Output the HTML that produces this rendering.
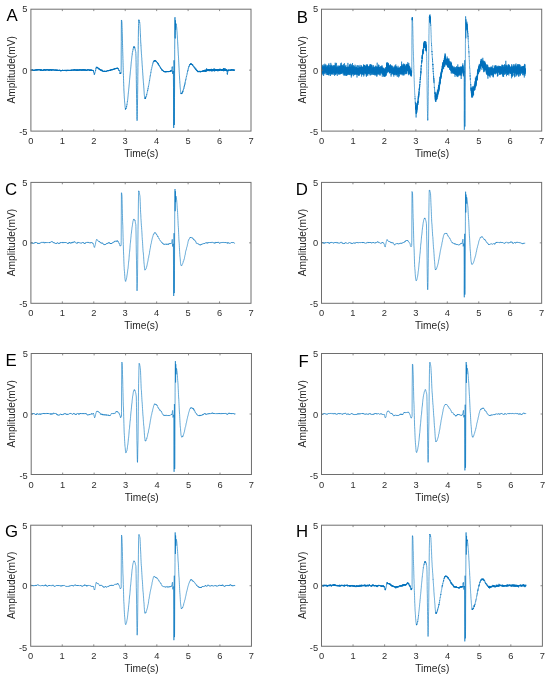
<!DOCTYPE html>
<html><head><meta charset="utf-8"><title>Figure</title>
<style>html,body{margin:0;padding:0;background:#fff}svg{display:block}text{font-family:"Liberation Sans",Arial,Helvetica,sans-serif}.tk{font-size:9.3px;fill:#2e2e2e}.lb{font-size:10.2px;fill:#262626}.pl{font-size:16.8px;fill:#000}.ax{fill:none;stroke:#6e6e6e;stroke-width:1}.tc{fill:none;stroke:#6e6e6e;stroke-width:0.8}.ln{fill:none;stroke:#0072BD;stroke-linejoin:round}</style></head><body>
<svg width="550" height="681" viewBox="0 0 550 681">
<rect width="550" height="681" fill="#fff"/>
<g id="panelA">
<polyline class="ln" stroke-width="0.7" points="30.9,70 31,69.8 31,69.9 31.1,70.4 31.1,69.8 31.2,69.9 31.2,70.2 31.3,69.9 31.3,69.9 31.4,70 31.4,70 31.5,69.9 31.5,70.2 31.6,70.1 31.6,70.1 31.7,69.9 31.7,70 31.8,70.1 31.8,70.2 31.9,70.1 31.9,70 32,70 32,69.7 32.1,69.8 32.1,70.7 32.2,70.6 32.2,70.1 32.3,70.1 32.3,69.9 32.4,69.9 32.4,69.5 32.5,70.3 32.5,70.1 32.6,69.5 32.6,69.9 32.7,69.9 32.7,70.2 32.8,70.5 32.8,70 32.9,70 32.9,70.4 33,70.2 33,70 33.1,70.3 33.1,70.1 33.2,70 33.2,70 33.3,70.2 33.3,69.9 33.4,69.9 33.4,70 33.5,70.3 33.5,69.9 33.6,70.3 33.7,69.9 33.7,70.4 33.8,69.9 33.8,70.2 33.9,70.5 33.9,70.3 34,70.2 34,70.1 34.1,70.5 34.1,70.5 34.2,70.1 34.2,70.3 34.3,70.1 34.3,70 34.4,70.6 34.4,70.1 34.5,69.8 34.5,70.2 34.6,70.3 34.6,69.9 34.7,70.1 34.7,69.9 34.8,70.2 34.8,70.5 34.9,70.1 34.9,70.2 35,69.9 35,70 35.1,70.5 35.1,70.4 35.2,69.8 35.2,69.8 35.3,70.1 35.3,70 35.4,69.9 35.4,69.8 35.5,69.7 35.5,69.9 35.6,70 35.6,70 35.7,69.7 35.7,70.5 35.8,70 35.8,69.9 35.9,70.4 35.9,69.9 36,70.2 36,69.7 36.1,70 36.1,69.7 36.2,69.6 36.2,69.8 36.3,70.1 36.4,70.3 36.4,69.5 36.5,70 36.5,70.1 36.6,69.9 36.6,70 36.7,69.7 36.7,69.9 36.8,69.9 36.8,70.1 36.9,69.8 36.9,70.2 37,69.8 37,69.5 37.1,70.3 37.1,70.6 37.2,69.7 37.2,69.2 37.3,70.1 37.3,70.2 37.4,69.7 37.4,70.1 37.5,70 37.5,69.9 37.6,69.7 37.6,69.9 37.7,69.7 37.7,69.9 37.8,70.1 37.8,70 37.9,70.2 37.9,69.9 38,70.2 38,70.2 38.1,69.5 38.1,69.9 38.2,69.9 38.2,69.7 38.3,69.9 38.3,69.9 38.4,69.7 38.4,69.7 38.5,70.1 38.5,69.6 38.6,69.9 38.6,70 38.7,70 38.7,69.9 38.8,69.3 38.8,70.1 38.9,69.8 39,70.3 39,69.8 39.1,69.6 39.1,69.9 39.2,70 39.2,69.8 39.3,69.7 39.3,69.7 39.4,69.3 39.4,69.8 39.5,70 39.5,69.9 39.6,69.9 39.6,69.8 39.7,69.9 39.7,69.8 39.8,70.3 39.8,69.7 39.9,70 39.9,70.2 40,69.7 40,69.5 40.1,69.8 40.1,69.9 40.2,70.2 40.2,69.2 40.3,69.7 40.3,70.3 40.4,70.2 40.4,70 40.5,70.4 40.5,70 40.6,70.1 40.6,69.7 40.7,69.7 40.7,70.7 40.8,70 40.8,70.4 40.9,69.6 40.9,69.9 41,69.8 41,70.2 41.1,69.5 41.1,69.4 41.2,70.2 41.2,69.9 41.3,70.1 41.3,70 41.4,70.4 41.4,69.5 41.5,70.3 41.5,70.1 41.6,69.9 41.7,70.2 41.7,70.1 41.8,70.2 41.8,70.1 41.9,70.4 41.9,70.2 42,70.1 42,70.1 42.1,70 42.1,70.1 42.2,69.8 42.2,70.1 42.3,70.1 42.3,70.3 42.4,70.2 42.4,70.5 42.5,70 42.5,70.4 42.6,70.3 42.6,70 42.7,70 42.7,70.2 42.8,70.6 42.8,70 42.9,70 42.9,70.4 43,69.9 43,70.3 43.1,70.4 43.1,70 43.2,70.1 43.2,70 43.3,70.4 43.3,69.5 43.4,70.2 43.4,70.4 43.5,69.8 43.5,70.1 43.6,69.9 43.6,70.1 43.7,70 43.7,69.9 43.8,70.1 43.8,69.7 43.9,70 43.9,70.1 44,69.8 44,69.7 44.1,69.9 44.1,70.1 44.2,69.7 44.2,70.3 44.3,70.1 44.4,69.8 44.4,70.2 44.5,69.8 44.5,69.8 44.6,69.6 44.6,70 44.7,70 44.7,69.7 44.8,70.5 44.8,69 44.9,70.1 44.9,70.1 45,69.7 45,69.9 45.1,70.4 45.1,69.8 45.2,69.7 45.2,70 45.3,70 45.3,69.8 45.4,70.2 45.4,69.9 45.5,70 45.5,70.3 45.6,70.5 45.6,70.2 45.7,70.3 45.7,69.8 45.8,70.1 45.8,69.9 45.9,70.1 45.9,70 46,70.3 46,69.9 46.1,69.6 46.1,70.2 46.2,70.2 46.2,70.1 46.3,70.2 46.3,70.2 46.4,70 46.4,70.1 46.5,69.5 46.5,69.9 46.6,69.8 46.6,69.7 46.6,70 46.7,69.5 46.7,70 46.8,70.1 46.8,70 46.9,69.9 46.9,70.2 47,69.8 47.1,70.3 47.1,69.4 47.2,69.8 47.2,69.9 47.3,70 47.3,69.9 47.4,69.9 47.4,70.1 47.5,70 47.5,69.8 47.6,69.9 47.6,69.5 47.7,69.5 47.7,69.8 47.8,69.7 47.8,70.1 47.9,69.6 47.9,69.8 48,69.7 48,69.4 48.1,70.5 48.1,69.8 48.2,70.2 48.2,69.8 48.3,70.3 48.3,70 48.4,69.9 48.4,69.8 48.5,70 48.5,70.2 48.6,70.1 48.6,69.8 48.7,70 48.7,70.5 48.8,69.8 48.8,69.9 48.9,69.8 48.9,70.1 49,69.8 49,70.3 49.1,69.8 49.1,70.1 49.2,69.8 49.2,69.8 49.3,70.2 49.3,70 49.4,70.1 49.4,69.8 49.5,69.9 49.5,70.4 49.6,69.9 49.6,69.8 49.7,69.4 49.8,70.5 49.8,70.2 49.9,69.7 49.9,70.4 50,70.3 50,69.9 50.1,69.7 50.1,70.1 50.2,69.8 50.2,70 50.3,69.6 50.3,70 50.4,69.7 50.4,70.2 50.5,70 50.5,70 50.6,69.6 50.6,69.8 50.7,70.1 50.7,69.7 50.8,69.8 50.8,70 50.9,70 50.9,70 51,70.4 51,69.9 51.1,69.9 51.1,70.2 51.2,69.7 51.2,70.3 51.3,70.2 51.3,70.1 51.4,69.5 51.4,70.5 51.5,69.9 51.5,69.8 51.6,69.9 51.6,69.7 51.7,70.3 51.7,70.6 51.8,69.8 51.8,70.3 51.9,70.1 51.9,70.3 52,69.7 52,69.7 52.1,70.1 52.1,69.7 52.2,69.9 52.2,70 52.3,69.9 52.4,70 52.4,69.8 52.5,69.9 52.5,70.1 52.6,69.7 52.6,70.2 52.7,70 52.7,69.9 52.8,69.7 52.8,70.2 52.9,69.6 52.9,70 53,70.1 53,70.2 53.1,69.8 53.1,69.9 53.2,70.2 53.2,70.3 53.3,70.1 53.3,70.2 53.4,69.7 53.4,69.7 53.5,69.8 53.5,69.9 53.6,70.1 53.6,70 53.7,69.8 53.7,69.5 53.8,69.9 53.8,70.3 53.9,70.2 53.9,70.3 54,70.4 54,70.2 54.1,70.1 54.1,69.7 54.2,70.2 54.2,69.8 54.3,69.7 54.3,70.1 54.4,69.7 54.4,69.9 54.5,70.2 54.5,70.1 54.6,70.1 54.6,70.2 54.7,70.1 54.7,70 54.8,70 54.8,70.4 54.9,70.1 54.9,70.5 55,70.1 55.1,70 55.1,70.1 55.2,70.1 55.2,70 55.3,70.4 55.3,70.3 55.4,70.1 55.4,69.9 55.5,70.1 55.5,69.5 55.6,70.2 55.6,69.9 55.7,69.8 55.7,70.1 55.8,70.3 55.8,70.4 55.9,70.1 55.9,69.8 56,70 56,70.1 56.1,70.2 56.1,70 56.2,70.8 56.2,70.1 56.3,70.2 56.3,70.6 56.4,69.6 56.4,70.6 56.5,70.5 56.5,70.6 56.6,69.9 56.6,70.4 56.7,70 56.7,70 56.8,70.1 56.8,70.5 56.9,70.3 56.9,69.7 57,70.5 57,70.4 57.1,70.3 57.1,70 57.2,70.1 57.2,70 57.3,70.5 57.3,70 57.4,70.1 57.4,70.7 57.5,69.9 57.5,69.7 57.6,70.5 57.6,70.3 57.7,69.9 57.8,70.8 57.8,70.8 57.9,70.6 57.9,70.5 58,70.5 58,70.2 58.1,70.3 58.1,70.7 58.2,70.2 58.2,69.9 58.3,70.1 58.3,70.2 58.4,70.4 58.4,70.2 58.5,70.6 58.5,70.2 58.6,70.4 58.6,70.1 58.7,70.2 58.7,70.6 58.8,70.3 58.8,70 58.9,70.6 58.9,70.4 59,70.5 59,70.7 59.1,70.1 59.1,69.9 59.2,70 59.2,70.1 59.3,70.2 59.3,70.2 59.4,70.4 59.4,69.9 59.5,70 59.5,70 59.6,70.3 59.6,70.2 59.7,70.3 59.7,69.8 59.8,70.3 59.8,70.8 59.9,70.2 59.9,69.8 60,70.1 60,70.1 60.1,70.4 60.1,70.9 60.2,70.9 60.2,70.7 60.3,70.4 60.3,70.4 60.4,70.2 60.5,70.5 60.5,70.2 60.6,70.5 60.6,70.6 60.7,70.2 60.7,70.7 60.8,71.2 60.8,70.8 60.9,70.5 60.9,71.4 61,70.7 61,70.7 61.1,71 61.1,71 61.2,70.7 61.2,70.7 61.3,70.2 61.3,70.5 61.4,71 61.4,70.8 61.5,70.4 61.5,70.1 61.6,70.5 61.6,70.5 61.7,70.1 61.7,70.6 61.8,70.7 61.8,70.9 61.9,70.7 61.9,70 62,71 62,70.5 62.1,70.9 62.1,70.5 62.2,70.3 62.2,70.6 62.3,70.4 62.3,70.3 62.3,70.3 62.4,70 62.4,70.3 62.5,70.5 62.5,70.6 62.6,70.6 62.6,70.3 62.7,70.5 62.7,69.7 62.8,70 62.8,70.5 62.9,70.5 62.9,69.9 63,70.9 63,70.5 63.1,70.2 63.2,70.6 63.2,70.5 63.3,70.5 63.3,70.2 63.4,70.3 63.4,70.3 63.5,70.2 63.5,70.4 63.6,70.1 63.6,70.5 63.7,70.8 63.7,70.8 63.8,70.8 63.8,70.5 63.9,70.1 63.9,70.3 64,70.5 64,70.7 64.1,70.6 64.1,70.5 64.2,70.6 64.2,70.8 64.3,70.6 64.3,70.1 64.4,71 64.4,70.5 64.5,70.9 64.5,70.3 64.6,70.6 64.6,70.9 64.7,70.3 64.7,69.8 64.8,70.3 64.8,70 64.9,70.4 64.9,70.9 65,70.2 65,70.4 65.1,70.7 65.1,70.1 65.2,70.2 65.2,70.5 65.3,70.1 65.3,70.6 65.4,70.2 65.4,70.6 65.5,70.2 65.5,70.6 65.6,69.9 65.6,70.2 65.7,69.9 65.7,70.5 65.8,70.4 65.9,70.1 65.9,71.1 66,70.6 66,70 66.1,70.2 66.1,70 66.2,70.4 66.2,70.2 66.3,70.5 66.3,70.7 66.4,70.8 66.4,70.5 66.5,70.5 66.5,70.5 66.6,71.2 66.6,70.8 66.7,70.5 66.7,70.3 66.8,70.5 66.8,70.6 66.9,71 66.9,69.8 67,70.6 67,69.9 67.1,69.9 67.1,70.3 67.2,70.5 67.2,70.3 67.3,70.7 67.3,70.3 67.4,70.4 67.4,70.3 67.5,70.1 67.5,69.9 67.6,70.5 67.6,70.1 67.7,70.6 67.7,70.6 67.8,70.5 67.8,70.6 67.9,70 67.9,70 68,69.9 68,70.3 68.1,70.1 68.1,70.4 68.2,70.5 68.2,70.1 68.3,70.2 68.3,70.5 68.4,70.1 68.5,70.7 68.5,70.3 68.6,70.4 68.6,70.4 68.7,70.5 68.7,70 68.8,70.1 68.8,69.9 68.9,70.2 68.9,70.6 69,70.3 69,70.5 69.1,70.1 69.1,69.9 69.2,70.2 69.2,70.4 69.3,70.3 69.3,70.2 69.4,70.6 69.4,70.2 69.5,70.2 69.5,70.4 69.6,70.4 69.6,70.3 69.7,70.5 69.7,70.5 69.8,70.1 69.8,70.3 69.9,69.9 69.9,70.6 70,70.8 70,70.1 70.1,70.1 70.1,70.5 70.2,70.7 70.2,70.4 70.3,70.8 70.3,70.4 70.4,70.9 70.4,70.4 70.5,70.9 70.5,70.4 70.6,69.9 70.6,70.4 70.7,70.1 70.7,70.5 70.8,70.6 70.8,70.7 70.9,70 70.9,70.3 71,69.8 71,70.6 71.1,70.3 71.2,70.3 71.2,69.9 71.3,69.7 71.3,70.4 71.4,70.5 71.4,70.7 71.5,69.9 71.5,70.2 71.6,70.4 71.6,70.2 71.7,70.9 71.7,70.7 71.8,70 71.8,70.1 71.9,70.1 71.9,70.4 72,70 72,69.6 72.1,70.4 72.1,70 72.2,70.2 72.2,69.9 72.3,70 72.3,70.1 72.4,70.2 72.4,70 72.5,70.1 72.5,70.1 72.6,70 72.6,69.9 72.7,70.2 72.7,70.1 72.8,69.8 72.8,70.1 72.9,70.1 72.9,69.8 73,70 73,70.1 73.1,70.1 73.1,70.4 73.2,69.9 73.2,69.7 73.3,69.9 73.3,70.4 73.4,69.9 73.4,70.2 73.5,70 73.5,69.9 73.6,70.3 73.6,69.6 73.7,70 73.7,69.8 73.8,69.9 73.9,69.8 73.9,69.8 74,70.5 74,70.1 74.1,70.7 74.1,70.2 74.2,69.9 74.2,69.8 74.3,69.8 74.3,70.2 74.4,70 74.4,70 74.5,69.7 74.5,69.6 74.6,70.2 74.6,69.1 74.7,70.1 74.7,70.1 74.8,69.9 74.8,69.9 74.9,69.9 74.9,70.2 75,69.7 75,70.1 75.1,69.7 75.1,69.8 75.2,70.5 75.2,70.4 75.3,70.4 75.3,70.1 75.4,70.1 75.4,70.1 75.5,70.3 75.5,70 75.6,69.7 75.6,70.4 75.7,70.2 75.7,70 75.8,70.2 75.8,70.2 75.9,69.7 75.9,69.8 76,69.9 76,70.4 76.1,69.6 76.1,70 76.2,70.3 76.2,70.2 76.3,70.3 76.3,69.5 76.4,70.1 76.4,70.1 76.5,70.7 76.6,69.9 76.6,70.4 76.7,70.5 76.7,70 76.8,70.4 76.8,69.9 76.9,69.8 76.9,70.6 77,70.1 77,70.5 77.1,70.1 77.1,69.8 77.2,70.5 77.2,69.6 77.3,70.2 77.3,70.5 77.4,70.2 77.4,69.9 77.5,70.5 77.5,70.1 77.6,70.5 77.6,69.8 77.7,70 77.7,70.2 77.8,69.7 77.8,70.4 77.9,70.2 77.9,69.6 78,70.1 78,69.7 78.1,70 78.1,70.2 78.1,70.1 78.2,70.1 78.2,70.2 78.3,70.2 78.3,70.2 78.4,70.4 78.4,70 78.5,69.9 78.5,69.8 78.6,70.5 78.6,69.8 78.7,70.1 78.7,70.5 78.8,70 78.8,69.8 78.9,69.9 78.9,69.8 79,69.7 79,69.7 79.1,69.9 79.1,70.5 79.2,70.1 79.3,69.8 79.3,70.1 79.4,69.7 79.4,69.7 79.5,69.9 79.5,69.4 79.6,70.2 79.6,69.7 79.7,70.1 79.7,70.2 79.8,69.8 79.8,70.2 79.9,69.8 79.9,70.3 80,70 80,70.2 80.1,70 80.1,70 80.2,70.3 80.2,69.8 80.3,70.3 80.3,70.2 80.4,69.7 80.4,69.7 80.5,69.8 80.5,69.9 80.6,69.4 80.6,70.3 80.7,70.2 80.7,70.3 80.8,69.7 80.8,69.9 80.9,69.7 80.9,69.8 81,70.1 81,70.2 81.1,70.3 81.1,69.4 81.2,69.8 81.2,69.8 81.3,70.1 81.3,70 81.4,70 81.4,70.1 81.5,70.6 81.5,69.9 81.6,70 81.6,69.9 81.7,69.9 81.7,69.7 81.8,70 81.9,69.8 81.9,70.7 82,70.3 82,69.5 82.1,70.3 82.1,70.1 82.2,69.8 82.2,70.2 82.3,69.7 82.3,70.3 82.4,70.5 82.4,70.4 82.5,70.5 82.5,70 82.6,70.1 82.6,69.9 82.7,70.3 82.7,69.3 82.8,70 82.8,70 82.9,69.9 82.9,70 83,70.1 83,69.9 83.1,69.7 83.1,69.7 83.2,69.6 83.2,70 83.3,70.1 83.3,69.3 83.4,70 83.4,69.8 83.5,69.7 83.5,69.5 83.6,70.3 83.6,70 83.7,70 83.7,70 83.8,70.5 83.8,69.9 83.9,70.7 83.9,69.9 84,69.8 84,69.7 84.1,70.2 84.1,69.5 84.2,70.1 84.2,70.1 84.3,70.1 84.3,70 84.4,69.8 84.4,69.6 84.5,70.4 84.6,70 84.6,69.7 84.7,69.9 84.7,69.8 84.8,70.3 84.8,69.7 84.9,70.4 84.9,69.9 85,69.7 85,69.5 85.1,69.9 85.1,69.8 85.2,70.2 85.2,70.1 85.3,69.7 85.3,70 85.4,70.1 85.4,70.4 85.5,70.1 85.5,69.9 85.6,70.3 85.6,70.2 85.7,69.6 85.7,70.1 85.8,70.2 85.8,70.4 85.9,70.3 85.9,70.2 86,69.8 86,70.3 86.1,69.7 86.1,70.5 86.2,70.3 86.2,70 86.3,70.3 86.3,70.4 86.4,70.2 86.4,70.1 86.5,70.7 86.5,70.3 86.6,70.2 86.6,70.3 86.7,70 86.7,70.3 86.8,70.3 86.8,70.2 86.9,70 86.9,70.3 87,69.8 87,70.4 87.1,69.8 87.1,70.3 87.2,70.1 87.3,70 87.3,69.6 87.4,69.9 87.4,70.2 87.5,69.7 87.5,70.1 87.6,70.3 87.6,69.9 87.7,69.9 87.7,69.7 87.8,70.1 87.8,69.9 87.9,69.7 87.9,69.9 88,69.9 88,70.2 88.1,69.7 88.1,69.9 88.2,69.8 88.2,70 88.3,70 88.3,70.2 88.4,69.9 88.4,69.7 88.5,69.9 88.5,69.6 88.6,69.7 88.6,69.5 88.7,70 88.7,70.3 88.8,69.8 88.8,70 88.9,70.2 88.9,69.8 89,69.9 89,69.8 89.1,70.1 89.1,70 89.2,70 89.2,69.6 89.3,70.3 89.3,70.2 89.4,70.1 89.4,70.6 89.5,70.6 89.5,69.6 89.6,70.6 89.6,70 89.7,70.4 89.7,70.4 89.8,70.7 89.8,70.5 89.9,70 90,70.6 90,70.1 90.1,70.1 90.1,69.7 90.2,70.4 90.2,70 90.3,70.1 90.3,70.4 90.4,70.7 90.4,69.8 90.5,70.6 90.5,70.3 90.6,70 90.6,69.9 90.6,70.4 90.7,70.2 90.7,70.3 90.8,69.8 90.8,69.5 90.9,70.6 90.9,69.9 91,70.9 91,70.1 91.1,70.4 91.1,69.6 91.2,70.1 91.2,70.4 91.3,70.3 91.3,70.3 91.4,70.1 91.4,70.2 91.5,69.9 91.5,69.7 91.6,69.9 91.6,70.5 91.7,70.6 91.7,70.4 91.8,69.9 91.8,70.2 91.9,70.3 91.9,70.1 92,70.6 92,70.5 92.1,70.1 92.1,70.3 92.2,70.3 92.2,70.2 92.3,70.4 92.3,70.4 92.4,70.4 92.4,70.1 92.5,70.3 92.5,70.7 92.6,70.4 92.7,70.2 92.7,69.9 92.8,70.8 92.8,70.4 92.9,70.6 92.9,70.2 93,70.4 93,70.1 93.1,70.4 93.1,70.7 93.2,70.7 93.2,70.5 93.2,70.5 93.3,70.1 93.3,70.4 93.4,71.2 93.4,70.9 93.5,71.5 93.5,71.8 93.6,71.4 93.6,71.6 93.7,72.2 93.7,71.8 93.8,72.6 93.8,72.9 93.9,72.7 93.9,72.9 94,73.2 94,73.4 94.1,73.5 94.1,73.7 94.2,73.9 94.2,74.5 94.3,74.4 94.3,74 94.4,74.3 94.4,74 94.4,73.8 94.5,74.3 94.5,74 94.6,73.5 94.6,73.8 94.7,73.3 94.7,73.3 94.8,73.4 94.8,73.4 94.9,73.4 94.9,73.3 95,72.7 95,72.6 95.1,72.5 95.1,72.1 95.2,72.1 95.3,71.5 95.3,71.5 95.4,71.2 95.4,71 95.5,70.8 95.5,70 95.6,70.6 95.6,70 95.7,69.5 95.7,69.4 95.8,69.3 95.8,68.7 95.9,69.1 95.9,68.9 96,68.3 96,68.6 96.1,68.6 96.1,67.7 96.2,67.5 96.2,67.4 96.3,67.6 96.3,67.4 96.4,67.6 96.4,66.9 96.5,67.1 96.5,67.2 96.5,67.9 96.6,67.1 96.6,66.9 96.7,67 96.7,67.1 96.8,67.3 96.8,67.4 96.9,67.2 96.9,67.3 97,67.3 97,67.5 97.1,66.9 97.1,67.7 97.2,67.4 97.2,67.5 97.3,67.1 97.3,67.1 97.4,67.1 97.4,67.3 97.5,67.9 97.5,67 97.6,67.5 97.6,67.7 97.7,67.7 97.7,67.9 97.8,67.8 97.8,67.8 97.9,68.1 98,68.7 98,68 98.1,67.9 98.1,67.9 98.2,68.1 98.2,68 98.3,67.9 98.3,68.4 98.4,67.9 98.4,68.9 98.5,68.7 98.5,68.7 98.6,69.1 98.6,68.8 98.7,68.2 98.7,68.3 98.8,68.7 98.8,68.3 98.9,68.7 98.9,69 99,68.8 99,69 99.1,68.7 99.1,69.4 99.2,68.8 99.2,69.2 99.3,68.9 99.3,69.7 99.4,69.4 99.4,69.2 99.5,69 99.5,69.6 99.6,68.9 99.6,69.3 99.7,69.6 99.7,69.2 99.8,69.5 99.8,69.3 99.9,69 99.9,69.5 100,69.8 100,69.8 100.1,69.5 100.1,69.6 100.1,69.9 100.2,69.9 100.2,69.6 100.3,69.2 100.3,70.5 100.4,69.7 100.4,69.9 100.5,69.7 100.5,69.7 100.6,69.9 100.7,70.2 100.7,70.3 100.8,70.5 100.8,69.6 100.9,70 100.9,70.1 101,70 101,70.3 101.1,69.9 101.1,69.7 101.2,69.8 101.2,70.6 101.3,69.8 101.3,70.4 101.4,70.8 101.4,70.6 101.5,70.5 101.5,70.3 101.6,70.6 101.6,70.7 101.7,70.5 101.7,69.9 101.8,70.6 101.8,70.4 101.9,70.5 101.9,69.8 102,71.1 102,70.3 102.1,71 102.1,70.8 102.2,70.7 102.2,69.9 102.3,71 102.3,71.3 102.4,70.6 102.4,71.2 102.5,71 102.5,71 102.6,71 102.6,71.1 102.7,71 102.7,71 102.8,70.8 102.8,71.2 102.9,71.3 102.9,71.4 103,71 103,71.2 103.1,71 103.1,71.1 103.2,70.8 103.2,71.2 103.3,71.1 103.4,71.6 103.4,71.6 103.5,71.4 103.5,71.7 103.6,71.1 103.6,71.7 103.7,71.4 103.7,72 103.8,71.7 103.8,71.4 103.9,71.4 103.9,71.8 104,71.3 104,71.1 104.1,71.2 104.1,71.5 104.2,71.5 104.2,71.7 104.3,71.2 104.3,70.9 104.4,71.4 104.4,71.8 104.5,71.2 104.5,71.1 104.5,72 104.6,71.2 104.6,70.7 104.7,71 104.7,71.1 104.8,71.1 104.8,71 104.9,71.5 104.9,71.4 105,71.1 105,71.4 105.1,71.1 105.1,71.8 105.2,71.1 105.2,71 105.3,71.2 105.3,71.2 105.4,70.8 105.4,71.5 105.5,71.5 105.5,71.5 105.6,71.4 105.6,71.6 105.7,71.2 105.7,71.5 105.8,71.6 105.8,71.6 105.9,71 105.9,71.3 106,71.3 106.1,71.3 106.1,71.3 106.2,71.1 106.2,71.1 106.3,71.5 106.3,71.5 106.4,71.6 106.4,71.6 106.5,70.9 106.5,71.4 106.6,71.8 106.6,71.4 106.7,71.4 106.7,71.1 106.8,71.4 106.8,71 106.9,70.9 106.9,70.7 107,70.5 107,70.3 107.1,70.8 107.1,71.4 107.2,71.1 107.2,71 107.3,70.5 107.3,70.8 107.4,70.7 107.4,71 107.5,70.9 107.5,70.8 107.6,71 107.6,70.7 107.7,70.6 107.7,70.9 107.8,70.6 107.8,70.5 107.9,70.9 107.9,70.9 108,71 108,71.1 108.1,70.9 108.1,71 108.2,71 108.2,71 108.3,71.2 108.3,71.1 108.4,70.7 108.4,71.1 108.5,71 108.5,70.3 108.6,70.4 108.6,70.8 108.7,70.5 108.8,70.8 108.8,70.2 108.9,70.8 108.9,70.6 109,70.3 109,70.9 109.1,70.3 109.1,70.9 109.2,70.6 109.2,70.7 109.3,70.7 109.3,70.6 109.4,70.6 109.4,70.8 109.5,70.3 109.5,70.3 109.6,70.2 109.6,70.1 109.7,70.8 109.7,70.1 109.8,70 109.8,70.5 109.9,70 109.9,69.9 110,70.5 110,70.7 110.1,70.4 110.1,69.6 110.2,70.2 110.2,70.6 110.3,70.3 110.3,70.5 110.4,70.3 110.4,70.2 110.5,70.8 110.5,70 110.6,69.7 110.6,70.1 110.7,70.2 110.7,69.8 110.8,70.4 110.8,70.3 110.9,70.4 110.9,70 111,69.8 111,70 111.1,69.8 111.1,69.7 111.1,69.8 111.2,70.1 111.2,70 111.3,69.6 111.4,70.1 111.4,69.9 111.5,70 111.5,69.9 111.6,70.1 111.6,70.2 111.7,69.1 111.7,69.5 111.8,69.9 111.8,69.7 111.9,69.6 111.9,69.8 112,69.6 112,70 112.1,69.9 112.1,69.7 112.2,69.8 112.2,70.3 112.3,69.7 112.3,69.6 112.4,69.5 112.4,69.9 112.5,69.5 112.5,69.5 112.6,70 112.6,70.1 112.7,69.4 112.7,69.8 112.8,69.2 112.8,68.9 112.9,69.6 112.9,69.7 113,69.5 113,69.3 113.1,69.8 113.1,69.1 113.2,69.2 113.2,69.3 113.3,69.6 113.3,69.2 113.4,69.1 113.4,69.7 113.5,68.8 113.5,69.5 113.6,69.2 113.6,69.4 113.7,69.2 113.7,68.9 113.8,69.4 113.8,69.6 113.9,69.3 113.9,69.5 114,69.4 114.1,69.1 114.1,69.1 114.2,68.7 114.2,69.3 114.3,68.9 114.3,69.2 114.4,68.7 114.4,68.4 114.5,68.9 114.5,68.5 114.6,69.1 114.6,69.3 114.7,69.2 114.7,69.3 114.8,69.1 114.8,68.9 114.9,68.5 114.9,68.6 115,68.8 115,69 115.1,69 115.1,68.8 115.2,68.8 115.2,68.7 115.3,68.7 115.3,68.8 115.4,69.2 115.4,69 115.5,68.9 115.5,68.2 115.6,68.7 115.6,68.4 115.7,68.2 115.7,68.5 115.8,68.8 115.8,68.7 115.9,68.9 115.9,68.5 116,68.3 116,68.4 116.1,68.3 116.1,68.3 116.2,67.9 116.2,68.6 116.3,68.4 116.3,68.2 116.4,68.1 116.4,69 116.5,68.5 116.5,68.4 116.6,68.6 116.6,68 116.7,68.2 116.8,68.4 116.8,68.7 116.9,68.5 116.9,68.5 117,68 117,68.5 117.1,68.7 117.1,68.5 117.2,68.3 117.2,67.7 117.2,67.5 117.3,68.3 117.3,67.9 117.4,67.8 117.4,67.8 117.5,68.2 117.5,68.5 117.6,68.3 117.6,68.8 117.7,68.3 117.7,68.2 117.8,68.9 117.8,68.5 117.9,68.5 117.9,68.2 118,68.3 118,68.5 118.1,69 118.1,69 118.2,68.6 118.2,69.2 118.3,69.1 118.3,68.7 118.4,69.1 118.4,69.6 118.5,69.4 118.5,69.3 118.6,69.5 118.6,69.3 118.7,69.4 118.7,70 118.8,70.1 118.8,70 118.9,70.4 118.9,70 119,70.3 119,70.1 119.1,70.5 119.1,70.7 119.2,70.1 119.2,70.9 119.3,70.8 119.3,70.9 119.3,70.9 119.4,71.2 119.5,71.2 119.5,71.5 119.6,71.6 119.6,71.6 119.7,71.7 119.7,72 119.8,72.5 119.8,72.4 119.9,72.7 119.9,72.9 120,73.5 120,73 120.1,73.3 120.1,72.9 120.2,73.2 120.2,73.7 120.2,73.7 120.3,73.1 120.3,73.6 120.4,73.2 120.4,73.4 120.5,72.8 120.5,73.4 120.6,72.9 120.6,73 120.7,73.5 120.7,73.4 120.8,72.9 120.8,73.2 120.9,73.4 120.9,72.7 121,72.6 121,72.8 121.1,72.6 121.1,72.6 121.1,71.8 121.2,65.1 121.2,54.1 121.3,41.5 121.3,29.9 121.4,21.9 121.4,20 121.4,20 121.5,20.1 121.5,20.2 121.6,20.3 121.6,20.3 121.7,20.4 121.7,20.7 121.8,21.1 121.8,21.2 121.8,21.4 121.9,21.9 121.9,23 122,24.2 122,25.8 122.1,27.6 122.2,29.6 122.2,31.6 122.3,33.8 122.3,36 122.4,38.1 122.4,40.1 122.5,42 122.5,42.2 122.5,43.8 122.6,45.6 122.6,47.4 122.7,49.3 122.7,51.2 122.8,53.1 122.8,55 122.9,56.9 122.9,58.7 123,60.6 123,62.4 123.1,64.1 123.1,65.8 123.2,67.6 123.2,69 123.2,69.2 123.3,70.8 123.3,72.4 123.4,73.9 123.4,75.5 123.5,77.1 123.5,78.7 123.6,80.3 123.6,81.8 123.7,83.3 123.7,84.8 123.8,86.2 123.8,87.5 123.9,88.9 123.9,90.1 124,91.2 124,92.2 124.1,93.3 124.1,94.1 124.2,94.5 124.2,95.1 124.2,95.8 124.3,96.6 124.3,97.3 124.4,98.2 124.4,99 124.5,99.7 124.5,100.5 124.6,101.1 124.6,101.9 124.7,102.6 124.8,103.4 124.8,103.9 124.9,104.3 124.9,105.1 125,105.7 125,106.2 125.1,106.8 125.1,107.1 125.2,107.7 125.2,107.9 125.3,108.3 125.3,108.7 125.4,108.6 125.4,109.3 125.5,109 125.5,109.4 125.5,108.6 125.6,108.6 125.6,108.9 125.7,108.6 125.7,108.9 125.8,108.8 125.8,109 125.9,109 125.9,108.7 126,108.7 126,108.6 126.1,108.1 126.1,108.2 126.2,108.4 126.2,108 126.3,107.9 126.3,107.6 126.4,107.6 126.4,106.9 126.5,106.5 126.5,107 126.6,106.4 126.6,106.2 126.7,106.3 126.7,105.8 126.8,105.3 126.8,105.1 126.9,104.6 126.9,104.9 127,104.5 127,104 127.1,103.6 127.1,103.4 127.2,103.2 127.2,102.8 127.3,102.4 127.3,101.9 127.4,102 127.5,100.9 127.5,100.8 127.6,100.6 127.6,99.8 127.7,99.7 127.7,99 127.8,98.7 127.8,98.1 127.9,97.6 127.9,97.1 128,96.9 128,96.3 128.1,95.8 128.1,95.6 128.2,94.8 128.2,94.4 128.3,94.1 128.3,93.2 128.4,92.7 128.4,92.6 128.5,91.9 128.5,91.3 128.6,90.9 128.6,90.6 128.7,90.1 128.7,89.4 128.8,88.9 128.8,88.3 128.9,87.8 128.9,87.2 129,86.7 129,86.2 129.1,85.3 129.1,85.1 129.2,84.5 129.2,84 129.3,83.5 129.3,83.1 129.4,82.4 129.4,81.9 129.5,81.2 129.5,80.5 129.6,80.2 129.6,79.6 129.7,79.3 129.7,78.6 129.8,77.9 129.8,77.5 129.9,77 129.9,76.3 130,75.8 130,75.3 130.1,74.7 130.2,73.9 130.2,73.7 130.3,73 130.3,72.5 130.4,71.7 130.4,71.4 130.5,70.6 130.5,70.2 130.6,69.7 130.6,69.3 130.7,68.4 130.7,68 130.8,67.4 130.8,67 130.9,66.5 130.9,66.1 131,65.3 131,64.8 131.1,64.4 131.1,63.9 131.2,63.3 131.2,62.8 131.3,62.1 131.3,61.7 131.4,61.5 131.4,61.1 131.5,60.5 131.5,60.1 131.6,59.5 131.6,59.1 131.7,58.6 131.7,58.2 131.8,57.8 131.8,57.3 131.9,57.1 131.9,56.5 132,56 132,55.7 132.1,55.5 132.1,55.1 132.2,54.8 132.2,53.9 132.3,54.1 132.3,53.6 132.4,52.9 132.4,52.7 132.5,52.3 132.5,52.3 132.6,51.7 132.6,51 132.7,51.2 132.7,50.9 132.8,50.7 132.9,50.4 132.9,50.1 133,49.6 133,49.8 133.1,49.7 133.1,49.1 133.2,48.9 133.2,48.4 133.3,48.3 133.3,48.4 133.4,47.9 133.4,47.6 133.5,47.7 133.5,47.7 133.6,47.3 133.6,47.4 133.7,47.7 133.7,46.8 133.8,47.3 133.8,47 133.9,47 133.9,46.9 134,46.9 134,47.2 134,46.6 134.1,46.7 134.1,46.8 134.2,46.5 134.2,46.6 134.3,46.6 134.3,46.5 134.4,46.9 134.4,47.5 134.5,47.1 134.5,47.2 134.6,47.3 134.6,47.5 134.7,47.8 134.7,47.4 134.8,47.6 134.8,48.2 134.9,48 134.9,48.3 135,48.5 135,48.5 135.1,48.9 135.1,49.2 135.2,49.3 135.2,49.9 135.3,49.8 135.3,50.1 135.4,50.6 135.4,50.5 135.5,50.7 135.6,51.2 135.6,51.3 135.7,51.4 135.7,51.7 135.8,52.2 135.8,52.1 135.8,52.6 135.9,53.6 135.9,55.1 136,57.1 136,59.5 136.1,62.1 136.1,65.1 136.2,68.4 136.2,71.9 136.3,75.6 136.3,79.3 136.4,83.2 136.4,87.1 136.5,91 136.5,94.8 136.6,98.6 136.6,102.1 136.7,105.5 136.7,108.6 136.8,111.5 136.8,114.1 136.9,116.3 136.9,118.1 137,119.5 137,120.4 137.1,120.6 137.1,120.7 137.1,120.2 137.2,119.6 137.2,118.2 137.3,116.5 137.3,114.3 137.4,111.7 137.4,108.8 137.5,105.6 137.5,102 137.6,98.2 137.6,94.2 137.7,90 137.7,85.6 137.8,81.1 137.8,76.6 137.9,72 137.9,67.4 138,62.8 138,58.3 138.1,53.9 138.2,49.5 138.2,45.3 138.3,41.3 138.3,37.6 138.4,34.1 138.4,31 138.5,28.1 138.5,25.6 138.6,23.5 138.6,21.8 138.7,20.7 138.7,20 138.7,19.8 138.8,19.8 138.8,19.8 138.9,20.3 138.9,20 139,19.9 139,19.9 139.1,20.1 139.1,20.4 139.2,20.8 139.2,20.9 139.3,20.7 139.3,21.2 139.4,21.1 139.4,21.3 139.5,22.1 139.5,22 139.6,22.4 139.6,22.1 139.7,22.6 139.7,23.2 139.8,23.3 139.8,23.6 139.8,23.8 139.9,24.3 139.9,24.9 140,25.5 140,26.4 140.1,27.4 140.1,28.2 140.2,29.2 140.2,30.3 140.3,31.3 140.3,32.5 140.4,33.7 140.4,34.9 140.5,36.1 140.5,37.3 140.6,38.4 140.6,39.7 140.7,40.8 140.7,41.9 140.8,43 140.9,44.2 140.9,45.1 140.9,46 141,45.9 141,46.8 141.1,47.7 141.1,48.5 141.2,49.5 141.2,50.2 141.3,51 141.3,51.8 141.4,52.7 141.4,53.5 141.5,54.1 141.5,54.9 141.6,55.5 141.6,56.4 141.7,57.3 141.7,57.8 141.8,58.5 141.8,59.4 141.9,60.2 141.9,60.7 142,61.6 142,62.3 142.1,63.3 142.1,63.8 142.1,64.3 142.2,64.6 142.2,65.2 142.3,66.2 142.3,67 142.4,67.6 142.4,68.2 142.5,68.9 142.5,69.9 142.6,70.5 142.6,71.3 142.7,72.1 142.7,72.8 142.8,73.7 142.8,74.3 142.9,75 142.9,75.6 143,76.4 143,77.4 143.1,78 143.1,78.6 143.2,79.3 143.2,80.1 143.3,80.7 143.3,81.3 143.4,81.6 143.4,82 143.4,82.6 143.5,83.2 143.6,83.9 143.6,84.9 143.7,85.6 143.7,86.2 143.8,86.9 143.8,87.7 143.9,88.4 143.9,89.2 144,89.8 144,90.5 144.1,91.3 144.1,92.1 144.2,92.7 144.2,93.5 144.3,94.2 144.3,94.7 144.4,95.2 144.4,95.8 144.5,96.4 144.5,96.7 144.6,97 144.6,97.4 144.7,97.9 144.7,98 144.8,98.3 144.8,98.4 144.9,98.4 144.9,98.1 144.9,97.9 145,98 145,98.2 145.1,98.4 145.1,98.4 145.2,98.3 145.2,97.9 145.3,98.9 145.3,98.1 145.4,98.6 145.4,98 145.5,97.6 145.5,98.2 145.6,98.4 145.6,97.3 145.7,97.2 145.7,97.3 145.8,97 145.8,97.4 145.9,96.8 145.9,96.5 146,96.7 146,96.6 146.1,96.2 146.1,96.1 146.2,96.4 146.3,95.7 146.3,95.7 146.4,95.7 146.4,95.2 146.5,95.1 146.5,95 146.6,95.1 146.6,94.6 146.7,94.9 146.7,94.5 146.8,94.7 146.8,94.5 146.9,93.8 146.9,93.7 147,93.5 147,93.1 147.1,93 147.1,93 147.2,92.6 147.2,92.3 147.3,92.2 147.3,91.9 147.4,91.8 147.4,91.6 147.5,91.3 147.5,91 147.6,90.3 147.6,90.7 147.7,90.2 147.7,90.4 147.8,89.6 147.8,89.7 147.9,89.4 147.9,88.9 148,88.7 148,89 148.1,88.3 148.1,88.2 148.2,87.7 148.2,87.6 148.3,87.2 148.3,87.1 148.4,86.8 148.4,86.3 148.5,86.6 148.5,86.1 148.6,86 148.6,85.5 148.7,85.3 148.7,85 148.8,84.8 148.8,84.5 148.9,84.4 149,83.8 149,83.5 149.1,83.3 149.1,83 149.2,82.7 149.2,82 149.3,81.9 149.3,81.6 149.4,81.5 149.4,81.2 149.5,80.9 149.5,80.2 149.6,80.5 149.6,79.8 149.7,79.5 149.7,79.3 149.8,79.3 149.8,78.9 149.9,78.2 149.9,78.2 150,77.6 150,77.4 150.1,77.1 150.1,76.7 150.2,76.8 150.2,76.3 150.3,75.8 150.3,75.9 150.4,75 150.4,75.1 150.5,74.7 150.5,74.6 150.6,74 150.6,74 150.7,73.6 150.7,73.4 150.8,72.7 150.8,73 150.9,72.3 150.9,72.1 151,71.7 151,71.7 151.1,71 151.1,70.7 151.2,70.6 151.2,70.4 151.3,70.2 151.3,69.7 151.4,69.8 151.4,69.3 151.5,69.1 151.5,69.2 151.6,69.2 151.7,68.4 151.7,68.1 151.8,67.5 151.8,67.6 151.9,67.4 151.9,67.4 152,66.9 152,66.8 152.1,66.7 152.1,66.3 152.2,65.8 152.2,65.8 152.3,65.9 152.3,65.4 152.4,65.5 152.4,65.4 152.5,64.8 152.5,64.8 152.6,64.2 152.6,64.2 152.7,64.3 152.7,63.9 152.8,63.5 152.8,63.7 152.9,63.7 152.9,63.4 153,63.4 153,63.3 153.1,63.1 153.1,62.6 153.2,62.2 153.2,62.5 153.3,62.1 153.3,61.9 153.4,61.6 153.4,61.9 153.5,61.9 153.5,61.6 153.6,61.6 153.6,61.4 153.7,61.1 153.7,61.4 153.8,61.2 153.8,61.5 153.9,61.1 153.9,61.2 154,61.2 154,61 154.1,61 154.1,60.7 154.2,60.6 154.3,61.1 154.3,60.4 154.4,61.3 154.4,60.6 154.5,60.4 154.5,60.8 154.5,60.7 154.6,60.8 154.6,60.4 154.7,61.5 154.7,60.9 154.8,61.2 154.8,60.6 154.9,60.3 154.9,60.3 155,60.5 155,60.6 155.1,60.9 155.1,60.3 155.2,60.5 155.2,60.9 155.3,61 155.3,60.9 155.4,60.4 155.4,60.4 155.5,60.3 155.5,61 155.6,60.9 155.6,60.5 155.7,60.8 155.7,60.7 155.8,61.3 155.8,61.1 155.9,61.1 155.9,61.3 156,61.4 156,61.7 156.1,60.9 156.1,61.4 156.2,61.8 156.2,61.2 156.3,61.5 156.3,61.4 156.4,61.7 156.4,61.9 156.5,61.9 156.5,61.7 156.6,61.7 156.6,61.8 156.7,61.9 156.7,61.8 156.8,62.1 156.8,62 156.9,62 157,62.3 157,62.5 157.1,62.7 157.1,63 157.2,63.1 157.2,62.4 157.3,62.8 157.3,63 157.4,62.5 157.4,62.7 157.5,63 157.5,62.9 157.6,63.2 157.6,63.1 157.7,62.8 157.7,63.1 157.8,63.5 157.8,63.3 157.9,63.2 157.9,63.6 158,63.8 158,63.2 158.1,63.9 158.1,64.3 158.2,63.9 158.2,63.4 158.3,63.9 158.3,63.9 158.4,64.8 158.4,64.4 158.5,64.1 158.5,64.6 158.6,64.2 158.6,64.5 158.7,64.6 158.7,64.3 158.8,65 158.8,65 158.9,65 158.9,65 159,65.6 159,65 159.1,65.3 159.1,65.5 159.2,65.4 159.2,65.7 159.3,65.4 159.3,65.8 159.4,65.7 159.4,66.2 159.5,66.2 159.5,66.1 159.6,66.5 159.7,66.6 159.7,66.5 159.8,66.2 159.8,66.4 159.9,66.5 159.9,66.8 160,66.7 160,66.6 160.1,67.1 160.1,67.1 160.2,67.2 160.2,67.9 160.3,67.5 160.3,67.4 160.4,67.4 160.4,67.7 160.5,67.5 160.5,68 160.6,67.9 160.6,67.5 160.7,68.4 160.7,68.1 160.8,68.1 160.8,68.2 160.9,68.4 160.9,68.2 161,68.7 161,68.9 161.1,68.5 161.1,69 161.2,68.7 161.2,68.8 161.3,69.1 161.3,69.1 161.4,69.2 161.4,69.1 161.5,69.4 161.5,69.4 161.6,69.8 161.6,69.5 161.7,70 161.7,69.5 161.8,69.7 161.8,69.1 161.9,69.4 161.9,69.8 162,69.6 162,69.8 162.1,70.2 162.1,70.7 162.2,69.8 162.2,70 162.3,70.7 162.4,70.2 162.4,70.1 162.5,70.6 162.5,70.3 162.6,71 162.6,70.7 162.7,70.6 162.7,70.5 162.8,70.6 162.8,70.7 162.9,70.7 162.9,71 163,70.5 163,71 163.1,70.7 163.1,71 163.2,71.1 163.2,70.9 163.3,71 163.3,70.8 163.4,70.9 163.4,71.3 163.5,71.1 163.5,71.3 163.6,71.5 163.6,71.6 163.7,71.3 163.7,71.5 163.8,71.8 163.8,71.5 163.9,71.4 163.9,71.5 164,71.8 164,71.7 164.1,71.2 164.1,71.8 164.2,71.7 164.2,71 164.3,71.6 164.3,71.8 164.4,72.2 164.4,71.6 164.5,72 164.5,71.7 164.5,71.9 164.6,72.1 164.6,71.2 164.7,71.7 164.7,71.4 164.8,71.4 164.8,71.8 164.9,71.6 164.9,71.7 165,71.4 165.1,71.6 165.1,71.8 165.2,71.2 165.2,71.5 165.3,71.6 165.3,71.9 165.4,71.7 165.4,72.2 165.5,71.6 165.5,72.1 165.6,71.8 165.6,71.9 165.7,71.7 165.7,71.7 165.8,71.8 165.8,71.8 165.9,72.2 165.9,72.3 166,71.4 166,71.6 166.1,72.2 166.1,71.3 166.2,72 166.2,71.7 166.3,71.7 166.3,71.7 166.4,71.6 166.4,72.1 166.5,71.7 166.5,71.8 166.6,71.7 166.6,71.8 166.7,71.9 166.7,71.9 166.8,71.5 166.8,72 166.9,71.6 166.9,71.6 167,71.7 167,71.6 167.1,71.6 167.1,71.9 167.2,71.6 167.2,71.2 167.3,72 167.3,71.8 167.4,71.9 167.4,71.2 167.5,72.1 167.5,71.7 167.6,71.5 167.7,71.9 167.7,71.7 167.8,71.9 167.8,72 167.9,71.7 167.9,71.5 168,71.8 168,71.7 168.1,71.5 168.1,71.4 168.2,72 168.2,71.5 168.3,71.8 168.3,72.2 168.4,71.9 168.4,71.5 168.5,71.6 168.5,72 168.6,71.2 168.6,71.5 168.7,71.6 168.7,71.7 168.8,71.5 168.8,71.7 168.9,71.3 168.9,71.5 169,71.4 169,71.6 169.1,71.9 169.1,71.4 169.2,71.7 169.2,71.5 169.3,71.5 169.3,71.7 169.4,71.2 169.4,71.8 169.5,71 169.5,71.5 169.6,71.1 169.6,71 169.7,71.6 169.7,71.5 169.8,71 169.8,71.2 169.9,71.2 169.9,71.7 170,71.6 170,71.1 170.1,70.8 170.1,71.4 170.2,71.4 170.2,71.1 170.3,71.1 170.4,71 170.4,71.3 170.5,71.6 170.5,70.7 170.6,71.2 170.6,70.7 170.7,71.6 170.7,70.9 170.8,71.1 170.8,71.2 170.9,70.7 170.9,70.6 171,71.1 171,70.7 171.1,71.1 171.1,71 171.2,70.9 171.2,70.9 171.3,70.6 171.3,71.1 171.4,70.5 171.4,70.5 171.4,70.8 171.5,71.1 171.5,71.3 171.6,70.6 171.6,70.5 171.7,70.1 171.7,70 171.8,69.4 171.8,69.1 171.9,68.7 171.9,68.4 172,68 172,67.5 172.1,67.6 172.1,67 172.2,66.9 172.2,66.9 172.3,66.9 172.3,66.6 172.3,67 172.4,68.2 172.4,69.7 172.5,71.5 172.5,73 172.6,73.9 172.6,73.9 172.6,73.9 172.7,73.6 172.7,73.1 172.8,73.1 172.8,72.6 172.9,72 172.9,71.5 173,71.3 173,71.2 173.1,71.9 173.1,71.2 173.2,71.2 173.2,71.2 173.3,71.3 173.3,71.3 173.3,71.3 173.4,71.9 173.4,77.5 173.5,87.6 173.5,99.8 173.6,111.9 173.6,121.9 173.7,127.5 173.7,128 173.7,126.4 173.8,118.4 173.8,105.7 173.9,90.9 173.9,76.7 174,65.7 174,60.5 174,60.3 174.1,64.2 174.1,76.7 174.2,93.5 174.2,110.1 174.3,122 174.3,125 174.3,124.9 174.4,122.1 174.4,116.2 174.5,107.8 174.5,97.5 174.6,86 174.6,73.6 174.7,61.2 174.7,49.3 174.8,38.4 174.8,29.1 174.9,22.1 174.9,18 175,17.2 175,17.5 175,21.8 175.1,28.9 175.1,35.5 175.2,38.5 175.2,38.5 175.2,36 175.3,30.4 175.3,24.3 175.4,20.5 175.4,20.2 175.4,20.7 175.5,22.8 175.5,25.7 175.6,28.4 175.6,29.9 175.7,29.9 175.7,29.6 175.8,28.2 175.8,26.6 175.9,24.8 175.9,23.8 175.9,23.7 176,23.9 176,23.8 176.1,24 176.1,23.9 176.2,24.5 176.2,24.3 176.3,24.8 176.3,25 176.4,25.2 176.4,25.6 176.5,26.1 176.5,26.4 176.6,26.9 176.6,27 176.7,27.5 176.7,28.2 176.8,28.5 176.8,29.1 176.9,29.8 176.9,30.5 177,31.1 177,31.8 177.1,32.4 177.1,33.2 177.2,34 177.2,34.5 177.3,35.4 177.3,36.2 177.4,37.1 177.4,37.9 177.5,38.6 177.5,39.5 177.6,40.4 177.6,41.3 177.7,42.1 177.7,43.1 177.8,44 177.8,44.9 177.9,45.9 177.9,46.7 178,47.9 178,48.8 178.1,49.8 178.1,50.8 178.2,51.7 178.2,52.8 178.3,53.7 178.3,54.6 178.4,55.8 178.5,56.7 178.5,57.8 178.6,58.7 178.6,59.8 178.7,60.7 178.7,61.8 178.8,62.7 178.8,63.8 178.9,64.8 178.9,65.8 179,66.8 179,67.7 179.1,68.6 179.1,69.7 179.2,70.5 179.2,71.6 179.3,72.5 179.3,73.4 179.4,74.4 179.4,75.4 179.5,76.2 179.5,77.2 179.6,78 179.6,78.9 179.7,79.8 179.7,80.5 179.8,81.3 179.8,82 179.9,83.1 179.9,83.5 180,84.4 180,85 180.1,85.7 180.1,86.4 180.2,87 180.2,87.3 180.3,88 180.3,88.8 180.4,89.2 180.4,89.6 180.5,90.2 180.5,90.7 180.6,91.2 180.6,91.7 180.7,91.8 180.7,92.1 180.8,92.2 180.8,93 180.9,93 180.9,93.3 181,93.1 181.1,93.6 181.1,93.8 181.2,94.1 181.2,93.5 181.2,93.6 181.3,93.4 181.3,93.8 181.4,92.9 181.4,93.8 181.5,93.5 181.5,93.5 181.6,93.3 181.6,93.6 181.7,93.7 181.7,93.8 181.8,93.3 181.8,93.4 181.9,93.3 181.9,93.5 182,93.2 182,93.1 182.1,93 182.1,93.4 182.2,93.1 182.2,92.4 182.3,92.8 182.3,92.6 182.4,92.6 182.4,92.8 182.5,92.6 182.5,92.1 182.6,92.2 182.6,91.4 182.7,92.1 182.7,92.1 182.8,91.6 182.8,91.7 182.9,90.9 182.9,91.3 183,90.9 183,91.2 183.1,90.6 183.1,90.4 183.2,90.1 183.2,90.2 183.3,89.9 183.3,89.9 183.4,89.4 183.4,89.6 183.5,89.2 183.5,89.3 183.6,88.8 183.6,88.8 183.7,88.7 183.8,88.5 183.8,87.9 183.9,88.4 183.9,88.2 184,87.5 184,87.7 184.1,87.3 184.1,87.2 184.2,86.3 184.2,86.8 184.3,86.6 184.3,86.4 184.4,86 184.4,85.7 184.5,86 184.5,85.3 184.6,84.8 184.6,85.4 184.7,84.7 184.7,84.4 184.8,84.3 184.8,84.1 184.9,84.4 184.9,83.4 185,83.5 185,83.2 185.1,82.7 185.1,83.3 185.2,82.5 185.2,82.1 185.3,81.9 185.3,81.7 185.4,81.2 185.4,81.3 185.5,80.9 185.5,80.7 185.6,81 185.6,80.6 185.7,79.7 185.7,80 185.8,79.7 185.8,79.8 185.9,79.3 185.9,79.3 186,78.9 186,78.4 186.1,78.5 186.1,78.2 186.2,77.5 186.2,77.4 186.3,77.1 186.3,76.8 186.4,76.9 186.5,76.6 186.5,76.8 186.6,76 186.6,75.9 186.7,75.6 186.7,75.6 186.8,75 186.8,74.9 186.9,74.8 186.9,74.9 187,74.6 187,74.2 187.1,74.1 187.1,73.6 187.2,73.2 187.2,73.4 187.3,73.1 187.3,73 187.4,72.4 187.4,72.2 187.5,71.5 187.5,71.9 187.6,71.9 187.6,71.4 187.7,71.3 187.7,71 187.8,70.6 187.8,70.7 187.9,70.3 187.9,70.8 188,69.8 188,69.8 188.1,69.7 188.1,69.6 188.2,68.9 188.2,69.2 188.3,68.6 188.3,68.8 188.4,68.5 188.4,68.2 188.5,67.6 188.5,67.9 188.6,67.7 188.6,67.6 188.7,67.5 188.7,67.5 188.8,66.7 188.8,66.6 188.9,67 188.9,66.6 189,66.8 189,66.1 189.1,66.1 189.2,66.1 189.2,66.2 189.3,65.6 189.3,65.6 189.4,65.7 189.4,65.3 189.5,65.7 189.5,65.4 189.6,65.4 189.6,65.1 189.7,64.5 189.7,64.8 189.8,64.5 189.8,64.7 189.9,64.7 189.9,64.3 190,64.3 190,64 190.1,64 190.1,64.5 190.2,64.9 190.2,64.1 190.3,64.4 190.3,64.4 190.4,64.4 190.4,64.1 190.5,64 190.5,63.9 190.6,63.4 190.6,64.3 190.7,63.9 190.7,64.3 190.7,64.2 190.8,63.9 190.8,63.8 190.9,64.3 190.9,63.7 191,64.2 191,63.7 191.1,64.1 191.1,63.8 191.2,63.9 191.2,64.1 191.3,64 191.3,64.6 191.4,64.5 191.4,64.3 191.5,63.8 191.5,64.4 191.6,64.4 191.6,63.8 191.7,64.3 191.7,64.3 191.8,64.6 191.9,64.4 191.9,64.3 192,64.5 192,64.4 192.1,64.6 192.1,64.4 192.2,64.5 192.2,64.8 192.3,64.6 192.3,64.4 192.4,64.8 192.4,65.2 192.5,64.9 192.5,65.1 192.6,64.4 192.6,64.9 192.7,65.5 192.7,65.3 192.8,64.9 192.8,65.7 192.9,65.6 192.9,65.5 193,65.6 193,65.8 193.1,65.6 193.1,66.1 193.2,66 193.2,66.1 193.3,66 193.3,66.1 193.4,66.1 193.4,66.2 193.5,66.3 193.5,66.2 193.6,66.1 193.6,66.1 193.7,66.7 193.7,66.4 193.8,66.4 193.8,66.7 193.9,66.5 193.9,66.8 194,66.7 194,67.3 194.1,66.9 194.1,67.1 194.2,67.3 194.2,67.2 194.3,67 194.3,67 194.4,67.3 194.5,67.2 194.5,67.7 194.6,67.9 194.6,68.2 194.7,67.8 194.7,67.8 194.8,67.8 194.8,67.9 194.9,67.7 194.9,68.3 195,68.4 195,67.7 195.1,68.1 195.1,68.5 195.2,69.1 195.2,68.8 195.3,68.8 195.3,68.8 195.4,68.8 195.4,68.9 195.5,68.7 195.5,69.4 195.6,69.2 195.6,69.4 195.7,69.1 195.7,69.3 195.8,69.2 195.8,69.5 195.9,68.5 195.9,69.4 196,69.8 196,69.7 196.1,69.8 196.1,69.6 196.2,69.6 196.2,69.8 196.3,70 196.3,70.2 196.4,69.6 196.4,69.9 196.5,71 196.5,70.2 196.6,70.5 196.6,70.5 196.7,70 196.7,70.8 196.8,70.8 196.8,69.9 196.9,70.8 196.9,70.8 197,70.5 197,71 197.1,70.9 197.2,70.8 197.2,70.6 197.3,71.4 197.3,71.3 197.4,71.2 197.4,71 197.5,71.5 197.5,71.2 197.6,71.5 197.6,71.5 197.7,71.1 197.7,71.5 197.8,70.7 197.8,71.5 197.9,71.3 197.9,71.5 198,72.1 198,72.1 198.1,71.6 198.1,72.1 198.2,71.9 198.2,71.9 198.3,72.1 198.3,71.5 198.4,71.6 198.4,71.8 198.5,71.6 198.5,72 198.6,71.6 198.6,72 198.7,71.3 198.7,71.9 198.8,71.9 198.8,71.4 198.8,71.5 198.9,72 198.9,71.5 199,71.7 199,71.7 199.1,71.5 199.1,71.4 199.2,71.4 199.2,71.5 199.3,71.5 199.3,71.6 199.4,71.2 199.4,71.8 199.5,71.1 199.5,71 199.6,71 199.6,71.7 199.7,71.1 199.7,71.3 199.8,71.4 199.9,70.8 199.9,71.6 200,71.5 200,72 200.1,72.3 200.1,71.7 200.2,71.6 200.2,71.5 200.3,71.6 200.3,72.2 200.4,71.6 200.4,71.4 200.5,71.3 200.5,71.9 200.6,71.9 200.6,71.9 200.7,71.8 200.7,72 200.8,71.8 200.8,71.2 200.9,71.9 200.9,72.1 201,71.6 201,71.7 201.1,71.4 201.1,71.7 201.2,71.5 201.2,71.7 201.3,71.7 201.3,71.3 201.4,71.4 201.4,71.4 201.5,71.2 201.5,71.5 201.6,71.3 201.6,71.2 201.7,70.9 201.7,71.7 201.8,71.3 201.8,71 201.9,71.3 201.9,71.1 202,71 202,71 202.1,71.6 202.1,71.5 202.2,71.9 202.2,71 202.3,71.1 202.3,70.8 202.4,71.2 202.4,71.5 202.5,70.9 202.6,71.6 202.6,71.2 202.7,71.2 202.7,70.9 202.8,70.8 202.8,71.2 202.9,71.2 202.9,71 203,71.1 203,70.7 203.1,70.9 203.1,70.6 203.2,70.3 203.2,71.2 203.3,71.1 203.3,70.8 203.4,70.8 203.4,71 203.5,71.4 203.5,70.3 203.6,70.9 203.6,71.2 203.7,71.6 203.7,70.5 203.8,70.8 203.8,70.8 203.9,71.2 203.9,70.9 204,70.9 204,71.5 204.1,70.1 204.1,70.7 204.2,70.8 204.2,71 204.3,70.9 204.3,70 204.4,70.6 204.4,71.1 204.5,69.8 204.5,71 204.6,71 204.6,71.7 204.7,70.3 204.7,70.8 204.8,70.9 204.8,70.2 204.9,70.4 204.9,70.8 205,71.1 205,70.4 205.1,70 205.1,70.4 205.2,70.4 205.3,71.5 205.3,70.3 205.4,70.4 205.4,70.8 205.5,71.6 205.5,70.5 205.6,71.5 205.6,69.8 205.7,71.8 205.7,70.5 205.8,71 205.8,70.2 205.9,69.6 205.9,70.8 206,71.5 206,70.3 206.1,69.9 206.1,70 206.2,71.2 206.2,70.6 206.3,70.7 206.3,70.4 206.4,69.5 206.4,70.8 206.5,69.4 206.5,69.9 206.6,71.3 206.6,68.3 206.7,71 206.7,70.2 206.8,70.1 206.8,70 206.9,70.4 206.9,71.1 207,69.6 207,70.6 207,69.5 207.1,70.3 207.1,69.4 207.2,70.2 207.2,70.9 207.3,69.7 207.3,70.4 207.4,69.8 207.4,70.1 207.5,70.9 207.5,70.7 207.6,70.1 207.6,70.3 207.7,70.4 207.7,70 207.8,70.3 207.8,70.4 207.9,70.5 208,70.4 208,69.4 208.1,71.1 208.1,70.9 208.2,69.8 208.2,70.4 208.3,69.4 208.3,71 208.4,69.4 208.4,69.5 208.5,70.7 208.5,69.6 208.6,70 208.6,69.6 208.7,69.5 208.7,70.4 208.8,70.1 208.8,70.7 208.9,69.8 208.9,70.6 209,69.9 209,69.8 209.1,70.2 209.1,70.5 209.2,70.2 209.2,69.3 209.3,70.7 209.3,69.2 209.4,69.5 209.4,71.2 209.5,69.6 209.5,70.2 209.6,70 209.6,70.6 209.7,70.6 209.7,69.8 209.8,69.8 209.8,70.7 209.9,70.1 209.9,70.6 210,69.5 210,70.3 210.1,71.1 210.1,70.6 210.2,70.4 210.2,69.3 210.3,70.2 210.3,70.5 210.4,70.4 210.4,69.1 210.5,70.3 210.6,70.4 210.6,70.7 210.7,69.5 210.7,70.5 210.8,70.5 210.8,70.5 210.9,70 210.9,69.6 211,71.1 211,70.6 211.1,70.2 211.1,70.2 211.2,70 211.2,69.4 211.3,68.8 211.3,70.3 211.4,70.6 211.4,70.2 211.5,70.3 211.5,69.7 211.6,70.9 211.6,70 211.7,70 211.7,69.8 211.8,69.5 211.8,69.2 211.9,71.6 211.9,70.5 212,69.2 212,69.7 212.1,70.2 212.1,70 212.2,69.4 212.2,70.4 212.3,69.8 212.3,70.6 212.4,71 212.4,69.3 212.5,70.5 212.5,70.1 212.6,71.1 212.6,69.2 212.7,70.1 212.7,70.7 212.8,70.5 212.8,70.4 212.9,69.3 212.9,69.9 213,71 213,69.2 213.1,69.3 213.1,70.4 213.2,70.9 213.3,70.1 213.3,69.5 213.4,71.1 213.4,69.3 213.5,69.8 213.5,70.5 213.6,69.8 213.6,69.9 213.7,70.1 213.7,70.5 213.8,69.8 213.8,70.4 213.9,70 213.9,69.3 214,70.2 214,68.8 214.1,70.5 214.1,68.4 214.2,69.5 214.2,70.3 214.3,70.6 214.3,69.5 214.4,70.4 214.4,70.7 214.5,69.2 214.5,70 214.6,69.8 214.6,71.5 214.7,69.8 214.7,70.7 214.8,70.2 214.8,70.5 214.9,70.5 214.9,68.9 215,70.9 215,70.1 215.1,69.5 215.1,69.7 215.2,69.3 215.2,71 215.3,69.5 215.3,69.9 215.4,69 215.4,69.7 215.5,69.9 215.5,70.2 215.6,70 215.6,71 215.7,70.1 215.7,69.5 215.8,70.8 215.8,70.1 215.9,69.7 216,69.5 216,71 216.1,70.8 216.1,69.7 216.2,70.6 216.2,70.5 216.3,70.4 216.3,69.8 216.4,70.9 216.4,69.7 216.5,69.4 216.5,69.9 216.6,69.3 216.6,69.8 216.7,70.5 216.7,69 216.8,70.2 216.8,70 216.9,70 216.9,70 217,70 217,70 217.1,70.2 217.1,70.2 217.2,69.3 217.2,69.6 217.3,70.8 217.3,70.2 217.4,70.1 217.4,69.9 217.5,70.5 217.5,70.4 217.6,70.7 217.6,69.5 217.7,70 217.7,69.2 217.8,70.5 217.8,69.9 217.9,69.7 217.9,71.4 218,69.4 218,69.7 218.1,70.1 218.1,70 218.2,70.4 218.2,69.7 218.3,69.6 218.3,70 218.4,70.7 218.4,70.7 218.5,71 218.5,69.1 218.6,69.7 218.7,69.4 218.7,70.2 218.8,70.8 218.8,69.7 218.9,70.1 218.9,69.9 219,69.7 219,71 219.1,69.5 219.1,69.7 219.2,70 219.2,69.7 219.3,70.4 219.3,69.2 219.4,70.1 219.4,69.5 219.5,69.8 219.5,70.5 219.6,70.3 219.6,70.5 219.6,70.4 219.7,70.3 219.7,70.2 219.8,68.7 219.8,70.5 219.9,69.9 219.9,69.3 220,69 220,69.9 220.1,69.8 220.1,70.4 220.2,70.1 220.2,70.4 220.3,69.3 220.3,70.3 220.4,70.1 220.4,69.8 220.5,69.1 220.5,68.9 220.6,69.7 220.6,70 220.7,69.7 220.7,70.1 220.8,69.8 220.8,69.5 220.9,69.7 220.9,70.2 221,69.9 221,69.6 221.1,70.2 221.1,69.5 221.2,69.9 221.2,69.9 221.3,70.2 221.4,70.7 221.4,70.3 221.5,69.9 221.5,71 221.6,69.8 221.6,69.1 221.7,70.7 221.7,70.4 221.8,69.6 221.8,69.1 221.9,70 221.9,70.5 222,70 222,69.5 222.1,69.6 222.1,69 222.2,70.5 222.2,70.3 222.3,70.2 222.3,69.7 222.4,69.2 222.4,69.9 222.5,70.1 222.5,69.6 222.6,70 222.6,70.6 222.7,70 222.7,70.2 222.8,70.1 222.8,68.9 222.9,69.6 222.9,70.5 223,70.5 223,69.8 223.1,71 223.1,69.5 223.2,70.3 223.2,69.7 223.3,69.9 223.3,70.3 223.4,69.2 223.4,70.7 223.5,68.4 223.5,70.1 223.6,71.1 223.6,70.7 223.7,69.8 223.7,71.2 223.8,69.1 223.8,68.1 223.9,70 224,69.8 224,68.3 224.1,70 224.1,69.1 224.2,69.2 224.2,70.6 224.3,69.9 224.3,68.9 224.4,70 224.4,69.7 224.5,68.9 224.5,69.2 224.6,69.9 224.6,71 224.7,70 224.7,69.8 224.8,70.3 224.8,70 224.9,69.8 224.9,70.4 225,70.9 225,68.5 225.1,70.6 225.1,70.4 225.2,69.5 225.2,69.7 225.3,70.1 225.3,68.6 225.4,70.7 225.4,70 225.5,70.1 225.5,69.9 225.6,70.5 225.6,70.6 225.7,71 225.7,69.5 225.8,70.1 225.8,69.9 225.9,69.5 225.9,69.7 226,70.7 226,70.6 226.1,70.6 226.1,69.9 226.2,69.6 226.2,70.6 226.3,69.6 226.3,70.3 226.4,69.6 226.4,70.5 226.5,70.5 226.5,69.6 226.6,69.3 226.7,70.3 226.7,71.1 226.8,70.2 226.8,70.1 226.9,70.8 226.9,70.6 227,70.5 227,71.4 227.1,70.9 227.1,71.3 227.2,71.7 227.2,73.8 227.3,73.6 227.3,73.1 227.4,74.3 227.4,74.7 227.5,73.2 227.5,73 227.6,72.9 227.6,73 227.7,71.6 227.7,70.8 227.8,71.2 227.8,71 227.9,69.7 227.9,70.7 228,70 228,71.3 228.1,70.2 228.1,69.8 228.2,70 228.2,70 228.3,70.2 228.3,70.1 228.4,70.6 228.4,70.5 228.5,70 228.5,70.6 228.6,69.7 228.6,69.9 228.7,70.4 228.7,70.7 228.8,70.7 228.8,70 228.9,70.1 228.9,69.7 229,69.9 229,69.6 229.1,69.9 229.1,70.3 229.2,70.1 229.2,70.3 229.3,70.2 229.4,70.3 229.4,70.2 229.5,69.8 229.5,70.3 229.6,70.5 229.6,70.3 229.7,70.3 229.7,70.3 229.8,70.2 229.8,70.2 229.9,69.9 229.9,69.9 230,70.3 230,69.8 230.1,69.7 230.1,70.1 230.2,70.4 230.2,70 230.3,70.2 230.3,70.1 230.4,70.4 230.4,69.6 230.5,70.2 230.5,70 230.6,70.3 230.6,70.1 230.7,70.7 230.7,70.4 230.8,70.7 230.8,69.8 230.9,70.4 230.9,70.5 231,69.7 231,70.1 231.1,70 231.1,69.7 231.2,69.8 231.2,69.8 231.3,69.7 231.3,70.4 231.4,69.6 231.4,69.6 231.5,69.5 231.5,70.5 231.6,70.1 231.6,70.1 231.7,69.5 231.7,69.7 231.8,69.4 231.8,69.7 231.9,70 231.9,70.1 232,70 232.1,69.4 232.1,70.1 232.2,70.3 232.2,69.8 232.3,69.5 232.3,69.2 232.4,69.6 232.4,69.7 232.5,70.5 232.5,70.1 232.6,70.1 232.6,70 232.7,70.3 232.7,69.8 232.8,69.7 232.8,70 232.9,70.1 232.9,70 233,70 233,69.9 233.1,70.3 233.1,69.7 233.2,70.1 233.2,70.1 233.3,69.9 233.3,70.3 233.4,69.9 233.4,69.5 233.5,70 233.5,70.1 233.6,70.3 233.6,69.8 233.7,69.8 233.7,70.5 233.8,69.9 233.8,70.3 233.9,70.5 233.9,70.1 234,70.2 234,69.7 234.1,70.4 234.1,70.4 234.2,70.3 234.2,70.1 234.3,69.9 234.3,70.3 234.4,70.2 234.4,70.5 234.5,70.1 234.5,70.3 234.6,69.4 234.6,69.5"/>
<rect class="ax" x="30.9" y="9.2" width="220.10" height="121.90"/>
<path class="tc" d="M62.34,131.1v-1.9M62.34,9.2v1.9M93.79,131.1v-1.9M93.79,9.2v1.9M125.23,131.1v-1.9M125.23,9.2v1.9M156.67,131.1v-1.9M156.67,9.2v1.9M188.11,131.1v-1.9M188.11,9.2v1.9M219.56,131.1v-1.9M219.56,9.2v1.9M30.9,70.15h1.9M251.0,70.15h-1.9"/>
<text class="tk" x="30.9" y="144" text-anchor="middle">0</text>
<text class="tk" x="62.3" y="144" text-anchor="middle">1</text>
<text class="tk" x="93.8" y="144" text-anchor="middle">2</text>
<text class="tk" x="125.2" y="144" text-anchor="middle">3</text>
<text class="tk" x="156.7" y="144" text-anchor="middle">4</text>
<text class="tk" x="188.1" y="144" text-anchor="middle">5</text>
<text class="tk" x="219.6" y="144" text-anchor="middle">6</text>
<text class="tk" x="251.0" y="144" text-anchor="middle">7</text>
<text class="tk" x="27.5" y="12" text-anchor="end">5</text>
<text class="tk" x="27.5" y="74" text-anchor="end">0</text>
<text class="tk" x="27.5" y="135" text-anchor="end">-5</text>
<text class="lb" x="141.3" y="157" text-anchor="middle">Time(s)</text>
<text class="lb" transform="translate(15.0,69.8) rotate(-90)" text-anchor="middle">Amplitude(mV)</text>
<text class="pl" x="6.5" y="21">A</text>
</g>
<g id="panelB">
<polyline class="ln" stroke-width="0.6" points="321.5,69.6 321.5,71.3 321.6,71 321.6,76 321.6,65.7 321.7,67.3 321.7,71 321.7,68.4 321.8,69.5 321.8,71.6 321.8,67.8 321.9,71 321.9,71 321.9,72.1 321.9,69.1 322,70.4 322,68.9 322,71.7 322.1,69.9 322.1,72.3 322.1,68.1 322.2,69.7 322.2,69.3 322.2,69.1 322.3,72.5 322.3,68.2 322.3,65.1 322.4,74.1 322.4,74.3 322.4,73.8 322.5,68.2 322.5,69.9 322.5,67.7 322.6,68.5 322.6,69.8 322.6,69.6 322.6,70.7 322.7,68.1 322.7,73 322.7,71.2 322.8,69.6 322.8,65.9 322.8,72 322.9,72.8 322.9,71.6 322.9,67.8 323,70.8 323,67 323,74.7 323.1,67.4 323.1,67.6 323.1,73.6 323.2,69.8 323.2,67.2 323.2,70 323.3,67.8 323.3,64.4 323.3,69.4 323.3,70.8 323.4,71.9 323.4,68.5 323.4,70.5 323.5,70.5 323.5,70.3 323.5,68.4 323.6,72.6 323.6,73.8 323.6,76 323.7,67.1 323.7,69.8 323.7,66.4 323.8,70 323.8,71.9 323.8,68.9 323.9,70.3 323.9,73.2 323.9,72.3 324,65.9 324,69.3 324,69.1 324,70.8 324.1,71.9 324.1,68 324.1,70.4 324.2,71.9 324.2,70.4 324.2,72.3 324.3,69.6 324.3,67.4 324.3,72.2 324.4,66.7 324.4,71.8 324.4,69.7 324.5,72.1 324.5,70.6 324.5,69.9 324.6,71.1 324.6,71.7 324.6,71.6 324.7,71.9 324.7,73.8 324.7,70.5 324.7,68.9 324.8,67.7 324.8,68.3 324.8,63.7 324.9,68.9 324.9,70.8 324.9,65.1 325,72.3 325,67.4 325,72 325.1,68.8 325.1,74.4 325.1,67.4 325.2,70 325.2,71.9 325.2,65.5 325.3,67.6 325.3,69.4 325.3,71.4 325.4,69.7 325.4,69.9 325.4,67.7 325.5,67.5 325.5,71.1 325.5,70.7 325.5,70.6 325.6,72.5 325.6,70.7 325.6,69.5 325.7,67.6 325.7,66.1 325.7,71.3 325.8,67.9 325.8,70.4 325.8,64.3 325.9,69.4 325.9,68.1 325.9,71.6 326,71.3 326,68.7 326,70.1 326.1,68.4 326.1,73.1 326.1,67.6 326.2,71.5 326.2,65.2 326.2,70.1 326.2,66.7 326.3,72.7 326.3,68.3 326.3,71.5 326.4,70.6 326.4,69.5 326.4,70.2 326.5,68.8 326.5,67.7 326.5,68 326.6,69.8 326.6,73 326.6,71.7 326.7,70.1 326.7,74.8 326.7,67.8 326.8,70.2 326.8,70.3 326.8,67.3 326.9,67.9 326.9,69 326.9,72 326.9,68.9 327,68.8 327,71.8 327,67 327.1,68.5 327.1,74.5 327.1,69.4 327.2,72.8 327.2,67 327.2,67.9 327.3,72.5 327.3,71.9 327.3,69.6 327.4,70.4 327.4,66.1 327.4,68 327.5,70.5 327.5,68.3 327.5,74.7 327.6,69.1 327.6,67.8 327.6,70.3 327.6,71.7 327.7,68.5 327.7,65.1 327.7,69.5 327.8,72.7 327.8,66.5 327.8,74.5 327.9,68.6 327.9,71.3 327.9,67.7 328,72 328,66.7 328,69.2 328.1,74.1 328.1,74.7 328.1,70.6 328.2,66.7 328.2,69.6 328.2,69.8 328.3,70.5 328.3,68 328.3,68.9 328.3,69.2 328.4,72.4 328.4,67.1 328.4,66.7 328.5,73.2 328.5,64.5 328.5,68.4 328.6,71.4 328.6,74.8 328.6,68.5 328.7,68.8 328.7,71.6 328.7,74.6 328.8,67.4 328.8,71.6 328.8,71.3 328.9,63.3 328.9,65 328.9,67.8 329,71.3 329,68.6 329,75.7 329,69.8 329.1,71.8 329.1,73.1 329.1,73.8 329.2,68.7 329.2,69.7 329.2,69.4 329.3,67.7 329.3,71.8 329.3,72.7 329.4,74.1 329.4,70.6 329.4,67.8 329.5,70 329.5,68.1 329.5,72.6 329.6,70.8 329.6,71.5 329.6,72.6 329.7,65.1 329.7,67.6 329.7,71.4 329.8,71.5 329.8,69.7 329.8,73.1 329.8,68.5 329.9,72.7 329.9,70.4 329.9,72 330,70.7 330,72.8 330,73.4 330.1,71.8 330.1,71 330.1,70 330.2,69.1 330.2,65.5 330.2,67.3 330.3,69.9 330.3,67.5 330.3,71 330.4,65.9 330.4,68.1 330.4,72.7 330.5,67.5 330.5,67.4 330.5,76 330.5,71.2 330.6,70.4 330.6,74 330.6,71.9 330.7,71.6 330.7,68 330.7,68.5 330.8,62.9 330.8,70.3 330.8,66.6 330.9,69.2 330.9,68.7 330.9,72.2 331,74.1 331,71.3 331,67.5 331.1,65.5 331.1,67.9 331.1,68.3 331.2,71.6 331.2,65.8 331.2,66.3 331.2,71 331.3,69.8 331.3,72.1 331.3,66.2 331.4,68.7 331.4,70.1 331.4,68.8 331.5,68.8 331.5,70.9 331.5,72.9 331.6,73.1 331.6,74.2 331.6,69 331.7,64.7 331.7,74.2 331.7,69.8 331.8,69.1 331.8,72.6 331.8,69.7 331.9,72.9 331.9,67.3 331.9,71.7 331.9,70 332,68.6 332,71.3 332,74.6 332.1,71.5 332.1,68.4 332.1,70.4 332.2,69.6 332.2,72.7 332.2,69.7 332.3,68.4 332.3,70 332.3,65.5 332.4,70.6 332.4,72.7 332.4,74.1 332.5,67.4 332.5,70.3 332.5,67.6 332.6,69 332.6,66.3 332.6,67.2 332.6,71.2 332.7,69.5 332.7,67.6 332.7,73.2 332.8,66.6 332.8,67.2 332.8,67.8 332.9,70.6 332.9,69.3 332.9,72.7 333,69.8 333,71.3 333,69.7 333.1,71.1 333.1,69.1 333.1,66.9 333.2,73 333.2,67.5 333.2,74.6 333.3,74.9 333.3,70 333.3,69.6 333.4,68.4 333.4,73.5 333.4,69.6 333.4,69.2 333.5,66.5 333.5,69.8 333.5,68.3 333.6,72 333.6,70 333.6,70.6 333.7,67.8 333.7,72 333.7,71.5 333.8,68.1 333.8,65.1 333.8,68.5 333.9,68.7 333.9,70.3 333.9,66.9 334,68.2 334,65.4 334,68.8 334.1,71.9 334.1,71.1 334.1,72.1 334.1,72.8 334.2,66.7 334.2,67.8 334.2,72.7 334.3,65.3 334.3,69.1 334.3,72 334.4,68.8 334.4,69.9 334.4,71.6 334.5,74.4 334.5,69.6 334.5,68.9 334.6,75.9 334.6,68.3 334.6,68.3 334.7,71 334.7,69.6 334.7,70.5 334.8,71.9 334.8,70.7 334.8,66.5 334.8,73.4 334.9,69.3 334.9,69.5 334.9,71.8 335,71.1 335,73.5 335,72.2 335.1,70.1 335.1,69.3 335.1,72.4 335.2,62.7 335.2,71.6 335.2,69.8 335.3,70.7 335.3,71.1 335.3,67 335.4,71.3 335.4,66.9 335.4,67.4 335.5,72.8 335.5,67.8 335.5,71.8 335.5,63.6 335.6,71.2 335.6,72.6 335.6,74.9 335.7,73.4 335.7,71.6 335.7,72.7 335.8,73.3 335.8,72 335.8,70.8 335.9,66.8 335.9,74.6 335.9,71.7 336,72.7 336,74.1 336,73.5 336.1,72.6 336.1,68.7 336.1,70.9 336.2,71.7 336.2,68.9 336.2,69.8 336.2,70.9 336.3,69.4 336.3,72.3 336.3,68.7 336.4,69.2 336.4,71.4 336.4,73.4 336.5,66.7 336.5,70.2 336.5,62.9 336.6,71.9 336.6,68.2 336.6,71.2 336.7,69.6 336.7,68.1 336.7,72.1 336.8,70.4 336.8,69.7 336.8,69.8 336.9,68.7 336.9,67.6 336.9,68.1 336.9,69.4 337,70.8 337,72.8 337,71.8 337.1,71.3 337.1,68.4 337.1,71 337.2,73.1 337.2,68.5 337.2,72 337.2,71.9 337.3,70.6 337.3,68.9 337.3,75.9 337.4,72.7 337.4,69.5 337.4,70.8 337.5,72 337.5,71.2 337.5,66.5 337.6,71 337.6,68.2 337.6,67.9 337.7,70.9 337.7,68.7 337.7,70.9 337.7,71.2 337.8,72.5 337.8,67.7 337.8,70.8 337.9,71.2 337.9,72.7 337.9,65.5 338,68.1 338,70.2 338,71.6 338.1,73.6 338.1,69.2 338.1,69.3 338.2,73.3 338.2,67 338.2,68 338.3,72.2 338.3,71.3 338.3,71 338.4,69.6 338.4,70.3 338.4,74 338.4,66.4 338.5,69.2 338.5,66.9 338.5,67 338.6,70.5 338.6,69.2 338.6,68.3 338.7,68.2 338.7,70.4 338.7,71.5 338.8,69.8 338.8,71.9 338.8,71.3 338.9,74.9 338.9,69.8 338.9,72.5 339,71.4 339,70.1 339,69.2 339.1,65.4 339.1,69.6 339.1,73.5 339.1,69.7 339.2,71.5 339.2,69 339.2,71.6 339.3,71.6 339.3,71.2 339.3,71.4 339.4,74.4 339.4,71.5 339.4,70 339.5,67 339.5,70.6 339.5,70.9 339.6,68.5 339.6,68.6 339.6,66.1 339.7,68.5 339.7,70 339.7,66.6 339.8,66.1 339.8,71 339.8,69.4 339.8,74 339.9,70.8 339.9,72 339.9,70.4 340,71 340,70.1 340,70 340.1,68.5 340.1,69.2 340.1,71.1 340.2,72.9 340.2,66.7 340.2,66.2 340.3,70.8 340.3,68.4 340.3,73.4 340.4,73.5 340.4,70.4 340.4,66.1 340.5,72.2 340.5,71.8 340.5,65.8 340.5,74.3 340.6,68.1 340.6,68.5 340.6,70.2 340.7,69.3 340.7,63.3 340.7,72.4 340.8,70.4 340.8,70.2 340.8,71.3 340.9,73 340.9,65.8 340.9,69.2 341,74 341,71.4 341,68.7 341.1,68.7 341.1,73.3 341.1,69.9 341.2,69.1 341.2,68.7 341.2,68.6 341.3,74 341.3,65.1 341.3,69.1 341.3,65.3 341.4,62.7 341.4,70.1 341.4,72.7 341.5,67.6 341.5,70.2 341.5,70.8 341.6,72.2 341.6,65.6 341.6,70.8 341.7,73.1 341.7,70.8 341.7,72.4 341.8,69.3 341.8,70.7 341.8,72.3 341.9,68.1 341.9,71.3 341.9,68 342,66.8 342,70.7 342,71.4 342,69.5 342.1,67.7 342.1,69.9 342.1,69.6 342.2,70 342.2,69.1 342.2,68.3 342.3,71.6 342.3,71 342.3,69.7 342.4,71.5 342.4,69.6 342.4,68.6 342.5,69.9 342.5,71.3 342.5,71.8 342.6,65.5 342.6,67.6 342.6,72.5 342.7,71.8 342.7,65.2 342.7,66 342.7,69.4 342.8,66.9 342.8,73.3 342.8,69.7 342.9,68 342.9,74.3 342.9,71.7 343,67.9 343,67 343,71.2 343.1,69 343.1,65.8 343.1,70.6 343.2,73 343.2,69.9 343.2,70.7 343.3,66.6 343.3,69.3 343.3,71.7 343.4,63.9 343.4,71 343.4,68.6 343.4,68.1 343.5,67.9 343.5,69.3 343.5,68.4 343.6,69.9 343.6,73.2 343.6,70.2 343.7,70.1 343.7,70 343.7,69.2 343.8,71 343.8,66.3 343.8,65.6 343.9,74.8 343.9,69.4 343.9,71.2 344,75.8 344,68.5 344,71 344.1,70.4 344.1,71.1 344.1,66.9 344.1,66.5 344.2,68.9 344.2,68 344.2,70 344.3,69.4 344.3,71.6 344.3,69.7 344.4,71.5 344.4,69 344.4,67.8 344.5,69 344.5,66.9 344.5,63.2 344.6,74.9 344.6,69.7 344.6,71.1 344.7,70.8 344.7,73 344.7,69.6 344.8,70.4 344.8,71.3 344.8,70.5 344.8,71.3 344.9,75.5 344.9,67.2 344.9,70.5 345,72.1 345,69.1 345,71.3 345.1,75 345.1,67.6 345.1,73.9 345.2,70.4 345.2,69.6 345.2,66.6 345.3,67 345.3,69.6 345.3,71.9 345.4,71.1 345.4,67.5 345.4,65.9 345.5,68.9 345.5,71.8 345.5,67.8 345.6,71.2 345.6,71.2 345.6,71 345.6,68.9 345.7,69.6 345.7,67.9 345.7,67 345.8,68.9 345.8,75.8 345.8,74.3 345.9,69.7 345.9,70.3 345.9,64.9 346,70.2 346,70.6 346,68 346.1,67.7 346.1,70.8 346.1,69.2 346.2,73.3 346.2,72.7 346.2,67.5 346.3,73.9 346.3,68.3 346.3,68.8 346.3,68.7 346.4,68.3 346.4,69.2 346.4,75.8 346.5,73 346.5,71.9 346.5,68.2 346.6,73.2 346.6,72.3 346.6,71.4 346.7,67.2 346.7,73.9 346.7,73.8 346.8,69 346.8,75.7 346.8,69.8 346.9,71.7 346.9,74.4 346.9,71.6 347,73 347,70.1 347,69.5 347,66.8 347.1,70.4 347.1,70.1 347.1,71.8 347.2,70.4 347.2,67.8 347.2,75.1 347.3,68.8 347.3,71.8 347.3,70.3 347.4,69.6 347.4,68.4 347.4,70 347.5,71.5 347.5,69.8 347.5,70.5 347.6,71.1 347.6,70 347.6,68.3 347.7,70 347.7,69.9 347.7,73.4 347.7,70.6 347.8,74.9 347.8,68.5 347.8,72.4 347.9,67 347.9,62.9 347.9,71.2 348,66.9 348,69.2 348,71.5 348.1,72.2 348.1,68.8 348.1,66.7 348.2,69.3 348.2,73.9 348.2,72.8 348.3,70.8 348.3,66.8 348.3,69.5 348.4,69.5 348.4,67.4 348.4,70.9 348.4,70.5 348.5,70.7 348.5,74.6 348.5,69.1 348.6,69.2 348.6,67.8 348.6,73.2 348.7,72.3 348.7,68.1 348.7,69.5 348.8,66.9 348.8,72.4 348.8,69.8 348.9,72 348.9,69.6 348.9,71.6 349,69.1 349,67.8 349,68.7 349.1,74.9 349.1,68.1 349.1,69.3 349.2,72.9 349.2,72.6 349.2,70.4 349.2,69.1 349.3,71.6 349.3,74.4 349.3,69.9 349.4,70.2 349.4,64.7 349.4,73.7 349.5,64.5 349.5,66.4 349.5,70 349.6,66.7 349.6,70.4 349.6,68.2 349.7,72.4 349.7,70.4 349.7,73.2 349.8,74.5 349.8,71.2 349.8,72.3 349.9,69.3 349.9,67.6 349.9,71 349.9,70.4 350,70.1 350,74.6 350,69.9 350.1,70.4 350.1,70.6 350.1,73.1 350.2,75.2 350.2,70.9 350.2,69.6 350.3,67.1 350.3,67.6 350.3,66.7 350.4,69.4 350.4,67.4 350.4,70.8 350.5,68.7 350.5,68.1 350.5,63.7 350.6,69.7 350.6,73.4 350.6,67 350.6,72.2 350.7,70.4 350.7,71 350.7,72.5 350.8,67 350.8,68.9 350.8,71.8 350.9,70.1 350.9,71.2 350.9,68.7 351,71.1 351,72.1 351,71.7 351.1,71.3 351.1,69.5 351.1,72.4 351.2,70.4 351.2,69.1 351.2,64.4 351.3,68.1 351.3,77.5 351.3,71.6 351.3,71.3 351.4,69.6 351.4,66.5 351.4,68.5 351.5,76 351.5,69.6 351.5,70.1 351.6,69.3 351.6,67 351.6,73 351.7,67.7 351.7,74.4 351.7,70.3 351.8,69.5 351.8,64.8 351.8,72.2 351.9,74.7 351.9,68.9 351.9,72.2 352,66.9 352,72.4 352,72.8 352,67.6 352.1,70.5 352.1,68.2 352.1,74.2 352.2,66.6 352.2,72.1 352.2,68.6 352.3,73 352.3,74.3 352.3,71.2 352.4,70.1 352.4,66.7 352.4,69.8 352.5,68.9 352.5,69 352.5,63 352.6,72.6 352.6,67.6 352.6,71 352.7,70 352.7,71.9 352.7,67.7 352.8,73.6 352.8,73.8 352.8,71 352.8,73.3 352.9,68.7 352.9,68.3 352.9,72.3 353,68.5 353,71.9 353,70.4 353,70.3 353.1,65.7 353.1,70.2 353.1,72.4 353.2,72.5 353.2,67.4 353.2,74.3 353.3,71.4 353.3,71.2 353.3,76.2 353.4,71.4 353.4,67.7 353.4,69.6 353.5,72.3 353.5,68.5 353.5,69 353.5,65.2 353.6,72 353.6,71.1 353.6,70 353.7,70.5 353.7,69.9 353.7,70.3 353.8,71.7 353.8,73.9 353.8,71.4 353.9,73.3 353.9,72.5 353.9,71.2 354,68.7 354,67.8 354,72.4 354.1,69.1 354.1,67.9 354.1,70 354.2,73.9 354.2,75.2 354.2,68 354.2,67.7 354.3,69.3 354.3,72.5 354.3,66.4 354.4,67 354.4,70.1 354.4,70.5 354.5,74.7 354.5,68.2 354.5,74 354.6,68.4 354.6,68.3 354.6,69.9 354.7,66.4 354.7,71 354.7,68.8 354.8,68.3 354.8,69.6 354.8,71.3 354.9,67.2 354.9,69.1 354.9,70.7 354.9,70.6 355,69.9 355,64.7 355,69.9 355.1,70.8 355.1,72.8 355.1,73.2 355.2,74.8 355.2,69.6 355.2,70.1 355.3,72.7 355.3,73.8 355.3,71 355.4,71.5 355.4,73.5 355.4,69.5 355.5,69.9 355.5,70.4 355.5,68.4 355.6,71.9 355.6,67.1 355.6,72.9 355.6,69.3 355.7,69 355.7,71.2 355.7,69.7 355.8,73.6 355.8,74.2 355.8,70.9 355.9,72.2 355.9,69 355.9,70.3 356,68.9 356,69.6 356,70 356.1,70.3 356.1,71.4 356.1,71.6 356.2,65.5 356.2,74.8 356.2,71 356.3,68 356.3,69.5 356.3,67 356.3,69.1 356.4,73.5 356.4,71.3 356.4,73.9 356.5,68.1 356.5,67 356.5,71.6 356.6,69.2 356.6,71.4 356.6,74 356.7,71.6 356.7,74.3 356.7,71.9 356.8,69.9 356.8,68.8 356.8,67.4 356.9,71.4 356.9,70 356.9,69.6 357,69.2 357,77.5 357,72.4 357.1,68.6 357.1,73.3 357.1,69.9 357.1,68.5 357.2,75.1 357.2,70.9 357.2,69.9 357.3,70.4 357.3,74.1 357.3,69.4 357.4,71.7 357.4,68.4 357.4,69.4 357.5,71.8 357.5,70 357.5,72.2 357.6,72.3 357.6,74.4 357.6,71.1 357.7,68.5 357.7,70.2 357.7,70.6 357.8,72 357.8,71.7 357.8,68.7 357.8,74.2 357.9,65.4 357.9,70.6 357.9,65.1 358,67.6 358,71.5 358,68.6 358.1,69.8 358.1,69.3 358.1,68.4 358.2,71.7 358.2,71.8 358.2,71.3 358.3,73.6 358.3,71 358.3,69.8 358.4,69.7 358.4,69.9 358.4,71.3 358.5,68.5 358.5,75.4 358.5,71.3 358.5,71.1 358.6,68.2 358.6,68.7 358.6,68.5 358.7,70.4 358.7,68.1 358.7,72.8 358.8,70.3 358.8,75.6 358.8,66.3 358.9,66.7 358.9,72.1 358.9,72.6 359,75.6 359,74.2 359,70.2 359.1,70.8 359.1,74 359.1,71.6 359.2,72 359.2,69.3 359.2,68.6 359.2,70.8 359.3,69.9 359.3,70.3 359.3,75.4 359.4,69.8 359.4,70.4 359.4,68.4 359.5,74.7 359.5,68.3 359.5,71.7 359.6,69.5 359.6,67.2 359.6,73.7 359.7,73.3 359.7,67.6 359.7,72.9 359.8,72.4 359.8,68.5 359.8,70.6 359.9,68.2 359.9,69.4 359.9,70.3 359.9,67.8 360,64.9 360,70.4 360,66.5 360.1,67.4 360.1,69.9 360.1,68.9 360.2,72.4 360.2,71.6 360.2,69.4 360.3,70.2 360.3,66.9 360.3,73.1 360.4,70.7 360.4,71.6 360.4,70.5 360.5,67.3 360.5,73.1 360.5,68 360.6,71.5 360.6,70.8 360.6,67.6 360.7,70.7 360.7,68.4 360.7,69.7 360.7,70.4 360.8,70.8 360.8,74.2 360.8,71.7 360.9,69.5 360.9,69.4 360.9,73.7 361,67.6 361,68.7 361,73.2 361.1,72.6 361.1,68.8 361.1,74.4 361.2,71.9 361.2,70.3 361.2,70.5 361.3,70.3 361.3,69.2 361.3,72.2 361.4,71.4 361.4,65.2 361.4,73.7 361.4,71.4 361.5,70.1 361.5,71.9 361.5,67.4 361.6,70.1 361.6,68.4 361.6,76.6 361.7,67.4 361.7,67.5 361.7,72.2 361.8,67.2 361.8,69.8 361.8,68.2 361.9,66 361.9,70.1 361.9,72.8 362,70.4 362,73.5 362,72.3 362.1,72.2 362.1,72.1 362.1,67.5 362.1,68.3 362.2,72.5 362.2,67.6 362.2,74.4 362.3,71.9 362.3,70.6 362.3,67.4 362.4,68.6 362.4,69.3 362.4,67.3 362.5,68.7 362.5,67.2 362.5,72.4 362.6,74.6 362.6,71.5 362.6,68.4 362.7,69.8 362.7,68.3 362.7,68.7 362.8,69.2 362.8,68.5 362.8,72.3 362.8,67.9 362.9,72.9 362.9,70.7 362.9,73.9 363,69.3 363,74.2 363,67 363.1,73.6 363.1,69.6 363.1,70.5 363.2,72.3 363.2,67.1 363.2,71.2 363.3,66.6 363.3,72.6 363.3,72.2 363.4,75 363.4,68.7 363.4,67.8 363.5,69.6 363.5,70.4 363.5,72.3 363.5,64.4 363.6,68.3 363.6,74.6 363.6,70.8 363.7,76.5 363.7,66.3 363.7,65.3 363.8,66.5 363.8,70.1 363.8,71.4 363.9,73.4 363.9,68.6 363.9,71.8 364,70.9 364,71.6 364,70.8 364.1,67.8 364.1,65.9 364.1,69.6 364.2,69.9 364.2,72.6 364.2,72.9 364.2,72.5 364.3,67.8 364.3,69.3 364.3,67.6 364.4,68.9 364.4,70.9 364.4,73 364.5,70.8 364.5,73.3 364.5,65 364.6,69.1 364.6,70.7 364.6,64.9 364.7,70.8 364.7,68.4 364.7,70.2 364.8,69 364.8,70.8 364.8,68.7 364.9,66.4 364.9,73.1 364.9,75.4 365,66.6 365,69.6 365,67.8 365,70.6 365.1,66.2 365.1,65.5 365.1,72.8 365.2,68.3 365.2,71.4 365.2,73.8 365.3,70.6 365.3,68.5 365.3,73.3 365.4,73 365.4,66.8 365.4,69.8 365.5,68.9 365.5,72.8 365.5,71.5 365.6,69.6 365.6,69.4 365.6,69.5 365.7,66 365.7,69.5 365.7,73.6 365.7,72.1 365.8,70 365.8,66.8 365.8,71.7 365.9,70.9 365.9,70.1 365.9,71.7 366,72 366,70.5 366,67.4 366.1,68.6 366.1,70.5 366.1,68.7 366.2,72.9 366.2,67.3 366.2,67.9 366.3,69 366.3,73.8 366.3,64.7 366.4,76.9 366.4,72.2 366.4,72.1 366.4,68.1 366.5,73.6 366.5,69.3 366.5,70.3 366.6,70.6 366.6,67.8 366.6,66.4 366.7,68.9 366.7,70.7 366.7,75.7 366.8,66.3 366.8,70.7 366.8,74.5 366.9,69.6 366.9,66.4 366.9,70.4 367,72.9 367,64.5 367,68.5 367.1,69.2 367.1,67.6 367.1,75.4 367.1,70.2 367.2,70.4 367.2,64.4 367.2,71.4 367.3,71.2 367.3,73.3 367.3,71.9 367.4,70.4 367.4,69.3 367.4,70.4 367.5,65.1 367.5,68.8 367.5,68.4 367.6,66.6 367.6,68.4 367.6,71.2 367.7,73.8 367.7,69 367.7,72 367.8,66.8 367.8,72 367.8,75.6 367.8,69.9 367.9,67.4 367.9,70.6 367.9,69.7 368,69.9 368,65.9 368,69.4 368.1,70.3 368.1,71.7 368.1,74.2 368.2,66.6 368.2,67.3 368.2,72.5 368.3,68.6 368.3,69.3 368.3,71 368.4,70.9 368.4,68.2 368.4,73 368.5,71.4 368.5,70.4 368.5,70.2 368.6,70.6 368.6,69.7 368.6,68.9 368.6,72.3 368.7,70 368.7,71.5 368.7,66.5 368.7,73.7 368.8,70.7 368.8,68.4 368.8,70.9 368.9,71 368.9,71.6 368.9,69.6 369,73.2 369,70.5 369,70.5 369.1,73.9 369.1,69.4 369.1,71.2 369.2,69.3 369.2,67.9 369.2,69.2 369.3,72.9 369.3,69.3 369.3,74 369.3,72 369.4,66 369.4,70 369.4,66.1 369.5,70.5 369.5,70.1 369.5,72.9 369.6,67.7 369.6,70.5 369.6,68.5 369.7,69.1 369.7,68.8 369.7,69.3 369.8,70.2 369.8,70.1 369.8,71.8 369.9,75.3 369.9,68.8 369.9,64.9 370,67.3 370,64.2 370,68.8 370,72.3 370.1,72.4 370.1,68.2 370.1,69.2 370.2,70.5 370.2,68.2 370.2,72.1 370.3,68.6 370.3,70.7 370.3,69.5 370.4,67 370.4,70.3 370.4,66.5 370.5,66.6 370.5,71.7 370.5,64.1 370.6,72.9 370.6,70.1 370.6,68 370.7,75.4 370.7,67.3 370.7,67 370.7,70.1 370.8,69.3 370.8,69.4 370.8,70.4 370.9,67.3 370.9,70.9 370.9,70 371,69 371,67.9 371,67.2 371.1,73.5 371.1,74.9 371.1,70.3 371.2,70.1 371.2,72.5 371.2,69.1 371.3,68.3 371.3,68.8 371.3,65.6 371.4,72.2 371.4,69.7 371.4,65 371.4,68.1 371.5,72.5 371.5,69.3 371.5,66.8 371.6,64.5 371.6,68.1 371.6,66.8 371.7,72.5 371.7,70.3 371.7,66.8 371.8,72.1 371.8,69.8 371.8,74.2 371.9,65.9 371.9,69.9 371.9,68.3 372,73.4 372,72.9 372,65.2 372.1,70.6 372.1,71.2 372.1,68.6 372.1,68.5 372.2,74.8 372.2,72.4 372.2,69.9 372.3,70 372.3,69 372.3,70.9 372.4,70.6 372.4,69.3 372.4,71.6 372.5,72 372.5,71.3 372.5,70 372.6,70.4 372.6,71.2 372.6,70.5 372.7,70 372.7,69.1 372.7,68.9 372.8,73.1 372.8,67.5 372.8,73.8 372.9,68.6 372.9,71.7 372.9,68.6 372.9,67.4 373,74.7 373,68.6 373,69.4 373.1,71.2 373.1,69.1 373.1,71.2 373.2,69.6 373.2,72.6 373.2,68.2 373.3,68.6 373.3,68.2 373.3,71.7 373.4,65.5 373.4,65.1 373.4,70.1 373.5,70.9 373.5,70.9 373.5,68.2 373.6,67.4 373.6,71.8 373.6,74.9 373.6,68.8 373.7,70 373.7,69.5 373.7,68.5 373.8,72.5 373.8,69.6 373.8,70.5 373.9,68.9 373.9,66.7 373.9,69.7 374,71.9 374,66.8 374,68.2 374.1,70.4 374.1,74.4 374.1,72 374.2,69.5 374.2,68.6 374.2,71.2 374.3,68.9 374.3,71.5 374.3,71.1 374.3,68.8 374.4,70.7 374.4,69.8 374.4,68 374.5,67.3 374.5,71.6 374.5,70.8 374.6,73.3 374.6,73.2 374.6,69.3 374.7,71.4 374.7,74.6 374.7,68.8 374.8,72.1 374.8,70.9 374.8,69.1 374.9,69.2 374.9,70.2 374.9,74.9 375,68.7 375,71.6 375,73.6 375,75.6 375.1,67 375.1,70 375.1,70.1 375.2,69 375.2,70.6 375.2,74 375.3,68.7 375.3,67.9 375.3,69.1 375.4,66.6 375.4,65.7 375.4,72.4 375.5,71.5 375.5,68.3 375.5,70 375.6,69.8 375.6,68.1 375.6,68.6 375.7,71.4 375.7,70.1 375.7,72.1 375.7,70.8 375.8,73.1 375.8,75.2 375.8,71.6 375.9,71.8 375.9,68.2 375.9,66.6 376,70.4 376,69.3 376,71.9 376.1,72.7 376.1,71 376.1,71.1 376.2,69.7 376.2,70.1 376.2,66.4 376.3,71 376.3,74.5 376.3,70.1 376.4,72 376.4,69.9 376.4,67.7 376.5,72 376.5,70.6 376.5,69.2 376.5,72.7 376.6,69.8 376.6,69 376.6,68.4 376.7,67.7 376.7,69 376.7,69.4 376.8,73.7 376.8,76.8 376.8,72.6 376.9,66.7 376.9,70 376.9,75.8 377,71.4 377,69.5 377,74.9 377.1,69 377.1,73.1 377.1,67.8 377.2,70.2 377.2,62.7 377.2,73.4 377.2,69.5 377.3,73.7 377.3,67.4 377.3,69.9 377.4,67.9 377.4,69.9 377.4,73 377.5,71.7 377.5,73.1 377.5,72.6 377.6,69.7 377.6,67.4 377.6,68 377.7,68.8 377.7,71.4 377.7,68.7 377.8,72 377.8,69.5 377.8,67.9 377.9,70.4 377.9,71 377.9,70.9 377.9,68.4 378,70.7 378,73.5 378,71 378.1,72.6 378.1,66.3 378.1,69.9 378.2,73.4 378.2,69.3 378.2,68.3 378.3,69.1 378.3,70.9 378.3,69.7 378.4,69.4 378.4,67.6 378.4,69.1 378.5,64.6 378.5,70.5 378.5,66.4 378.6,70 378.6,74.2 378.6,72.9 378.6,74.4 378.7,74.1 378.7,67 378.7,71.6 378.8,68.5 378.8,72.2 378.8,70.1 378.9,72.6 378.9,68.1 378.9,70.7 379,71.3 379,70.5 379,64.9 379.1,69.1 379.1,68.2 379.1,73.2 379.2,71.7 379.2,69.5 379.2,74.7 379.3,67 379.3,69.6 379.3,70.3 379.3,70.8 379.4,70.9 379.4,71.7 379.4,67.1 379.5,68.8 379.5,67.4 379.5,71.1 379.6,72.6 379.6,67.1 379.6,73.3 379.7,71.8 379.7,68.7 379.7,67.8 379.8,73.6 379.8,71.1 379.8,70.4 379.9,70.8 379.9,72.5 379.9,68.7 380,71.6 380,70.9 380,75.8 380.1,70.5 380.1,75 380.1,68.6 380.1,69.1 380.2,71.5 380.2,69.8 380.2,69.9 380.3,70.5 380.3,69.3 380.3,70.5 380.4,71.4 380.4,72.1 380.4,66 380.5,69.6 380.5,70 380.5,68.3 380.6,70.9 380.6,70.9 380.6,68.3 380.7,67.5 380.7,68.4 380.7,73.6 380.8,69.8 380.8,70 380.8,68.9 380.8,72.2 380.9,72.5 380.9,70.2 380.9,72 381,72.5 381,70 381,67.5 381.1,69.4 381.1,67 381.1,72.1 381.2,68 381.2,69.7 381.2,71.8 381.3,70.6 381.3,71.7 381.3,70.2 381.3,71.5 381.4,66.6 381.4,70.4 381.4,73 381.5,69.9 381.5,68.6 381.5,70.3 381.5,67.5 381.6,71.8 381.6,71.7 381.6,65.7 381.7,69.7 381.7,68.4 381.7,68.5 381.8,68.4 381.8,69.7 381.8,70.2 381.9,67.3 381.9,71.1 381.9,69.8 382,68.4 382,71 382,73.7 382.1,69 382.1,67.5 382.1,69.5 382.2,74.2 382.2,68.6 382.2,65.5 382.2,74 382.3,76.8 382.3,70.9 382.3,70 382.4,68.4 382.4,68.3 382.4,70 382.5,68.9 382.5,69.4 382.5,69.9 382.6,70.4 382.6,70.7 382.6,68.6 382.7,69.3 382.7,71.3 382.7,67.8 382.8,72.1 382.8,71 382.8,70.1 382.9,75 382.9,71.4 382.9,68.5 382.9,68.6 383,73.4 383,72.5 383,73.1 383.1,71.2 383.1,70.9 383.1,74.6 383.2,70.1 383.2,70.6 383.2,71 383.3,72.4 383.3,71.2 383.3,75.1 383.4,70.2 383.4,70.3 383.4,71.1 383.5,73.6 383.5,67.8 383.5,68.1 383.6,75.2 383.6,69.7 383.6,70.2 383.6,76.7 383.7,69.5 383.7,69.2 383.7,69 383.8,70.4 383.8,72.3 383.8,71.9 383.8,69.5 383.9,67.9 383.9,71.8 383.9,71.3 384,69.2 384,75.7 384,69.9 384.1,71.5 384.1,75.9 384.1,69.5 384.2,73.3 384.2,69.8 384.2,68.7 384.3,74.4 384.3,74.3 384.3,71.9 384.4,75.7 384.4,70.7 384.4,71.9 384.4,70.3 384.5,76.3 384.5,72.3 384.5,71.9 384.6,76.8 384.6,71.3 384.6,76.1 384.7,72.9 384.7,76.2 384.7,71.7 384.8,69.7 384.8,73.4 384.8,73.5 384.9,70.7 384.9,74.8 384.9,73.6 385,71.9 385,72.9 385,70.3 385,71.1 385.1,69.4 385.1,74 385.1,71.3 385.1,75.8 385.2,71.7 385.2,69.7 385.2,68.3 385.3,76.6 385.3,74 385.3,71.9 385.4,75.4 385.4,72.2 385.4,72.1 385.5,74.4 385.5,74.4 385.5,75.2 385.6,72.4 385.6,70.3 385.6,72.3 385.7,67.1 385.7,75.6 385.7,73.5 385.8,70.9 385.8,74.3 385.8,71.2 385.8,70.1 385.9,71.1 385.9,71.8 385.9,69.4 386,70.3 386,69.5 386,69.6 386.1,71.8 386.1,72.6 386.1,71 386.2,69.8 386.2,70.3 386.2,67.9 386.3,69.1 386.3,67.6 386.3,69.1 386.4,70.6 386.4,67.5 386.4,68 386.5,70.5 386.5,69.5 386.5,62.9 386.5,75.5 386.6,66 386.6,68.1 386.6,68.3 386.7,68.6 386.7,69 386.7,62.6 386.8,68.7 386.8,68.4 386.8,65.8 386.9,66.8 386.9,68.1 386.9,68.2 387,70.6 387,64.9 387,70 387.1,73.2 387.1,64.9 387.1,65.5 387.1,66.4 387.2,68.4 387.2,64.4 387.2,69.8 387.2,72.5 387.3,66.9 387.3,65.3 387.3,65.8 387.4,62.3 387.4,65.3 387.4,68 387.5,67.9 387.5,65.4 387.5,67.7 387.6,67.9 387.6,71.8 387.6,68.3 387.7,70.7 387.7,67.1 387.7,67.3 387.8,65.9 387.8,63.3 387.8,68 387.9,64 387.9,70.3 387.9,67.1 388,65.3 388,62.8 388,70.2 388,68.2 388.1,67.2 388.1,67.8 388.1,69.9 388.2,71.6 388.2,70.6 388.2,67.8 388.3,70.8 388.3,63.2 388.3,64.6 388.4,72.2 388.4,68.8 388.4,64.4 388.5,64.2 388.5,64.9 388.5,71.1 388.6,68.6 388.6,64.6 388.6,67.5 388.7,68.9 388.7,66.5 388.7,65.4 388.7,67.5 388.8,67.3 388.8,65.4 388.8,69.4 388.9,70.2 388.9,66.2 388.9,71 389,66.9 389,69.9 389,66.2 389.1,71.2 389.1,65.7 389.1,67.7 389.2,69.1 389.2,70.4 389.2,68.7 389.3,70.6 389.3,71.4 389.3,65.9 389.4,67.1 389.4,65.6 389.4,71.8 389.4,73.3 389.5,72.4 389.5,67 389.5,66.7 389.6,73.2 389.6,66.3 389.6,69.8 389.7,71.6 389.7,68.9 389.7,67.4 389.8,69.3 389.8,69.3 389.8,71 389.9,72.4 389.9,69.9 389.9,73 390,67.7 390,71.2 390,65.9 390.1,73 390.1,65.8 390.1,71.4 390.1,71.3 390.2,68.5 390.2,67.1 390.2,69.3 390.3,70.1 390.3,64.5 390.3,68 390.4,72.2 390.4,70 390.4,65.3 390.5,68.6 390.5,67.4 390.5,64.5 390.6,70.9 390.6,68.5 390.6,71.1 390.7,69.5 390.7,68.1 390.7,72.6 390.7,69 390.8,68.9 390.8,66.8 390.8,70.9 390.8,72.5 390.9,68.5 390.9,72.2 390.9,69 391,68.1 391,71.7 391,69.9 391.1,72.2 391.1,76.6 391.1,73.3 391.2,74.9 391.2,69.8 391.2,72.5 391.3,70.3 391.3,70 391.3,67.3 391.4,70.8 391.4,70.9 391.4,68.9 391.5,66.1 391.5,70.2 391.5,69.1 391.5,70.5 391.6,71.6 391.6,73.8 391.6,70.2 391.7,70.7 391.7,70.7 391.7,65.3 391.8,70.9 391.8,69.3 391.8,70.9 391.9,67.3 391.9,70.9 391.9,65.7 392,70.9 392,68.4 392,67.8 392.1,70.9 392.1,68.2 392.1,70.1 392.2,72.2 392.2,72 392.2,69.6 392.3,66.1 392.3,71.6 392.3,69 392.3,72.3 392.4,69.8 392.4,73.6 392.4,72.3 392.5,70.4 392.5,72.3 392.5,71.2 392.6,68.1 392.6,71 392.6,72.5 392.7,73.7 392.7,72 392.7,67.8 392.8,70.8 392.8,71.1 392.8,68.9 392.9,68.6 392.9,68.2 392.9,71.5 393,72.9 393,74.7 393,72.4 393,71.6 393.1,68.9 393.1,69.9 393.1,72.1 393.2,68.6 393.2,73.8 393.2,73.3 393.3,73.6 393.3,73.4 393.3,71.4 393.4,72.8 393.4,72.7 393.4,67.6 393.5,74.4 393.5,73.4 393.5,71.5 393.6,69.8 393.6,69.7 393.6,71.5 393.7,71.8 393.7,71.5 393.7,69 393.7,73.1 393.8,76.6 393.8,70.4 393.8,73.7 393.9,71 393.9,67.4 393.9,70.5 394,66.4 394,74.9 394,70.4 394.1,70 394.1,69 394.1,72.8 394.2,70.6 394.2,70.8 394.2,70.8 394.3,74.3 394.3,75.1 394.3,69.6 394.4,70.2 394.4,71 394.4,69.5 394.4,68.5 394.5,74 394.5,69.3 394.5,67.5 394.6,68.7 394.6,69.7 394.6,69.4 394.7,74.7 394.7,72.3 394.7,68.7 394.8,67.6 394.8,70.1 394.8,72.3 394.9,71.6 394.9,69.1 394.9,66.3 395,69.2 395,72.4 395,69.6 395.1,70 395.1,65.1 395.1,69.4 395.1,70.8 395.1,71.1 395.2,73.9 395.2,73.5 395.2,72 395.3,72.9 395.3,70.3 395.3,70.6 395.4,68.6 395.4,67.1 395.4,70.4 395.5,71.3 395.5,75.3 395.5,69.8 395.6,69.2 395.6,72.7 395.6,71.8 395.7,72.4 395.7,68.2 395.7,69.3 395.8,67.9 395.8,73.9 395.8,64.4 395.9,73 395.9,73.3 395.9,70.4 395.9,72.2 396,66.4 396,71.8 396,72.4 396.1,68.4 396.1,67.7 396.1,72.8 396.2,71.8 396.2,71.5 396.2,71.1 396.3,66.6 396.3,67.7 396.3,68.3 396.4,67.7 396.4,70.8 396.4,68.7 396.5,71 396.5,72.5 396.5,66.7 396.6,75 396.6,70.8 396.6,72.3 396.6,74.9 396.7,71.8 396.7,70.8 396.7,69.8 396.8,72.9 396.8,69 396.8,70.1 396.9,68.9 396.9,75.5 396.9,72 397,72.4 397,69.5 397,72.7 397.1,72.2 397.1,73.7 397.1,73.9 397.2,73.3 397.2,68.6 397.2,73.6 397.3,76.9 397.3,70.2 397.3,72.1 397.3,69.7 397.4,69.8 397.4,71.8 397.4,72.1 397.5,72.4 397.5,71.1 397.5,72.9 397.6,70.5 397.6,67.7 397.6,72.6 397.7,72.5 397.7,72.4 397.7,69.4 397.8,69.4 397.8,67.4 397.8,69.1 397.9,70.7 397.9,69.9 397.9,74.2 398,69.6 398,70.5 398,65.8 398,67.4 398.1,72.8 398.1,72.2 398.1,68.7 398.2,75.9 398.2,73.1 398.2,70 398.3,69.3 398.3,70.4 398.3,68.1 398.4,71.6 398.4,70.7 398.4,71.4 398.5,73.7 398.5,71 398.5,72.4 398.6,70.9 398.6,77.4 398.6,70.8 398.7,72.4 398.7,72.7 398.7,71 398.7,72.2 398.8,68.8 398.8,68.1 398.8,69 398.9,68.8 398.9,70.1 398.9,70.9 399,74.2 399,71.9 399,68 399.1,69.1 399.1,72.1 399.1,70.6 399.2,68.3 399.2,71.2 399.2,66.9 399.3,72.7 399.3,68.9 399.3,69.1 399.4,70.4 399.4,70.1 399.4,69.5 399.5,76.3 399.5,69.7 399.5,68 399.5,69.8 399.6,68 399.6,73.7 399.6,70.9 399.7,69.9 399.7,71.5 399.7,68 399.8,69.6 399.8,72 399.8,68.7 399.9,68.8 399.9,71.8 399.9,69.3 400,69.8 400,69.8 400,73.7 400.1,67.6 400.1,69.1 400.1,70.8 400.2,69.9 400.2,69.9 400.2,71.4 400.2,72.1 400.3,70.4 400.3,72.1 400.3,71.8 400.4,73.6 400.4,71.4 400.4,68.3 400.5,70.1 400.5,70.5 400.5,71.3 400.6,71.6 400.6,74.3 400.6,66.6 400.7,72.3 400.7,74.2 400.7,69.6 400.8,69.9 400.8,71.8 400.8,74 400.9,73.8 400.9,66.6 400.9,70.8 400.9,72.1 401,66 401,71.9 401,72.8 401.1,69.1 401.1,69.6 401.1,66.5 401.2,74.1 401.2,69.7 401.2,74.5 401.3,69.2 401.3,71.8 401.3,71.3 401.4,72 401.4,68.1 401.4,66.2 401.5,70.4 401.5,70.8 401.5,71.4 401.6,68.9 401.6,72.7 401.6,61.6 401.6,70.8 401.7,66.1 401.7,69.9 401.7,73.6 401.7,74 401.8,71.2 401.8,71.9 401.8,70.7 401.9,72.8 401.9,64.3 401.9,64.9 402,74.4 402,68.8 402,66.9 402.1,70.7 402.1,70.4 402.1,67.2 402.2,68.5 402.2,72.8 402.2,66.8 402.3,71 402.3,65.3 402.3,72.2 402.3,75.4 402.4,69.5 402.4,66.8 402.4,68.5 402.5,69.4 402.5,72.1 402.5,67.6 402.6,74.2 402.6,67.8 402.6,72.5 402.7,71.1 402.7,72.8 402.7,71.9 402.8,66 402.8,72.7 402.8,69.4 402.9,71.7 402.9,67.3 402.9,73.1 403,69.8 403,67.6 403,64.3 403,72.6 403.1,71.8 403.1,69.8 403.1,66.1 403.2,72.2 403.2,67.6 403.2,71.1 403.3,72 403.3,73.3 403.3,69.1 403.4,66.9 403.4,69.6 403.4,74.6 403.5,70.8 403.5,66.9 403.5,67.1 403.6,68.6 403.6,65.6 403.6,72.4 403.7,72.4 403.7,63.5 403.7,67.7 403.8,69.9 403.8,70.6 403.8,75.7 403.8,67.3 403.9,74.5 403.9,74.3 403.9,69.6 404,65.7 404,70.4 404,68.5 404.1,70.6 404.1,68.5 404.1,73.6 404.2,64.3 404.2,71.8 404.2,68 404.3,74.5 404.3,65 404.3,68.4 404.4,64.5 404.4,71.1 404.4,66.9 404.5,69.9 404.5,69.4 404.5,66.1 404.5,71.5 404.6,67.4 404.6,64.5 404.6,65 404.7,66.6 404.7,68.4 404.7,71.6 404.8,65.7 404.8,70.9 404.8,66.3 404.9,70 404.9,69.2 404.9,69.3 405,67.8 405,70.3 405,68.8 405.1,70.5 405.1,67.8 405.1,68.4 405.2,68.1 405.2,71.3 405.2,68.5 405.2,69.1 405.3,67.8 405.3,69 405.3,71.5 405.4,67.3 405.4,70.8 405.4,68.4 405.5,74.2 405.5,67.9 405.5,67.5 405.6,71.5 405.6,67.6 405.6,70 405.7,65.6 405.7,67.4 405.7,72.1 405.8,69.5 405.8,73.5 405.8,69.9 405.9,67.8 405.9,67.1 405.9,69.5 405.9,69.8 406,68.7 406,70.6 406,68.3 406.1,66.3 406.1,68.6 406.1,66.8 406.2,70.9 406.2,70.1 406.2,68.1 406.3,63.9 406.3,66.4 406.3,64.7 406.4,68.8 406.4,65.9 406.4,73.2 406.5,67.7 406.5,74.1 406.5,65.8 406.6,67.7 406.6,65.9 406.6,67.7 406.6,69.9 406.7,70.5 406.7,68.1 406.7,64.9 406.8,67.1 406.8,70 406.8,70 406.9,70.3 406.9,69 406.9,68.8 407,69.7 407,68.5 407,72.5 407.1,64.7 407.1,68 407.1,64.9 407.2,67.9 407.2,69.1 407.2,68.4 407.3,68 407.3,70.2 407.3,69.5 407.4,63.9 407.4,66.3 407.4,69.8 407.4,67.3 407.5,70.5 407.5,65 407.5,70.8 407.6,66.1 407.6,68.3 407.6,68.3 407.7,70.3 407.7,69 407.7,70.2 407.8,70.5 407.8,67.3 407.8,62.2 407.8,69.2 407.9,65.9 407.9,68.4 407.9,70.1 408,65 408,66.7 408,65.6 408.1,68.1 408.1,68 408.1,70.5 408.1,69.1 408.2,64.4 408.2,74.2 408.2,67.8 408.3,65.2 408.3,66.8 408.3,66.7 408.4,69.6 408.4,66.2 408.4,66.2 408.5,69.2 408.5,65 408.5,70.3 408.6,75.2 408.6,69.3 408.6,69.5 408.7,71.3 408.7,70.4 408.7,70.7 408.8,73.9 408.8,66.5 408.8,69.5 408.8,63 408.9,69.6 408.9,68.6 408.9,73.2 409,67.2 409,72.3 409,68.4 409.1,67.6 409.1,67.9 409.1,71.8 409.2,71.8 409.2,68.1 409.2,67.2 409.3,66.6 409.3,70.1 409.3,70.3 409.4,65.8 409.4,71.5 409.4,68.3 409.5,70.8 409.5,73.5 409.5,72.9 409.5,69.1 409.6,69.7 409.6,69.1 409.6,71.2 409.7,71.6 409.7,69.8 409.7,70.9 409.8,74.3 409.8,71.6 409.8,66.6 409.9,72.4 409.9,69.3 409.9,70.8 409.9,69 410,72.7 410,73.7 410,69.9 410.1,72.6 410.1,71.2 410.1,71.8 410.2,69.2 410.2,70.8 410.2,71.2 410.2,73.7 410.3,75.1 410.3,73.7 410.3,70.2 410.4,70.6 410.4,70.8 410.4,73.1 410.5,74.6 410.5,70 410.5,72.2 410.6,71.4 410.6,74.9 410.6,74.4 410.7,71.3 410.7,71.2 410.7,75.4 410.8,72.5 410.8,75.9 410.8,70.1 410.8,71.5 410.9,67.7 410.9,69.5 410.9,74.8 410.9,72.8 411,74.4 411,72.9 411,71.3 411.1,73.3 411.1,73.1 411.1,76.4 411.2,71.9 411.2,73.3 411.2,71.7 411.3,70.6 411.3,73.1 411.3,71.4 411.4,74.6 411.4,70.8 411.4,73.1 411.5,74.4 411.5,73.5 411.5,76.3 411.6,74.4 411.6,73.5 411.6,72.8 411.7,72.7 411.7,72.7 411.7,72.5 411.7,72.5 411.8,72.5 411.8,71.3 411.8,67.3 411.8,61.3 411.9,53.9 411.9,45.7 411.9,37.4 412,29.8 412,23.5 412,19.3 412.1,17.7 412.1,17.6 412.1,17.6 412.1,17.7 412.2,17.7 412.2,18.1 412.2,18.1 412.3,20.3 412.3,17.5 412.3,20 412.4,17.1 412.4,19.1 412.4,20.2 412.4,19.3 412.5,18.8 412.5,19 412.5,19.3 412.5,19.8 412.6,20.4 412.6,21 412.6,22.4 412.7,23.2 412.7,24.8 412.7,25.7 412.8,27 412.8,28.6 412.8,30 412.9,31.7 412.9,32.9 412.9,34.5 413,36 413,37.4 413,38.7 413.1,40.1 413.1,41.4 413.1,42.2 413.1,42.5 413.1,43.8 413.2,44.9 413.2,45.8 413.2,47.7 413.3,48.5 413.3,49.6 413.3,50.9 413.4,51.8 413.4,53.2 413.4,54 413.5,55.3 413.5,56.7 413.5,57.9 413.6,59 413.6,60.1 413.6,61 413.7,62.3 413.7,63.3 413.7,64.6 413.8,65.6 413.8,67.1 413.8,67.7 413.8,68.7 413.9,69.3 413.9,70.1 413.9,70.8 413.9,71.7 414,73 414,73.5 414,74.5 414.1,75.9 414.1,76.7 414.1,77.7 414.2,79 414.2,79.6 414.2,80.6 414.3,81.9 414.3,82.5 414.3,83.3 414.4,84.8 414.4,85.2 414.4,86.3 414.5,87.6 414.5,88.4 414.5,89.2 414.5,89.6 414.6,90.6 414.6,91.3 414.6,92.4 414.7,92.5 414.7,93.7 414.7,94.1 414.8,94 414.8,94.3 414.8,95 414.8,95.3 414.9,95.5 414.9,96.4 414.9,96.1 415,96.5 415,97.9 415,99.2 415.1,99 415.1,98.3 415.1,98.8 415.2,99.2 415.2,99.7 415.2,101.5 415.3,101.4 415.3,101.3 415.3,102.3 415.3,102.1 415.4,104.2 415.4,104.8 415.4,102.3 415.5,103.7 415.5,104.2 415.5,103.7 415.6,103.2 415.6,102.8 415.6,109.1 415.7,106.3 415.7,105.7 415.7,109.7 415.8,110 415.8,108 415.8,105 415.9,106.6 415.9,104.8 415.9,108.1 416,106.8 416,105.8 416,107.9 416,109 416.1,108.7 416.1,117.5 416.1,108.3 416.2,113.5 416.2,111 416.2,107.4 416.2,108.2 416.3,114 416.3,107.8 416.3,107.3 416.4,108.6 416.4,107.4 416.4,107.7 416.5,113.1 416.5,109.4 416.5,109.5 416.6,111.6 416.6,108.7 416.6,110.5 416.7,108.7 416.7,110.5 416.7,106 416.7,103.3 416.8,109.6 416.8,108.2 416.8,108.1 416.9,107.1 416.9,108.3 416.9,112.6 417,106.9 417,107.9 417,109.6 417.1,107.7 417.1,108.2 417.1,106.5 417.2,107.5 417.2,107.2 417.2,106.3 417.3,105.8 417.3,106 417.3,103.6 417.4,105.2 417.4,106.8 417.4,102.1 417.4,104.8 417.5,102.1 417.5,106.6 417.5,103.4 417.6,101.2 417.6,101.9 417.6,103.8 417.7,104.7 417.7,104.6 417.7,103.6 417.8,104.7 417.8,104.1 417.8,104.2 417.9,104 417.9,101.9 417.9,104.7 418,101.5 418,100.5 418,102.7 418.1,102.4 418.1,100.7 418.1,100.6 418.1,98.9 418.2,102.9 418.2,99.8 418.2,97.6 418.3,99.2 418.3,96.6 418.3,95.7 418.4,99.1 418.4,96.1 418.4,97.2 418.5,97.6 418.5,97.6 418.5,97.2 418.6,97.7 418.6,96.5 418.6,94.7 418.7,94 418.7,95.6 418.7,94.2 418.8,94.1 418.8,97.3 418.8,93.2 418.8,95.3 418.9,95 418.9,92.4 418.9,91.1 419,94 419,93.5 419,93.3 419.1,92.5 419.1,91.9 419.1,92.2 419.2,92.8 419.2,88.6 419.2,90.9 419.3,90.9 419.3,88.7 419.3,89.8 419.4,88 419.4,87.9 419.4,87.4 419.5,88.6 419.5,87.1 419.5,89.2 419.6,88.6 419.6,86.7 419.6,86.8 419.6,84.6 419.7,86 419.7,87.2 419.7,84.9 419.8,84.9 419.8,84 419.8,85.1 419.9,84.3 419.9,83.1 419.9,82 420,81.9 420,81.2 420,83.1 420.1,81.5 420.1,80.6 420.1,79.5 420.2,79.8 420.2,80 420.2,79.5 420.3,79.2 420.3,80.2 420.3,78.4 420.3,77.2 420.4,77 420.4,79.3 420.4,76.9 420.5,78 420.5,75.1 420.5,75.3 420.6,74.7 420.6,75.6 420.6,76.6 420.7,75.4 420.7,74.2 420.7,74.9 420.8,74 420.8,70.8 420.8,73.6 420.9,71.2 420.9,73.4 420.9,70.9 421,69.9 421,69.9 421,68.7 421,67.6 421.1,70.5 421.1,68.4 421.1,67.8 421.2,67.5 421.2,65.9 421.2,67 421.3,65.6 421.3,65.2 421.3,65.9 421.4,65.1 421.4,66.2 421.4,64.8 421.5,64.6 421.5,64.6 421.5,64.6 421.6,62.7 421.6,63.6 421.6,60.7 421.7,61.5 421.7,61.7 421.7,62.9 421.7,60.9 421.8,61.5 421.8,61.2 421.8,62.2 421.9,60 421.9,60.1 421.9,60.6 422,60.5 422,59.7 422,60.8 422.1,59.6 422.1,56.9 422.1,59.1 422.2,55.1 422.2,59.3 422.2,56 422.3,55.7 422.3,55.3 422.3,55.8 422.4,58.5 422.4,54.7 422.4,54.5 422.4,55.7 422.5,58.6 422.5,53.7 422.5,56.2 422.6,55 422.6,52.7 422.6,52.2 422.7,53.2 422.7,54.3 422.7,50.9 422.8,51.5 422.8,53.1 422.8,54.1 422.9,52 422.9,54.3 422.9,49.3 423,51 423,52.1 423,50.7 423.1,53.8 423.1,51 423.1,51.6 423.2,52.9 423.2,51.2 423.2,49.4 423.2,52.1 423.3,49.9 423.3,51.7 423.3,48.7 423.4,52 423.4,47.4 423.4,47.3 423.5,46.8 423.5,44.8 423.5,47.6 423.6,47.6 423.6,46.4 423.6,48.4 423.7,51 423.7,49.6 423.7,49.4 423.8,46.4 423.8,47.9 423.8,47.3 423.9,45.2 423.9,45.9 423.9,41.9 423.9,46.1 424,48 424,43.1 424,46.6 424.1,45.7 424.1,43.2 424.1,45 424.2,43.8 424.2,46.6 424.2,45.9 424.3,43.6 424.3,46.3 424.3,45.9 424.4,45.1 424.4,41.1 424.4,41.4 424.5,44.3 424.5,44.6 424.5,46.5 424.6,41.5 424.6,43.7 424.6,42.4 424.6,48 424.7,42.6 424.7,44.1 424.7,42.6 424.7,41.9 424.8,44.5 424.8,45.4 424.8,42.9 424.9,47.5 424.9,41.2 424.9,43.8 425,47.4 425,41.6 425,42.4 425.1,41.2 425.1,42.5 425.1,43.8 425.2,45 425.2,47.5 425.2,43.3 425.3,43.7 425.3,46.2 425.3,43.9 425.3,47.4 425.4,42.9 425.4,45.1 425.4,44.9 425.5,47.2 425.5,43.6 425.5,45.4 425.6,47.1 425.6,45.1 425.6,46.5 425.7,43.8 425.7,49.5 425.7,48.8 425.8,42.1 425.8,47.6 425.8,45.6 425.9,47.7 425.9,46.5 425.9,41.7 426,51.2 426,46.2 426,47.3 426,47.5 426.1,49.2 426.1,49.6 426.1,45.3 426.2,47.1 426.2,50.7 426.2,48.5 426.3,50.9 426.3,44.6 426.3,48.6 426.4,51.3 426.4,48.7 426.4,49.2 426.4,49.7 426.5,50.1 426.5,51 426.5,51.7 426.6,53 426.6,53.6 426.6,55 426.7,56.6 426.7,58.4 426.7,60.3 426.8,62.2 426.8,64.3 426.8,66.4 426.8,68.5 426.9,70.7 426.9,73 426.9,75.4 427,77.9 427,80.5 427,82.9 427.1,85.4 427.1,88 427.1,90.4 427.2,92.9 427.2,95.2 427.2,97.8 427.3,100.1 427.3,102.2 427.3,104.5 427.4,106.6 427.4,108.4 427.4,110.4 427.5,112.1 427.5,113.4 427.5,115.1 427.5,116.4 427.6,117 427.6,118.6 427.6,118.9 427.7,119.2 427.7,119.9 427.7,120.4 427.7,119.6 427.8,120.1 427.8,118.7 427.8,118.2 427.9,118.4 427.9,117 427.9,116.1 428,114.7 428,113.3 428,111.7 428.1,109.8 428.1,108 428.1,105.9 428.2,103.8 428.2,101.5 428.2,99.1 428.2,96.6 428.3,94.1 428.3,91.6 428.3,88.8 428.4,86 428.4,83.2 428.4,80.4 428.5,77.5 428.5,74.6 428.5,71.7 428.6,68.7 428.6,65.8 428.6,62.8 428.7,59.8 428.7,57 428.7,54 428.8,51.3 428.8,48.5 428.8,45.7 428.9,43.2 428.9,40.6 428.9,38.1 428.9,35.8 429,33.4 429,31.2 429,29.2 429.1,27.2 429.1,25.6 429.1,23.9 429.2,22.5 429.2,21.3 429.2,20 429.3,18.6 429.3,17.9 429.3,16.9 429.4,17.1 429.4,17.3 429.4,18 429.4,16.8 429.5,15.5 429.5,15.5 429.5,15.5 429.6,18.3 429.6,16.9 429.6,19 429.6,15.4 429.7,16 429.7,18.9 429.7,17.3 429.8,22.8 429.8,16.2 429.8,19.7 429.9,18.8 429.9,16.9 429.9,16.8 430,19.7 430,15.1 430,14.4 430.1,15.8 430.1,16.3 430.1,18.9 430.2,16.5 430.2,21.1 430.2,21.7 430.3,19.4 430.3,19.4 430.3,21.6 430.3,17.2 430.4,22.8 430.4,23.8 430.4,21.4 430.4,18.8 430.5,20.3 430.5,21.1 430.5,21.7 430.6,21.8 430.6,22.6 430.6,23.3 430.7,24 430.7,25.5 430.7,24.7 430.8,26 430.8,26.3 430.8,27.1 430.9,27.6 430.9,29 430.9,29.2 431,30 431,31.2 431,32.1 431.1,32.9 431.1,34.1 431.1,34.6 431.1,35.8 431.2,35.8 431.2,37.3 431.2,38.2 431.3,38.7 431.3,39.4 431.3,40.5 431.4,41.5 431.4,41.7 431.4,42.2 431.5,43.9 431.5,43.6 431.5,45.5 431.6,45 431.6,46.1 431.6,46.2 431.6,46.2 431.7,46.4 431.7,46.5 431.7,47.4 431.8,48.3 431.8,50.1 431.8,50.1 431.8,50.2 431.9,51.3 431.9,51 431.9,52.1 432,51.2 432,53 432,54.2 432.1,54.2 432.1,54.8 432.1,54.2 432.2,54.2 432.2,54.9 432.2,55.4 432.3,57.1 432.3,57.9 432.3,58.1 432.4,57.8 432.4,58.6 432.4,58.6 432.5,58.4 432.5,59.7 432.5,58.9 432.5,61.3 432.6,60.8 432.6,61.8 432.6,61.5 432.7,62.7 432.7,63.4 432.7,63.6 432.8,64.6 432.8,65.1 432.8,63.8 432.8,65.3 432.9,64.5 432.9,64 432.9,66.7 433,66.3 433,67.4 433,69.3 433.1,68.4 433.1,67.9 433.1,70.3 433.2,70.1 433.2,70.5 433.2,71.9 433.2,71 433.3,71.8 433.3,71.7 433.3,72.6 433.4,74.2 433.4,73.4 433.4,73.5 433.5,74.6 433.5,74.5 433.5,74.9 433.6,77.5 433.6,75.8 433.6,78.3 433.7,78.2 433.7,77.8 433.7,78.9 433.8,79.1 433.8,78.1 433.8,80.3 433.9,78.8 433.9,78.7 433.9,79.4 433.9,81.9 434,82.7 434,81.8 434,80.1 434,82.4 434.1,83.1 434.1,83.1 434.1,82.8 434.2,82.8 434.2,84.2 434.2,84.7 434.3,84.7 434.3,85.5 434.3,86.4 434.4,87.9 434.4,86.9 434.4,87.9 434.5,88 434.5,88.5 434.5,89.3 434.6,88.7 434.6,88.7 434.6,89.6 434.7,91 434.7,90.8 434.7,90.9 434.7,91.9 434.8,91.5 434.8,93.7 434.8,93.2 434.9,92 434.9,92.7 434.9,94.3 435,94.4 435,92.5 435,94 435.1,96.5 435.1,95.5 435.1,96.9 435.2,97.4 435.2,98.7 435.2,96 435.3,93.6 435.3,96 435.3,100.1 435.4,96.7 435.4,100.9 435.4,97.5 435.4,95.7 435.5,94.8 435.5,97.9 435.5,97.5 435.5,98.1 435.6,98.6 435.6,94.4 435.6,100.4 435.7,101.9 435.7,93.8 435.7,92.5 435.8,101.9 435.8,95.6 435.8,95.9 435.9,98.9 435.9,100.2 435.9,97.5 436,98.6 436,95.8 436,99.3 436.1,94.9 436.1,99.3 436.1,93.9 436.1,95.6 436.2,95 436.2,98.7 436.2,98.3 436.3,97.9 436.3,94.8 436.3,99.1 436.4,99.2 436.4,97.8 436.4,96.5 436.5,97.4 436.5,97.3 436.5,100.1 436.6,98.5 436.6,99.4 436.6,94.3 436.7,96.7 436.7,95 436.7,99.5 436.8,96.5 436.8,95.5 436.8,98.7 436.8,97.6 436.9,97.3 436.9,95.7 436.9,95.3 437,99.1 437,95.2 437,95.3 437.1,95.1 437.1,97.5 437.1,95.6 437.2,92.6 437.2,92.7 437.2,96.4 437.3,91.6 437.3,95.8 437.3,96.8 437.4,92.4 437.4,93.9 437.4,89.6 437.5,95 437.5,94.1 437.5,92.7 437.5,93.5 437.6,94.8 437.6,93.8 437.6,93.8 437.7,93.7 437.7,93.5 437.7,96.6 437.8,91.4 437.8,94.4 437.8,93.5 437.9,94.5 437.9,93.1 437.9,90.6 438,89.8 438,91.7 438,91.9 438.1,93.1 438.1,92.6 438.1,91.4 438.2,92.1 438.2,93.5 438.2,91.3 438.2,93.4 438.3,87.2 438.3,90.5 438.3,92 438.4,89.8 438.4,92 438.4,90.8 438.5,87.1 438.5,87.4 438.5,92.1 438.6,91.7 438.6,90.4 438.6,85 438.7,88.9 438.7,88.3 438.7,89.7 438.8,86 438.8,86.5 438.8,91.4 438.9,89.6 438.9,91.3 438.9,89.9 439,89 439,89.9 439,88.4 439,85.7 439.1,84.8 439.1,86.4 439.1,85.1 439.2,88.7 439.2,83.4 439.2,81.7 439.3,86 439.3,84.6 439.3,84.7 439.4,89.1 439.4,83.1 439.4,84 439.5,87.6 439.5,85.1 439.5,82.1 439.6,82.9 439.6,86.3 439.6,84.6 439.7,84.5 439.7,82.7 439.7,84.1 439.7,82.6 439.8,82.7 439.8,84.9 439.8,81.3 439.9,81.3 439.9,82.8 439.9,80 440,77 440,83.9 440,80.5 440.1,79.2 440.1,80.5 440.1,81.4 440.2,76.3 440.2,80.9 440.2,80 440.3,80.8 440.3,77.2 440.3,83.1 440.4,80.7 440.4,79.7 440.4,78.2 440.4,77.9 440.5,76.5 440.5,78.3 440.5,79.3 440.6,77.9 440.6,79.1 440.6,78.4 440.7,78.1 440.7,76.5 440.7,75.4 440.8,78.6 440.8,77.6 440.8,76.3 440.9,76.1 440.9,76.4 440.9,74.7 441,76 441,78.5 441,72.9 441.1,77.3 441.1,71.9 441.1,74.2 441.1,73.9 441.2,77 441.2,73.7 441.2,74.3 441.3,75.2 441.3,72.6 441.3,72 441.4,71.1 441.4,75.3 441.4,74.4 441.5,70.2 441.5,71.6 441.5,70.9 441.6,73.2 441.6,71.4 441.6,70.5 441.7,74 441.7,72.8 441.7,70.9 441.8,68.7 441.8,71.8 441.8,69.6 441.8,72.2 441.9,72.7 441.9,69.1 441.9,72 442,69.9 442,70.8 442,68.6 442.1,71.9 442.1,72 442.1,71.9 442.2,69.5 442.2,66.4 442.2,67.1 442.3,68.1 442.3,68.7 442.3,65.9 442.4,68.3 442.4,66 442.4,65.3 442.5,66.5 442.5,66.9 442.5,66.9 442.6,67.7 442.6,66.9 442.6,69 442.6,68.8 442.7,63.8 442.7,67 442.7,69.9 442.8,63.7 442.8,63.5 442.8,65.2 442.9,68.6 442.9,62 442.9,63.7 443,63.3 443,66.1 443,64.6 443.1,65.9 443.1,65.7 443.1,67.5 443.2,66.6 443.2,65.9 443.2,64.7 443.3,62.6 443.3,63.3 443.3,68.2 443.3,62.2 443.4,67.6 443.4,63.3 443.4,64.5 443.5,63.9 443.5,64.9 443.5,66.1 443.6,60.2 443.6,69 443.6,65.5 443.7,60.4 443.7,63.3 443.7,63.2 443.8,65 443.8,65.4 443.8,61.5 443.9,63.1 443.9,61.9 443.9,60.9 444,66.5 444,64.8 444,63.9 444,61.8 444.1,60.7 444.1,64.6 444.1,62.6 444.2,62.4 444.2,62.3 444.2,58.3 444.3,63.5 444.3,61.4 444.3,67.1 444.4,61.9 444.4,61.3 444.4,60 444.5,62.9 444.5,63 444.5,64.5 444.6,62.7 444.6,55.8 444.6,65.5 444.7,65.4 444.7,61.1 444.7,63.5 444.7,58.3 444.8,64.9 444.8,57.2 444.8,62.2 444.9,65.1 444.9,66.4 444.9,63.2 445,62.6 445,60.1 445,63.9 445.1,53.3 445.1,58.7 445.1,61.2 445.1,62.1 445.2,54.2 445.2,62.5 445.2,58.8 445.3,57.1 445.3,63.1 445.3,59.5 445.4,62.1 445.4,57.5 445.4,57.4 445.4,59.7 445.5,60.5 445.5,63.9 445.5,54.9 445.6,57.2 445.6,59.2 445.6,57.3 445.7,60.9 445.7,63.7 445.7,58.6 445.8,63.3 445.8,62.1 445.8,59 445.9,64.6 445.9,60.8 445.9,61.6 446,63.7 446,63.8 446,61.4 446.1,61.7 446.1,60.5 446.1,64.5 446.1,60.6 446.2,64 446.2,62.9 446.2,58.6 446.3,62.6 446.3,62.2 446.3,63 446.4,61 446.4,59 446.4,62 446.5,59.6 446.5,64.4 446.5,60.2 446.6,61.7 446.6,61.3 446.6,63.8 446.7,63 446.7,60.9 446.7,64.4 446.8,59.7 446.8,62.6 446.8,60.5 446.9,64.3 446.9,65.6 446.9,60.1 446.9,60 447,61.7 447,60.1 447,61.7 447.1,60.1 447.1,61.4 447.1,64.1 447.2,59.1 447.2,64.2 447.2,56.5 447.3,62.4 447.3,64.3 447.3,62.6 447.4,61.9 447.4,61.8 447.4,60.8 447.5,63.6 447.5,67.1 447.5,64.2 447.6,61.1 447.6,59.5 447.6,67.1 447.6,62.1 447.7,59.7 447.7,65.8 447.7,58.3 447.8,64.2 447.8,62.7 447.8,63.7 447.9,58.3 447.9,60.5 447.9,62.3 448,63.5 448,66.7 448,63.5 448.1,64.4 448.1,63.2 448.1,67.4 448.2,59.8 448.2,60.8 448.2,59.1 448.3,64.5 448.3,63.3 448.3,66.1 448.3,61.1 448.4,63.9 448.4,59.4 448.4,61.8 448.5,61.8 448.5,62.4 448.5,67.3 448.6,62.1 448.6,67.8 448.6,63.2 448.7,62.5 448.7,66.8 448.7,65.6 448.8,64.5 448.8,63.4 448.8,63.4 448.9,64.1 448.9,66.4 448.9,63.7 449,58.5 449,65.8 449,60.7 449,67.4 449.1,66.1 449.1,61.4 449.1,62.6 449.2,60.9 449.2,63.4 449.2,66.4 449.3,64.9 449.3,66.2 449.3,62.7 449.4,63.6 449.4,62.2 449.4,66.8 449.5,65.8 449.5,66.3 449.5,66.1 449.6,65.6 449.6,62.3 449.6,65 449.7,62.6 449.7,65 449.7,69.8 449.7,68.8 449.8,66.1 449.8,63 449.8,65.8 449.9,69.5 449.9,65.7 449.9,66.5 450,64.5 450,64.1 450,65.5 450.1,67.6 450.1,68.6 450.1,67 450.2,66.4 450.2,65.4 450.2,67.3 450.3,67.7 450.3,65.1 450.3,64.4 450.4,65.7 450.4,68.9 450.4,67.3 450.5,61.5 450.5,69.3 450.5,67.7 450.5,64.6 450.6,69.1 450.6,67.6 450.6,63.8 450.7,64.5 450.7,71.1 450.7,65.5 450.8,67.8 450.8,70.4 450.8,64.6 450.9,68.4 450.9,67.2 450.9,69.2 451,65.3 451,65 451,65.5 451.1,61.8 451.1,66 451.1,68.3 451.2,66.4 451.2,66.9 451.2,66 451.2,73.4 451.3,65.7 451.3,63 451.3,65.8 451.4,69.4 451.4,62.8 451.4,66.2 451.5,63.1 451.5,65.5 451.5,68.6 451.6,71.7 451.6,67.6 451.6,66.7 451.7,68.9 451.7,71.1 451.7,66.1 451.8,69.9 451.8,64.9 451.8,69.6 451.9,67.4 451.9,69.2 451.9,67.5 451.9,67.2 452,73.6 452,70.3 452,70.1 452.1,70.2 452.1,69 452.1,66.2 452.2,71.3 452.2,67.6 452.2,70 452.3,70.8 452.3,72.7 452.3,71.1 452.4,72 452.4,68.3 452.4,65.8 452.5,68.2 452.5,67.8 452.5,71.6 452.6,68 452.6,71.8 452.6,72 452.6,69.3 452.7,71.4 452.7,68.3 452.7,69.4 452.8,70.4 452.8,71.3 452.8,69.5 452.9,69.4 452.9,69.9 452.9,67.4 453,71.5 453,73.5 453,73.3 453.1,72.6 453.1,72.5 453.1,70.5 453.2,66.3 453.2,72.7 453.2,72.4 453.3,71.8 453.3,72.9 453.3,72.4 453.3,68.8 453.4,67.4 453.4,72.2 453.4,70.7 453.5,68.3 453.5,69.8 453.5,71 453.6,69.7 453.6,70.9 453.6,72.3 453.7,69.5 453.7,72.2 453.7,72 453.8,70.1 453.8,73.6 453.8,69.1 453.9,72.5 453.9,73.1 453.9,69.5 454,69.3 454,68.7 454,67.9 454.1,73.5 454.1,71.8 454.1,73.8 454.1,73 454.2,69.2 454.2,70.5 454.2,70.6 454.3,70.3 454.3,72.3 454.3,68.3 454.4,73.8 454.4,69.8 454.4,72.9 454.5,73.7 454.5,66.7 454.5,72.4 454.6,69.8 454.6,73.4 454.6,73.2 454.7,68.7 454.7,70.5 454.7,71.3 454.8,70.3 454.8,70 454.8,69.5 454.8,70.4 454.9,69.9 454.9,70.9 454.9,71.2 455,68.9 455,76.8 455,69.7 455.1,71.6 455.1,71.2 455.1,72.3 455.2,73.4 455.2,70.3 455.2,74.6 455.2,74.1 455.3,74.1 455.3,67.8 455.3,71.7 455.4,71.7 455.4,75 455.4,71.5 455.5,69.7 455.5,74.4 455.5,71.7 455.5,71.3 455.6,70.3 455.6,69.4 455.6,67 455.7,71.6 455.7,71.4 455.7,73 455.8,69.2 455.8,71.5 455.8,70.3 455.9,69.9 455.9,71.9 455.9,72 456,71.2 456,71.3 456,71.4 456.1,71.9 456.1,71.7 456.1,68.7 456.2,72.9 456.2,71.3 456.2,71.5 456.2,69 456.3,72.8 456.3,72 456.3,72.7 456.4,69.6 456.4,70.1 456.4,70.6 456.5,71.2 456.5,66.2 456.5,70.8 456.6,76 456.6,74.9 456.6,74.8 456.7,72.5 456.7,74.9 456.7,71.4 456.8,74.8 456.8,71.4 456.8,72.8 456.9,70.1 456.9,71 456.9,73.6 456.9,67.1 457,74 457,72.6 457,74.7 457.1,69 457.1,69.1 457.1,71.5 457.2,77 457.2,69.4 457.2,67 457.3,73.3 457.3,70.1 457.3,69.1 457.4,71.2 457.4,74.2 457.4,71.9 457.5,73 457.5,70.1 457.5,75.6 457.6,70.1 457.6,71.3 457.6,75.1 457.6,73.8 457.7,70.1 457.7,68.3 457.7,69.2 457.8,64.4 457.8,70.9 457.8,74.2 457.9,71.4 457.9,73.1 457.9,77.1 458,68.8 458,73.8 458,73.5 458.1,67 458.1,72.8 458.1,73.2 458.2,69.3 458.2,66.8 458.2,75.7 458.3,73.8 458.3,72.6 458.3,69.2 458.4,70.5 458.4,68.4 458.4,74.6 458.4,71.5 458.5,67.7 458.5,75.6 458.5,68.6 458.6,73.2 458.6,70.5 458.6,73.7 458.7,69.6 458.7,69.3 458.7,71.6 458.8,67.2 458.8,73.5 458.8,68.9 458.9,73.9 458.9,68.9 458.9,69.3 459,72.9 459,67.4 459,71.4 459.1,74.6 459.1,71.9 459.1,68.9 459.1,71 459.2,68.9 459.2,67.6 459.2,69 459.3,69.6 459.3,70.4 459.3,69.8 459.4,67.5 459.4,72.4 459.4,71.5 459.5,69.1 459.5,73.4 459.5,68.6 459.6,70.9 459.6,69.8 459.6,72.5 459.7,71.5 459.7,68 459.7,73.6 459.8,68.6 459.8,68.4 459.8,70.9 459.8,75.8 459.9,73.8 459.9,70.2 459.9,68.6 460,74.5 460,70.3 460,70.6 460.1,74.8 460.1,70.8 460.1,72.9 460.2,74.7 460.2,66.8 460.2,73 460.3,74.6 460.3,74.5 460.3,66.5 460.4,68.7 460.4,69.8 460.4,73.1 460.5,70.2 460.5,71 460.5,69.4 460.5,74.6 460.6,69.3 460.6,68.6 460.6,73.2 460.7,73.3 460.7,71.3 460.7,74.3 460.8,71.7 460.8,71.7 460.8,67.7 460.9,73.4 460.9,71.8 460.9,67.8 461,75.2 461,68.6 461,72.1 461.1,69.6 461.1,71 461.1,69.4 461.2,79 461.2,72.6 461.2,76.1 461.2,71.6 461.3,72.4 461.3,70.6 461.3,66.7 461.4,69.4 461.4,69.7 461.4,69.1 461.5,71.1 461.5,66.9 461.5,68.9 461.6,70.4 461.6,67.5 461.6,71.4 461.7,71.8 461.7,72.7 461.7,74 461.8,73.5 461.8,67.7 461.8,71.6 461.9,70.7 461.9,68.8 461.9,71 462,73 462,72.7 462,71.7 462,68.1 462.1,71.8 462.1,71.8 462.1,69.2 462.1,70.4 462.2,70.3 462.2,69.8 462.2,66.5 462.3,70.8 462.3,71 462.3,66.3 462.4,71.4 462.4,72.7 462.4,67.7 462.5,70 462.5,69 462.5,68.6 462.6,70.5 462.6,67.5 462.6,70.2 462.7,66.3 462.7,65.4 462.7,68.7 462.7,65.1 462.8,66.7 462.8,63.4 462.8,66.9 462.9,69.6 462.9,69.2 462.9,65.7 463,67.2 463,66.5 463,68 463,68.2 463.1,70.3 463.1,69.4 463.1,70.1 463.2,72.3 463.2,72.3 463.2,73.9 463.3,73.6 463.3,74.2 463.3,74.5 463.3,73.4 463.4,75.6 463.4,71.3 463.4,75.6 463.4,76.4 463.5,72.3 463.5,74.5 463.5,71 463.6,74.7 463.6,68.8 463.6,69 463.7,73.7 463.7,67.1 463.7,72.5 463.7,71.4 463.8,72.9 463.8,70.8 463.8,70.7 463.9,71.5 463.9,71.2 463.9,71.2 464,71.2 464,71.3 464,71.3 464,71.9 464.1,74.8 464.1,79.8 464.1,86.5 464.1,94.1 464.2,102.1 464.2,110.1 464.2,117.4 464.3,123.4 464.3,127.6 464.3,129.7 464.3,129.8 464.4,128.7 464.4,124.8 464.4,118.4 464.5,110.4 464.5,101.3 464.5,91.9 464.6,82.5 464.6,73.9 464.6,67 464.7,62.1 464.7,60.2 464.7,60.2 464.7,62.1 464.8,67.9 464.8,76.7 464.8,87.2 464.8,98.3 464.9,109 464.9,118.1 464.9,124.3 465,126.5 465,126.5 465,125.8 465,123.7 465.1,120.3 465.1,115.8 465.1,110.4 465.2,104.2 465.2,97.4 465.2,90.1 465.3,82.3 465.3,74.4 465.3,66.5 465.4,58.6 465.4,50.9 465.4,43.7 465.5,37 465.5,31 465.5,25.8 465.5,21.6 465.6,18.5 465.6,16.8 465.6,16.3 465.6,16.4 465.7,18.3 465.7,21.9 465.7,26.4 465.8,31.1 465.8,35.2 465.8,37.7 465.9,38.3 465.9,38.2 465.9,36.4 465.9,33.3 466,29.3 466,25.3 466,22.1 466.1,20 466.1,19.4 466.1,19.5 466.1,20.4 466.2,21.9 466.2,23.8 466.2,25.7 466.3,27.3 466.3,29.2 466.3,30.3 466.3,29.9 466.3,30.1 466.4,29.6 466.4,28 466.4,28 466.5,26.4 466.5,24.6 466.5,24.6 466.6,24.3 466.6,23.6 466.6,24.3 466.6,25.8 466.7,25.7 466.7,23 466.7,22.9 466.8,26.6 466.8,23.7 466.8,23 466.9,23.1 466.9,21.7 466.9,22.9 467,25.2 467,25.6 467,24 467,27.5 467.1,28.4 467.1,24.7 467.1,24.4 467.2,25.5 467.2,26.3 467.2,29.2 467.3,29.2 467.3,28.5 467.3,25.9 467.4,28.7 467.4,28.5 467.4,29.8 467.5,27.8 467.5,31.5 467.5,28.3 467.6,30.3 467.6,33.3 467.6,31.1 467.7,31 467.7,31.4 467.7,31.9 467.7,32.9 467.8,33.3 467.8,33.5 467.8,34.6 467.9,33.3 467.9,35.9 467.9,35.3 468,36.1 468,37.4 468,35.9 468.1,37.2 468.1,38.3 468.1,39 468.2,39.2 468.2,38.5 468.2,39.9 468.3,41.1 468.3,41 468.3,42 468.4,41.9 468.4,42.6 468.4,42.9 468.4,43.8 468.5,44.4 468.5,45.8 468.5,45.5 468.6,45.6 468.6,47.5 468.6,46.8 468.7,48.2 468.7,49 468.7,49.5 468.8,49.4 468.8,50.4 468.8,50.9 468.9,52.1 468.9,51.4 468.9,53.2 469,52.7 469,53.4 469,54.2 469.1,55.6 469.1,55.6 469.1,56.7 469.1,56.2 469.2,57.4 469.2,58 469.2,58.7 469.3,59.4 469.3,59.6 469.3,59.8 469.4,61 469.4,61.5 469.4,62.4 469.5,63.2 469.5,64.5 469.5,64.7 469.6,65.4 469.6,65.5 469.6,67.8 469.7,68.1 469.7,67.9 469.7,68 469.8,68.9 469.8,69.3 469.8,69.4 469.9,69.6 469.9,70.1 469.9,71.2 469.9,71.5 470,72.9 470,73.7 470,73.4 470.1,73.4 470.1,74.5 470.1,76.5 470.2,75.4 470.2,75.5 470.2,76.7 470.3,77.8 470.3,78.8 470.3,79.5 470.4,78.4 470.4,80 470.4,80.5 470.5,81 470.5,81.5 470.5,81.7 470.6,82.8 470.6,82.7 470.6,83.8 470.6,84.4 470.7,85.5 470.7,84.5 470.7,84 470.8,84.9 470.8,84.8 470.8,86.6 470.9,87.3 470.9,87.7 470.9,88.3 471,86.7 471,86.5 471,88.9 471.1,87.9 471.1,90.4 471.1,88.6 471.2,88.3 471.2,90.7 471.2,88.2 471.3,90.8 471.3,90.1 471.3,88.3 471.3,93.3 471.4,90.4 471.4,91.8 471.4,89 471.5,91.9 471.5,92.3 471.5,91.1 471.6,88.6 471.6,93.5 471.6,94.4 471.7,94.2 471.7,90.5 471.7,96.7 471.8,95.5 471.8,94.4 471.8,95.1 471.9,93.4 471.9,94.6 471.9,97.8 471.9,87.6 472,90.4 472,93.3 472,94.2 472,94.5 472.1,97.2 472.1,95.5 472.1,92.2 472.2,92 472.2,89.1 472.2,92.5 472.3,94 472.3,90.3 472.3,91.1 472.4,95.6 472.4,94.2 472.4,90.4 472.5,94.4 472.5,92.4 472.5,94.9 472.6,90 472.6,87.6 472.6,97.3 472.7,94.9 472.7,90.6 472.7,91.6 472.7,92.3 472.8,95.3 472.8,96.2 472.8,92.9 472.9,89.6 472.9,89.4 472.9,86.1 473,95.6 473,91 473,90.8 473.1,86.9 473.1,93 473.1,88.1 473.2,94.9 473.2,88.8 473.2,93.4 473.3,93.6 473.3,90.3 473.3,92.1 473.4,90.4 473.4,91.4 473.4,92.8 473.4,89 473.5,91.4 473.5,92.4 473.5,92.4 473.6,95.1 473.6,93.6 473.6,89.9 473.7,90 473.7,90.7 473.7,87.4 473.8,90.2 473.8,90.1 473.8,88.9 473.9,89.3 473.9,87.4 473.9,91 474,89.5 474,89.6 474,90.3 474.1,89.6 474.1,87.3 474.1,86 474.2,89.1 474.2,89 474.2,88.4 474.2,86.4 474.3,87.5 474.3,85.1 474.3,84.6 474.4,86.1 474.4,89.7 474.4,89.2 474.5,89.2 474.5,89.2 474.5,86 474.6,89.3 474.6,86.8 474.6,88.6 474.7,89.4 474.7,84.9 474.7,90.2 474.8,84.3 474.8,89.9 474.8,85.8 474.9,86.2 474.9,86.1 474.9,86.7 474.9,87.8 475,86.8 475,83.3 475,83.9 475.1,81.1 475.1,83.2 475.1,84.1 475.2,84.7 475.2,85.2 475.2,81.9 475.3,85.2 475.3,85 475.3,85.6 475.4,83.1 475.4,77.5 475.4,84.6 475.5,87.4 475.5,85.2 475.5,81.9 475.6,84.3 475.6,84.4 475.6,82 475.6,83.4 475.7,84.8 475.7,82 475.7,84.8 475.8,82.9 475.8,78.7 475.8,86.7 475.9,78.9 475.9,85.6 475.9,81.2 476,85.8 476,81.9 476,82.7 476.1,82.3 476.1,82.7 476.1,77.8 476.2,78.6 476.2,83.5 476.2,83.8 476.3,80.5 476.3,82.8 476.3,76 476.3,77 476.4,78.5 476.4,83.1 476.4,80.8 476.5,77.3 476.5,81 476.5,77.5 476.6,78.7 476.6,76.9 476.6,78.7 476.7,78.6 476.7,80.9 476.7,78.5 476.8,79.8 476.8,76.5 476.8,80.6 476.9,76 476.9,75.5 476.9,76.2 477,80.3 477,79.6 477,76.6 477,76.6 477.1,77.4 477.1,76.9 477.1,78.4 477.2,78.2 477.2,78.1 477.2,77 477.3,75.9 477.3,76.2 477.3,77.2 477.4,73.1 477.4,74.8 477.4,77 477.5,69.5 477.5,79.9 477.5,73.3 477.6,73.8 477.6,75.5 477.6,76.4 477.7,74.4 477.7,72 477.7,72.1 477.8,72.8 477.8,73.3 477.8,73.5 477.8,71.5 477.9,73 477.9,72.7 477.9,70.3 478,73.9 478,72.1 478,72.8 478.1,74.2 478.1,69.3 478.1,74.2 478.2,72.9 478.2,73.7 478.2,71 478.3,70.5 478.3,68.2 478.3,67.9 478.4,67.9 478.4,70 478.4,68.8 478.5,71.3 478.5,72.6 478.5,68 478.5,72.1 478.6,68.9 478.6,67.1 478.6,70.1 478.7,66.9 478.7,69.6 478.7,69.7 478.8,68.1 478.8,65.5 478.8,71.9 478.9,68.7 478.9,70.7 478.9,68.5 479,67.8 479,71.9 479,71 479.1,66.6 479.1,67.4 479.1,69.6 479.2,68 479.2,66 479.2,66 479.2,72.4 479.3,68.9 479.3,63.9 479.3,68.3 479.4,68.3 479.4,67 479.4,66.4 479.5,66.5 479.5,66.2 479.5,68.6 479.6,65.9 479.6,65 479.6,66.4 479.7,66.9 479.7,68.1 479.7,66 479.8,69.1 479.8,67.3 479.8,66.6 479.9,71.3 479.9,65.5 479.9,69.5 479.9,68 480,67.9 480,66.8 480,66.4 480.1,64.5 480.1,68.3 480.1,66.8 480.2,64.9 480.2,67 480.2,67.3 480.3,65 480.3,63.9 480.3,64.2 480.4,68.4 480.4,65 480.4,65.4 480.5,61.2 480.5,65.2 480.5,65.7 480.6,61.6 480.6,66.6 480.6,61.8 480.6,61.9 480.7,65 480.7,64 480.7,63 480.8,59.3 480.8,63.9 480.8,65.3 480.9,62.7 480.9,64.1 480.9,66.1 481,64.2 481,63.3 481,61.4 481.1,62.9 481.1,62.9 481.1,65.5 481.2,61.8 481.2,65.8 481.2,65.9 481.3,65.3 481.3,66.1 481.3,63.9 481.4,62.6 481.4,64 481.4,65.1 481.4,63.6 481.4,65.4 481.5,61.9 481.5,60.7 481.5,64.8 481.6,64.9 481.6,61.8 481.6,58.8 481.7,64.7 481.7,61 481.7,62.9 481.8,66.2 481.8,64.1 481.8,63.2 481.9,65.1 481.9,59.5 481.9,69.8 482,65.5 482,65.6 482,66.2 482.1,66 482.1,64.2 482.1,63.2 482.1,64.2 482.2,62.8 482.2,64.8 482.2,66.9 482.3,66.2 482.3,61.5 482.3,66 482.4,65.7 482.4,63.9 482.4,63.5 482.5,65 482.5,63 482.5,61.5 482.6,61 482.6,64.5 482.6,68.1 482.7,67.4 482.7,67.4 482.7,64.2 482.8,62 482.8,63.9 482.8,62.8 482.8,57.8 482.9,67.8 482.9,61.9 482.9,64.9 483,66.3 483,65.8 483,65.6 483.1,60.3 483.1,64 483.1,61.6 483.2,68.1 483.2,61.4 483.2,64 483.3,62.8 483.3,67.2 483.3,63.6 483.4,64.7 483.4,65.5 483.4,65 483.5,64.8 483.5,64.5 483.5,67.3 483.5,63.6 483.6,68.5 483.6,67.8 483.6,69.6 483.7,72.2 483.7,61.6 483.7,61.7 483.8,67.1 483.8,67 483.8,68.2 483.9,65.9 483.9,66.1 483.9,68.7 484,66.2 484,69.4 484,66.7 484.1,63.4 484.1,64.4 484.1,65.5 484.2,66.7 484.2,61.5 484.2,66.6 484.2,71.2 484.3,66.9 484.3,71.6 484.3,66.3 484.4,66.7 484.4,62.8 484.4,62.9 484.5,66.9 484.5,66.7 484.5,64.6 484.6,69 484.6,68.3 484.6,63.1 484.7,69.1 484.7,66.2 484.7,60.9 484.8,67.6 484.8,62.1 484.8,69.9 484.9,68.9 484.9,63.5 484.9,65 484.9,66.7 485,67 485,64.3 485,62.5 485.1,69.7 485.1,67.9 485.1,64.7 485.2,67.7 485.2,64.8 485.2,69.3 485.3,63.8 485.3,65.4 485.3,66.5 485.4,66.3 485.4,63.4 485.4,70 485.5,66.4 485.5,69.2 485.5,69.3 485.6,64 485.6,66.3 485.6,66.9 485.7,65.8 485.7,68.8 485.7,64.7 485.7,68.7 485.8,66.3 485.8,67.7 485.8,65.7 485.9,70.1 485.9,66.2 485.9,66.2 486,67.9 486,69.4 486,70.8 486.1,69.4 486.1,67.6 486.1,69.7 486.2,72.5 486.2,67.1 486.2,67.5 486.3,69.7 486.3,71.9 486.3,70.3 486.4,70.1 486.4,70.4 486.4,68.7 486.4,73.8 486.5,69.1 486.5,70 486.5,67.3 486.6,71.6 486.6,69.9 486.6,70.5 486.7,74.5 486.7,64.4 486.7,70.5 486.8,68.7 486.8,69.7 486.8,70.3 486.9,70.1 486.9,74.5 486.9,69 487,71.2 487,70.5 487,67.2 487.1,69.8 487.1,65.2 487.1,67 487.1,68.6 487.2,69.1 487.2,72.4 487.2,64.7 487.3,66 487.3,70.4 487.3,69.9 487.4,73.7 487.4,67.3 487.4,69.4 487.5,69.4 487.5,70.8 487.5,70.5 487.6,71 487.6,71.4 487.6,71.4 487.7,71.7 487.7,66.1 487.7,64.9 487.8,75.4 487.8,70.8 487.8,72.2 487.8,72.3 487.9,69 487.9,78.7 487.9,68.8 488,75.4 488,70.4 488,72.1 488.1,72.7 488.1,71.1 488.1,73.7 488.2,66.7 488.2,75.2 488.2,75.1 488.3,71.5 488.3,71.1 488.3,67.8 488.4,71.4 488.4,73.9 488.4,72.5 488.5,73 488.5,72 488.5,69.8 488.5,71.9 488.6,72.8 488.6,69.7 488.6,73.6 488.7,71.5 488.7,70.6 488.7,73.1 488.8,68.9 488.8,72.1 488.8,67.2 488.9,72.1 488.9,72.7 488.9,74.4 489,71.2 489,69.9 489,75.3 489.1,76.1 489.1,74.7 489.1,71.7 489.2,71.7 489.2,74 489.2,72.8 489.3,71.8 489.3,70.6 489.3,74.6 489.3,76.1 489.4,72.9 489.4,67.5 489.4,73 489.5,72.7 489.5,71.3 489.5,75.9 489.5,70.1 489.6,73.9 489.6,76.3 489.6,72.4 489.7,72.4 489.7,69.4 489.7,70.6 489.8,73 489.8,69.6 489.8,69.8 489.9,67.4 489.9,73.5 489.9,71.4 490,73.5 490,71.2 490,68.5 490,69.4 490.1,72.4 490.1,77.5 490.1,73.5 490.2,72.6 490.2,70.8 490.2,68.9 490.3,69.1 490.3,70.9 490.3,69.3 490.4,73.8 490.4,73.5 490.4,68.4 490.5,70.9 490.5,69.5 490.5,69.7 490.6,70.2 490.6,72.3 490.6,69.9 490.7,71.8 490.7,69.7 490.7,69.4 490.7,72.1 490.8,67.2 490.8,71.6 490.8,68.3 490.9,74.5 490.9,69.7 490.9,74.7 491,74.1 491,75.4 491,72.5 491.1,71.6 491.1,73 491.1,66.4 491.2,69.6 491.2,74.3 491.2,71.7 491.3,72.3 491.3,71.1 491.3,71.9 491.4,75.3 491.4,67.2 491.4,68.7 491.4,70.1 491.5,68.7 491.5,70.7 491.5,73.3 491.6,74.3 491.6,70 491.6,73.7 491.7,72.4 491.7,74.3 491.7,69.9 491.8,72.5 491.8,71 491.8,72.4 491.9,74.2 491.9,70.1 491.9,71.5 492,73.3 492,69.4 492,68.3 492.1,66.9 492.1,69.3 492.1,70.5 492.1,68.8 492.2,73 492.2,71.2 492.2,71 492.3,75.2 492.3,69.8 492.3,68.9 492.4,71.7 492.4,68.3 492.4,73.5 492.5,68.8 492.5,68.7 492.5,72.5 492.6,71.2 492.6,72.5 492.6,74.1 492.7,74.7 492.7,74.1 492.7,70.5 492.8,75.2 492.8,71.7 492.8,65.3 492.8,69.6 492.9,70.7 492.9,72.4 492.9,76.8 493,69.2 493,68.8 493,71.6 493.1,73.3 493.1,71.4 493.1,73.3 493.2,69.1 493.2,71.7 493.2,69.6 493.3,73.7 493.3,75.1 493.3,77.4 493.4,70.9 493.4,75 493.4,68.7 493.5,71.6 493.5,71.7 493.5,76.2 493.6,69.9 493.6,70.3 493.6,68.3 493.6,72.6 493.7,71 493.7,70.7 493.7,70 493.8,69.6 493.8,71.1 493.8,70.6 493.9,70 493.9,68.3 493.9,69.3 494,70.8 494,72 494,72.6 494.1,69.6 494.1,73.6 494.1,73.9 494.2,71.4 494.2,72.4 494.2,71.8 494.3,70.3 494.3,71.4 494.3,70.4 494.3,70.3 494.4,71.2 494.4,72.9 494.4,69.5 494.5,70.9 494.5,72.2 494.5,73.1 494.6,70.8 494.6,66.3 494.6,70.7 494.7,68.9 494.7,71.8 494.7,72.6 494.8,68 494.8,69.9 494.8,73.3 494.9,67.8 494.9,70.8 494.9,68 495,67.6 495,70.6 495,72.3 495,67.1 495.1,65.2 495.1,69.7 495.1,73.9 495.2,71.1 495.2,68.8 495.2,74.5 495.3,71.8 495.3,72.2 495.3,71.3 495.4,65.3 495.4,69.8 495.4,66.2 495.5,69.5 495.5,69.9 495.5,70.3 495.6,69.8 495.6,66.5 495.6,67.4 495.7,68.1 495.7,67.5 495.7,72.6 495.7,71.5 495.8,73.4 495.8,71.5 495.8,67.4 495.9,72.3 495.9,72.3 495.9,71.5 496,73.3 496,70 496,68.6 496.1,67 496.1,69.7 496.1,68.8 496.2,67.5 496.2,71.4 496.2,71.4 496.3,69.2 496.3,69.8 496.3,70.6 496.4,70.1 496.4,71.4 496.4,72.5 496.4,69.5 496.5,71.1 496.5,71.9 496.5,68.2 496.6,69.6 496.6,67.3 496.6,71.5 496.7,67.5 496.7,65.5 496.7,71.3 496.8,71.5 496.8,72.1 496.8,72 496.9,70.7 496.9,69.5 496.9,71.4 497,69.1 497,72.7 497,71 497.1,68 497.1,67.3 497.1,66.1 497.2,66.5 497.2,67.5 497.2,74 497.2,71.9 497.3,71.5 497.3,70.3 497.3,69.3 497.4,66.8 497.4,71.3 497.4,76.5 497.5,73.4 497.5,69.4 497.5,68.8 497.6,72.8 497.6,68.1 497.6,69.6 497.7,66.8 497.7,76.2 497.7,69.8 497.7,70.5 497.8,69.9 497.8,70.9 497.8,71.8 497.9,70.8 497.9,73.2 497.9,75.6 497.9,68.6 498,71.3 498,72.4 498,67.1 498.1,70.7 498.1,70.4 498.1,68.6 498.2,70.9 498.2,69.6 498.2,72 498.3,67.4 498.3,69.7 498.3,65.8 498.4,68.3 498.4,66.9 498.4,70.8 498.5,71.2 498.5,67.8 498.5,67.9 498.6,70.5 498.6,68.4 498.6,70.4 498.6,68.7 498.7,71.6 498.7,68 498.7,70.8 498.8,68.7 498.8,70.6 498.8,69.7 498.9,69.7 498.9,69.4 498.9,66.9 499,65.8 499,68.7 499,72.7 499.1,70 499.1,72.5 499.1,66.8 499.2,69.9 499.2,70.5 499.2,69.1 499.3,71 499.3,68.5 499.3,69.3 499.3,73 499.4,68.4 499.4,71.3 499.4,68.1 499.5,74.9 499.5,66 499.5,71 499.6,70.7 499.6,67.3 499.6,71.7 499.7,67.8 499.7,74 499.7,66.8 499.8,66.5 499.8,68.5 499.8,73.6 499.9,69.1 499.9,69.5 499.9,71.2 500,72.2 500,71.2 500,71.8 500,70.3 500.1,68 500.1,70.6 500.1,68.9 500.2,70.1 500.2,71.4 500.2,69.6 500.3,70.5 500.3,68.9 500.3,66 500.4,74.3 500.4,69.5 500.4,74.6 500.5,70.6 500.5,73.6 500.5,69.1 500.6,66.3 500.6,71.8 500.6,69.6 500.7,72.5 500.7,69.9 500.7,67.1 500.7,72.6 500.8,71.6 500.8,73.8 500.8,69.6 500.9,69.2 500.9,71.4 500.9,68.7 501,74.1 501,69.4 501,70.7 501.1,73.9 501.1,74.1 501.1,72.7 501.2,69 501.2,68 501.2,69.7 501.3,67.7 501.3,70.5 501.3,72.4 501.4,67.6 501.4,69.5 501.4,73.3 501.5,71.5 501.5,68.6 501.5,68.2 501.5,69.7 501.6,72.7 501.6,70.1 501.6,66.5 501.7,68.7 501.7,67.4 501.7,72.7 501.8,71.3 501.8,69.4 501.8,69.5 501.9,70.6 501.9,74.3 501.9,69.6 502,69.9 502,71.8 502,68.1 502.1,64.5 502.1,69.9 502.1,70.3 502.2,67.8 502.2,65.1 502.2,69.7 502.2,70.3 502.3,70.8 502.3,65.1 502.3,67.9 502.4,67.8 502.4,69.8 502.4,71 502.5,71.2 502.5,67.3 502.5,65.8 502.6,71.7 502.6,67.1 502.6,74 502.7,75.2 502.7,70.5 502.7,68.9 502.8,67.8 502.8,70.9 502.8,71.7 502.9,67 502.9,76.4 502.9,68.5 502.9,69.5 503,72.8 503,71.4 503,66.2 503.1,76.8 503.1,71.3 503.1,73.6 503.2,70.3 503.2,69.8 503.2,69.8 503.3,68.9 503.3,68.4 503.3,69.1 503.4,73.2 503.4,72 503.4,67.7 503.5,71 503.5,68.2 503.5,67.5 503.6,76.9 503.6,65.1 503.6,68.1 503.6,68.3 503.7,67.5 503.7,67.9 503.7,67.4 503.8,71.4 503.8,69.9 503.8,70.8 503.9,70.2 503.9,69.1 503.9,69.4 504,70.3 504,71.1 504,71.7 504.1,70.3 504.1,71.8 504.1,71.4 504.2,67.9 504.2,67.5 504.2,70.8 504.3,71.5 504.3,74.7 504.3,70.5 504.3,69.4 504.4,70.7 504.4,70.7 504.4,67.5 504.5,68.1 504.5,70.9 504.5,65.4 504.6,66.4 504.6,64.1 504.6,69.1 504.7,70.6 504.7,69.6 504.7,69.4 504.8,71.4 504.8,67.1 504.8,70.9 504.9,74.5 504.9,67.8 504.9,69.6 505,68.2 505,70.6 505,74.3 505.1,65 505.1,67.7 505.1,69.4 505.1,68.5 505.2,65.8 505.2,68.2 505.2,69.6 505.3,69.3 505.3,72.5 505.3,68.6 505.4,69.6 505.4,68 505.4,70.9 505.5,70.8 505.5,73.8 505.5,70.4 505.6,70.2 505.6,70.8 505.6,66.8 505.7,67.6 505.7,69.3 505.7,71.9 505.8,69.2 505.8,60.8 505.8,70.5 505.8,70.2 505.9,67.9 505.9,71.9 505.9,68.5 506,73 506,69.7 506,69.2 506.1,69.2 506.1,67.3 506.1,69.7 506.2,70.1 506.2,67.8 506.2,70.2 506.3,68.1 506.3,71.1 506.3,69.5 506.4,70.8 506.4,69.8 506.4,71 506.5,70.1 506.5,76.2 506.5,67.1 506.5,72.6 506.6,69.6 506.6,72.4 506.6,65.2 506.7,67.6 506.7,65.8 506.7,71.4 506.8,69.8 506.8,67.7 506.8,71 506.9,64.7 506.9,68 506.9,68.4 507,70.2 507,66.8 507,70 507.1,73.3 507.1,70 507.1,72.5 507.2,70 507.2,68.9 507.2,70.6 507.2,70.7 507.3,74.2 507.3,71.8 507.3,66.4 507.4,72.9 507.4,75 507.4,70.7 507.5,66.9 507.5,68.1 507.5,70.1 507.6,69.9 507.6,71 507.6,69.2 507.7,69.7 507.7,70.5 507.7,74.5 507.8,71.4 507.8,71.8 507.8,72.7 507.9,69.8 507.9,69.8 507.9,71.9 507.9,68.6 508,70.7 508,71.7 508,68.5 508.1,68.9 508.1,64.9 508.1,68.1 508.2,69.3 508.2,69.9 508.2,71.8 508.3,74.2 508.3,70.7 508.3,71.6 508.4,69.8 508.4,68.1 508.4,70.3 508.5,68.4 508.5,64.2 508.5,70.3 508.6,70.8 508.6,66.7 508.6,67.1 508.7,65.8 508.7,71.8 508.7,73.5 508.7,66.1 508.8,66.5 508.8,69.5 508.8,75.5 508.9,64.9 508.9,65.8 508.9,66.7 509,73.9 509,69.2 509,71.5 509.1,69.2 509.1,66.1 509.1,70 509.2,72 509.2,72.5 509.2,68.6 509.3,71.8 509.3,70.5 509.3,71.1 509.4,71.7 509.4,71.6 509.4,73.1 509.4,66.4 509.5,68.8 509.5,70.7 509.5,64.8 509.6,69.6 509.6,67.6 509.6,69.3 509.7,71 509.7,71.8 509.7,70.9 509.8,66.6 509.8,71.8 509.8,69.9 509.9,71.3 509.9,69.3 509.9,69.7 510,72 510,69.2 510,71.5 510.1,68.2 510.1,69.1 510.1,69.9 510.1,69.3 510.2,68.6 510.2,67.2 510.2,67.1 510.3,67.2 510.3,68.4 510.3,69.9 510.4,68.6 510.4,70.6 510.4,70.9 510.5,69.3 510.5,68.5 510.5,72.1 510.6,68.3 510.6,69.6 510.6,70.2 510.7,70.1 510.7,69.7 510.7,66.6 510.8,73.4 510.8,68.3 510.8,73.4 510.8,68.6 510.9,71.1 510.9,73.6 510.9,67.3 511,74 511,72 511,72.8 511.1,70.7 511.1,73.4 511.1,69.1 511.2,67.3 511.2,66.7 511.2,67.1 511.3,71.6 511.3,70.8 511.3,69.3 511.4,70.1 511.4,71.2 511.4,75.8 511.5,71.4 511.5,68.9 511.5,70.2 511.5,64.3 511.6,78.3 511.6,74.2 511.6,73.5 511.7,68 511.7,66.6 511.7,72.7 511.8,70 511.8,68.6 511.8,69.3 511.9,69.6 511.9,71.9 511.9,72.5 512,73.7 512,73.3 512,68.5 512.1,70.8 512.1,71.2 512.1,72.9 512.2,70.1 512.2,67.8 512.2,73.1 512.2,66.7 512.3,68.9 512.3,76.8 512.3,69.8 512.4,69.5 512.4,66.7 512.4,70.6 512.5,76.2 512.5,74.5 512.5,74 512.6,69 512.6,72.9 512.6,73.5 512.7,69.4 512.7,68.2 512.7,74.1 512.8,70.2 512.8,67.5 512.8,68.5 512.9,66.6 512.9,66.7 512.9,68 513,71.4 513,64.6 513,68 513,69.8 513.1,70.8 513.1,68.4 513.1,71.2 513.2,70.1 513.2,67.1 513.2,68.7 513.3,72.9 513.3,69.3 513.3,70.9 513.4,72 513.4,72.5 513.4,72.3 513.5,69.6 513.5,67 513.5,70.6 513.6,66.6 513.6,72.2 513.6,70.7 513.7,66.2 513.7,69.7 513.7,69.3 513.7,69.2 513.8,71.3 513.8,64.2 513.8,69.8 513.9,67.7 513.9,68.6 513.9,67.4 514,66.2 514,75.8 514,73.6 514.1,75.3 514.1,72.1 514.1,70.4 514.2,69.3 514.2,71.4 514.2,68.6 514.3,68.2 514.3,69.7 514.3,72.9 514.4,71.5 514.4,70.6 514.4,68.2 514.4,70.5 514.5,69.3 514.5,74.3 514.5,77.3 514.6,69.9 514.6,69.9 514.6,72.6 514.7,71.2 514.7,68.8 514.7,68.6 514.8,66.9 514.8,68.3 514.8,70.7 514.9,68.7 514.9,64.7 514.9,65.7 515,72 515,69 515,66.2 515.1,69.6 515.1,68.4 515.1,66.7 515.1,69.2 515.2,68.7 515.2,70.8 515.2,72.2 515.3,71 515.3,68.1 515.3,70.4 515.4,69.5 515.4,64.6 515.4,71.7 515.5,67.4 515.5,71.1 515.5,68.3 515.6,67.6 515.6,66.5 515.6,71.7 515.7,70.7 515.7,69.4 515.7,70 515.8,76.7 515.8,68.8 515.8,72.9 515.8,69.9 515.9,73.2 515.9,69.4 515.9,70.2 516,63.5 516,68.3 516,70.9 516.1,68 516.1,74 516.1,67.6 516.2,67.1 516.2,71.1 516.2,70.5 516.3,74.4 516.3,69.1 516.3,67.9 516.4,73.2 516.4,68.3 516.4,72.7 516.5,66.3 516.5,75.5 516.5,70.7 516.6,67.6 516.6,73.1 516.6,72 516.6,70 516.7,70.5 516.7,72 516.7,72 516.8,71.2 516.8,70.9 516.8,71.3 516.9,67.9 516.9,69.7 516.9,68.9 517,68.7 517,73.3 517,72.9 517.1,65.2 517.1,75.4 517.1,71.8 517.2,68.6 517.2,70.7 517.2,71 517.3,66 517.3,72.8 517.3,67.3 517.3,73.8 517.4,74.1 517.4,71 517.4,69.5 517.5,64.2 517.5,69.1 517.5,69.5 517.6,68.2 517.6,69.9 517.6,71.5 517.7,71.1 517.7,68.4 517.7,70.9 517.8,73.7 517.8,71.5 517.8,74.2 517.9,66.4 517.9,74.2 517.9,68.3 518,70.6 518,66.6 518,65.4 518,70.8 518.1,68.2 518.1,69.3 518.1,73.7 518.2,65.9 518.2,67.7 518.2,68.2 518.3,67.6 518.3,68.7 518.3,71.4 518.4,68.8 518.4,72.5 518.4,64 518.5,72.6 518.5,67 518.5,71.3 518.6,69.4 518.6,68.3 518.6,72.2 518.7,69.4 518.7,76.7 518.7,69.4 518.7,66.5 518.8,70.4 518.8,71.9 518.8,71.8 518.9,76.2 518.9,73.3 518.9,68.9 519,65.4 519,68 519,69.9 519.1,69.9 519.1,68.6 519.1,65.4 519.2,70.2 519.2,69.6 519.2,68.7 519.3,68.3 519.3,69.1 519.3,73.2 519.4,74.1 519.4,69.9 519.4,67.6 519.4,64.7 519.5,68.6 519.5,72.5 519.5,70.6 519.6,73.6 519.6,70.1 519.6,66.8 519.7,69.2 519.7,64.2 519.7,70.2 519.8,69.3 519.8,68.7 519.8,68.4 519.9,69.2 519.9,68.9 519.9,67.4 520,71 520,69.7 520,68.7 520.1,70.6 520.1,72.3 520.1,68.8 520.1,68.8 520.2,71.6 520.2,72.1 520.2,75.2 520.3,73 520.3,69.2 520.3,75.6 520.4,70.6 520.4,69.6 520.4,71.1 520.5,71.6 520.5,67.3 520.5,68.6 520.6,72.4 520.6,67.2 520.6,65.4 520.7,71.9 520.7,72.3 520.7,71.2 520.8,68.9 520.8,69.8 520.8,70.5 520.9,72.6 520.9,67.9 520.9,69.9 520.9,69.5 521,69.8 521,69 521,73.6 521.1,71 521.1,69.6 521.1,69 521.2,68.7 521.2,67.5 521.2,70 521.3,67.9 521.3,68.3 521.3,69.1 521.4,70.4 521.4,70.8 521.4,69.9 521.5,68 521.5,71.9 521.5,72 521.6,68.9 521.6,69.4 521.6,67.5 521.6,66.9 521.7,68.8 521.7,73.7 521.7,67.3 521.8,68.7 521.8,67.8 521.8,68.4 521.9,69.8 521.9,68.6 521.9,72.8 522,72.5 522,69.7 522,66 522.1,69 522.1,66.5 522.1,69.7 522.2,69.3 522.2,67.5 522.2,67.6 522.3,69.6 522.3,70.5 522.3,67.6 522.3,69 522.4,70.7 522.4,70.2 522.4,71.9 522.5,69.3 522.5,67.7 522.5,75.2 522.6,70.6 522.6,72.8 522.6,70.8 522.7,70.9 522.7,72.6 522.7,69.5 522.8,72.9 522.8,72 522.8,73.2 522.9,71.6 522.9,68.5 522.9,70.6 523,66.5 523,70.2 523,71.2 523,66.8 523.1,68.7 523.1,67.6 523.1,68.5 523.2,66.1 523.2,67.3 523.2,66.4 523.3,71.6 523.3,68 523.3,67.4 523.4,69.4 523.4,66.6 523.4,69.4 523.5,70.3 523.5,68.5 523.5,72.8 523.6,73.5 523.6,70.3 523.6,75.3 523.7,67.3 523.7,71.3 523.7,66.1 523.7,69.5 523.8,71.6 523.8,71.3 523.8,68.4 523.9,67.4 523.9,70.2 523.9,72.9 524,69.3 524,68.4 524,68 524.1,72.8 524.1,71.1 524.1,68.2 524.2,65.4 524.2,69.9 524.2,72.7 524.3,68.5 524.3,77.5 524.3,69.6 524.4,71.2 524.4,65.9 524.4,71.1 524.5,73 524.5,63.9 524.5,69.2 524.5,70 524.6,71.6 524.6,72.4 524.6,74.4 524.7,68.7 524.7,72.2 524.7,68.1 524.8,69 524.8,67.8 524.8,70.8 524.9,69.8 524.9,71.5 524.9,70.8 525,72.3 525,75.7 525,69.6 525.1,73.1 525.1,64.4 525.1,70 525.2,74 525.2,70.6 525.2,68.5 525.2,68.9 525.3,71.8 525.3,69.3 525.3,69.5"/>
<rect class="ax" x="321.5" y="9.2" width="220.20" height="121.90"/>
<path class="tc" d="M352.96,131.1v-1.9M352.96,9.2v1.9M384.41,131.1v-1.9M384.41,9.2v1.9M415.87,131.1v-1.9M415.87,9.2v1.9M447.33,131.1v-1.9M447.33,9.2v1.9M478.79,131.1v-1.9M478.79,9.2v1.9M510.24,131.1v-1.9M510.24,9.2v1.9M321.5,70.15h1.9M541.7,70.15h-1.9"/>
<text class="tk" x="321.5" y="144" text-anchor="middle">0</text>
<text class="tk" x="353.0" y="144" text-anchor="middle">1</text>
<text class="tk" x="384.4" y="144" text-anchor="middle">2</text>
<text class="tk" x="415.9" y="144" text-anchor="middle">3</text>
<text class="tk" x="447.3" y="144" text-anchor="middle">4</text>
<text class="tk" x="478.8" y="144" text-anchor="middle">5</text>
<text class="tk" x="510.2" y="144" text-anchor="middle">6</text>
<text class="tk" x="541.7" y="144" text-anchor="middle">7</text>
<text class="tk" x="318.1" y="12" text-anchor="end">5</text>
<text class="tk" x="318.1" y="74" text-anchor="end">0</text>
<text class="tk" x="318.1" y="135" text-anchor="end">-5</text>
<text class="lb" x="432.0" y="157" text-anchor="middle">Time(s)</text>
<text class="lb" transform="translate(305.6,69.8) rotate(-90)" text-anchor="middle">Amplitude(mV)</text>
<text class="pl" x="296.7" y="23">B</text>
</g>
<g id="panelC">
<polyline class="ln" stroke-width="0.6" points="30.9,242.7 31,243.4 31.1,243 31.2,242.8 31.4,242.6 31.5,242.7 31.6,243.1 31.7,243.1 31.8,243.2 31.9,242.5 32,242.8 32.1,242.9 32.3,242.9 32.4,243 32.5,243.3 32.6,242.9 32.7,242.9 32.8,243.2 32.9,243.3 33.1,243.6 33.2,243.7 33.3,243.3 33.4,243.3 33.5,243.1 33.6,243.1 33.7,243.2 33.8,243 34,243.2 34.1,243.1 34.2,243 34.3,243.3 34.4,242.9 34.5,242.8 34.6,242.7 34.8,242.6 34.9,242.5 35,243.1 35.1,242.5 35.2,242.9 35.3,243 35.4,242.6 35.5,242.5 35.7,242.7 35.8,242.8 35.9,242.4 36,242.5 36.1,242.4 36.2,242.5 36.3,242.3 36.4,242.2 36.6,242.4 36.7,242.6 36.8,242.4 36.9,242.6 37,242.9 37.1,243 37.2,243 37.4,243.4 37.5,243 37.6,242.9 37.7,243.4 37.8,243 37.9,243.2 38,243.1 38.1,243.5 38.3,243.3 38.4,243.2 38.5,243.2 38.6,243.7 38.7,243.3 38.8,243.1 38.9,243.1 39.1,242.9 39.2,243.3 39.3,243.3 39.4,243.4 39.5,243.2 39.6,243.5 39.7,243.6 39.8,243.9 40,243.3 40.1,243.2 40.2,243.1 40.3,242.8 40.4,242.9 40.5,243.1 40.6,243 40.8,242.8 40.9,242.4 41,242.7 41.1,242.4 41.2,242.4 41.3,242.3 41.4,242.2 41.5,242.4 41.7,242.4 41.8,242.3 41.9,242.3 42,242.4 42.1,242.3 42.2,242.3 42.3,242.5 42.5,242.7 42.6,242.2 42.7,242.3 42.8,242.3 42.9,242.2 43,242.4 43.1,242.2 43.2,241.9 43.4,242.2 43.5,242.1 43.6,242.5 43.7,242.4 43.8,242.4 43.9,242.4 44,242.7 44.2,242.2 44.3,242.7 44.4,243.3 44.5,243.1 44.6,243 44.7,242.6 44.8,242.6 44.9,242.5 45.1,242.7 45.2,242.7 45.3,242.6 45.4,242.3 45.5,242.5 45.6,242.4 45.7,242.9 45.8,242.6 46,242.5 46.1,242.1 46.2,242.3 46.3,242.7 46.4,242.8 46.5,242.7 46.6,242.8 46.6,242.8 46.8,242.7 46.9,242.5 47,242.8 47.1,243 47.2,243 47.3,242.9 47.4,242.6 47.5,242.6 47.7,242.6 47.8,242.6 47.9,242.4 48,242.5 48.1,242.6 48.2,242.5 48.3,242.5 48.5,242.7 48.6,242.8 48.7,242.9 48.8,242.7 48.9,242.5 49,242.8 49.1,242.8 49.2,242.6 49.4,242.7 49.5,242.4 49.6,243 49.7,242.5 49.8,242.7 49.9,242.7 50,242.6 50.2,242.3 50.3,242.3 50.4,242.4 50.5,242.1 50.6,242.3 50.7,242 50.8,242 50.9,242.1 51.1,241.7 51.2,241.8 51.3,241.6 51.4,241.9 51.5,241.9 51.6,241.7 51.7,241.6 51.9,241.8 52,241.7 52.1,241.6 52.2,241.4 52.3,241.8 52.4,241.7 52.5,242 52.6,242.2 52.8,242.2 52.9,242.3 53,242.3 53.1,242.1 53.2,242.3 53.3,242.4 53.4,242 53.6,242.4 53.7,242.5 53.8,242.7 53.9,242.9 54,242.6 54.1,243.2 54.2,242.8 54.3,242.9 54.5,242.9 54.6,242.9 54.7,242.9 54.8,242.9 54.9,243.1 55,243 55.1,243.1 55.3,243.1 55.4,243 55.5,243.2 55.6,243.4 55.7,243.7 55.8,243.5 55.9,243.7 56,243.4 56.2,243.2 56.3,243.8 56.4,243.4 56.5,243.3 56.6,243.3 56.7,243 56.8,243 56.9,243.1 57.1,243.1 57.2,243 57.3,242.8 57.4,243 57.5,242.7 57.6,242.7 57.7,243 57.9,242.9 58,242.9 58.1,243.1 58.2,242.9 58.3,243.4 58.4,243.6 58.5,243.7 58.6,243.8 58.8,243.3 58.9,243.6 59,243.4 59.1,243.5 59.2,243.3 59.3,243 59.4,243.3 59.6,243.3 59.7,243.3 59.8,243.1 59.9,243.3 60,242.5 60.1,242.9 60.2,242.9 60.3,242.8 60.5,242.9 60.6,242.4 60.7,242.3 60.8,242.3 60.9,242.2 61,242.4 61.1,242.5 61.3,242.2 61.4,242.4 61.5,242.6 61.6,242.6 61.7,242.6 61.8,242.8 61.9,242.7 62,242.5 62.2,242.4 62.3,243.1 62.3,242.9 62.4,242.7 62.5,242.6 62.6,242.9 62.7,242.6 62.8,242.6 63,242.6 63.1,242.3 63.2,242.4 63.3,242.7 63.4,242.7 63.5,243.1 63.6,242.9 63.7,242.4 63.9,242.5 64,242.3 64.1,242.7 64.2,242.5 64.3,242.6 64.4,242.9 64.5,242.6 64.7,242.6 64.8,242.7 64.9,242.6 65,242.3 65.1,242.2 65.2,242.5 65.3,242.5 65.4,242.4 65.6,242.8 65.7,242.5 65.8,242.3 65.9,242.5 66,242.7 66.1,242.8 66.2,242.6 66.3,242.4 66.5,242.7 66.6,242.8 66.7,243 66.8,243 66.9,243.1 67,243.1 67.1,243.1 67.3,243.3 67.4,243.2 67.5,243.5 67.6,243.7 67.7,243.4 67.8,243.4 67.9,242.9 68,243.4 68.2,243.4 68.3,243 68.4,243 68.5,243.2 68.6,242.9 68.7,243 68.8,243.3 69,242.6 69.1,242.8 69.2,242.4 69.3,242.7 69.4,242.9 69.5,242.5 69.6,243 69.7,242.8 69.9,242.5 70,242.7 70.1,242.8 70.2,242.6 70.3,242.8 70.4,243.3 70.5,243.1 70.7,243 70.8,242.9 70.9,243.4 71,243.2 71.1,242.9 71.2,243 71.3,242.8 71.4,242.7 71.6,242.7 71.7,243 71.8,242.8 71.9,243.2 72,242.5 72.1,242.2 72.2,242.6 72.4,242.4 72.5,242.3 72.6,241.9 72.7,242.3 72.8,242.6 72.9,242.4 73,242.6 73.1,242.4 73.3,242.5 73.4,242.1 73.5,242.2 73.6,242.2 73.7,242.3 73.8,242 73.9,241.7 74.1,242.2 74.2,241.9 74.3,241.9 74.4,241.7 74.5,241.7 74.6,241.8 74.7,242.1 74.8,241.8 75,241.8 75.1,242 75.2,242.1 75.3,242.2 75.4,242.4 75.5,242.5 75.6,242.3 75.7,242.4 75.9,242.7 76,243.1 76.1,243.1 76.2,242.9 76.3,243.1 76.4,243.2 76.5,243 76.7,243.1 76.8,243.3 76.9,243.1 77,243.2 77.1,243.1 77.2,243.2 77.3,243.4 77.4,243 77.6,243 77.7,242.5 77.8,243 77.9,242.3 78,242.4 78.1,242.6 78.1,242.5 78.2,242.4 78.4,242.3 78.5,242.7 78.6,242.6 78.7,242.6 78.8,242.5 78.9,242.6 79,242.6 79.1,242.5 79.3,242.5 79.4,242.9 79.5,243.1 79.6,242.9 79.7,243 79.8,243 79.9,242.9 80.1,242.9 80.2,243 80.3,242.9 80.4,243.1 80.5,242.9 80.6,243.1 80.7,243.2 80.8,243.3 81,243.3 81.1,243.4 81.2,243.4 81.3,242.8 81.4,243 81.5,243.1 81.6,243 81.8,243.1 81.9,243.1 82,242.9 82.1,242.6 82.2,242.6 82.3,242.6 82.4,242.7 82.5,242.5 82.7,242.5 82.8,242.6 82.9,242.3 83,242.7 83.1,242.9 83.2,242.7 83.3,242.7 83.5,242.5 83.6,242.3 83.7,242.9 83.8,243 83.9,243.3 84,243.1 84.1,243.3 84.2,243.4 84.4,243.2 84.5,243.7 84.6,243.5 84.7,243.2 84.8,243.4 84.9,243 85,243 85.2,243.3 85.3,243.5 85.4,242.8 85.5,242.8 85.6,243 85.7,242.7 85.8,242.5 85.9,242.7 86.1,242.5 86.2,242.4 86.3,242.4 86.4,242.6 86.5,242.6 86.6,242.4 86.7,242.4 86.8,242.4 87,242.7 87.1,242.5 87.2,242.6 87.3,242.4 87.4,242.5 87.5,242.4 87.6,242.4 87.8,241.9 87.9,242.3 88,242.1 88.1,242 88.2,242.4 88.3,242.6 88.4,242.5 88.5,242.5 88.7,242.1 88.8,242.6 88.9,242.6 89,242.7 89.1,242.7 89.2,243 89.3,243.1 89.5,243.1 89.6,242.8 89.7,242.8 89.8,242.9 89.9,242.8 90,242.5 90.1,242.5 90.2,242.8 90.4,243.1 90.5,243 90.6,243.2 90.6,242.8 90.7,242.8 90.8,242.9 90.9,242.7 91,243 91.2,242.7 91.3,242.8 91.4,243 91.5,242.9 91.6,243 91.7,242.8 91.8,243 91.9,242.5 92.1,242.9 92.2,242.8 92.3,243.2 92.4,243.3 92.5,243.3 92.6,243.3 92.7,243.4 92.9,243.4 93,243.6 93.1,243.9 93.2,243.5 93.2,243.8 93.3,244.1 93.4,244.2 93.5,244.9 93.6,245.2 93.8,245.3 93.9,245.8 94,246.7 94.1,247.1 94.2,247 94.3,247.1 94.4,247.3 94.4,247.2 94.6,247 94.7,247.2 94.8,246.5 94.9,246.2 95,246 95.1,245.6 95.2,245.2 95.3,244.5 95.5,244.1 95.6,243.1 95.7,242.3 95.8,242.2 95.9,242 96,241.3 96.1,240.9 96.2,240.4 96.4,240.2 96.5,240.2 96.5,240.2 96.6,239.6 96.7,240 96.8,239.8 96.9,239.8 97,239.6 97.2,240.1 97.3,240.2 97.4,240.2 97.5,240.4 97.6,240.5 97.7,240.6 97.8,240.8 97.9,240.7 98.1,241.1 98.2,241.1 98.3,241.2 98.4,241.2 98.5,241.1 98.6,241.3 98.7,241.3 98.9,241.3 99,241.6 99.1,242 99.2,241.8 99.3,241.7 99.4,242 99.5,241.6 99.6,241.6 99.8,242 99.9,242.1 100,241.9 100.1,242 100.1,242.4 100.2,242.6 100.3,242.4 100.4,242.6 100.6,243 100.7,242.6 100.8,242.9 100.9,243 101,243 101.1,243 101.2,243.3 101.3,243 101.5,243.1 101.6,243.1 101.7,243.2 101.8,242.9 101.9,242.8 102,243.2 102.1,242.8 102.3,243.1 102.4,242.9 102.5,243.2 102.6,243.2 102.7,243.6 102.8,243.6 102.9,243.4 103,243.7 103.2,243.7 103.3,244 103.4,244.2 103.5,244.6 103.6,244.7 103.7,244.6 103.8,244.8 104,244.9 104.1,244.7 104.2,244.7 104.3,244.5 104.4,244.3 104.5,244.6 104.5,244.6 104.6,244.8 104.7,245 104.9,245 105,244.5 105.1,244.9 105.2,244.7 105.3,244.5 105.4,244.3 105.5,244.3 105.6,244.6 105.8,244.3 105.9,244.4 106,244.1 106.1,244 106.2,243.8 106.3,243.5 106.4,243.7 106.6,243.5 106.7,243.8 106.8,243.7 106.9,243.4 107,243.3 107.1,243.7 107.2,243.4 107.3,243.6 107.5,243.5 107.6,243.3 107.7,243.5 107.8,243.5 107.9,243.4 108,243 108.1,242.7 108.3,242.9 108.4,242.9 108.5,243.2 108.6,242.7 108.7,242.9 108.8,242.7 108.9,242.6 109,243 109.2,242.7 109.3,243 109.4,242.8 109.5,242.7 109.6,242.9 109.7,243.5 109.8,243.4 110,243.1 110.1,243.2 110.2,243.4 110.3,243.6 110.4,243.1 110.5,243.3 110.6,243.6 110.7,243.8 110.9,243.2 111,243.7 111.1,243.5 111.1,243.3 111.2,243.6 111.3,243.3 111.4,243.6 111.5,243 111.7,243.2 111.8,243.1 111.9,243 112,243.3 112.1,242.8 112.2,242.8 112.3,242.8 112.4,242.7 112.6,242.8 112.7,242.5 112.8,242.4 112.9,242.5 113,242.5 113.1,242.2 113.2,242.5 113.4,242.4 113.5,242.3 113.6,242.2 113.7,242.2 113.8,242.4 113.9,242.1 114,242.2 114.1,241.8 114.3,241.3 114.4,241.7 114.5,241.4 114.6,241.6 114.7,241.5 114.8,241.6 114.9,241.2 115.1,241.3 115.2,241.2 115.3,240.8 115.4,241.1 115.5,241 115.6,241.1 115.7,241.1 115.8,241.3 116,241.5 116.1,241 116.2,241 116.3,241.2 116.4,241.2 116.5,241 116.6,241.2 116.7,241.1 116.9,241.2 117,241.2 117.1,241 117.2,240.4 117.2,241.1 117.3,240.9 117.4,241 117.5,241 117.7,241.5 117.8,241.2 117.9,241.3 118,241.3 118.1,241.3 118.2,241.8 118.3,242.1 118.4,241.8 118.6,242.1 118.7,242.8 118.8,242.9 118.9,242.9 119,243.2 119.1,243.5 119.2,243.9 119.3,243.6 119.4,243.6 119.5,244 119.6,244.7 119.7,245.2 119.8,245.4 119.9,245.9 120,245.9 120.1,246 120.2,246 120.3,246.1 120.4,246.1 120.5,245.8 120.6,246 120.7,245.7 120.8,245.7 120.9,245.7 121.1,245.4 121.1,245.3 121.2,240.7 121.3,215.7 121.4,194 121.4,192.8 121.5,192.7 121.6,193 121.7,193.4 121.8,194 121.8,194.1 122,196.1 122.1,199.5 122.2,203.8 122.3,208.8 122.4,213.3 122.5,215.3 122.5,217.8 122.6,221.7 122.8,225.8 122.9,229.7 123,233.9 123.1,237.7 123.2,241.3 123.2,241.5 123.3,244.5 123.4,248 123.5,251.8 123.7,255.6 123.8,258.7 123.9,261.8 124,264.5 124.1,266.6 124.2,267.3 124.2,268.5 124.3,270.2 124.5,271.7 124.6,273.4 124.7,275 124.8,276.4 124.9,278 125,278.8 125.1,279.7 125.2,280.1 125.4,280.9 125.5,281.2 125.5,281.1 125.6,281 125.7,281.3 125.8,280.9 125.9,280.5 126,280.2 126.1,280.1 126.3,279.4 126.4,278.9 126.5,278.1 126.6,277.9 126.7,277.5 126.8,276.9 126.9,275.9 127.1,275 127.2,274.2 127.3,273.5 127.4,272.8 127.5,272 127.6,271.3 127.7,270.3 127.8,269.4 128,268.7 128.1,267.7 128.2,266.7 128.3,265.6 128.4,264.6 128.5,263.4 128.6,262.2 128.8,260.9 128.9,259.9 129,258.7 129.1,257.4 129.2,256.1 129.3,254.5 129.4,253.7 129.5,252.6 129.7,251.1 129.8,250 129.9,248.8 130,247.2 130.1,245.7 130.2,244.5 130.3,243.5 130.5,242.2 130.6,241 130.7,239.6 130.8,238.6 130.9,237.6 131,236.8 131.1,235.5 131.2,234.2 131.4,233.2 131.5,232 131.6,231.1 131.7,230.1 131.8,229.6 131.9,228.7 132,227.6 132.2,226.7 132.3,226 132.4,225.3 132.5,224.5 132.6,223.9 132.7,222.9 132.8,222.4 132.9,221.5 133.1,221.3 133.2,220.9 133.3,220.2 133.4,220 133.5,219.2 133.6,219.2 133.7,219.3 133.9,219 134,219 134,219 134.1,219.1 134.2,219.1 134.3,219.4 134.4,219.4 134.5,219.8 134.6,220 134.8,220.3 134.9,220.9 135,220.5 135.1,221.2 135.2,221.3 135.3,221.9 135.4,222.7 135.5,223.1 135.7,223.9 135.8,224 135.8,224.2 135.9,226.4 136,231 136.1,237 136.2,244.2 136.3,252.2 136.5,260.8 136.6,269.1 136.7,276.7 136.8,283.4 136.9,288.2 137,290.6 137.1,290.9 137.1,290.5 137.2,288.2 137.4,283.2 137.5,276.8 137.6,268.9 137.7,259.7 137.8,250 137.9,239.9 138,229.7 138.2,219.9 138.3,211 138.4,203.1 138.5,196.9 138.6,192.7 138.7,190.9 138.7,190.8 138.8,191 138.9,191.6 139.1,191.4 139.2,191.9 139.3,192.4 139.4,192.9 139.5,193.3 139.6,194.1 139.7,194.9 139.8,195.2 139.9,195.9 140,197.2 140.1,199 140.2,201.3 140.3,204.1 140.4,206.8 140.5,209.4 140.6,212.2 140.8,214.8 140.9,217.2 140.9,218.4 141,218.9 141.1,220.7 141.2,222.3 141.3,223.9 141.4,225.7 141.6,227.5 141.7,229.4 141.8,230.7 141.9,232.2 142,234.1 142.1,235.9 142.1,236.5 142.2,237.7 142.3,239.5 142.5,241.5 142.6,243.3 142.7,245.2 142.8,246.9 142.9,248.7 143,250.2 143.1,251.6 143.3,252.8 143.4,254.1 143.4,254.1 143.5,255.3 143.6,256.7 143.7,258 143.8,259.8 143.9,261.3 144,263 144.2,264.5 144.3,265.7 144.4,267 144.5,267.8 144.6,268.7 144.7,269.3 144.8,269.9 144.9,270.2 145,270 145.1,269.7 145.2,269.6 145.3,269.8 145.4,269.7 145.5,269.6 145.6,269.2 145.7,269 145.9,268.8 146,268.5 146.1,268.5 146.2,268.3 146.3,268 146.4,267.4 146.5,266.9 146.6,266.6 146.8,266.6 146.9,266.1 147,265.2 147.1,264.7 147.2,264.6 147.3,263.7 147.4,263 147.6,262.5 147.7,262.1 147.8,261.5 147.9,261 148,260.6 148.1,260 148.2,259.2 148.3,258.4 148.5,258.1 148.6,257.8 148.7,257 148.8,256.2 148.9,255.7 149,255.1 149.1,254.9 149.3,254.1 149.4,253.5 149.5,252.7 149.6,252 149.7,251 149.8,250.5 149.9,250.2 150,249.4 150.2,248.6 150.3,248.1 150.4,247.7 150.5,247 150.6,246 150.7,245.4 150.8,244.8 151,244.1 151.1,244 151.2,243.6 151.3,242.9 151.4,242.5 151.5,241.9 151.6,241.1 151.7,240.7 151.9,240.1 152,239.4 152.1,238.7 152.2,238.7 152.3,238.4 152.4,237.6 152.5,237.4 152.7,237.3 152.8,236.6 152.9,235.9 153,235.7 153.1,235.5 153.2,234.9 153.3,234.6 153.4,234.7 153.6,234.3 153.7,233.9 153.8,234.2 153.9,233.7 154,233.5 154.1,233.5 154.2,233.3 154.4,233.3 154.5,233.1 154.5,232.9 154.6,232.9 154.7,232.5 154.8,232.4 154.9,232.5 155,232.8 155.1,233 155.3,232.8 155.4,232.7 155.5,233 155.6,233.4 155.7,233.3 155.8,233.7 155.9,233.7 156,233.8 156.2,233.7 156.3,234 156.4,234.4 156.5,234.4 156.6,234.9 156.7,235.1 156.8,234.7 157,234.8 157.1,235 157.2,235.2 157.3,235.3 157.4,235.8 157.5,236.3 157.6,236.2 157.7,236.5 157.9,237 158,236.5 158.1,237 158.2,237.1 158.3,237.2 158.4,237.6 158.5,237.9 158.7,238.1 158.8,238.3 158.9,238 159,238.4 159.1,238.5 159.2,238.9 159.3,239 159.4,239.3 159.6,239.8 159.7,239.9 159.8,240.1 159.9,240.2 160,240.5 160.1,240.6 160.2,240.4 160.4,241 160.5,241.1 160.6,241.1 160.7,241.3 160.8,241.5 160.9,241.6 161,241.9 161.1,241.8 161.3,241.8 161.4,242 161.5,242.4 161.6,242.4 161.7,242.2 161.8,242.6 161.9,242.5 162.1,242.7 162.2,243 162.3,242.8 162.4,243.3 162.5,243.5 162.6,243.2 162.7,243.4 162.8,243.5 163,243.6 163.1,243.3 163.2,243.7 163.3,243.6 163.4,244 163.5,244.3 163.6,244.1 163.8,244.2 163.9,244.5 164,244.5 164.1,244.2 164.2,244.2 164.3,244.4 164.4,244.4 164.5,244.3 164.5,244.6 164.7,244.5 164.8,244.4 164.9,244.1 165,244.1 165.1,243.8 165.2,243.8 165.3,244 165.4,244.1 165.6,244.3 165.7,244.6 165.8,244.5 165.9,244.3 166,244.1 166.1,243.9 166.2,244 166.4,243.9 166.5,244.4 166.6,244.4 166.7,244.4 166.8,244.1 166.9,244.5 167,244.6 167.1,244 167.3,243.8 167.4,243.9 167.5,244 167.6,244 167.7,244.1 167.8,244.2 167.9,244.6 168.1,244 168.2,244.3 168.3,244.4 168.4,244 168.5,244.1 168.6,243.6 168.7,243.8 168.8,244.3 169,244.2 169.1,244 169.2,244 169.3,243.8 169.4,243.7 169.5,243.4 169.6,243.8 169.8,243.6 169.9,243.4 170,243.8 170.1,244 170.2,243.7 170.3,243.7 170.4,243.7 170.5,243.4 170.7,243.6 170.8,243.8 170.9,243.9 171,244 171.1,243.7 171.2,243.8 171.3,243.6 171.4,243.4 171.5,243.3 171.6,243.3 171.7,242.6 171.8,241.9 171.9,241.3 172,240.3 172.1,239.9 172.2,239.5 172.3,239.3 172.4,239.9 172.5,243.1 172.6,246 172.6,246.5 172.7,246 172.8,245.3 172.9,244.5 173,243.9 173,244.3 173.2,244.2 173.3,244.1 173.3,244.1 173.4,245.9 173.5,265.8 173.6,289.3 173.7,296 173.7,294.2 173.8,271 173.9,242.4 174,233.2 174.1,235 174.2,263.6 174.3,291.6 174.3,293.1 174.4,288.2 174.5,270.4 174.6,245.2 174.7,219.2 174.8,198.3 175,189 175,189 175.1,199.4 175.2,211.2 175.2,211 175.3,201 175.4,191.4 175.4,191.2 175.5,196.2 175.6,201.9 175.7,202.2 175.8,200.4 175.9,196.8 175.9,196.1 176,196.3 176.1,196.4 176.2,197 176.3,197.8 176.4,198.1 176.5,199.3 176.7,200.3 176.8,201.5 176.9,202.8 177,204.2 177.1,205.8 177.2,207.2 177.3,208.9 177.5,210.6 177.6,212.6 177.7,214.5 177.8,216.6 177.9,218.6 178,220.6 178.1,223.2 178.2,225.4 178.4,227.7 178.5,229.9 178.6,232.2 178.7,234.3 178.8,236.6 178.9,238.9 179,241 179.2,243.2 179.3,245.3 179.4,247.4 179.5,249.2 179.6,251.3 179.7,252.9 179.8,254.5 179.9,256.1 180.1,257.7 180.2,258.9 180.3,260 180.4,261.4 180.5,262.6 180.6,263.4 180.7,264.3 180.9,265 181,265.2 181.1,265.6 181.2,265.8 181.2,265.8 181.3,265.8 181.4,265.7 181.5,265.8 181.6,265.6 181.8,265.4 181.9,265.4 182,264.9 182.1,264.9 182.2,264.4 182.3,264.3 182.4,264.2 182.6,263.7 182.7,263.6 182.8,263.1 182.9,262.8 183,262.6 183.1,262.5 183.2,261.4 183.3,261.5 183.5,261.3 183.6,260.8 183.7,260.6 183.8,260.4 183.9,260 184,260 184.1,259 184.3,258.8 184.4,258.3 184.5,257.6 184.6,257 184.7,256.7 184.8,255.8 184.9,255.6 185,255.2 185.2,254.7 185.3,254 185.4,253.2 185.5,252.4 185.6,251.8 185.7,251.2 185.8,251.1 185.9,250.6 186.1,250.2 186.2,249.6 186.3,249.6 186.4,248.9 186.5,248.5 186.6,248 186.7,247.5 186.9,247.1 187,246.6 187.1,246.5 187.2,246.2 187.3,245.5 187.4,244.9 187.5,244.3 187.6,243.9 187.8,243.5 187.9,242.7 188,242 188.1,241.8 188.2,241.1 188.3,240.8 188.4,240.2 188.6,240.3 188.7,240.2 188.8,239.5 188.9,239.6 189,239.3 189.1,239.1 189.2,238.9 189.3,238.9 189.5,238.4 189.6,238 189.7,237.9 189.8,237.9 189.9,238 190,237.6 190.1,237.7 190.3,237.6 190.4,238 190.5,237.8 190.6,237.8 190.7,237.4 190.7,237.2 190.8,237.5 190.9,237.4 191,237.4 191.2,237.9 191.3,238 191.4,238.1 191.5,238.1 191.6,238 191.7,237.9 191.8,237.5 192,237.6 192.1,237.5 192.2,237.7 192.3,237.7 192.4,238 192.5,238.4 192.6,238.5 192.7,238.3 192.9,238.4 193,238.2 193.1,238.6 193.2,239 193.3,239.1 193.4,238.9 193.5,239.6 193.7,239.3 193.8,239.5 193.9,239.4 194,239.7 194.1,240.1 194.2,239.8 194.3,240 194.4,240 194.6,240.2 194.7,240 194.8,240.4 194.9,240.4 195,240.8 195.1,240.8 195.2,240.8 195.3,241.1 195.5,241.1 195.6,241.5 195.7,241.8 195.8,241.6 195.9,242.2 196,242.5 196.1,242.4 196.3,242.6 196.4,243.3 196.5,243 196.6,242.9 196.7,243 196.8,243.3 196.9,243.2 197,243.4 197.2,243.6 197.3,243.7 197.4,243.9 197.5,243.8 197.6,243.7 197.7,243.8 197.8,243.7 198,243.9 198.1,243.7 198.2,243.6 198.3,243.9 198.4,243.9 198.5,244.2 198.6,244 198.7,244.3 198.8,244.3 198.9,244.3 199,244.4 199.1,244.2 199.2,244.4 199.3,244.6 199.4,244.5 199.5,244.5 199.7,244.8 199.8,245.1 199.9,244.7 200,244.6 200.1,245 200.2,245.1 200.3,245.3 200.4,245.1 200.6,244.7 200.7,245 200.8,244.7 200.9,244.7 201,244.6 201.1,244.4 201.2,244.6 201.4,245 201.5,244.5 201.6,244.5 201.7,244.3 201.8,244 201.9,243.9 202,243.9 202.1,244.1 202.3,244.4 202.4,244.2 202.5,243.9 202.6,243.8 202.7,243.9 202.8,243.8 202.9,243.6 203.1,243.8 203.2,243.6 203.3,243.6 203.4,243.7 203.5,243.7 203.6,243.8 203.7,244 203.8,243.7 204,243.5 204.1,243.6 204.2,243.4 204.3,243.2 204.4,243.5 204.5,243.1 204.6,243.5 204.7,243.4 204.9,243.3 205,243.3 205.1,243 205.2,243.1 205.3,243.1 205.4,242.9 205.5,242.9 205.7,242.9 205.8,242.8 205.9,242.8 206,243 206.1,242.6 206.2,242.6 206.3,242.6 206.4,242.6 206.6,242.9 206.7,243 206.8,243.2 206.9,242.9 207,242.6 207,242.7 207.1,243.4 207.2,243.1 207.4,243 207.5,243.1 207.6,242.8 207.7,242.9 207.8,243.1 207.9,242.8 208,243.1 208.1,242.9 208.3,242.8 208.4,242.4 208.5,242.8 208.6,242.7 208.7,242.6 208.8,242.5 208.9,242.4 209.1,242.6 209.2,242.4 209.3,242.5 209.4,242.4 209.5,242.2 209.6,242.3 209.7,242.5 209.8,242.4 210,242.3 210.1,242.7 210.2,242.5 210.3,242.7 210.4,242.4 210.5,242.6 210.6,242.8 210.8,242.4 210.9,242.7 211,242.6 211.1,242.6 211.2,242.6 211.3,242.7 211.4,242.5 211.5,242.5 211.7,242.5 211.8,242.2 211.9,242.1 212,242.1 212.1,242.3 212.2,242.2 212.3,241.9 212.5,242.2 212.6,242.1 212.7,242.1 212.8,242.4 212.9,242.5 213,242.8 213.1,242.5 213.2,242.7 213.4,242.7 213.5,242.8 213.6,243.1 213.7,243 213.8,242.8 213.9,243.1 214,243.3 214.2,243.2 214.3,243.2 214.4,243.2 214.5,242.8 214.6,243.1 214.7,242.9 214.8,243 214.9,242.9 215.1,243.4 215.2,243.1 215.3,242.4 215.4,242.3 215.5,242.5 215.6,242.3 215.7,242.1 215.8,242.2 216,242 216.1,242.5 216.2,242.5 216.3,242.8 216.4,242.1 216.5,242.3 216.6,242.2 216.8,242.7 216.9,242.5 217,242.5 217.1,242.5 217.2,242.3 217.3,242.4 217.4,242.4 217.5,242.7 217.7,242.1 217.8,242.1 217.9,242.3 218,242.3 218.1,242.3 218.2,242.5 218.3,242.3 218.5,241.9 218.6,242.5 218.7,242.5 218.8,242.6 218.9,242.9 219,242.7 219.1,242.9 219.2,242.9 219.4,243.3 219.5,243.3 219.6,243.3 219.6,243.2 219.7,243.1 219.8,243.4 219.9,242.9 220,243 220.2,243.1 220.3,242.9 220.4,242.6 220.5,242.8 220.6,242.7 220.7,242.8 220.8,242.7 220.9,242.8 221.1,242.4 221.2,242.4 221.3,242.6 221.4,242.6 221.5,242.8 221.6,242.9 221.7,242.7 221.9,242.6 222,242.6 222.1,242.7 222.2,242.3 222.3,242.6 222.4,242.4 222.5,242.4 222.6,242.1 222.8,242.3 222.9,242.5 223,242.6 223.1,242.4 223.2,242.3 223.3,242.7 223.4,242.7 223.6,242.4 223.7,242.3 223.8,242.4 223.9,242.2 224,242.2 224.1,242.6 224.2,242.6 224.3,242.6 224.5,242.6 224.6,242.4 224.7,242.3 224.8,242.6 224.9,242.4 225,242.3 225.1,242.5 225.2,242.3 225.4,242.6 225.5,242.6 225.6,243 225.7,242.5 225.8,242.8 225.9,242.8 226,242.9 226.2,243 226.3,243 226.4,243 226.5,242.7 226.6,242.8 226.7,242.7 226.8,243 226.9,242.9 227.1,243.2 227.2,243.2 227.3,243.1 227.4,242.7 227.5,243.2 227.6,243.4 227.7,242.9 227.9,242.7 228,242.7 228.1,243.1 228.2,242.9 228.3,242.7 228.4,242.9 228.5,243 228.6,242.8 228.8,243.1 228.9,243.3 229,242.8 229.1,243 229.2,243.3 229.3,243.1 229.4,243.2 229.6,243.3 229.7,243.3 229.8,243.3 229.9,243.4 230,243.5 230.1,243.6 230.2,243.7 230.3,243.5 230.5,243.3 230.6,243 230.7,242.9 230.8,243 230.9,242.9 231,243 231.1,242.6 231.3,242.6 231.4,242.5 231.5,242.8 231.6,242.5 231.7,242.5 231.8,242.3 231.9,242.5 232,242.5 232.2,242.6 232.3,242.4 232.4,242.4 232.5,242.6 232.6,242.3 232.7,242.5 232.8,242.5 233,242.4 233.1,242.4 233.2,242.7 233.3,242.4 233.4,242.3 233.5,242.2 233.6,242.4 233.7,242.7 233.9,242.8 234,242.6 234.1,242.8 234.2,243 234.3,243.2 234.4,243.5 234.5,243.2 234.6,243.3"/>
<rect class="ax" x="30.9" y="182.4" width="220.10" height="120.90"/>
<path class="tc" d="M62.34,303.3v-1.9M62.34,182.4v1.9M93.79,303.3v-1.9M93.79,182.4v1.9M125.23,303.3v-1.9M125.23,182.4v1.9M156.67,303.3v-1.9M156.67,182.4v1.9M188.11,303.3v-1.9M188.11,182.4v1.9M219.56,303.3v-1.9M219.56,182.4v1.9M30.9,242.85h1.9M251.0,242.85h-1.9"/>
<text class="tk" x="30.9" y="316" text-anchor="middle">0</text>
<text class="tk" x="62.3" y="316" text-anchor="middle">1</text>
<text class="tk" x="93.8" y="316" text-anchor="middle">2</text>
<text class="tk" x="125.2" y="316" text-anchor="middle">3</text>
<text class="tk" x="156.7" y="316" text-anchor="middle">4</text>
<text class="tk" x="188.1" y="316" text-anchor="middle">5</text>
<text class="tk" x="219.6" y="316" text-anchor="middle">6</text>
<text class="tk" x="251.0" y="316" text-anchor="middle">7</text>
<text class="tk" x="27.5" y="186" text-anchor="end">5</text>
<text class="tk" x="27.5" y="246" text-anchor="end">0</text>
<text class="tk" x="27.5" y="307" text-anchor="end">-5</text>
<text class="lb" x="141.3" y="329" text-anchor="middle">Time(s)</text>
<text class="lb" transform="translate(15.0,242.6) rotate(-90)" text-anchor="middle">Amplitude(mV)</text>
<text class="pl" x="5.0" y="195">C</text>
</g>
<g id="panelD">
<polyline class="ln" stroke-width="0.6" points="321.5,242.8 321.6,242.6 321.7,242.3 321.8,242.5 322,242.8 322.1,242.7 322.2,242.9 322.3,242.6 322.4,242.9 322.5,242.8 322.6,242.9 322.7,242.6 322.9,242.7 323,242.7 323.1,243 323.2,242.6 323.3,243.3 323.4,242.9 323.5,243.2 323.7,243.2 323.8,243.1 323.9,242.9 324,243 324.1,242.9 324.2,242.6 324.3,243.3 324.4,243.2 324.6,243.3 324.7,243.1 324.8,243.4 324.9,243.2 325,242.8 325.1,243.1 325.2,242.5 325.4,242.7 325.5,242.7 325.6,242.6 325.7,242.9 325.8,243 325.9,242.8 326,242.6 326.1,242.5 326.3,242.8 326.4,242.7 326.5,242.8 326.6,242.9 326.7,243.1 326.8,243 326.9,242.8 327.1,242.9 327.2,242.7 327.3,242.5 327.4,242.6 327.5,242.4 327.6,242.7 327.7,242.6 327.8,242.9 328,242.4 328.1,242.9 328.2,242.7 328.3,242.6 328.4,242.5 328.5,242.4 328.6,242.6 328.8,242.9 328.9,243.1 329,243.5 329.1,243.3 329.2,243.6 329.3,243.4 329.4,242.9 329.5,243.2 329.7,243.4 329.8,242.8 329.9,243 330,242.7 330.1,243 330.2,242.9 330.3,242.9 330.4,242.7 330.6,242.5 330.7,242.3 330.8,242.1 330.9,242 331,242.5 331.1,242.2 331.2,242.3 331.4,242.2 331.5,242.5 331.6,242.6 331.7,242.6 331.8,242.4 331.9,242.4 332,242.6 332.1,242.4 332.3,242.6 332.4,242.8 332.5,242.6 332.6,242.8 332.7,242.9 332.8,243 332.9,243.1 333.1,242.7 333.2,242.9 333.3,242.8 333.4,242.9 333.5,243.2 333.6,243 333.7,243.3 333.8,242.9 334,243 334.1,242.8 334.2,242.7 334.3,242.6 334.4,242.6 334.5,242.6 334.6,242.8 334.8,243 334.9,242.8 335,243 335.1,242.5 335.2,242.7 335.3,242.4 335.4,242.2 335.5,242.3 335.7,242.7 335.8,242.8 335.9,242.7 336,242.7 336.1,242.9 336.2,242.6 336.3,242.3 336.5,242.4 336.6,242.4 336.7,242.5 336.8,242.6 336.9,242.7 337,243.2 337.1,243 337.2,242.6 337.2,242.9 337.4,242.5 337.5,242.7 337.6,242.9 337.7,242.8 337.8,242.9 337.9,243.2 338,243.1 338.2,243.1 338.3,242.9 338.4,242.9 338.5,243.1 338.6,242.8 338.7,242.9 338.8,243.1 338.9,243 339.1,243.3 339.2,243.2 339.3,243.3 339.4,243.2 339.5,243.2 339.6,243 339.7,243 339.9,243 340,242.7 340.1,242.9 340.2,243.1 340.3,243 340.4,242.7 340.5,242.6 340.6,242.6 340.8,242.6 340.9,242.3 341,241.9 341.1,241.9 341.2,242.2 341.3,242.3 341.4,242.3 341.6,242.5 341.7,242.5 341.8,242.7 341.9,243 342,242.8 342.1,242.8 342.2,243.3 342.3,242.9 342.5,242.9 342.6,243.1 342.7,243.5 342.8,243.5 342.9,243.7 343,243.5 343.1,243.6 343.3,243.8 343.4,243.8 343.5,243.8 343.6,243.4 343.7,243.4 343.8,243.8 343.9,243.9 344,243.7 344.2,243.6 344.3,243.3 344.4,243.6 344.5,243.3 344.6,243.5 344.7,243.2 344.8,242.9 344.9,243.2 345.1,243.2 345.2,243.1 345.3,242.9 345.4,243 345.5,242.6 345.6,242.9 345.7,242.8 345.9,242.9 346,242.9 346.1,242.8 346.2,242.9 346.3,242.7 346.4,242.7 346.5,243.2 346.6,243.2 346.8,243.4 346.9,243.2 347,243.3 347.1,243.4 347.2,243.3 347.3,243.2 347.4,243.2 347.6,243.4 347.7,243.4 347.8,243.4 347.9,243.4 348,243.6 348.1,243.5 348.2,243.5 348.3,243.3 348.5,243.3 348.6,242.8 348.7,242.8 348.8,242.5 348.9,242.7 349,242.8 349.1,242.7 349.3,242.7 349.4,242.7 349.5,242.5 349.6,242.4 349.7,242.5 349.8,242.5 349.9,242.4 350,242.6 350.2,242.6 350.3,243 350.4,243.1 350.5,243.1 350.6,242.9 350.7,242.9 350.8,243.2 351,243 351.1,243.2 351.2,243.5 351.3,243.5 351.4,243.5 351.5,242.9 351.6,243.4 351.7,243.5 351.9,243.7 352,243.8 352.1,243.7 352.2,243.7 352.3,243.6 352.4,243.9 352.5,243.6 352.7,243.6 352.8,243.7 352.9,243.4 352.9,243.5 353,243.3 353.1,243.2 353.2,242.9 353.3,243.1 353.4,243 353.6,242.7 353.7,242.9 353.8,242.8 353.9,243 354,243 354.1,243 354.2,242.9 354.4,242.8 354.5,242.9 354.6,243.1 354.7,243.3 354.8,243.3 354.9,243.2 355,243.6 355.1,242.9 355.3,243.1 355.4,243.1 355.5,242.9 355.6,242.7 355.7,242.4 355.8,242.5 355.9,242.3 356.1,242.5 356.2,242.6 356.3,242.4 356.4,242.4 356.5,242.5 356.6,242.3 356.7,242.5 356.8,242.4 357,242.8 357.1,242.8 357.2,242.9 357.3,242.6 357.4,243 357.5,242.9 357.6,242.6 357.8,242.9 357.9,242.9 358,243 358.1,243.1 358.2,243 358.3,243 358.4,242.7 358.5,242.8 358.7,242.9 358.8,242.6 358.9,242.9 359,242.8 359.1,242.9 359.2,242.9 359.3,243 359.4,242.7 359.6,242.4 359.7,242.5 359.8,242.7 359.9,242.5 360,242.7 360.1,242.8 360.2,242.7 360.4,242.7 360.5,242.7 360.6,242.9 360.7,242.6 360.8,242.5 360.9,242.6 361,242.5 361.1,242.7 361.3,242.4 361.4,242.6 361.5,242.4 361.6,242.4 361.7,242.5 361.8,242.4 361.9,242.6 362.1,242.7 362.2,242.4 362.3,242.4 362.4,242.4 362.5,242.7 362.6,242.8 362.7,242.2 362.8,242.7 363,242.7 363.1,242.3 363.2,242.9 363.3,242.5 363.4,242.6 363.5,242.6 363.6,242.4 363.8,242.7 363.9,242.8 364,242.6 364.1,243 364.2,243 364.3,242.7 364.4,242.8 364.5,242.9 364.7,242.9 364.8,243.1 364.9,243.3 365,243.2 365.1,243.2 365.2,243.3 365.3,243.2 365.5,243.1 365.6,243 365.7,242.9 365.8,243.2 365.9,243 366,242.9 366.1,242.9 366.2,242.8 366.4,242.8 366.5,242.9 366.6,243.2 366.7,242.9 366.8,242.6 366.9,242.6 367,242.5 367.2,242.4 367.3,242.4 367.4,242.4 367.5,242.3 367.6,242.3 367.7,242.4 367.8,242.3 367.9,242.7 368.1,242.5 368.2,243 368.3,242.4 368.4,242.7 368.5,242.7 368.6,242.6 368.7,242.5 368.7,242.8 368.9,242.8 369,243 369.1,242.8 369.2,243 369.3,242.9 369.4,242.8 369.5,242.6 369.6,242.8 369.8,242.3 369.9,242.3 370,242.6 370.1,242.4 370.2,242.3 370.3,242.9 370.4,242.5 370.6,242.8 370.7,242.6 370.8,242.7 370.9,242.6 371,242.8 371.1,242.7 371.2,242.8 371.3,242.9 371.5,242.9 371.6,243 371.7,243.3 371.8,243 371.9,242.7 372,242.9 372.1,242.6 372.3,242.8 372.4,242.7 372.5,242.8 372.6,242.6 372.7,242.6 372.8,242.5 372.9,242.6 373,242.3 373.2,242.7 373.3,242.4 373.4,242.5 373.5,243 373.6,242.9 373.7,242.6 373.8,243 373.9,242.8 374.1,243.1 374.2,243.1 374.3,243.2 374.4,243.2 374.5,243.1 374.6,243 374.7,243.1 374.9,242.8 375,242.7 375.1,242.6 375.2,242.6 375.3,242.4 375.4,242.6 375.5,243.2 375.6,243.1 375.8,243.1 375.9,242.9 376,242.6 376.1,242.6 376.2,242.4 376.3,242.4 376.4,242.6 376.6,242.4 376.7,242.5 376.8,242.5 376.9,242.5 377,242.5 377.1,242.4 377.2,241.8 377.3,241.8 377.5,241.7 377.6,241.4 377.7,241.8 377.8,242.1 377.9,242.2 378,242 378.1,242.2 378.3,242 378.4,242.2 378.5,241.9 378.6,242.1 378.7,242.3 378.8,242.2 378.9,242.7 379,242.6 379.2,242.8 379.3,242.9 379.4,242.8 379.5,242.8 379.6,242.6 379.7,242.6 379.8,242.7 380,243 380.1,243 380.2,243.3 380.3,243.3 380.4,243.2 380.5,243.2 380.6,243.2 380.7,243 380.9,243.4 381,243.3 381.1,243.3 381.2,243.3 381.3,243.4 381.3,243.1 381.4,242.8 381.5,242.7 381.7,242.5 381.8,242.4 381.9,242.5 382,242.4 382.1,242.8 382.2,242.6 382.3,242.7 382.4,242.5 382.6,242.5 382.7,242.4 382.8,242.9 382.9,242.3 383,242.8 383.1,243 383.2,243 383.4,243.3 383.5,243.3 383.6,243.2 383.7,243.2 383.8,243.3 383.8,243.3 383.9,243.5 384,244 384.1,244 384.3,244.4 384.4,245.2 384.5,245.7 384.6,246.1 384.7,246.2 384.8,246.5 384.9,246.9 385,247 385.1,247 385.2,246.9 385.3,246.9 385.4,246.4 385.5,245.6 385.6,245.2 385.7,244.7 385.8,244.1 386,243.4 386.1,242.8 386.2,242.1 386.3,241.8 386.4,241.2 386.5,240.7 386.6,240.4 386.8,240.2 386.9,239.8 387,239.5 387.1,239.5 387.1,239.9 387.2,240.1 387.3,240 387.4,240.2 387.5,240.5 387.7,240.5 387.8,240.6 387.9,240.6 388,240.7 388.1,240.7 388.2,240.8 388.3,241 388.5,241.2 388.6,241.2 388.7,241.4 388.8,241.2 388.9,241.3 389,241.7 389.1,241.3 389.2,241.6 389.4,241.8 389.5,241.7 389.6,241.8 389.7,241.7 389.8,241.9 389.9,241.9 390,241.8 390.1,241.8 390.3,241.8 390.4,241.9 390.5,242 390.6,242 390.7,242.5 390.7,242.1 390.8,242.2 390.9,242.4 391.1,242.3 391.2,242.7 391.3,242.4 391.4,242.8 391.5,242.8 391.6,242.7 391.7,242.7 391.8,242.9 392,243.1 392.1,242.8 392.2,243.1 392.3,242.8 392.4,242.9 392.5,242.7 392.6,242.9 392.8,243 392.9,242.9 393,242.8 393.1,243 393.2,242.8 393.3,243.3 393.4,243.3 393.5,243.6 393.7,243.7 393.8,243.7 393.9,244 394,244 394.1,244.3 394.2,244.2 394.3,244.5 394.5,244.8 394.6,244.8 394.7,245.2 394.8,244.7 394.9,244.6 395,244.5 395.1,244.4 395.1,244.6 395.2,244.4 395.4,244.1 395.5,244.2 395.6,244.1 395.7,243.8 395.8,243.9 395.9,243.6 396,243.8 396.2,243.8 396.3,243.8 396.4,243.8 396.5,243.7 396.6,243.6 396.7,243.6 396.8,243.5 396.9,243.7 397.1,243.8 397.2,243.6 397.3,243.5 397.4,243.8 397.5,243.9 397.6,243.5 397.7,243.5 397.9,243.5 398,243.7 398.1,243.8 398.2,244 398.3,244 398.4,244.2 398.5,244 398.6,243.8 398.8,244 398.9,244.1 399,244.1 399.1,243.5 399.2,243.8 399.3,243.6 399.4,243.6 399.6,243.8 399.7,243.7 399.8,243.5 399.9,243.8 400,243.5 400.1,243.5 400.2,243.4 400.3,243.2 400.5,243.2 400.6,242.9 400.7,243 400.8,243.1 400.9,243.3 401,243.1 401.1,243.4 401.3,243.4 401.4,243.1 401.5,243 401.6,243.3 401.7,243.1 401.7,242.9 401.8,243 401.9,243 402,243.3 402.2,243.2 402.3,243 402.4,243 402.5,242.7 402.6,242.8 402.7,242.7 402.8,242.7 403,242.5 403.1,242.6 403.2,242.6 403.3,242.6 403.4,242.2 403.5,242.3 403.6,242.1 403.7,242.3 403.9,242.3 404,242.1 404.1,242.3 404.2,242.4 404.3,242.2 404.4,242.3 404.5,242 404.6,241.8 404.8,241.3 404.9,241.6 405,241.4 405.1,241 405.2,241.2 405.3,241.5 405.4,241 405.6,241 405.7,240.7 405.8,240.8 405.9,240.8 406,240.6 406.1,240.3 406.2,240.5 406.3,240.5 406.5,240.6 406.6,240.8 406.7,240.7 406.8,240.5 406.9,240.6 407,241 407.1,240.7 407.3,240.7 407.4,240.7 407.5,240.5 407.6,240.7 407.7,240.3 407.8,240.7 407.8,240.8 407.9,240.8 408,241.1 408.2,241.2 408.3,241.5 408.4,241.5 408.5,241.5 408.6,241.6 408.7,241.9 408.8,241.8 409,242.1 409.1,242.3 409.2,242.5 409.3,242.7 409.4,242.9 409.5,242.9 409.6,242.9 409.7,242.9 409.9,243.3 409.9,243.5 410,243.7 410.1,244.2 410.2,244.4 410.3,245.4 410.4,245.6 410.5,245.9 410.7,246.3 410.8,246.3 410.8,246.4 410.9,246.5 411,246.7 411.1,246.4 411.2,246.4 411.3,246.5 411.4,246.1 411.6,245.8 411.7,245.3 411.7,245.1 411.8,240.2 411.9,214.8 412,193.2 412,191.5 412.1,191.7 412.2,191.8 412.4,192.4 412.5,193.1 412.5,193.2 412.6,195.1 412.7,198.8 412.8,203.4 412.9,208.4 413,213.3 413.1,215.1 413.1,217.4 413.3,221.8 413.4,225.9 413.5,230.2 413.6,234.1 413.7,238.2 413.8,242 413.8,242.2 413.9,245.2 414.1,248.8 414.2,252.1 414.3,255.5 414.4,258.9 414.5,261.9 414.6,264.6 414.7,267.1 414.8,267.5 414.8,268.4 415,270.1 415.1,271.7 415.2,273.4 415.3,274.7 415.4,276.1 415.5,277.2 415.6,278.5 415.8,279.5 415.9,280.1 416,280.7 416.1,280.7 416.2,280.6 416.2,280.5 416.3,280.6 416.4,280.5 416.5,280.5 416.7,280.2 416.8,279.9 416.9,279.4 417,278.9 417.1,278.5 417.2,277.9 417.3,277.5 417.5,277 417.6,276.4 417.7,275.8 417.8,275 417.9,274.2 418,273.6 418.1,272.6 418.2,271.7 418.4,270.6 418.5,269.5 418.6,268.8 418.7,267.5 418.8,266.6 418.9,265.5 419,264.2 419.1,263.1 419.3,261.9 419.4,260.6 419.5,259.4 419.6,258.2 419.7,256.7 419.8,255.7 419.9,254.5 420.1,253.2 420.2,251.9 420.3,250.5 420.4,249.2 420.5,247.9 420.6,246.5 420.7,245.2 420.8,244 421,242.9 421.1,241.8 421.2,240.7 421.3,239.4 421.4,238.2 421.5,236.8 421.6,235.8 421.8,234.9 421.9,233.9 422,233 422.1,231.8 422.2,230.7 422.3,229.9 422.4,229 422.5,227.7 422.7,226.9 422.8,226 422.9,225 423,224.2 423.1,223.5 423.2,223 423.3,222.2 423.5,221.4 423.6,220.7 423.7,220.1 423.8,219.8 423.9,219.6 424,218.9 424.1,218.7 424.2,218.7 424.4,218.6 424.5,218.3 424.6,218.1 424.7,218.1 424.7,218.4 424.8,217.9 424.9,218.5 425,218.5 425.2,218.5 425.3,218.9 425.4,219.3 425.5,219.4 425.6,219.7 425.7,220.1 425.8,220.6 425.9,220.7 426.1,221.7 426.2,222.2 426.3,223 426.4,223.6 426.4,223.8 426.5,226 426.6,230.5 426.7,236.8 426.9,244 427,252.1 427.1,260.4 427.2,268.7 427.3,276.2 427.4,282.5 427.5,287.2 427.6,289.7 427.7,289.8 427.8,289.6 427.9,287.2 428,282.6 428.1,276.1 428.2,267.7 428.3,258.6 428.4,248.9 428.6,238.9 428.7,228.9 428.8,219.1 428.9,210.3 429,202.6 429.1,196.3 429.2,192.1 429.3,190.2 429.4,190.1 429.5,190 429.6,190 429.7,190.1 429.8,190.6 429.9,191 430,191.4 430.1,191.9 430.3,192.4 430.4,192.8 430.4,193 430.5,193.4 430.6,195.1 430.7,197.1 430.8,199.7 430.9,202.4 431,205.2 431.2,208.5 431.3,211.4 431.4,214.3 431.5,216.6 431.6,218.2 431.6,218.8 431.7,221.1 431.8,222.8 432,224.8 432.1,226.8 432.2,228.4 432.3,230.1 432.4,231.6 432.5,233.2 432.6,234.9 432.7,236.3 432.8,236.6 432.9,237.7 433,239.6 433.1,241.3 433.2,243.1 433.3,244.6 433.4,246.3 433.5,247.8 433.7,249.3 433.8,250.7 433.9,252.3 434,253.6 434,253.6 434.1,255 434.2,256.6 434.3,258.2 434.4,259.8 434.6,261.3 434.7,262.8 434.8,264.4 434.9,265.8 435,266.9 435.1,268.1 435.2,269 435.3,269.6 435.5,269.7 435.5,270 435.6,269.8 435.7,270 435.8,269.5 435.9,269.5 436,269.3 436.1,269.3 436.3,268.9 436.4,268.9 436.5,268.5 436.6,268.6 436.7,268.4 436.8,268 436.9,267.5 437,267.3 437.2,267 437.3,266.3 437.4,266.2 437.5,265.9 437.6,265.4 437.7,265.1 437.8,264.6 438,264.1 438.1,263.5 438.2,263.3 438.3,262.6 438.4,261.9 438.5,261.3 438.6,261.1 438.7,260.1 438.9,259.4 439,258.9 439.1,258.4 439.2,257.5 439.3,257.2 439.4,256.5 439.5,255.8 439.7,255.1 439.8,254.4 439.9,253.8 440,252.8 440.1,252.6 440.2,251.8 440.3,251.4 440.4,250.6 440.6,250.1 440.7,249.5 440.8,248.9 440.9,248.4 441,247.8 441.1,247.3 441.2,246.8 441.4,246 441.5,245.8 441.6,245.4 441.7,244.9 441.8,244.1 441.9,243.5 442,242.9 442.1,242.3 442.3,242.1 442.4,241.1 442.5,240.4 442.6,240.2 442.7,239.6 442.8,238.7 442.9,238.2 443.1,238.2 443.2,237.4 443.3,236.9 443.4,236.3 443.5,235.7 443.6,235.5 443.7,235.4 443.8,235.3 444,234.7 444.1,234.8 444.2,234.3 444.3,234.1 444.4,233.9 444.5,233.9 444.6,234 444.8,233.6 444.9,233.6 445,233.3 445.1,233.5 445.1,233.5 445.2,233.6 445.3,233.2 445.4,233.3 445.5,233.3 445.7,233.1 445.8,233.2 445.9,233.3 446,233.2 446.1,233.2 446.2,233.2 446.3,233.4 446.5,233.7 446.6,233.4 446.7,233.9 446.8,233.7 446.9,234 447,233.9 447.1,234.1 447.2,234.5 447.4,234.6 447.5,235.1 447.6,235 447.7,235.4 447.8,235.6 447.9,236 448,236.1 448.2,235.9 448.3,236.3 448.4,236.6 448.5,236.5 448.6,236.6 448.7,236.8 448.8,237 448.9,237.1 449.1,237.1 449.2,237.4 449.3,237.8 449.4,237.8 449.5,238 449.6,238.3 449.7,238.2 449.8,238.5 450,238.4 450.1,238.6 450.2,238.8 450.3,239.4 450.4,239.5 450.5,239.6 450.6,240.1 450.8,240.5 450.9,241 451,240.9 451.1,241 451.2,241 451.3,241.4 451.4,241.5 451.5,241.8 451.7,242.1 451.8,242.3 451.9,242.3 452,242.1 452.1,242.4 452.2,242.7 452.3,242.6 452.5,242.6 452.6,242.8 452.7,242.6 452.8,242.6 452.9,243.1 453,243.1 453.1,243 453.2,243.4 453.4,243.2 453.5,243.3 453.6,243.3 453.7,243.5 453.8,243.5 453.9,243.5 454,243.6 454.2,243.3 454.3,243.4 454.4,243.6 454.5,243.7 454.6,244.2 454.7,243.9 454.8,244.1 454.9,243.6 455.1,243.4 455.2,243.7 455.2,243.7 455.3,243.9 455.4,244.3 455.5,244.3 455.6,244.4 455.7,244.2 455.9,244.1 456,244.2 456.1,244.1 456.2,244.1 456.3,244.1 456.4,244.2 456.5,244.3 456.6,244.8 456.8,244.5 456.9,244.8 457,244.8 457.1,244.4 457.2,244.7 457.3,244.4 457.4,244.6 457.6,244.7 457.7,244.7 457.8,244.8 457.9,244.9 458,245 458.1,244.9 458.2,244.9 458.3,244.8 458.5,244.8 458.6,244.8 458.7,245.1 458.8,245.1 458.9,245 459,245.2 459.1,245 459.3,244.7 459.4,244.8 459.5,244.6 459.6,244.8 459.7,244.5 459.8,244.2 459.9,244.2 460,244.4 460.2,244.3 460.3,244.2 460.4,243.9 460.5,243.9 460.6,243.6 460.7,243.2 460.8,243.3 461,243.7 461.1,243.6 461.2,243.5 461.3,243.4 461.4,243.1 461.5,243.1 461.6,243.4 461.7,243.2 461.9,243.2 462,243 462.1,243.2 462.1,243.4 462.2,243.4 462.3,242.5 462.4,241.9 462.5,240.9 462.7,240.5 462.8,239.9 462.9,239.2 462.9,239.2 463,240.1 463.1,243.4 463.2,246.1 463.2,246.4 463.3,246 463.4,244.8 463.6,243.9 463.7,243.6 463.7,243.8 463.8,244.2 463.9,243.9 464,244 464,246.1 464.1,266.5 464.2,290.5 464.3,297.3 464.3,295.4 464.5,272.1 464.6,243 464.7,233.8 464.7,235.6 464.8,264.5 464.9,293.1 464.9,294.6 465,289.6 465.1,272.1 465.3,247 465.4,221.2 465.5,200.6 465.6,191.7 465.6,191.8 465.7,201.7 465.8,212.5 465.8,212.3 465.9,203.2 466,194.5 466,194.6 466.2,198.8 466.3,203.6 466.3,203.7 466.4,201.7 466.5,197.8 466.5,197.1 466.6,197.2 466.7,197.4 466.8,197.4 467,198.1 467.1,198.8 467.2,199.6 467.3,200.6 467.4,201.9 467.5,203 467.6,204.2 467.7,205.5 467.9,207 468,208.7 468.1,210.8 468.2,212.8 468.3,214.5 468.4,216.3 468.5,218.5 468.7,220.2 468.8,222.4 468.9,224.7 469,226.9 469.1,228.9 469.2,231.3 469.3,233.7 469.4,235.9 469.6,238.1 469.7,240.2 469.8,242.2 469.9,244.1 470,246.3 470.1,248.4 470.2,250 470.4,251.8 470.5,253.4 470.6,255.1 470.7,256.5 470.8,258.2 470.9,259.2 471,260.3 471.1,261.4 471.3,262 471.4,263 471.5,263.8 471.6,263.9 471.7,264.1 471.8,264 471.8,264.1 471.9,264.3 472.1,264.4 472.2,264.1 472.3,264.1 472.4,264 472.5,263.8 472.6,263.9 472.7,263.9 472.8,263.8 473,263.7 473.1,263.4 473.2,263 473.3,262.9 473.4,262.7 473.5,262.6 473.6,262.2 473.8,261.7 473.9,261.2 474,261.1 474.1,260.8 474.2,260.3 474.3,259.6 474.4,259.5 474.5,259 474.7,258.4 474.8,258.2 474.9,258 475,257.5 475.1,257 475.2,256.9 475.3,256.1 475.5,255.9 475.6,255.3 475.7,254.8 475.8,254.5 475.9,253.8 476,253.5 476.1,252.7 476.2,252.4 476.4,251.9 476.5,251.1 476.6,250.6 476.7,250.2 476.8,249.8 476.9,248.8 477,248.5 477.2,248.1 477.3,247.8 477.4,247 477.5,246.6 477.6,246.3 477.7,245.9 477.8,245.5 477.9,244.9 478.1,244.5 478.2,244.3 478.3,243.9 478.4,243.5 478.5,243.1 478.6,242.5 478.7,242 478.8,241.4 479,240.9 479.1,240.6 479.2,240.3 479.3,240.1 479.4,239.8 479.5,239.4 479.6,239.3 479.8,238.9 479.9,238.5 480,238.4 480.1,238 480.2,237.7 480.3,237.9 480.4,237.6 480.5,237.7 480.7,237.3 480.8,237.4 480.9,237.2 481,237.3 481.1,237 481.2,237 481.3,236.8 481.4,236.8 481.5,237.1 481.6,236.9 481.7,236.8 481.8,236.8 481.9,236.9 482,236.8 482.1,236.9 482.2,237 482.4,236.7 482.5,237.2 482.6,237 482.7,237.1 482.8,237.7 482.9,237.9 483,238 483.2,238.2 483.3,238.3 483.4,238.5 483.5,238.5 483.6,238.7 483.7,238.9 483.8,238.9 483.9,239.2 484.1,239.1 484.2,239.1 484.3,239.5 484.4,239.5 484.5,239.2 484.6,239.6 484.7,239.4 484.9,239.4 485,240 485.1,239.9 485.2,240.2 485.3,240.5 485.4,240.3 485.5,240.6 485.6,240.4 485.8,240.8 485.9,241.2 486,241.2 486.1,241.5 486.2,241.7 486.3,241.7 486.4,242.1 486.6,242.1 486.7,242 486.8,242 486.9,242.4 487,242.4 487.1,242.7 487.2,243 487.3,242.9 487.5,243.4 487.6,243.3 487.7,243.6 487.8,243.8 487.9,243.7 488,244 488.1,244 488.3,243.9 488.4,244.2 488.5,244.4 488.6,244.3 488.7,244.6 488.8,244 488.9,244.4 489,244.4 489.2,244.7 489.3,244.5 489.4,244.7 489.4,244.6 489.5,244.5 489.6,244.6 489.7,244.5 489.8,244.5 490,244.3 490.1,244.3 490.2,244.2 490.3,244.2 490.4,244.2 490.5,243.9 490.6,243.8 490.7,243.7 490.9,243.6 491,243.5 491.1,243.5 491.2,243.6 491.3,243.6 491.4,243.6 491.5,244.1 491.7,243.9 491.8,244.1 491.9,244.2 492,244.3 492.1,244.3 492.2,244.3 492.3,244.2 492.4,244.2 492.6,244.2 492.7,244 492.8,244 492.9,243.9 493,243.9 493.1,243.9 493.2,243.9 493.4,243.8 493.5,243.6 493.6,243.7 493.7,243.6 493.8,243.5 493.9,243.7 494,243.9 494.1,243.8 494.3,243.8 494.4,243.9 494.5,244.3 494.6,244.1 494.7,244.2 494.8,243.7 494.9,244.1 495,243.6 495.2,243.3 495.3,243.2 495.4,243.4 495.5,242.9 495.6,242.9 495.7,242.9 495.8,242.7 496,242.7 496.1,242.6 496.2,242.9 496.3,242.3 496.4,242.7 496.5,242.4 496.6,242.1 496.7,242.4 496.9,242.5 497,242.6 497.1,242.4 497.2,242.3 497.3,242.7 497.4,242.5 497.5,242.4 497.6,242.5 497.7,242.4 497.8,242.1 497.9,242.1 498,242.2 498.1,242.2 498.2,242.4 498.3,242.2 498.4,242.3 498.6,242.4 498.7,242.6 498.8,242.8 498.9,242.7 499,242.9 499.1,242.9 499.2,242.9 499.4,242.8 499.5,242.8 499.6,242.6 499.7,242.6 499.8,242.6 499.9,242.4 500,242.1 500.1,242.5 500.3,242.5 500.4,242.1 500.5,241.9 500.6,242.1 500.7,242.1 500.8,242.3 500.9,242.3 501.1,242.4 501.2,242.2 501.3,242.4 501.4,242.3 501.5,242.5 501.6,242.7 501.7,242.7 501.8,242.7 502,242.3 502.1,242.8 502.2,242.4 502.3,242.6 502.4,242.5 502.5,242.4 502.6,242.5 502.8,242.8 502.9,242.7 503,242.7 503.1,242.9 503.2,242.8 503.3,243.1 503.4,243.1 503.5,243 503.7,243.1 503.8,243.2 503.9,243.3 504,243.5 504.1,243.3 504.2,243.4 504.3,243.4 504.5,243.4 504.6,243.5 504.7,243.1 504.8,243.2 504.9,243.3 505,242.9 505.1,242.6 505.2,242.8 505.4,242.7 505.5,242.6 505.6,242.4 505.7,242.3 505.8,242.6 505.9,242.4 506,242.3 506.2,242.4 506.3,242.1 506.4,242 506.5,241.9 506.6,242 506.7,242.1 506.8,242.2 506.9,242.3 507.1,242.3 507.2,242.5 507.3,242.6 507.4,242.6 507.5,242.5 507.6,242.7 507.7,242.7 507.9,242.7 508,242.9 508.1,242.9 508.2,243.3 508.3,243 508.4,243 508.5,242.8 508.6,242.6 508.8,242.9 508.9,242.9 509,243.1 509.1,242.9 509.2,242.9 509.3,242.7 509.4,242.7 509.5,242.8 509.7,242.6 509.8,242.6 509.9,242.1 510,242.5 510.1,242.5 510.2,242.3 510.2,242.2 510.3,242.2 510.5,242.2 510.6,242.2 510.7,241.9 510.8,241.7 510.9,242 511,242.2 511.1,241.9 511.2,242 511.4,242.1 511.5,241.9 511.6,242 511.7,242 511.8,241.9 511.9,242.6 512,242.7 512.2,242.6 512.3,242.8 512.4,242.5 512.5,243.2 512.6,242.8 512.7,243 512.8,243.2 512.9,243.2 513.1,243.2 513.2,243.3 513.3,243 513.4,243.3 513.5,243.4 513.6,243.1 513.7,243 513.9,242.8 514,242.7 514.1,242.8 514.2,242.7 514.3,242.8 514.4,242.6 514.5,242.5 514.6,242.6 514.8,242.6 514.9,243 515,242.6 515.1,242.8 515.2,242.7 515.3,243.1 515.4,243.3 515.6,243.2 515.7,243.1 515.8,243.1 515.9,242.9 516,242.9 516.1,242.6 516.2,242.8 516.3,242.4 516.5,242.4 516.6,242.6 516.7,242.4 516.8,242.2 516.9,242.4 517,241.9 517.1,242 517.3,242 517.4,242.2 517.5,242.2 517.6,242 517.7,242.1 517.8,242 517.9,242.3 518,242.6 518.2,242.3 518.3,242.4 518.4,242.5 518.5,242.4 518.6,242.4 518.7,242.5 518.8,242.4 519,242.4 519.1,242.4 519.2,242.8 519.3,242.7 519.4,242.7 519.5,243 519.6,242.9 519.7,243 519.9,242.9 520,242.9 520.1,242.7 520.2,242.9 520.3,242.8 520.4,242.9 520.5,243 520.7,242.9 520.8,243.1 520.9,242.8 521,242.8 521.1,243.2 521.2,243.4 521.3,243.5 521.4,243.4 521.6,243.4 521.7,243.2 521.8,243.4 521.9,243.5 522,243.6 522.1,243.7 522.2,243.8 522.4,243.8 522.5,243.6 522.6,243.8 522.7,244.1 522.8,243.7 522.9,243.1 523,243.3 523.1,243.1 523.3,243.5 523.4,243.5 523.5,243.5 523.6,243.2 523.7,243.2 523.8,242.9 523.9,243.1 524,243 524.2,243.1 524.3,243.3 524.4,243.3 524.5,243.3 524.6,243.3 524.7,243.2 524.8,243 525,243.2 525.1,243.1 525.2,243.1 525.3,243.1"/>
<rect class="ax" x="321.5" y="182.4" width="220.15" height="120.90"/>
<path class="tc" d="M352.95,303.3v-1.9M352.95,182.4v1.9M384.40,303.3v-1.9M384.40,182.4v1.9M415.85,303.3v-1.9M415.85,182.4v1.9M447.30,303.3v-1.9M447.30,182.4v1.9M478.75,303.3v-1.9M478.75,182.4v1.9M510.20,303.3v-1.9M510.20,182.4v1.9M321.5,242.85h1.9M541.65,242.85h-1.9"/>
<text class="tk" x="321.5" y="316" text-anchor="middle">0</text>
<text class="tk" x="352.9" y="316" text-anchor="middle">1</text>
<text class="tk" x="384.4" y="316" text-anchor="middle">2</text>
<text class="tk" x="415.9" y="316" text-anchor="middle">3</text>
<text class="tk" x="447.3" y="316" text-anchor="middle">4</text>
<text class="tk" x="478.8" y="316" text-anchor="middle">5</text>
<text class="tk" x="510.2" y="316" text-anchor="middle">6</text>
<text class="tk" x="541.6" y="316" text-anchor="middle">7</text>
<text class="tk" x="318.1" y="186" text-anchor="end">5</text>
<text class="tk" x="318.1" y="246" text-anchor="end">0</text>
<text class="tk" x="318.1" y="307" text-anchor="end">-5</text>
<text class="lb" x="432.0" y="329" text-anchor="middle">Time(s)</text>
<text class="lb" transform="translate(305.6,242.6) rotate(-90)" text-anchor="middle">Amplitude(mV)</text>
<text class="pl" x="295.7" y="195">D</text>
</g>
<g id="panelE">
<polyline class="ln" stroke-width="0.6" points="31.2,414.2 31.3,414.2 31.4,414.2 31.5,414 31.7,413.9 31.8,414.1 31.9,414.2 32,414.2 32.1,413.8 32.2,413.6 32.3,413.9 32.4,414.1 32.6,414.2 32.7,413.5 32.8,413.5 32.9,414 33,413.7 33.1,413.6 33.2,413.6 33.4,413.6 33.5,413.6 33.6,413.5 33.7,413.5 33.8,413.5 33.9,413.3 34,413.2 34.1,413.8 34.3,413.7 34.4,414 34.5,413.9 34.6,414.1 34.7,413.9 34.8,413.9 34.9,414.2 35.1,414.4 35.2,414.3 35.3,414.4 35.4,414.6 35.5,414.5 35.6,414.7 35.7,414.3 35.8,414.2 36,414.6 36.1,414.2 36.2,414.4 36.3,414.1 36.4,414.1 36.5,414.6 36.6,414 36.8,414 36.9,413.7 37,414.1 37.1,413.6 37.2,414.1 37.3,414.1 37.4,414 37.5,413.9 37.7,414 37.8,413.7 37.9,414.1 38,414.1 38.1,414.2 38.2,414.3 38.3,414.2 38.5,414 38.6,414.4 38.7,414.2 38.8,414.3 38.9,414 39,413.9 39.1,414.2 39.2,414 39.4,414 39.5,414.2 39.6,413.7 39.7,414.2 39.8,414.1 39.9,414.2 40,413.8 40.2,413.8 40.3,413.9 40.4,414.2 40.5,413.9 40.6,414.2 40.7,414.4 40.8,413.9 40.9,414.3 41.1,414 41.2,413.9 41.3,414.1 41.4,413.9 41.5,413.7 41.6,413.9 41.7,414.1 41.9,414.1 42,413.7 42.1,413.6 42.2,413.5 42.3,413.6 42.4,413.5 42.5,413.7 42.6,413.6 42.8,413.8 42.9,413.9 43,413.8 43.1,413.3 43.2,413.3 43.3,413.9 43.4,413.3 43.6,413.5 43.7,413.9 43.8,413.7 43.9,413.8 44,413.9 44.1,414 44.2,413.9 44.3,413.7 44.5,413.2 44.6,413.4 44.7,413.3 44.8,413.1 44.9,414.1 45,413.7 45.1,413.7 45.3,414 45.4,413.9 45.5,413.7 45.6,413.6 45.7,413.9 45.8,413.5 45.9,413.5 46,413.7 46.2,413.6 46.3,413.7 46.4,413.7 46.5,413.3 46.6,413.3 46.7,413.3 46.8,413.4 46.9,413.8 47,413.7 47.1,413.4 47.2,413.4 47.3,413.1 47.4,413.5 47.5,413.7 47.6,413 47.7,413.3 47.9,413.6 48,413.2 48.1,413.5 48.2,413.7 48.3,413.5 48.4,413.5 48.5,413.2 48.7,413.6 48.8,413.6 48.9,413.7 49,413.6 49.1,413.7 49.2,413.6 49.3,413.5 49.4,413.6 49.6,413.9 49.7,414 49.8,414 49.9,414.1 50,414.1 50.1,414.3 50.2,413.5 50.4,413.8 50.5,414.1 50.6,413.6 50.7,413.7 50.8,414.5 50.9,414.1 51,414 51.1,413.8 51.3,413.9 51.4,413.9 51.5,413.9 51.6,413.6 51.7,413.7 51.8,414.4 51.9,414.4 52.1,413.6 52.2,414.2 52.3,414 52.4,413.8 52.5,413.7 52.6,413.7 52.7,413.9 52.8,414.2 53,413.8 53.1,413.8 53.2,413.3 53.3,413.4 53.4,413.4 53.5,413.3 53.6,412.8 53.8,413.3 53.9,413.6 54,413.5 54.1,413.6 54.2,413.5 54.3,413.7 54.4,413.5 54.5,413.3 54.7,413.6 54.8,413.5 54.9,413.2 55,413.2 55.1,413.5 55.2,413.5 55.3,413.4 55.5,413.5 55.6,413.7 55.7,413.6 55.8,413.4 55.9,413.4 56,413.2 56.1,413.6 56.2,413.5 56.4,413.6 56.5,413.8 56.6,413.9 56.7,414.7 56.8,414.3 56.9,414.3 57,415 57.2,414.9 57.3,414.5 57.4,414.8 57.5,415.2 57.6,414.9 57.7,414.9 57.8,414.8 57.9,414.9 58.1,415.2 58.2,415.2 58.3,415 58.4,414.8 58.5,415 58.6,415 58.7,415 58.9,415.5 59,415.2 59.1,415 59.2,414.9 59.3,415.1 59.4,415.1 59.5,414.8 59.6,414.6 59.8,414.5 59.9,414.6 60,414.5 60.1,414.3 60.2,414.2 60.3,413.9 60.4,413.8 60.6,413.9 60.7,414.2 60.8,414 60.9,414 61,414.3 61.1,414.4 61.2,414 61.3,414.5 61.5,414.7 61.6,414.2 61.7,414.4 61.8,414.2 61.9,414.7 62,414.3 62.1,414.7 62.3,414.8 62.4,414.9 62.5,414.9 62.6,414.8 62.7,414.5 62.7,414.5 62.8,414.4 62.9,414.5 63,414.5 63.2,414.4 63.3,414.9 63.4,414.6 63.5,414.4 63.6,414.3 63.7,414 63.8,414 64,413.6 64.1,413.9 64.2,414 64.3,414.1 64.4,413.9 64.5,413.8 64.6,414 64.7,414.1 64.9,413.6 65,413.9 65.1,413.4 65.2,413.8 65.3,413.9 65.4,414 65.5,413.9 65.7,413.9 65.8,414.1 65.9,413.8 66,413.7 66.1,414.2 66.2,414 66.3,414.2 66.4,414.3 66.6,414.3 66.7,414.4 66.8,414.6 66.9,414.2 67,414.8 67.1,414.6 67.2,414.1 67.4,414.1 67.5,414.1 67.6,414.3 67.7,413.9 67.8,414 67.9,414.3 68,414.3 68.1,414.1 68.3,414.3 68.4,414.3 68.5,414.2 68.6,414.2 68.7,414.3 68.8,414 68.9,414 69.1,413.9 69.2,413.6 69.3,413.9 69.4,413.9 69.5,413.9 69.6,413.7 69.7,413.8 69.8,413.9 70,413.6 70.1,413.3 70.2,413.5 70.3,413.2 70.4,413.5 70.5,413.5 70.6,413.3 70.8,413.2 70.9,413.3 71,413.4 71.1,413.2 71.2,413.1 71.3,413.5 71.4,413.5 71.5,413.8 71.7,413.9 71.8,413.9 71.9,414 72,414.2 72.1,414.1 72.2,414.2 72.3,414.3 72.5,414.3 72.6,414.7 72.7,414.6 72.8,414.1 72.9,413.9 73,413.6 73.1,413.5 73.2,413.5 73.4,413.4 73.5,413.8 73.6,413.4 73.7,413.7 73.8,413.6 73.9,413.4 74,413.5 74.2,413.6 74.3,413.9 74.4,414.1 74.5,414 74.6,414 74.7,413.6 74.8,414.2 74.9,414.3 75.1,414.4 75.2,414.2 75.3,414.1 75.4,414.5 75.5,414.4 75.6,414.2 75.7,414.5 75.9,414.2 76,414.2 76.1,414 76.2,414.4 76.3,414 76.4,414.3 76.5,414.4 76.6,413.7 76.8,413.7 76.9,413.7 77,413.7 77.1,413.7 77.2,413.6 77.3,413.4 77.4,413.4 77.6,413.4 77.7,413.5 77.8,413.6 77.9,413.7 78,413.4 78.1,413.6 78.2,414 78.3,413.8 78.4,413.7 78.5,413.9 78.6,413.9 78.7,414.4 78.8,414.1 78.9,414.1 79,413.9 79.1,414.4 79.3,413.9 79.4,414 79.5,413.8 79.6,414.2 79.7,414.1 79.8,413.6 79.9,413.9 80,413.6 80.2,413.4 80.3,413.7 80.4,413.2 80.5,413.6 80.6,413.5 80.7,413.6 80.8,413.6 81,413.2 81.1,413.6 81.2,413.6 81.3,413.9 81.4,413.7 81.5,413.6 81.6,413.7 81.7,413.7 81.9,413.9 82,414.1 82.1,413.9 82.2,414 82.3,413.6 82.4,413.7 82.5,413.7 82.7,413.8 82.8,413.3 82.9,413.8 83,413.7 83.1,413.4 83.2,413.8 83.3,413.5 83.4,413.9 83.6,413.8 83.7,413.7 83.8,413.4 83.9,413.7 84,413.6 84.1,413.7 84.2,414.1 84.4,414 84.5,413.7 84.6,413.6 84.7,413.5 84.8,413.6 84.9,413.6 85,413.3 85.1,413.4 85.3,413.1 85.4,413.6 85.5,413.6 85.6,413.5 85.7,413.9 85.8,413.7 85.9,413.7 86.1,413.6 86.2,413.3 86.3,413.9 86.4,414.3 86.5,414 86.6,414 86.7,414 86.8,414.3 87,414.5 87.1,414.7 87.2,414.6 87.3,414.6 87.4,414.8 87.5,414.9 87.6,414.8 87.8,414.7 87.9,415.4 88,415.2 88.1,415.1 88.2,414.9 88.3,414.8 88.4,414.9 88.5,415.1 88.7,414.7 88.8,414.8 88.9,414.7 89,414.5 89.1,414.2 89.2,414.7 89.3,414.8 89.5,414.9 89.6,414.4 89.7,414.5 89.8,414.4 89.9,414.6 90,414.6 90.1,414.7 90.2,414.3 90.4,414.1 90.5,414.4 90.6,414.3 90.7,414.2 90.8,414 90.9,413.9 91,413.8 91,413.6 91.2,413.6 91.3,413.7 91.4,414.2 91.5,414.2 91.6,413.7 91.7,413.9 91.8,413.8 91.9,414.2 92.1,414.1 92.2,413.7 92.3,414 92.4,414.1 92.5,414.2 92.6,414.3 92.7,414 92.9,413.8 93,413.5 93.1,413.5 93.2,413.5 93.3,413.9 93.4,413.5 93.5,413.4 93.5,413.9 93.6,414 93.8,414.5 93.9,414.9 94,415.7 94.1,415.6 94.2,415.9 94.3,416.6 94.4,417.1 94.6,417.7 94.7,417.1 94.8,417.3 94.8,417.2 94.9,417.1 95,417 95.1,416.8 95.2,416.5 95.3,416 95.5,415.3 95.6,414.7 95.7,414.1 95.8,414 95.9,413.2 96,412.8 96.1,412.6 96.3,412.3 96.4,411.6 96.5,411.6 96.6,411.4 96.7,411.2 96.8,411.3 96.8,411 96.9,411 97,410.9 97.2,411 97.3,411.3 97.4,411.1 97.5,411.3 97.6,411.3 97.7,411.4 97.8,411.4 98,411.9 98.1,411.6 98.2,411.7 98.3,411.9 98.4,411.6 98.5,412 98.6,412 98.7,412.2 98.9,412.5 99,412.5 99.1,412.4 99.2,412.4 99.3,412.5 99.4,412.3 99.5,412.3 99.7,413 99.8,412.9 99.9,413 100,413.2 100.1,413.2 100.2,413.6 100.3,413.9 100.4,413.9 100.4,414.2 100.6,413.7 100.7,414.2 100.8,414.2 100.9,414.5 101,414.4 101.1,414 101.2,414.1 101.4,414 101.5,414.2 101.6,414.1 101.7,413.9 101.8,414.3 101.9,413.8 102,414.5 102.1,414.6 102.3,414.2 102.4,414 102.5,414.5 102.6,414.5 102.7,414 102.8,414.7 102.9,415.2 103.1,414.9 103.2,414.5 103.3,414.8 103.4,414.8 103.5,414.8 103.6,414.9 103.7,414.8 103.8,415.1 104,414.7 104.1,415.2 104.2,414.9 104.3,414.5 104.4,414.7 104.5,414.8 104.6,415.1 104.8,415.1 104.8,415 104.9,415.1 105,415.1 105.1,414.5 105.2,414.5 105.3,414.9 105.4,415 105.5,415.3 105.7,414.9 105.8,414.7 105.9,414.9 106,415.1 106.1,415.1 106.2,414.7 106.3,414.7 106.5,414.9 106.6,415.2 106.7,414.9 106.8,414.8 106.9,415.3 107,415.3 107.1,414.8 107.2,415.3 107.4,415.1 107.5,414.9 107.6,415 107.7,415.1 107.8,415.1 107.9,415 108,415.3 108.2,415.2 108.3,415.3 108.4,414.8 108.5,415.5 108.6,415.1 108.7,415.2 108.8,415.3 108.9,415.3 109.1,415.4 109.2,415.5 109.3,415.6 109.4,415.5 109.5,415.2 109.6,415.5 109.7,415 109.9,415.4 110,415.6 110.1,415.4 110.2,415.1 110.3,415.4 110.4,415.2 110.5,414.8 110.6,414.8 110.8,414.5 110.9,414.3 111,414.2 111.1,414.2 111.2,413.9 111.3,414 111.4,413.9 111.4,414 111.6,413.7 111.7,413.7 111.8,413.7 111.9,413.4 112,413.5 112.1,414 112.2,414 112.3,413.8 112.5,414 112.6,413.9 112.7,414 112.8,413.9 112.9,413.6 113,413.4 113.1,413.6 113.3,413.7 113.4,413.5 113.5,413.5 113.6,413.5 113.7,413.1 113.8,413.1 113.9,413.4 114,413.3 114.2,413.1 114.3,413.3 114.4,413.4 114.5,413.3 114.6,413.2 114.7,413.5 114.8,413.2 115,413.3 115.1,413.3 115.2,413 115.3,413.1 115.4,412.5 115.5,412.4 115.6,412.3 115.7,412.4 115.9,412.2 116,411.8 116.1,412 116.2,411.7 116.3,412.1 116.4,411.6 116.5,411.4 116.7,411.2 116.8,411.3 116.9,411.1 117,411.5 117.1,411.8 117.2,411.6 117.3,411.4 117.4,411.5 117.6,411.7 117.6,411.7 117.7,411.5 117.8,412 117.9,412.4 118,412.2 118.1,412.5 118.2,412.6 118.4,412.8 118.5,412.8 118.6,412.7 118.7,412.8 118.8,413 118.9,412.9 119,413.4 119.1,413.9 119.3,413.6 119.4,414.4 119.5,414.5 119.6,414.2 119.6,414.3 119.7,414.5 119.8,414.8 119.9,415.2 120.1,416 120.2,416.3 120.3,417.1 120.4,417.3 120.5,417.5 120.6,417.5 120.6,417 120.7,416.8 120.8,417.4 121,416.8 121.1,416.7 121.2,416.4 121.3,416.4 121.4,415.9 121.5,416.1 121.5,411.3 121.6,385.8 121.8,363.6 121.8,362.1 121.9,362.2 122,362.3 122.1,363.1 122.2,363.4 122.2,363.5 122.3,365.8 122.4,369.5 122.5,374.5 122.7,379.8 122.8,384.8 122.8,386.3 122.9,388.6 123,392.7 123.1,396.9 123.2,401.1 123.3,405.1 123.5,409 123.6,412.6 123.6,413.1 123.7,416.3 123.8,419.9 123.9,423.4 124,426.8 124.1,429.9 124.2,432.8 124.4,435.5 124.5,437.9 124.5,438.8 124.6,439.9 124.7,441.5 124.8,443.3 124.9,445 125,446.4 125.2,447.7 125.3,449 125.4,450.1 125.5,451.1 125.6,451.7 125.7,452.4 125.8,452.9 125.9,452.9 125.9,452.8 126.1,452.7 126.2,452.4 126.3,452.3 126.4,451.9 126.5,451.2 126.6,451 126.7,451 126.9,450.6 127,450 127.1,449.5 127.2,449 127.3,448 127.4,447.4 127.5,446.5 127.6,445.6 127.8,444.9 127.9,443.9 128,443.1 128.1,442.3 128.2,441.2 128.3,440.1 128.4,438.7 128.6,437.9 128.7,436.7 128.8,435.4 128.9,434.3 129,433.1 129.1,431.9 129.2,430.6 129.3,429.4 129.5,428.4 129.6,427.2 129.7,426 129.8,424.6 129.9,423.6 130,422.2 130.1,421.2 130.3,420 130.4,418.7 130.5,417.8 130.6,416.4 130.7,415.1 130.8,413.9 130.9,412.9 131,411.7 131.2,410.5 131.3,409.2 131.4,408 131.5,407.1 131.6,406.1 131.7,404.9 131.8,403.9 132,402.8 132.1,401.4 132.2,400.4 132.3,399.5 132.4,398.6 132.5,397.8 132.6,396.5 132.7,396 132.9,395.3 133,394.5 133.1,393.8 133.2,392.9 133.3,392.4 133.4,392.2 133.5,391.4 133.7,391 133.8,391 133.9,390.8 134,389.9 134.1,390.1 134.2,390 134.3,390.1 134.4,389.6 134.4,389.7 134.6,389.8 134.7,390.3 134.8,390.3 134.9,390.4 135,391 135.1,390.8 135.2,391.3 135.4,391.7 135.5,392.2 135.6,392.5 135.7,392.9 135.8,393.2 135.9,394.1 136,394.6 136.1,394.9 136.1,395.1 136.3,397 136.4,401.3 136.5,407.5 136.6,415 136.7,423.5 136.8,432.1 136.9,440.4 137.1,447.9 137.2,454.4 137.3,459.3 137.4,462 137.5,462.4 137.5,462.2 137.6,459.8 137.7,455 137.8,448.7 138,440.8 138.1,431.9 138.2,422 138.3,411.7 138.4,401.7 138.5,392.2 138.6,383.5 138.8,375.9 138.9,369.9 139,365.6 139.1,363.4 139.1,363.4 139.2,363.3 139.3,363.7 139.4,363.6 139.5,364 139.7,364.6 139.8,365.5 139.9,365.6 140,366.2 140.1,366.7 140.2,367.3 140.2,367.8 140.3,368.9 140.5,370.6 140.6,372.9 140.7,375.4 140.8,377.9 140.9,380.6 141,383.6 141.1,386.1 141.2,388.6 141.3,389.7 141.4,390.3 141.5,392.2 141.6,394.1 141.7,395.8 141.8,397.5 141.9,399.3 142,401.2 142.2,403.1 142.3,404.7 142.4,406.6 142.5,408.2 142.5,408.5 142.6,409.8 142.7,411.2 142.8,413.1 142.9,414.9 143.1,416.7 143.2,418.2 143.3,419.6 143.4,421.3 143.5,422.4 143.6,423.8 143.7,425.1 143.7,425.2 143.9,426.4 144,428 144.1,429.4 144.2,430.9 144.3,432.5 144.4,434 144.5,435.3 144.6,436.8 144.8,438.2 144.9,439.1 145,439.9 145.1,440.7 145.2,440.9 145.3,441 145.3,441 145.4,441.2 145.6,441 145.7,440.5 145.8,440.7 145.9,440.7 146,440.6 146.1,440 146.2,440.1 146.3,439.6 146.5,439.1 146.6,438.7 146.7,438.8 146.8,438.1 146.9,438.2 147,437.3 147.1,436.9 147.3,436.7 147.4,436.4 147.5,435.8 147.6,435.1 147.7,434.4 147.8,434.1 147.9,433.4 148,433 148.2,432.9 148.3,432.3 148.4,431.8 148.5,430.9 148.6,430.4 148.7,430 148.8,429.4 149,428.7 149.1,428.4 149.2,427.8 149.3,427.3 149.4,426.7 149.5,425.8 149.6,425.4 149.7,424.8 149.9,423.8 150,423.1 150.1,422.5 150.2,421.9 150.3,421.2 150.4,420.5 150.5,419.9 150.7,419.2 150.8,418.5 150.9,418 151,417.2 151.1,416.7 151.2,416.2 151.3,415.7 151.4,415.3 151.6,414.8 151.7,414.1 151.8,413.7 151.9,413.1 152,412.5 152.1,412.2 152.2,411.8 152.4,411.1 152.5,411.2 152.6,410.5 152.7,409.8 152.8,409.2 152.9,408.9 153,408.6 153.1,408.1 153.3,407.5 153.4,407.1 153.5,406.5 153.6,406.1 153.7,406.1 153.8,405.7 153.9,405.3 154.1,404.7 154.2,404.7 154.3,404.2 154.4,404.2 154.5,404.1 154.6,404.3 154.7,403.8 154.8,403.8 154.9,403.7 155,403.9 155.1,404.1 155.2,404.3 155.3,404.2 155.4,404.5 155.5,404.3 155.6,404.2 155.8,404 155.9,404.4 156,404.5 156.1,404.2 156.2,404.7 156.3,404.6 156.4,405 156.5,404.9 156.7,405 156.8,405 156.9,405.3 157,405.6 157.1,405.2 157.2,405.7 157.3,406 157.5,406.1 157.6,406.4 157.7,406.7 157.8,407.1 157.9,407.4 158,407.2 158.1,407.7 158.2,407.9 158.4,407.8 158.5,408.3 158.6,408.7 158.7,409 158.8,408.9 158.9,408.7 159,409.2 159.2,409.3 159.3,409.5 159.4,409.7 159.5,409.6 159.6,410.1 159.7,410 159.8,410.4 159.9,409.9 160.1,409.9 160.2,410.1 160.3,410.1 160.4,410.5 160.5,410.5 160.6,410.7 160.7,410.9 160.9,411 161,411.4 161.1,411.4 161.2,411.6 161.3,411.5 161.4,411.8 161.5,411.5 161.6,412.2 161.8,412.7 161.9,412.9 162,413 162.1,412.9 162.2,413.3 162.3,413.9 162.4,414 162.6,413.9 162.7,414.2 162.8,414.2 162.9,414.4 163,414.3 163.1,414.5 163.2,414.6 163.3,414.8 163.5,415.2 163.6,415.2 163.7,414.9 163.8,415 163.9,415.5 164,415.3 164.1,414.9 164.3,415.1 164.4,415.5 164.5,415.4 164.6,415.6 164.7,415.7 164.8,415.4 164.9,415.5 164.9,415.8 165,415.6 165.2,415.6 165.3,415.6 165.4,415.2 165.5,415 165.6,415.2 165.7,415 165.8,415.2 166,415.1 166.1,414.9 166.2,414.9 166.3,415 166.4,415.4 166.5,415.5 166.6,415.4 166.7,415.7 166.9,415.6 167,415.7 167.1,415.5 167.2,415.5 167.3,415.3 167.4,415.5 167.5,415.7 167.7,415.7 167.8,415.5 167.9,415.8 168,415.9 168.1,415.9 168.2,415.5 168.3,415.4 168.4,415.1 168.6,415.4 168.7,415.1 168.8,415.4 168.9,415.5 169,415.7 169.1,415.5 169.2,415.4 169.4,415.8 169.5,415.8 169.6,415.9 169.7,415.6 169.8,415.6 169.9,415.5 170,415.2 170.1,415.3 170.3,415.1 170.4,415 170.5,415 170.6,415 170.7,414.9 170.8,415 170.9,414.9 171.1,414.8 171.2,414.6 171.3,414.5 171.4,414.3 171.5,414.6 171.6,414.5 171.7,415 171.8,414.6 171.8,414.8 172,414.4 172.1,414.1 172.2,413.1 172.3,412.5 172.4,411.5 172.5,410.9 172.6,410.7 172.7,410.4 172.8,411.3 172.9,414.6 173,417.5 173,417.5 173.1,417.2 173.2,416.5 173.3,415.4 173.4,415.1 173.4,414.9 173.5,414.9 173.7,414.9 173.7,415 173.8,417.3 173.9,439 174,464.6 174.1,471.8 174.1,470 174.2,445.3 174.3,414.3 174.4,404.1 174.5,406.1 174.6,437 174.7,467.2 174.7,469 174.8,464.1 174.9,445.4 175,419.4 175.1,392.3 175.2,370.7 175.4,361.1 175.4,361.2 175.5,371.2 175.6,382.4 175.6,382.5 175.7,373.3 175.8,364.3 175.8,364.2 175.9,368.8 176,374 176.1,374.3 176.2,372.5 176.3,369 176.3,368.4 176.4,368.3 176.5,368.3 176.6,368.8 176.7,368.9 176.8,370.1 176.9,370.7 177.1,371.6 177.2,372.7 177.3,374.1 177.4,375.7 177.5,377.2 177.6,378.7 177.7,380.4 177.9,382.2 178,384 178.1,385.9 178.2,388.2 178.3,390.1 178.4,392.3 178.5,394.7 178.6,396.9 178.8,399.3 178.9,401.6 179,403.7 179.1,405.7 179.2,407.8 179.3,409.9 179.4,412 179.6,414.3 179.7,416.3 179.8,418.6 179.9,420.5 180,422.3 180.1,424.1 180.2,425.6 180.3,427.1 180.5,428.5 180.6,430.1 180.7,431.3 180.8,432.5 180.9,433.7 181,434.8 181.1,435.5 181.3,435.8 181.4,436.4 181.5,436.6 181.6,436.8 181.6,436.8 181.7,437.2 181.8,437.3 181.9,437 182,436.9 182.2,436.4 182.3,436.7 182.4,436.6 182.5,436.1 182.6,436.3 182.7,435.8 182.8,436.1 183,436.3 183.1,435.8 183.2,435.7 183.3,435.6 183.4,435.2 183.5,434.6 183.6,434.4 183.7,433.9 183.9,433.4 184,433 184.1,432.6 184.2,432.3 184.3,432.2 184.4,431.7 184.5,430.9 184.7,430.2 184.8,429.8 184.9,428.9 185,428.5 185.1,427.7 185.2,427.6 185.3,427.2 185.4,426.8 185.6,426.6 185.7,426.2 185.8,425.4 185.9,425.1 186,424.3 186.1,423.9 186.2,423.2 186.4,422.9 186.5,422.4 186.6,421.9 186.7,421.2 186.8,420.8 186.9,420.2 187,419.6 187.1,418.9 187.3,418.5 187.4,418.1 187.5,417.5 187.6,417.4 187.7,416.7 187.8,416 187.9,415.9 188.1,415.3 188.2,414.8 188.3,414.4 188.4,414.1 188.5,413.5 188.6,413.3 188.7,412.7 188.8,412.3 189,411.8 189.1,411.4 189.2,411 189.3,410.9 189.4,410.2 189.5,410.1 189.6,409.5 189.8,409.2 189.9,409 190,408.7 190.1,408.5 190.2,408.4 190.3,408.4 190.4,408.6 190.5,408.2 190.7,407.7 190.8,408.3 190.9,408.1 191,407.8 191.1,407.9 191.1,407.8 191.2,408.2 191.3,407.9 191.5,407.7 191.6,407.7 191.7,407.8 191.8,407.9 191.9,407.7 192,407.8 192.1,407.9 192.2,408.2 192.4,407.9 192.5,408.3 192.6,408.4 192.7,408.9 192.8,408.3 192.9,408.4 193,409 193.2,409.1 193.3,408.5 193.4,409.1 193.5,408.8 193.6,409.4 193.7,410.2 193.8,409.6 193.9,409.7 194.1,409.5 194.2,409.8 194.3,409.9 194.4,409.9 194.5,410.5 194.6,411 194.7,410.8 194.9,411.5 195,411.4 195.1,412 195.2,412.4 195.3,412.5 195.4,412.8 195.5,412.5 195.6,412.9 195.8,413.1 195.9,413 196,413.4 196.1,413.4 196.2,413.6 196.3,413.7 196.4,413.7 196.6,413.6 196.7,414.2 196.8,414.2 196.9,414.2 197,414.1 197.1,414.8 197.2,414.6 197.3,414.8 197.5,415 197.6,415.2 197.7,415.1 197.8,415 197.9,415.3 198,415.8 198.1,415.8 198.3,416 198.4,415.8 198.5,415.6 198.6,415.6 198.7,415.6 198.8,415.5 198.9,415.5 199,415.5 199.2,415.4 199.2,415 199.3,415.4 199.4,415.7 199.5,416.1 199.6,415.5 199.7,415.6 199.8,415.4 200,414.9 200.1,415.2 200.2,415.7 200.3,415.7 200.4,415.5 200.5,415.5 200.6,415.7 200.7,415.2 200.9,415.1 201,415.7 201.1,415.8 201.2,415.6 201.3,415.2 201.4,415 201.5,415.2 201.7,415.1 201.8,415 201.9,414.9 202,415.1 202.1,415.2 202.2,415 202.3,414.7 202.4,415 202.6,415 202.7,415 202.8,414.5 202.9,415.1 203,414.6 203.1,414.6 203.2,414.4 203.4,414.7 203.5,414.3 203.6,414.4 203.7,414.3 203.8,413.9 203.9,413.9 204,414.1 204.1,413.9 204.3,413.5 204.4,413.8 204.5,413.7 204.6,413.7 204.7,413.7 204.8,413.8 204.9,413.5 205.1,414 205.2,413.7 205.3,413.9 205.4,413.7 205.5,414.2 205.6,414 205.7,414.4 205.8,414 206,414.2 206.1,414.2 206.2,414.4 206.3,414.3 206.4,414.3 206.5,414.5 206.6,414.5 206.8,414.6 206.9,414.1 207,413.9 207.1,414 207.2,414.1 207.3,413.7 207.4,413.8 207.4,413.8 207.5,414 207.7,414.1 207.8,414.2 207.9,414 208,414.1 208.1,413.8 208.2,413.6 208.3,413.8 208.5,413.5 208.6,413.5 208.7,414.2 208.8,414.2 208.9,413.7 209,413.8 209.1,413.8 209.2,413.7 209.4,413.8 209.5,413.5 209.6,413.2 209.7,413.4 209.8,413.8 209.9,413.7 210,413.9 210.2,413.6 210.3,413.9 210.4,413.9 210.5,413.8 210.6,413.9 210.7,414 210.8,413.7 210.9,413.7 211.1,413.5 211.2,413.4 211.3,413.4 211.4,413.2 211.5,413.3 211.6,413.5 211.7,413.1 211.9,413 212,413.3 212.1,413.6 212.2,412.6 212.3,412.7 212.4,412.7 212.5,413 212.6,413.1 212.8,412.9 212.9,413.4 213,413.4 213.1,413.5 213.2,413.5 213.3,413.4 213.4,413.6 213.6,413.5 213.7,413.8 213.8,413.2 213.9,413.5 214,413.8 214.1,414 214.2,413.5 214.3,413.2 214.5,413.4 214.6,413.2 214.7,413.3 214.8,413.7 214.9,413.8 215,413.8 215.1,413.8 215.3,413.7 215.4,413.6 215.5,413.7 215.6,413.8 215.7,413.7 215.8,413.8 215.9,413.9 216,413.8 216.2,413.9 216.3,413.7 216.4,413.8 216.5,414 216.6,413.7 216.7,413.8 216.8,413.8 217,414 217.1,413.5 217.2,413.6 217.3,413.8 217.4,413.6 217.5,413.7 217.6,413.9 217.7,413.8 217.9,414.1 218,414 218.1,413.7 218.2,413.2 218.3,413.7 218.4,413.7 218.5,413.5 218.7,413.2 218.8,413.1 218.9,413.5 219,413.4 219.1,413.4 219.2,413.4 219.3,413.4 219.4,413.1 219.6,413.3 219.7,413.6 219.8,413.2 219.9,413.9 220,413.8 220,413.5 220.1,413.8 220.2,413.9 220.4,413.9 220.5,413.7 220.6,413.9 220.7,413.9 220.8,414 220.9,413.9 221,414.1 221.1,413.7 221.3,413.7 221.4,413.6 221.5,413.7 221.6,413.5 221.7,413.9 221.8,413.5 221.9,413.5 222.1,413.7 222.2,413.9 222.3,413.5 222.4,413.9 222.5,413.7 222.6,413.6 222.7,413.7 222.8,413.4 223,413.2 223.1,413.6 223.2,413.5 223.3,413.8 223.4,413.4 223.5,413.4 223.6,413.5 223.8,413.4 223.9,413.1 224,413.5 224.1,413.2 224.2,413.5 224.3,413.5 224.4,413.5 224.5,413.8 224.7,413.4 224.8,413.5 224.9,413.3 225,413.5 225.1,413.5 225.2,413.5 225.3,413.2 225.5,413.1 225.6,413.4 225.7,413.5 225.8,413.4 225.9,413.3 226,413.5 226.1,413.9 226.2,414 226.4,413.9 226.5,413.7 226.6,414.1 226.7,414.1 226.8,414.1 226.9,414.1 227,414.1 227.2,414.7 227.3,414.2 227.4,414.2 227.5,414.4 227.6,414 227.7,414.1 227.8,413.7 227.9,413.5 228.1,413.6 228.2,413.5 228.3,413.5 228.4,413.2 228.5,413.7 228.6,413.7 228.7,413.5 228.9,413.1 229,413.2 229.1,413.2 229.2,412.8 229.3,413.2 229.4,413.6 229.5,413.3 229.6,413.2 229.8,413.7 229.9,414 230,413.9 230.1,413.8 230.2,413.6 230.3,413.8 230.4,413.5 230.6,413.7 230.7,413.5 230.8,413.9 230.9,413.6 231,413.9 231.1,413.7 231.2,414 231.3,414.1 231.5,413.4 231.6,413.3 231.7,413.5 231.8,413.7 231.9,413.3 232,413.7 232.1,413.7 232.3,413.6 232.4,413.7 232.5,413.4 232.6,413.6 232.7,413.6 232.8,413.5 232.9,413.7 233,413.7 233.2,413.4 233.3,413.8 233.4,413.4 233.5,413.5 233.6,413.6 233.7,413.8 233.8,413.6 234,413.5 234.1,413.8 234.2,414 234.3,414 234.4,414.2 234.5,413.9 234.6,413.8 234.7,414.2 234.9,414.3 235,414.4 235.1,413.5"/>
<rect class="ax" x="31.2" y="353.5" width="220.25" height="121.00"/>
<path class="tc" d="M62.66,474.5v-1.9M62.66,353.5v1.9M94.13,474.5v-1.9M94.13,353.5v1.9M125.59,474.5v-1.9M125.59,353.5v1.9M157.06,474.5v-1.9M157.06,353.5v1.9M188.52,474.5v-1.9M188.52,353.5v1.9M219.99,474.5v-1.9M219.99,353.5v1.9M31.2,414.00h1.9M251.45,414.00h-1.9"/>
<text class="tk" x="31.2" y="488" text-anchor="middle">0</text>
<text class="tk" x="62.7" y="488" text-anchor="middle">1</text>
<text class="tk" x="94.1" y="488" text-anchor="middle">2</text>
<text class="tk" x="125.6" y="488" text-anchor="middle">3</text>
<text class="tk" x="157.1" y="488" text-anchor="middle">4</text>
<text class="tk" x="188.5" y="488" text-anchor="middle">5</text>
<text class="tk" x="220.0" y="488" text-anchor="middle">6</text>
<text class="tk" x="251.4" y="488" text-anchor="middle">7</text>
<text class="tk" x="27.8" y="357" text-anchor="end">5</text>
<text class="tk" x="27.8" y="418" text-anchor="end">0</text>
<text class="tk" x="27.8" y="479" text-anchor="end">-5</text>
<text class="lb" x="141.7" y="501" text-anchor="middle">Time(s)</text>
<text class="lb" transform="translate(15.3,413.7) rotate(-90)" text-anchor="middle">Amplitude(mV)</text>
<text class="pl" x="5.6" y="366">E</text>
</g>
<g id="panelF">
<polyline class="ln" stroke-width="0.6" points="321.5,414.2 321.6,414.2 321.7,414.6 321.8,414.4 322,414.3 322.1,414.2 322.2,414.4 322.3,414.5 322.4,414.7 322.5,414.4 322.6,414.7 322.8,414.8 322.9,414.5 323,414.4 323.1,414.3 323.2,413.9 323.3,413.7 323.4,413.8 323.5,414.1 323.7,413.8 323.8,414 323.9,413.7 324,413.7 324.1,413.5 324.2,413.9 324.3,413.7 324.5,413.5 324.6,413.7 324.7,413.5 324.8,413.8 324.9,413.8 325,413.8 325.1,413.8 325.3,413.6 325.4,413.5 325.5,413.9 325.6,414.1 325.7,414.2 325.8,414.2 325.9,414.1 326,414.1 326.2,413.8 326.3,414.2 326.4,414.1 326.5,414 326.6,414 326.7,414.2 326.8,414.2 327,414.5 327.1,414.7 327.2,414.3 327.3,414.1 327.4,413.9 327.5,413.8 327.6,414 327.8,414.1 327.9,414 328,413.7 328.1,413.8 328.2,413.8 328.3,413.5 328.4,413.6 328.6,413.7 328.7,413.4 328.8,413.7 328.9,413.5 329,413.8 329.1,413.6 329.2,413.6 329.3,413.6 329.5,413.6 329.6,413.5 329.7,413.6 329.8,413.7 329.9,413.7 330,413.6 330.1,413.6 330.3,413.2 330.4,413.3 330.5,413 330.6,413.3 330.7,413.3 330.8,413.1 330.9,413.5 331.1,413.7 331.2,413.7 331.3,413.6 331.4,413.4 331.5,413.4 331.6,413.3 331.7,413.3 331.8,413.4 332,413.6 332.1,413.5 332.2,414 332.3,414.1 332.4,413.9 332.5,413.7 332.6,413.5 332.8,413.3 332.9,413.3 333,413.3 333.1,413.4 333.2,413.4 333.3,414 333.4,413.9 333.6,414 333.7,414 333.8,414.2 333.9,413.8 334,413.6 334.1,413.9 334.2,413.5 334.4,413.5 334.5,413.8 334.6,413.8 334.7,413.9 334.8,414 334.9,413.6 335,413.7 335.1,413.6 335.3,413.6 335.4,413.4 335.5,413.4 335.6,413.4 335.7,413.9 335.8,414.2 335.9,413.9 336.1,414.2 336.2,414 336.3,414.2 336.4,414.2 336.5,414.1 336.6,414.2 336.7,414.1 336.9,414.3 337,413.9 337.1,414.1 337.2,414.2 337.3,414.2 337.3,414 337.4,413.8 337.5,413.8 337.6,413.7 337.8,413.9 337.9,413.8 338,413.6 338.1,413.7 338.2,413.8 338.3,413.5 338.4,413.8 338.6,413.7 338.7,413.4 338.8,413.7 338.9,413.5 339,413.6 339.1,413.7 339.2,414 339.4,414 339.5,413.6 339.6,413.6 339.7,414.1 339.8,413.8 339.9,413.9 340,413.7 340.2,413.8 340.3,414 340.4,413.8 340.5,413.7 340.6,413.6 340.7,413.4 340.8,413.8 340.9,413.9 341.1,413.9 341.2,414 341.3,414 341.4,414 341.5,414 341.6,414.1 341.7,413.9 341.9,413.8 342,413.9 342.1,413.8 342.2,414.1 342.3,414.3 342.4,414.1 342.5,414.5 342.7,414 342.8,413.9 342.9,414 343,413.9 343.1,413.6 343.2,413.7 343.3,413.8 343.4,413.8 343.6,413.7 343.7,413.8 343.8,414.1 343.9,413.7 344,413.6 344.1,413.7 344.2,413.4 344.4,413.6 344.5,413.5 344.6,413.8 344.7,413.7 344.8,413.8 344.9,413.3 345,413.1 345.2,412.9 345.3,413.1 345.4,413.1 345.5,413.1 345.6,413.6 345.7,413.5 345.8,413.7 345.9,413.6 346.1,413.7 346.2,413.7 346.3,413.8 346.4,414.2 346.5,414.1 346.6,414.3 346.7,414.5 346.9,414.5 347,414.3 347.1,414.5 347.2,414.3 347.3,414 347.4,413.9 347.5,413.8 347.7,414.1 347.8,414.2 347.9,413.9 348,413.8 348.1,414 348.2,414 348.3,413.7 348.5,414 348.6,414.3 348.7,414.5 348.8,414.4 348.9,414.2 349,414.1 349.1,414.3 349.2,414.7 349.4,414.2 349.5,414.2 349.6,414.4 349.7,414.4 349.8,414.5 349.9,414.4 350,414.3 350.2,414.3 350.3,414.1 350.4,414.1 350.5,414.2 350.6,414 350.7,414.1 350.8,414 351,413.9 351.1,413.8 351.2,413.6 351.3,413.3 351.4,413.7 351.5,413.7 351.6,413.9 351.7,413.6 351.9,413.7 352,413.7 352.1,413.6 352.2,413.7 352.3,413.8 352.4,413.8 352.5,414 352.7,413.7 352.8,414 352.9,414.3 353,414.3 353.1,414.1 353.1,414.2 353.2,414 353.3,414.4 353.5,414.5 353.6,414.6 353.7,414.4 353.8,414.4 353.9,414.5 354,414.7 354.1,415 354.3,414.9 354.4,414.7 354.5,414.5 354.6,414.6 354.7,414.4 354.8,414.5 354.9,414.5 355,414.1 355.2,414.3 355.3,414.4 355.4,414.3 355.5,414.1 355.6,414.4 355.7,414.1 355.8,414 356,414.4 356.1,414.4 356.2,414.6 356.3,414.3 356.4,414.5 356.5,414.5 356.6,414.4 356.8,414.3 356.9,414.3 357,414.3 357.1,414.3 357.2,414.5 357.3,414.2 357.4,413.8 357.5,414.2 357.7,413.9 357.8,414 357.9,413.6 358,413.9 358.1,413.8 358.2,414.1 358.3,413.8 358.5,414.2 358.6,414 358.7,414 358.8,414.2 358.9,413.7 359,413.8 359.1,413.6 359.3,414.1 359.4,414 359.5,413.7 359.6,414 359.7,414 359.8,414.2 359.9,414.1 360.1,414.1 360.2,413.9 360.3,413.7 360.4,413.9 360.5,413.8 360.6,414.1 360.7,413.9 360.8,413.7 361,413.7 361.1,413.8 361.2,413.7 361.3,413.8 361.4,413.9 361.5,413.7 361.6,413.6 361.8,413.6 361.9,413.7 362,413.3 362.1,413.4 362.2,413.8 362.3,413.4 362.4,413.4 362.6,413.8 362.7,413.6 362.8,413.3 362.9,413.6 363,413.5 363.1,413.3 363.2,413.7 363.3,413.8 363.5,413.9 363.6,413.5 363.7,413.4 363.8,413.6 363.9,413.9 364,413.8 364.1,414.1 364.3,413.9 364.4,414 364.5,414.1 364.6,414.3 364.7,414.3 364.8,414.4 364.9,414.5 365.1,413.9 365.2,413.8 365.3,414.1 365.4,414.3 365.5,414.1 365.6,414 365.7,414.2 365.9,414 366,414.1 366.1,414.2 366.2,414 366.3,413.7 366.4,413.8 366.5,413.9 366.6,413.7 366.8,414.3 366.9,414.4 367,414.2 367.1,414.2 367.2,414.2 367.3,414.2 367.4,414.3 367.6,414.1 367.7,413.9 367.8,413.9 367.9,414.1 368,414.3 368.1,414.5 368.2,414.5 368.4,414.6 368.5,414.2 368.6,414.2 368.7,414.1 368.8,413.7 368.9,413.7 368.9,413.8 369,413.9 369.1,414 369.3,414.1 369.4,413.9 369.5,414 369.6,413.9 369.7,413.6 369.8,413.8 369.9,413.3 370.1,413.6 370.2,413.6 370.3,413.9 370.4,414.2 370.5,414.1 370.6,414.1 370.7,413.8 370.9,414.2 371,414.4 371.1,414.5 371.2,414.4 371.3,414.5 371.4,414.4 371.5,414.3 371.7,414.3 371.8,414.4 371.9,414.4 372,414.4 372.1,414.2 372.2,414.6 372.3,414.3 372.4,414.5 372.6,414.1 372.7,414.1 372.8,414.1 372.9,414 373,413.9 373.1,414.4 373.2,414.3 373.4,414.3 373.5,414.2 373.6,414.4 373.7,413.9 373.8,414.1 373.9,413.9 374,414.4 374.2,414.1 374.3,414 374.4,413.9 374.5,413.9 374.6,414 374.7,413.7 374.8,414 374.9,413.6 375.1,413.4 375.2,413.6 375.3,413.3 375.4,413.6 375.5,413.5 375.6,413.6 375.7,413.7 375.9,413.8 376,413.6 376.1,413.8 376.2,413.9 376.3,414 376.4,413.5 376.5,413.8 376.7,413.6 376.8,414.2 376.9,414.2 377,414.4 377.1,414.3 377.2,414 377.3,413.8 377.5,413.9 377.6,413.8 377.7,413.7 377.8,413.9 377.9,413.8 378,413.5 378.1,413.6 378.2,413.5 378.4,413.6 378.5,413.7 378.6,413.6 378.7,413.8 378.8,413.8 378.9,413.7 379,413.9 379.2,414.1 379.3,414.1 379.4,414.1 379.5,414.1 379.6,414.3 379.7,414.4 379.8,414.3 380,414.5 380.1,414.4 380.2,414.2 380.3,413.8 380.4,413.8 380.5,413.7 380.6,413.9 380.7,413.9 380.9,413.6 381,413.8 381.1,414 381.2,414 381.3,413.9 381.4,414 381.5,413.9 381.5,413.8 381.7,413.8 381.8,413.8 381.9,414.2 382,414 382.1,414.7 382.2,414.6 382.3,414.5 382.5,414.5 382.6,414.6 382.7,414.5 382.8,414.5 382.9,414.4 383,414.4 383.1,414.6 383.3,414.7 383.4,414.6 383.5,414.6 383.6,414.6 383.7,414.5 383.8,414.3 383.9,414.4 384,414.1 384,414.2 384.2,414.3 384.3,414.5 384.4,414.9 384.5,415.4 384.6,415.7 384.7,416.4 384.8,417 385,417.3 385.1,417.6 385.2,417.7 385.3,417.5 385.3,417.7 385.4,417.7 385.5,417.7 385.6,417.5 385.8,417.3 385.9,416.8 386,416.8 386.1,415.9 386.2,415.3 386.3,415 386.4,414.5 386.5,413.8 386.7,413.3 386.8,412.8 386.9,412.3 387,412.2 387.1,411.8 387.2,411.6 387.3,411.5 387.3,411.4 387.5,411.4 387.6,411.6 387.7,411.2 387.8,411.3 387.9,411 388,410.9 388.1,411 388.3,410.9 388.4,411.1 388.5,411.1 388.6,411 388.7,411 388.8,411.1 388.9,411.4 389,411.8 389.2,411.6 389.3,411.7 389.4,411.8 389.5,411.9 389.6,412.3 389.7,412.2 389.8,412.6 390,412.8 390.1,413.1 390.2,413 390.3,413 390.4,413.2 390.5,413.3 390.6,413.2 390.8,413.1 390.9,413.2 391,413 391,413 391.1,413.3 391.2,413.2 391.3,413.2 391.4,413.4 391.6,413.1 391.7,413.7 391.8,413.4 391.9,413.4 392,413.7 392.1,413.6 392.2,413.8 392.3,414.1 392.5,414.2 392.6,414.8 392.7,415 392.8,414.7 392.9,414.9 393,415.1 393.1,415 393.3,415.1 393.4,415.3 393.5,415.4 393.6,415.7 393.7,416 393.8,416.1 393.9,416 394.1,416 394.2,415.7 394.3,415.9 394.4,415.6 394.5,415.7 394.6,415.9 394.7,415.6 394.8,415.3 395,415.3 395.1,415.2 395.2,415.1 395.3,415.2 395.4,415.1 395.4,414.9 395.5,415.1 395.6,415 395.8,415.1 395.9,415 396,415 396.1,415.1 396.2,415.1 396.3,415.6 396.4,415.6 396.6,415.4 396.7,415.3 396.8,415.3 396.9,415.1 397,415.1 397.1,415.7 397.2,415.5 397.4,415.4 397.5,415.4 397.6,415.3 397.7,415.6 397.8,415.4 397.9,415.6 398,415.3 398.1,415.2 398.3,415.5 398.4,415.6 398.5,415.4 398.6,415.4 398.7,415.3 398.8,415.1 398.9,415.1 399.1,415 399.2,415.3 399.3,415 399.4,414.7 399.5,414.5 399.6,414.5 399.7,414.5 399.9,414.6 400,414.3 400.1,414.4 400.2,414.3 400.3,414.2 400.4,414.4 400.5,414 400.6,414.4 400.8,413.8 400.9,414.1 401,413.9 401.1,414.2 401.2,414.1 401.3,414 401.4,414.6 401.6,414.2 401.7,414.4 401.8,414.2 401.9,414.5 402,414.3 402,414.5 402.1,414.6 402.2,414.5 402.4,414.8 402.5,414.5 402.6,414.7 402.7,414.2 402.8,414.5 402.9,414 403,414.1 403.2,413.6 403.3,413.5 403.4,413.6 403.5,413.4 403.6,413.2 403.7,412.8 403.8,413.1 403.9,412.8 404.1,412.6 404.2,412.9 404.3,412.8 404.4,412.9 404.5,412.5 404.6,412.7 404.7,412.4 404.9,412.8 405,412.5 405.1,413 405.2,412.8 405.3,412.8 405.4,412.9 405.5,412.8 405.7,412.7 405.8,412.8 405.9,412.8 406,412.7 406.1,412.5 406.2,412.7 406.3,412.5 406.4,412.5 406.6,412.6 406.7,412.3 406.8,412.2 406.9,412.3 407,412.2 407.1,412.1 407.2,412.2 407.4,412.1 407.5,412.3 407.6,412.1 407.7,412.3 407.8,412.1 407.9,412.1 408,412 408.2,412.2 408.2,411.9 408.3,411.9 408.4,412.3 408.5,412.3 408.6,412.2 408.7,412.6 408.8,412.5 409,412.8 409.1,412.8 409.2,413.2 409.3,413.4 409.4,413.5 409.5,413.5 409.6,414.1 409.7,414.3 409.9,414.4 410,414.8 410.1,414.8 410.2,415.4 410.2,415.4 410.3,415.5 410.4,416.1 410.5,416.6 410.7,416.7 410.8,417.5 410.9,417.7 411,417.7 411.1,417.9 411.2,417.9 411.2,417.8 411.3,418.2 411.5,418 411.6,417.6 411.7,417.2 411.8,417.1 411.9,416.8 412,416.4 412.1,416.1 412.1,411.5 412.2,386.9 412.4,365.6 412.4,364.1 412.5,364.2 412.6,364.3 412.7,364.6 412.8,364.8 412.8,365 412.9,366.7 413,370 413.2,374.3 413.3,379 413.4,383.7 413.4,385.5 413.5,387.8 413.6,391.8 413.7,395.9 413.8,400.2 414,404.3 414.1,408.3 414.2,411.9 414.2,412.4 414.3,415.6 414.4,419.4 414.5,422.9 414.6,426.4 414.8,429.7 414.9,432.6 415,435.2 415.1,437.4 415.1,438.1 415.2,439.2 415.3,440.9 415.4,442.5 415.5,444.2 415.7,445.8 415.8,447.4 415.9,448.9 416,449.7 416.1,450.9 416.2,451.7 416.3,452 416.5,452.1 416.5,452.4 416.6,452.2 416.7,452.4 416.8,452.2 416.9,451.7 417,451.5 417.1,451.4 417.3,451.1 417.4,450.6 417.5,450.2 417.6,449.6 417.7,449.2 417.8,448.5 417.9,447.8 418,447.2 418.2,446.5 418.3,445.7 418.4,445.1 418.5,444.4 418.6,443.8 418.7,442.5 418.8,441.5 419,440.5 419.1,439.5 419.2,438.2 419.3,437.1 419.4,436 419.5,435 419.6,433.8 419.8,432.5 419.9,431.2 420,429.9 420.1,428.8 420.2,427.3 420.3,426.1 420.4,424.9 420.6,423.5 420.7,422.3 420.8,421 420.9,419.7 421,418.6 421.1,417.4 421.2,416.4 421.3,415.3 421.5,414.5 421.6,413.1 421.7,412 421.8,410.6 421.9,409.5 422,408.3 422.1,407.1 422.3,406.1 422.4,405 422.5,404 422.6,402.7 422.7,401.7 422.8,400.7 422.9,399.6 423.1,398.6 423.2,397.6 423.3,397.1 423.4,396.2 423.5,395.7 423.6,395.1 423.7,394.5 423.8,394 424,393.5 424.1,392.9 424.2,392.3 424.3,392.1 424.4,391.6 424.5,391.1 424.6,390.9 424.8,390.7 424.9,390.5 425,390.2 425.1,390.1 425.1,389.8 425.2,389.7 425.3,389.8 425.4,389.5 425.6,389.8 425.7,390.2 425.8,390.4 425.9,390.7 426,391.4 426.1,391.7 426.2,392.1 426.4,392.5 426.5,392.9 426.6,393.4 426.7,394 426.8,394.7 426.8,394.8 426.9,396.9 427,401.7 427.1,408 427.3,415.4 427.4,423.7 427.5,432.1 427.6,440.3 427.7,447.8 427.8,454.4 427.9,459.2 428.1,462.1 428.1,462.4 428.2,462.1 428.3,459.5 428.4,454.9 428.5,448.4 428.6,440.2 428.7,431.1 428.9,421.3 429,411.2 429.1,401.2 429.2,391.5 429.3,382.6 429.4,374.8 429.5,368.5 429.6,364.4 429.8,362.4 429.8,362.2 429.9,362.5 430,362.7 430.1,362.6 430.2,363.2 430.3,363.6 430.4,364.3 430.6,364.9 430.7,365.7 430.8,366.4 430.8,366.6 430.9,367.2 431,368.7 431.1,370.5 431.2,372.8 431.4,375.3 431.5,378.1 431.6,380.9 431.7,383.5 431.8,386.1 431.9,388.4 432,389.6 432,390.6 432.1,392.2 432.3,394.1 432.4,395.9 432.5,397.5 432.6,399 432.7,400.8 432.8,402.4 432.9,404.1 433.1,405.5 433.2,407.3 433.2,407.7 433.3,408.9 433.4,410.4 433.5,412.3 433.6,413.7 433.7,415.6 433.9,417.1 434,418.9 434.1,420.9 434.2,422.7 434.3,424.1 434.4,425.6 434.4,425.6 434.5,427.2 434.7,428.6 434.8,430.2 434.9,431.8 435,433.7 435.1,435.1 435.2,436.6 435.3,437.9 435.4,439.2 435.6,440.5 435.7,441.2 435.8,441.6 435.9,441.8 435.9,441.4 436,441.6 436.1,441.4 436.2,441.4 436.4,441.4 436.5,441.2 436.6,441.1 436.7,441.1 436.8,440.8 436.9,440.9 437,440.7 437.2,440.1 437.3,439.7 437.4,439.4 437.5,439.2 437.6,438.9 437.7,438.7 437.8,438.1 437.9,438 438.1,437.3 438.2,437 438.3,436.7 438.4,436.2 438.5,435.5 438.6,434.6 438.7,434 438.9,433.7 439,433.4 439.1,432.7 439.2,431.9 439.3,431.5 439.4,431 439.5,430.3 439.7,429.7 439.8,429.1 439.9,428.5 440,427.7 440.1,426.7 440.2,426 440.3,425.5 440.5,424.9 440.6,424.1 440.7,423.4 440.8,422.6 440.9,422.1 441,421.5 441.1,420.5 441.2,420 441.4,419.4 441.5,418.9 441.6,418.2 441.7,417.8 441.8,417 441.9,416.5 442,415.7 442.2,415.2 442.3,414.7 442.4,414 442.5,413.6 442.6,413 442.7,412.3 442.8,411.8 443,411.2 443.1,410.3 443.2,409.3 443.3,409.2 443.4,408.7 443.5,408.6 443.6,407.8 443.7,407.7 443.9,407.2 444,407 444.1,406.4 444.2,406.1 444.3,405.8 444.4,405.6 444.5,405.3 444.7,405.4 444.8,405.3 444.9,405.2 445,405 445.1,404.7 445.2,404.6 445.3,404.8 445.5,404.3 445.6,404.6 445.6,404.6 445.7,404.9 445.8,404.7 445.9,404.6 446,404.6 446.1,404.5 446.3,404.6 446.4,404.5 446.5,404.5 446.6,404.7 446.7,404.7 446.8,404.5 446.9,404.6 447,404.9 447.2,405.1 447.3,405.2 447.4,405.3 447.5,405.7 447.6,405.6 447.7,405.9 447.8,406.1 448,406 448.1,406.1 448.2,406.3 448.3,406.9 448.4,406.9 448.5,407.1 448.6,406.9 448.8,407.3 448.9,407.6 449,407.6 449.1,407.8 449.2,408.2 449.3,408.3 449.4,408.2 449.5,408 449.7,408.4 449.8,408.6 449.9,408.7 450,409 450.1,409.1 450.2,409.3 450.3,409.7 450.5,409.7 450.6,409.8 450.7,410.1 450.8,410.3 450.9,410.2 451,410.8 451.1,411.3 451.3,411.3 451.4,411.4 451.5,411.8 451.6,412.2 451.7,412 451.8,412.4 451.9,412.3 452.1,412.4 452.2,412.5 452.3,412.4 452.4,412.7 452.5,412.8 452.6,412.7 452.7,412.8 452.8,413.1 453,412.9 453.1,413.2 453.2,413.3 453.3,413.3 453.4,413.3 453.5,413.4 453.6,413.6 453.8,413.9 453.9,414.3 454,414.1 454.1,414.7 454.2,414.3 454.3,414.7 454.4,414.5 454.6,415 454.7,415.1 454.8,415.1 454.9,415.2 455,415.5 455.1,415.5 455.2,415.5 455.3,415.8 455.5,415.8 455.6,415.7 455.7,416.3 455.7,416.1 455.8,415.7 455.9,415.9 456,416 456.1,415.7 456.3,415.6 456.4,416.1 456.5,415.8 456.6,415.6 456.7,415.9 456.8,415.6 456.9,415.3 457.1,415.2 457.2,414.7 457.3,414.3 457.4,414.6 457.5,415 457.6,414.6 457.7,414.8 457.9,414.9 458,414.9 458.1,414.8 458.2,414.4 458.3,414.7 458.4,414.7 458.5,414.9 458.6,414.5 458.8,414.6 458.9,414.8 459,414.9 459.1,414.8 459.2,414.6 459.3,414.8 459.4,414.7 459.6,414.9 459.7,414.6 459.8,414.7 459.9,415.2 460,414.9 460.1,415 460.2,415.1 460.4,414.9 460.5,415 460.6,415.3 460.7,415.4 460.8,415.3 460.9,415.1 461,415.4 461.1,415.4 461.3,415.4 461.4,415.2 461.5,415.4 461.6,415 461.7,415.2 461.8,414.9 461.9,414.8 462.1,414.8 462.2,415.1 462.3,414.8 462.4,414.6 462.5,414.4 462.6,414.6 462.6,414.2 462.7,414.2 462.9,413.1 463,412.7 463.1,412 463.2,411.1 463.3,410.6 463.4,410.4 463.5,410.3 463.5,410.9 463.7,414.3 463.8,417.2 463.8,417.3 463.9,417.3 464,416.4 464.1,415.2 464.2,415 464.2,415.1 464.3,415.4 464.4,415.2 464.5,415.3 464.6,417.3 464.7,438.3 464.8,463.1 464.9,470.4 464.9,468.3 465,444.5 465.1,414.3 465.2,404.7 465.2,406.5 465.4,436.5 465.5,466.1 465.5,467.8 465.6,462.8 465.7,444.6 465.8,419.1 465.9,392.5 466,371.4 466.2,362 466.2,362 466.3,371.9 466.4,382.8 466.4,382.9 466.5,373.6 466.6,364.8 466.6,364.8 466.7,369 466.8,374 466.9,374.1 466.9,372.1 467.1,368.7 467.1,368.2 467.2,368.3 467.3,368.2 467.4,368.7 467.5,369.2 467.6,370.1 467.7,370.6 467.9,371.8 468,372.7 468.1,374 468.2,375.4 468.3,376.8 468.4,378.5 468.5,380.3 468.7,382 468.8,383.8 468.9,385.9 469,387.9 469.1,389.9 469.2,391.9 469.3,394.1 469.5,396.4 469.6,398.6 469.7,401 469.8,403.1 469.9,405.2 470,407.5 470.1,409.6 470.2,411.7 470.4,413.7 470.5,415.8 470.6,417.7 470.7,419.6 470.8,421.3 470.9,423.2 471,424.6 471.2,426.5 471.3,427.9 471.4,429.3 471.5,430.8 471.6,432.2 471.7,433.3 471.8,434.2 472,435.1 472.1,435.9 472.2,436.1 472.3,436.7 472.4,436.7 472.4,436.9 472.5,437.1 472.6,437.2 472.7,436.8 472.9,436.9 473,437.2 473.1,436.8 473.2,436.8 473.3,436.5 473.4,436 473.5,436 473.7,435.6 473.8,435.6 473.9,435.3 474,434.6 474.1,434.5 474.2,434.1 474.3,433.7 474.5,433.4 474.6,433.3 474.7,432.9 474.8,432.2 474.9,431.6 475,431.5 475.1,431.4 475.2,430.8 475.4,430.4 475.5,429.6 475.6,429.5 475.7,428.9 475.8,428.3 475.9,428.4 476,427.7 476.2,427.1 476.3,426.6 476.4,426.1 476.5,425.4 476.6,424.9 476.7,424.4 476.8,423.5 477,423.1 477.1,422.8 477.2,422.1 477.3,421.9 477.4,421.4 477.5,420.8 477.6,420.3 477.8,419.9 477.9,419.4 478,418.8 478.1,418.2 478.2,417.8 478.3,417.3 478.4,416.9 478.5,416.6 478.7,415.7 478.8,415.4 478.9,414.7 479,414.1 479.1,413.5 479.2,413.4 479.3,413 479.5,412.3 479.6,412 479.7,411.5 479.8,411.2 479.9,410.7 480,410.4 480.1,410.1 480.3,410 480.4,409.9 480.5,409.6 480.6,409.8 480.7,409.2 480.8,409.4 480.9,409.3 481,408.9 481.2,409.3 481.3,408.8 481.4,408.7 481.5,408.9 481.6,408.7 481.7,408.6 481.8,408.7 482,408.5 482,408.6 482.1,408.6 482.2,408.2 482.3,408.3 482.4,408.4 482.5,408.3 482.6,408.6 482.8,408.2 482.9,408.3 483,408.3 483.1,407.7 483.2,408.2 483.3,408.5 483.4,408.3 483.6,408.5 483.7,408.8 483.8,408.5 483.9,408.8 484,409 484.1,409.1 484.2,409.2 484.3,409.1 484.5,409.3 484.6,409.9 484.7,409.9 484.8,410.5 484.9,410.5 485,411 485.1,410.6 485.3,410.7 485.4,410.9 485.5,411.1 485.6,411.2 485.7,411.3 485.8,411.5 485.9,411.3 486.1,411.7 486.2,411.8 486.3,411.7 486.4,411.7 486.5,412.1 486.6,412 486.7,412.4 486.8,412.9 487,413 487.1,413.5 487.2,413.4 487.3,413.6 487.4,414 487.5,414.1 487.6,414.1 487.8,414.2 487.9,414.4 488,414.5 488.1,414.3 488.2,414.6 488.3,414.6 488.4,414.7 488.6,414.9 488.7,415.2 488.8,415.1 488.9,415.4 489,415.6 489.1,415.5 489.2,415.5 489.4,415.4 489.5,415.4 489.6,415.7 489.7,415.9 489.8,416 489.9,415.9 490,415.4 490.1,415.8 490.1,415.5 490.3,415.6 490.4,415.4 490.5,415.3 490.6,415.1 490.7,415.2 490.8,415.1 490.9,415.3 491.1,415.1 491.2,414.6 491.3,414.9 491.4,414.9 491.5,415.1 491.6,415.2 491.7,415.2 491.9,415.3 492,414.9 492.1,415.1 492.2,415 492.3,414.9 492.4,415 492.5,415 492.6,415 492.8,414.9 492.9,414.9 493,414.8 493.1,414.9 493.2,414.4 493.3,414.5 493.4,414.5 493.6,414.5 493.7,414.7 493.8,414.7 493.9,414.9 494,414.8 494.1,414.8 494.2,414.6 494.4,414.9 494.5,414.6 494.6,414.9 494.7,414.9 494.8,414.8 494.9,414.4 495,414.6 495.2,414.4 495.3,414.5 495.4,414 495.5,414.2 495.6,413.9 495.7,413.8 495.8,413.9 495.9,413.9 496.1,413.9 496.2,414 496.3,414.1 496.4,413.9 496.5,413.9 496.6,413.8 496.7,413.8 496.9,414.1 497,413.9 497.1,413.9 497.2,414 497.3,414.2 497.4,414.3 497.5,414.2 497.7,413.9 497.8,414.1 497.9,414.3 498,414 498.1,414 498.2,413.9 498.3,414 498.3,413.9 498.4,414 498.6,413.9 498.7,413.9 498.8,413.6 498.9,413.6 499,414 499.1,414.1 499.2,413.8 499.4,414 499.5,414.2 499.6,413.9 499.7,414.3 499.8,414.6 499.9,414.3 500,414 500.2,413.8 500.3,413.9 500.4,413.9 500.5,413.9 500.6,413.8 500.7,413.6 500.8,413.7 501,413.8 501.1,413.5 501.2,413.4 501.3,413.4 501.4,413.2 501.5,413.6 501.6,413.6 501.7,413.4 501.9,413.4 502,413.6 502.1,413.6 502.2,413.7 502.3,413.6 502.4,413.7 502.5,413.9 502.7,414.1 502.8,413.9 502.9,414.3 503,414.3 503.1,414.2 503.2,414.1 503.3,414.2 503.5,414.4 503.6,414.5 503.7,414.3 503.8,414.5 503.9,414.4 504,414.5 504.1,414.2 504.2,414 504.4,414.2 504.5,413.7 504.6,414.1 504.7,413.8 504.8,413.9 504.9,414 505,413.8 505.2,413.7 505.3,413.5 505.4,413.8 505.5,413.8 505.6,413.9 505.7,414.1 505.8,413.9 506,414 506.1,414.1 506.2,414 506.3,414.1 506.4,414.4 506.5,414.3 506.6,414.3 506.8,414.3 506.9,414.2 507,414.1 507.1,413.9 507.2,413.8 507.3,413.6 507.4,413.8 507.5,413.7 507.7,413.6 507.8,413.6 507.9,413.6 508,413.7 508.1,413.6 508.2,413.7 508.3,413.5 508.5,413.5 508.6,413.3 508.7,413.6 508.8,413.6 508.9,414 509,414.1 509.1,414 509.3,414 509.4,413.7 509.5,414 509.6,413.7 509.7,413.7 509.8,413.9 509.9,413.5 510,413.6 510.2,413.5 510.3,413.6 510.4,413.7 510.5,413.9 510.6,413.6 510.7,413.5 510.8,413.7 510.9,413.8 511,413.9 511.1,413.8 511.2,413.7 511.3,413.6 511.4,413.6 511.5,413.5 511.6,413.7 511.8,413.7 511.9,413.7 512,413.6 512.1,413.2 512.2,413.4 512.3,413.5 512.4,413.3 512.6,413.2 512.7,413.3 512.8,413.5 512.9,413.3 513,413.7 513.1,413.7 513.2,413.9 513.3,413.7 513.5,413.9 513.6,413.8 513.7,413.7 513.8,413.7 513.9,413.9 514,413.8 514.1,413.8 514.3,413.9 514.4,413.9 514.5,413.7 514.6,413.6 514.7,413.6 514.8,413.5 514.9,413.6 515.1,413.6 515.2,413.7 515.3,413.3 515.4,413.4 515.5,413.5 515.6,413.4 515.7,413.3 515.8,413.4 516,413.5 516.1,413.4 516.2,413.8 516.3,413.9 516.4,413.9 516.5,413.8 516.6,413.7 516.8,413.9 516.9,413.6 517,413.6 517.1,413.9 517.2,413.5 517.3,413.6 517.4,413.8 517.6,413.9 517.7,413.7 517.8,413.8 517.9,413.8 518,413.6 518.1,414 518.2,414.1 518.3,413.9 518.5,414.3 518.6,414.3 518.7,414.4 518.8,414.4 518.9,414 519,414 519.1,413.9 519.3,413.7 519.4,413.8 519.5,414.1 519.6,414.4 519.7,414 519.8,413.8 519.9,413.4 520.1,413.6 520.2,413.7 520.3,413.7 520.4,413.9 520.5,413.8 520.6,414.2 520.7,414.3 520.9,414.5 521,414.8 521.1,414.4 521.2,414.2 521.3,414.5 521.4,414.4 521.5,414.5 521.6,414.6 521.8,414.6 521.9,414.8 522,414.7 522.1,414.8 522.2,414.4 522.3,413.8 522.4,413.9 522.6,413.6 522.7,413.5 522.8,413.4 522.9,413.6 523,413.5 523.1,413.3 523.2,413.5 523.4,413.3 523.5,413.4 523.6,413.2 523.7,412.8 523.8,413 523.9,412.9 524,413 524.1,413.4 524.3,413.5 524.4,413.7 524.5,413.6 524.6,413.8 524.7,414 524.8,414 524.9,413.5 525.1,413.8 525.2,413.6 525.3,413.8 525.4,413.7 525.5,413.8 525.6,413.7 525.7,413.6 525.9,413.7 526,413.6 526.1,413.4"/>
<rect class="ax" x="321.5" y="353.5" width="221.00" height="121.00"/>
<path class="tc" d="M353.07,474.5v-1.9M353.07,353.5v1.9M384.64,474.5v-1.9M384.64,353.5v1.9M416.21,474.5v-1.9M416.21,353.5v1.9M447.79,474.5v-1.9M447.79,353.5v1.9M479.36,474.5v-1.9M479.36,353.5v1.9M510.93,474.5v-1.9M510.93,353.5v1.9M321.5,414.00h1.9M542.5,414.00h-1.9"/>
<text class="tk" x="321.5" y="488" text-anchor="middle">0</text>
<text class="tk" x="353.1" y="488" text-anchor="middle">1</text>
<text class="tk" x="384.6" y="488" text-anchor="middle">2</text>
<text class="tk" x="416.2" y="488" text-anchor="middle">3</text>
<text class="tk" x="447.8" y="488" text-anchor="middle">4</text>
<text class="tk" x="479.4" y="488" text-anchor="middle">5</text>
<text class="tk" x="510.9" y="488" text-anchor="middle">6</text>
<text class="tk" x="542.5" y="488" text-anchor="middle">7</text>
<text class="tk" x="318.1" y="357" text-anchor="end">5</text>
<text class="tk" x="318.1" y="418" text-anchor="end">0</text>
<text class="tk" x="318.1" y="479" text-anchor="end">-5</text>
<text class="lb" x="432.4" y="501" text-anchor="middle">Time(s)</text>
<text class="lb" transform="translate(305.6,413.7) rotate(-90)" text-anchor="middle">Amplitude(mV)</text>
<text class="pl" x="298.6" y="367">F</text>
</g>
<g id="panelG">
<polyline class="ln" stroke-width="0.6" points="30.7,584.9 30.8,584.9 30.9,585 31,585.2 31.2,584.9 31.3,585.1 31.4,585.2 31.5,585.1 31.6,585.5 31.7,585.3 31.8,585.2 31.9,585.1 32.1,585.3 32.2,585.4 32.3,585.4 32.4,585.1 32.5,585.5 32.6,585.3 32.7,585.5 32.9,585.7 33,585.7 33.1,585.4 33.2,585.7 33.3,585.4 33.4,585.5 33.5,585.7 33.7,586.2 33.8,585.7 33.9,585.6 34,585.6 34.1,585.8 34.2,585.7 34.3,585.7 34.4,585.7 34.6,585.4 34.7,585.6 34.8,585.5 34.9,585 35,585.3 35.1,585.3 35.2,585.2 35.4,585.1 35.5,585.5 35.6,585.4 35.7,585.3 35.8,585.9 35.9,585.5 36,585.7 36.2,585.6 36.3,585.1 36.4,585.2 36.5,585.5 36.6,585.2 36.7,585.1 36.8,585.3 36.9,585.1 37.1,585.2 37.2,584.8 37.3,584.7 37.4,584.8 37.5,584.7 37.6,584.7 37.7,584.7 37.9,584.9 38,584.9 38.1,584.9 38.2,584.7 38.3,584.7 38.4,585.2 38.5,585.2 38.7,585.1 38.8,585.5 38.9,585.4 39,585.4 39.1,585.5 39.2,585.5 39.3,585.8 39.4,585.7 39.6,585.7 39.7,585.6 39.8,585.8 39.9,586 40,585.9 40.1,586 40.2,586 40.4,586.1 40.5,585.9 40.6,585.9 40.7,585.6 40.8,585.6 40.9,585.7 41,585.7 41.2,585.8 41.3,585.7 41.4,585.7 41.5,585.5 41.6,585.6 41.7,585.6 41.8,585.8 41.9,585.7 42.1,585.2 42.2,585.5 42.3,585.4 42.4,585.2 42.5,585.7 42.6,585.8 42.7,585.5 42.9,585.7 43,585.9 43.1,585.8 43.2,585.8 43.3,586 43.4,586 43.5,585.7 43.6,585.9 43.8,586.2 43.9,586 44,585.9 44.1,585.5 44.2,585.7 44.3,585.5 44.4,585.6 44.6,585.3 44.7,585.3 44.8,585.1 44.9,584.9 45,585.3 45.1,585 45.2,585.5 45.4,585 45.5,585 45.6,584.7 45.7,585.2 45.8,585.5 45.9,585 46,585.1 46.1,585.5 46.3,585.6 46.4,585.7 46.5,586 46.5,585.7 46.6,585.9 46.7,585.7 46.8,585.9 46.9,586 47.1,586.5 47.2,586 47.3,586.2 47.4,586 47.5,586.1 47.6,586.1 47.7,585.9 47.9,586 48,585.9 48.1,585.8 48.2,585.7 48.3,586.1 48.4,586 48.5,585.5 48.6,585.6 48.8,585.5 48.9,585.3 49,585 49.1,585.5 49.2,585.4 49.3,585.3 49.4,585.7 49.6,585.1 49.7,585.2 49.8,585.4 49.9,585.7 50,585.3 50.1,585.5 50.2,585.7 50.4,586 50.5,586 50.6,585.8 50.7,585.8 50.8,585.7 50.9,585.8 51,585.9 51.1,585.8 51.3,585.8 51.4,586.1 51.5,586 51.6,585.9 51.7,585.6 51.8,585.5 51.9,585.3 52.1,585.4 52.2,585.5 52.3,585 52.4,585.2 52.5,585.2 52.6,585.2 52.7,585.2 52.9,585.2 53,585.1 53.1,585.3 53.2,584.9 53.3,585.3 53.4,585.1 53.5,585.3 53.6,585.4 53.8,585.4 53.9,585.5 54,586.2 54.1,586.3 54.2,586.1 54.3,586.4 54.4,586.3 54.6,586.2 54.7,586.3 54.8,586.6 54.9,586.2 55,586.1 55.1,586.2 55.2,586.3 55.3,586.2 55.5,586.1 55.6,586 55.7,585.9 55.8,586 55.9,585.6 56,585.5 56.1,585.4 56.3,585.4 56.4,585.6 56.5,585.4 56.6,585.6 56.7,585.7 56.8,585.8 56.9,585.5 57.1,585.5 57.2,585.4 57.3,585.8 57.4,585.4 57.5,585.5 57.6,585.6 57.7,585.9 57.8,585.6 58,585.5 58.1,585.5 58.2,585.7 58.3,585.8 58.4,585.2 58.5,585.5 58.6,585.7 58.8,585.6 58.9,585.8 59,586 59.1,585.7 59.2,585.6 59.3,585.7 59.4,585.9 59.6,585.9 59.7,585.6 59.8,585.7 59.9,585.9 60,585.7 60.1,585.8 60.2,585.6 60.3,585.7 60.5,585.7 60.6,586.2 60.7,585.9 60.8,586.2 60.9,585.9 61,586 61.1,586 61.3,586 61.4,586.2 61.5,585.7 61.6,585.6 61.7,585.8 61.8,585.7 61.9,585.6 62.1,586.2 62.2,585.9 62.2,585.5 62.3,585.4 62.4,585.6 62.5,585.6 62.6,585.9 62.7,585.6 62.8,585.6 63,585.8 63.1,585.6 63.2,585.9 63.3,585.9 63.4,586 63.5,585.5 63.6,585.4 63.8,585.4 63.9,585.5 64,585.5 64.1,585.5 64.2,585.4 64.3,585.4 64.4,585.4 64.6,585.3 64.7,585.5 64.8,585.7 64.9,585.9 65,585.9 65.1,585.8 65.2,585.9 65.3,586 65.5,586.2 65.6,586.4 65.7,586.5 65.8,586.3 65.9,586.6 66,586.6 66.1,586.6 66.3,586.6 66.4,586.7 66.5,586.5 66.6,586.5 66.7,586.1 66.8,586.2 66.9,586.1 67,586.2 67.2,586.5 67.3,586.7 67.4,586.4 67.5,586.4 67.6,586.5 67.7,586.3 67.8,586.1 68,586.1 68.1,586.1 68.2,586.2 68.3,586.1 68.4,586.4 68.5,586.5 68.6,586.3 68.8,586.6 68.9,586.3 69,586 69.1,586 69.2,586 69.3,585.7 69.4,585.9 69.5,586.1 69.7,586.3 69.8,586.1 69.9,585.9 70,585.7 70.1,586.2 70.2,586.1 70.3,585.9 70.5,585.7 70.6,585.6 70.7,585.5 70.8,585.7 70.9,585.7 71,585.7 71.1,585.8 71.3,585.6 71.4,585.3 71.5,585 71.6,585 71.7,585.4 71.8,585.5 71.9,585.3 72,585.7 72.2,585.5 72.3,585.2 72.4,585.3 72.5,585.6 72.6,585.9 72.7,585.8 72.8,585.7 73,585.7 73.1,585.5 73.2,586 73.3,586.3 73.4,586.3 73.5,586 73.6,585.8 73.8,585.8 73.9,585.8 74,585.9 74.1,585.5 74.2,585.4 74.3,585.2 74.4,585.3 74.5,585.1 74.7,585.1 74.8,585.2 74.9,584.9 75,585.1 75.1,584.9 75.2,584.7 75.3,585.1 75.5,585.1 75.6,584.9 75.7,585.4 75.8,585.5 75.9,585.4 76,585.3 76.1,585.4 76.3,585.1 76.4,585.2 76.5,585.5 76.6,585.6 76.7,585.2 76.8,585.5 76.9,585.9 77,585.4 77.2,585.5 77.3,585.5 77.4,585.6 77.5,585.5 77.6,585.4 77.7,585 77.8,585.6 78,585.4 78,585.9 78.1,585.7 78.2,586 78.3,585.8 78.4,585.5 78.5,585.6 78.6,585.4 78.7,585.5 78.9,585.6 79,585.6 79.1,585.6 79.2,585.7 79.3,585.7 79.4,585.7 79.5,585.7 79.7,585.7 79.8,585.6 79.9,585.4 80,585.3 80.1,585.7 80.2,585.5 80.3,585.5 80.5,585.6 80.6,585.3 80.7,585.6 80.8,585.2 80.9,585.5 81,585.4 81.1,585.6 81.2,585.9 81.4,585.8 81.5,586.2 81.6,586 81.7,586.1 81.8,586.1 81.9,586.1 82,586.1 82.2,585.9 82.3,586.2 82.4,586.1 82.5,586.4 82.6,586 82.7,586.2 82.8,586.2 83,585.6 83.1,585.5 83.2,585.7 83.3,585.6 83.4,585.6 83.5,585.6 83.6,585.4 83.7,585.7 83.9,585.5 84,585.3 84.1,585.4 84.2,585 84.3,585.3 84.4,585.2 84.5,585.5 84.7,584.7 84.8,585 84.9,584.8 85,584.9 85.1,585.1 85.2,585.3 85.3,584.9 85.5,585.2 85.6,585.5 85.7,585.5 85.8,585.7 85.9,585.5 86,585.8 86.1,586 86.2,585.9 86.4,585.7 86.5,585.4 86.6,586.1 86.7,585.7 86.8,586.2 86.9,585.8 87,586.2 87.2,586 87.3,586.1 87.4,585.8 87.5,585.3 87.6,585.3 87.7,585.2 87.8,585.5 88,585.8 88.1,586 88.2,585.9 88.3,585.7 88.4,585.6 88.5,585.5 88.6,585.3 88.7,585.3 88.9,585.2 89,585.2 89.1,585.5 89.2,585.6 89.3,585.5 89.4,585.7 89.5,585.7 89.7,585.5 89.8,585.6 89.9,585.4 90,585.7 90.1,585.7 90.2,585.7 90.3,585.9 90.4,585.8 90.6,585.9 90.6,585.8 90.7,585.7 90.8,585.9 90.9,586.3 91,586.1 91.1,586.4 91.2,586.4 91.4,586.3 91.5,586.6 91.6,586.3 91.7,586.4 91.8,586.4 91.9,586.4 92,586.5 92.2,586.4 92.3,586.4 92.4,586.6 92.5,586.5 92.6,586.6 92.7,586.3 92.8,586.3 92.9,586.4 93.1,586.5 93.1,586.1 93.2,586.6 93.3,586.3 93.4,586.6 93.5,587.2 93.6,587.5 93.7,588.2 93.9,588.5 94,588.8 94.1,589.1 94.2,589.5 94.3,589.9 94.4,589.7 94.4,589.6 94.5,589.7 94.7,589.9 94.8,589.7 94.9,588.8 95,588.5 95.1,588.1 95.2,587.1 95.3,586.6 95.4,586 95.6,585.2 95.7,584.4 95.8,584 95.9,583.5 96,582.8 96.1,582.4 96.2,582.3 96.4,582.4 96.5,582.6 96.5,582.9 96.6,582.8 96.7,582.9 96.8,583.2 96.9,583.2 97,583.5 97.2,583.6 97.3,583.3 97.4,583.2 97.5,583.4 97.6,583.5 97.7,583.6 97.8,583.5 97.9,583.5 98.1,583.7 98.2,583.3 98.3,583.5 98.4,583.7 98.5,583.9 98.6,584 98.7,584.3 98.9,584.4 99,584.8 99.1,584.8 99.2,584.8 99.3,585.1 99.4,585.4 99.5,585.5 99.7,585.6 99.8,586 99.9,585.6 100,585.5 100.1,585.5 100.1,585.2 100.2,585.3 100.3,585.3 100.4,585.3 100.6,585.3 100.7,585.6 100.8,585.3 100.9,585.1 101,584.9 101.1,585.2 101.2,585.1 101.4,585.2 101.5,585 101.6,585.3 101.7,585.3 101.8,585.7 101.9,585.5 102,585.8 102.1,585.8 102.3,585.9 102.4,586.2 102.5,586.1 102.6,586.2 102.7,586.5 102.8,586.7 102.9,586.3 103.1,586.5 103.2,586.9 103.3,587.1 103.4,586.7 103.5,587.1 103.6,587.2 103.7,587.3 103.9,587.2 104,587.1 104.1,587.4 104.2,587.3 104.3,587 104.4,587.2 104.5,587 104.5,587.1 104.6,586.8 104.8,586.9 104.9,586.8 105,586.6 105.1,586.5 105.2,586.2 105.3,586.5 105.4,586.7 105.6,586.3 105.7,586.8 105.8,587 105.9,587.1 106,587.1 106.1,587.2 106.2,587.3 106.4,587.4 106.5,587 106.6,587.1 106.7,587.1 106.8,586.8 106.9,587 107,587 107.1,586.8 107.3,587 107.4,586.9 107.5,586.8 107.6,586.5 107.7,586.5 107.8,586.6 107.9,586.7 108.1,586.5 108.2,586.4 108.3,586.8 108.4,586.5 108.5,586.4 108.6,585.9 108.7,586.2 108.9,586.4 109,586.3 109.1,586 109.2,586.1 109.3,585.9 109.4,585.7 109.5,585.7 109.6,585.5 109.8,585.7 109.9,585.3 110,585.2 110.1,585.3 110.2,585.2 110.3,585.6 110.4,585.1 110.6,585.2 110.7,585 110.8,585.2 110.9,585.4 111,585.6 111.1,585.2 111.1,585.4 111.2,585.2 111.4,585.2 111.5,585.2 111.6,585.5 111.7,585.2 111.8,585.3 111.9,584.9 112,585 112.1,585.2 112.3,585.4 112.4,585 112.5,585.1 112.6,585.1 112.7,585.2 112.8,585.6 112.9,585.2 113.1,585.6 113.2,585.4 113.3,585.3 113.4,585.1 113.5,585.3 113.6,585.4 113.7,585.2 113.8,585.3 114,585 114.1,584.7 114.2,584.6 114.3,584.5 114.4,584.4 114.5,584.5 114.6,584.3 114.8,584.3 114.9,584.2 115,584.4 115.1,584.3 115.2,584.3 115.3,584.3 115.4,584.4 115.6,584.3 115.7,583.9 115.8,584 115.9,584.3 116,584.2 116.1,584.2 116.2,584.3 116.3,584.1 116.5,584.1 116.6,584.4 116.7,584.2 116.8,584 116.9,584.1 117,583.8 117.1,584 117.3,583.6 117.3,584.1 117.4,584.1 117.5,583.8 117.6,583.6 117.7,583.7 117.8,583.6 117.9,584.1 118.1,583.7 118.2,583.7 118.3,584 118.4,584.2 118.5,584.6 118.6,584.9 118.7,584.7 118.8,585.1 119,585.1 119.1,585.1 119.2,585.4 119.3,585.4 119.3,585.7 119.4,586.1 119.5,586.4 119.6,586.8 119.8,587.4 119.9,587.6 120,588 120.1,588.4 120.2,588.4 120.3,588.6 120.3,588.4 120.4,588.4 120.6,588.1 120.7,588.4 120.8,588.2 120.9,588.3 121,588.2 121.1,588.1 121.2,588 121.2,583.4 121.3,558.1 121.5,536.4 121.5,535.1 121.6,535.1 121.7,535.5 121.8,536.2 121.9,536.9 121.9,537 122,538.7 122.1,542.2 122.3,546.7 122.4,551.6 122.5,556.4 122.5,558.2 122.6,560.5 122.7,564.7 122.8,568.8 122.9,573.1 123.1,577.1 123.2,581.1 123.3,584.4 123.3,584.6 123.4,587.7 123.5,591.3 123.6,594.7 123.7,598.2 123.8,601.4 124,604.2 124.1,606.8 124.2,609 124.2,609.8 124.3,611 124.4,612.8 124.5,614.6 124.6,616.1 124.8,617.8 124.9,619.6 125,620.7 125.1,621.8 125.2,622.7 125.3,623.5 125.4,623.9 125.5,624.1 125.6,624.5 125.7,624.3 125.8,624.5 125.9,624.2 126,624.1 126.1,623.9 126.2,623.1 126.3,623 126.5,622.6 126.6,622.4 126.7,621.6 126.8,621.1 126.9,620.6 127,620.2 127.1,619.4 127.3,618.6 127.4,617.7 127.5,616.9 127.6,616.1 127.7,615.3 127.8,614.3 127.9,613.2 128,612.2 128.2,611.1 128.3,609.9 128.4,609 128.5,607.8 128.6,607 128.7,605.8 128.8,604.5 129,603.1 129.1,602 129.2,600.7 129.3,599.3 129.4,598 129.5,597 129.6,596 129.8,594.7 129.9,593.6 130,592.5 130.1,591.2 130.2,590 130.3,588.8 130.4,587.4 130.5,586.2 130.7,584.8 130.8,583.5 130.9,582.4 131,581.5 131.1,580.3 131.2,578.9 131.3,577.7 131.5,576.3 131.6,575.2 131.7,573.8 131.8,572.9 131.9,571.5 132,570.5 132.1,569.6 132.3,568.7 132.4,567.7 132.5,567 132.6,566.2 132.7,565.3 132.8,564.9 132.9,564.2 133,563.5 133.2,563.1 133.3,562.6 133.4,562.3 133.5,561.9 133.6,561.8 133.7,561.3 133.8,561 134,561.2 134.1,560.8 134.1,561.2 134.2,561.4 134.3,561.1 134.4,561.3 134.5,561.6 134.6,561.6 134.7,561.6 134.9,561.9 135,562.4 135.1,562.7 135.2,563 135.3,563.9 135.4,564.2 135.5,564.7 135.7,565.1 135.8,565.7 135.9,566.3 135.9,566.7 136,569 136.1,573.5 136.2,579.8 136.3,587.5 136.5,596 136.6,604.5 136.7,613 136.8,620.8 136.9,627.4 137,631.9 137.1,634.6 137.2,635.2 137.2,634.9 137.4,632.3 137.5,627.5 137.6,620.9 137.7,612.9 137.8,603.7 137.9,593.8 138,583.6 138.2,573.5 138.3,563.8 138.4,554.8 138.5,547 138.6,540.9 138.7,536.7 138.8,534.6 138.9,534.4 139,534.5 139.1,534.5 139.2,535 139.3,535.1 139.4,535.6 139.5,535.8 139.6,536.1 139.7,536.5 139.9,537.2 139.9,537.4 140,538 140.1,539.4 140.2,541.3 140.3,543.7 140.4,546.4 140.5,549.1 140.7,551.9 140.8,554.5 140.9,557.3 141,559.8 141.1,561.2 141.1,561.8 141.2,563.7 141.3,565.4 141.5,567.2 141.6,569.1 141.7,570.9 141.8,572.5 141.9,574.3 142,575.9 142.1,577.7 142.2,579.4 142.3,579.9 142.4,581.2 142.5,582.9 142.6,584.6 142.7,586.4 142.8,587.9 142.9,589.8 143,591.1 143.2,592.7 143.3,594.1 143.4,595.7 143.5,596.9 143.5,597.1 143.6,598.4 143.7,599.8 143.8,601.5 144,603 144.1,604.7 144.2,606.6 144.3,607.8 144.4,609.6 144.5,610.7 144.6,611.8 144.7,612.8 144.9,613 145,613.3 145,613.4 145.1,613.3 145.2,613.3 145.3,613 145.4,613 145.5,612.8 145.7,612.6 145.8,612.2 145.9,612.7 146,611.9 146.1,611.5 146.2,611.5 146.3,611.1 146.4,611.1 146.6,610.5 146.7,610.1 146.8,609.7 146.9,609.5 147,609.5 147.1,609.1 147.2,608.5 147.4,608 147.5,607.5 147.6,607 147.7,606.3 147.8,605.7 147.9,605.2 148,604.8 148.2,604.2 148.3,603.7 148.4,603.3 148.5,602.1 148.6,601.5 148.7,600.5 148.8,599.7 148.9,599.1 149.1,598.7 149.2,597.9 149.3,597 149.4,596.6 149.5,596 149.6,595.4 149.7,594.8 149.9,593.7 150,593.4 150.1,592.5 150.2,591.9 150.3,591.5 150.4,591 150.5,590.5 150.7,589.9 150.8,589.2 150.9,589 151,588.4 151.1,587.9 151.2,587.1 151.3,586.4 151.4,586.3 151.6,585.7 151.7,585.1 151.8,584.7 151.9,584.2 152,583.3 152.1,582.5 152.2,582.3 152.4,581.6 152.5,580.7 152.6,580.4 152.7,579.9 152.8,579.5 152.9,579.3 153,578.8 153.2,578.3 153.3,577.7 153.4,577.3 153.5,577.2 153.6,577.2 153.7,576.6 153.8,576.7 153.9,576.6 154.1,576.3 154.2,576.3 154.3,576.3 154.4,576.6 154.5,576.8 154.6,576.7 154.6,576.8 154.7,576.8 154.9,577.1 155,576.8 155.1,577.1 155.2,577.1 155.3,577.4 155.4,577.6 155.5,577.5 155.7,577.7 155.8,577.5 155.9,577.8 156,577.9 156.1,577.4 156.2,577.9 156.3,577.8 156.4,577.7 156.6,577.9 156.7,578.3 156.8,578.2 156.9,577.9 157,578.2 157.1,578.4 157.2,578.4 157.4,578.3 157.5,578.5 157.6,578.7 157.7,578.7 157.8,579 157.9,579.2 158,579.2 158.1,579.3 158.3,579.9 158.4,579.9 158.5,580.1 158.6,580 158.7,580.6 158.8,580.6 158.9,580.8 159.1,580.7 159.2,581.2 159.3,581.5 159.4,581.5 159.5,581.9 159.6,582 159.7,582 159.9,582 160,582.3 160.1,582.4 160.2,582.4 160.3,582.5 160.4,582.8 160.5,582.8 160.6,583.2 160.8,583.4 160.9,583 161,583.9 161.1,584 161.2,584.1 161.3,584.5 161.4,584.6 161.6,584.9 161.7,585.1 161.8,585.1 161.9,585.6 162,585.5 162.1,585.8 162.2,585.9 162.4,585.9 162.5,586 162.6,586 162.7,586.1 162.8,586.2 162.9,586.2 163,586.2 163.1,586.5 163.3,587 163.4,586.7 163.5,586.8 163.6,586.9 163.7,586.8 163.8,586.9 163.9,586.9 164.1,587.1 164.2,586.9 164.3,586.8 164.4,586.8 164.5,586.6 164.6,586.6 164.7,586.6 164.7,586.7 164.9,586.5 165,586.7 165.1,586.6 165.2,586.7 165.3,587.1 165.4,587.4 165.5,587.3 165.6,587.3 165.8,587.4 165.9,586.9 166,587 166.1,587 166.2,586.7 166.3,586.6 166.4,586.8 166.6,587.1 166.7,587.1 166.8,586.9 166.9,586.6 167,586.6 167.1,586.4 167.2,586.4 167.4,586.4 167.5,586.7 167.6,587.2 167.7,587 167.8,587.2 167.9,587.4 168,587.3 168.1,587.4 168.3,587.1 168.4,586.7 168.5,586.7 168.6,586.8 168.7,586.6 168.8,586.9 168.9,587 169.1,587.4 169.2,586.8 169.3,586.7 169.4,586.8 169.5,586.7 169.6,586.5 169.7,586.7 169.8,586.9 170,586.3 170.1,586.6 170.2,586.9 170.3,586.9 170.4,586.9 170.5,586.8 170.6,586.3 170.8,586.7 170.9,586.7 171,586.6 171.1,586.5 171.2,586.6 171.3,586.4 171.4,586.1 171.6,585.7 171.7,586.4 171.7,586 171.8,585.9 171.9,585.4 172,584.6 172.1,583.9 172.2,583.2 172.3,582.6 172.5,582.3 172.5,582.1 172.6,582.6 172.7,586.1 172.8,588.9 172.8,589.3 172.9,588.8 173,587.8 173.1,587.1 173.2,587 173.3,586.9 173.4,587 173.5,586.6 173.6,586.7 173.6,588.7 173.7,609.2 173.8,633.3 173.9,640.2 173.9,638.2 174.1,614.6 174.2,585.2 174.3,575.7 174.3,577.7 174.4,606.9 174.5,635.6 174.5,637.1 174.6,632 174.7,614 174.8,588.7 175,562.5 175.1,541.6 175.2,532.4 175.2,532.5 175.3,542.5 175.4,554 175.4,553.9 175.5,544.4 175.6,535.4 175.6,535.4 175.8,540.2 175.9,545.3 175.9,545.8 176,543.7 176.1,540 176.1,539.3 176.2,539.1 176.3,539.5 176.4,539.8 176.6,540.6 176.7,541.2 176.8,541.9 176.9,542.8 177,543.8 177.1,545.1 177.2,546.6 177.3,548.2 177.5,549.8 177.6,551.6 177.7,553.4 177.8,555.1 177.9,556.9 178,559 178.1,561 178.3,563.1 178.4,565.1 178.5,567.3 178.6,569.8 178.7,571.8 178.8,573.9 178.9,576 179.1,577.9 179.2,580.2 179.3,582.2 179.4,584.3 179.5,586.3 179.6,588.7 179.7,590.5 179.8,592.5 180,594.5 180.1,596.4 180.2,597.9 180.3,599.5 180.4,601.4 180.5,602.8 180.6,603.8 180.8,605 180.9,606.2 181,606.9 181.1,607.5 181.2,608.2 181.3,608.8 181.4,608.7 181.4,608.5 181.5,608.7 181.7,608.4 181.8,608.3 181.9,608.5 182,608.5 182.1,608.1 182.2,608 182.3,607.8 182.5,608 182.6,607.2 182.7,607.4 182.8,606.9 182.9,606.6 183,606.4 183.1,606.2 183.3,606.1 183.4,605.6 183.5,605.2 183.6,605.1 183.7,603.8 183.8,603.6 183.9,603 184,602.9 184.2,602.3 184.3,601.9 184.4,601.7 184.5,601.3 184.6,600.9 184.7,600.3 184.8,600.2 185,599.6 185.1,598.9 185.2,598.7 185.3,598 185.4,597.5 185.5,596.8 185.6,596.5 185.8,596.3 185.9,595.5 186,595.1 186.1,594.3 186.2,593.8 186.3,593.5 186.4,592.9 186.5,592.3 186.7,591.8 186.8,591 186.9,590.8 187,590.4 187.1,590.3 187.2,589.9 187.3,589.4 187.5,588.4 187.6,587.7 187.7,587.5 187.8,587.4 187.9,586.7 188,586.5 188.1,585.7 188.3,585.5 188.4,585 188.5,584.7 188.6,584.6 188.7,584.1 188.8,583.9 188.9,583.3 189,583 189.2,582.7 189.3,582.7 189.4,582.1 189.5,581.8 189.6,581.8 189.7,581.5 189.8,581.5 190,581.1 190.1,580.8 190.2,580.5 190.3,580.5 190.4,580.1 190.5,580.3 190.6,579.8 190.8,580.1 190.9,580.3 191,579.4 191,579.7 191.1,580 191.2,579.8 191.3,579.8 191.4,579.7 191.5,579.9 191.7,579.8 191.8,579.9 191.9,579.8 192,579.8 192.1,580.1 192.2,580 192.3,580.5 192.5,580.5 192.6,581.1 192.7,581 192.8,580.7 192.9,581.3 193,581.1 193.1,581.2 193.2,581.6 193.4,581.5 193.5,581.7 193.6,581.9 193.7,581.6 193.8,581.7 193.9,582 194,582.1 194.2,582.1 194.3,582.2 194.4,582.2 194.5,582 194.6,582.3 194.7,582.8 194.8,582.9 195,583.1 195.1,583.5 195.2,583.6 195.3,583.6 195.4,584 195.5,583.8 195.6,584 195.7,584.1 195.9,584.3 196,584.1 196.1,584.5 196.2,584.7 196.3,584.9 196.4,585 196.5,585.5 196.7,585.3 196.8,584.9 196.9,585.6 197,585.4 197.1,585.5 197.2,585.8 197.3,585.9 197.5,586 197.6,586.4 197.7,586.2 197.8,586.6 197.9,586.6 198,586.7 198.1,586.7 198.2,586.6 198.4,586.6 198.5,587.2 198.6,586.6 198.7,586.9 198.8,586.9 198.9,587.2 199,587.2 199.1,587.1 199.2,587 199.3,587.5 199.4,587 199.5,586.9 199.6,587.4 199.7,587.2 199.8,587.4 200,587.7 200.1,587.4 200.2,587.9 200.3,587.6 200.4,587.5 200.5,587.9 200.6,588 200.7,587.8 200.9,588 201,587.4 201.1,587.8 201.2,587.4 201.3,587.8 201.4,587.3 201.5,587.1 201.7,587.2 201.8,587 201.9,587 202,587 202.1,586.5 202.2,586.8 202.3,586.8 202.5,586.5 202.6,586.7 202.7,586.3 202.8,586.7 202.9,586.8 203,586.5 203.1,586.4 203.2,586.7 203.4,586.8 203.5,586.6 203.6,586.6 203.7,586.7 203.8,586.4 203.9,586.4 204,586.5 204.2,586.5 204.3,586.2 204.4,586.3 204.5,586.1 204.6,586.2 204.7,586.2 204.8,586.3 204.9,586 205.1,585.6 205.2,586.1 205.3,586 205.4,585.5 205.5,585.7 205.6,586 205.7,585.7 205.9,585.7 206,585.9 206.1,585.8 206.2,586 206.3,586.2 206.4,586 206.5,586 206.7,586.4 206.8,586.3 206.9,586 207,585.9 207.1,586.2 207.2,585.9 207.3,585.7 207.3,585.6 207.4,585.7 207.6,585.3 207.7,585.4 207.8,585.2 207.9,584.9 208,585.2 208.1,585 208.2,584.8 208.4,585.1 208.5,585.4 208.6,585.3 208.7,585.1 208.8,585.6 208.9,585.5 209,585.5 209.2,585.6 209.3,585.7 209.4,585.8 209.5,585.7 209.6,585.9 209.7,586 209.8,586.1 209.9,586.5 210.1,586.2 210.2,585.7 210.3,585.9 210.4,586.1 210.5,586.1 210.6,586.1 210.7,586 210.9,585.8 211,586.1 211.1,586.1 211.2,585.9 211.3,586 211.4,585.8 211.5,585.8 211.7,585.4 211.8,585.4 211.9,585.1 212,585.7 212.1,585.8 212.2,585.8 212.3,586 212.4,585.8 212.6,585.8 212.7,585.7 212.8,585.9 212.9,585.8 213,585.9 213.1,585.9 213.2,586.4 213.4,586.1 213.5,586.1 213.6,586 213.7,586.1 213.8,585.8 213.9,585.9 214,585.7 214.2,585.8 214.3,585.8 214.4,585.5 214.5,585.6 214.6,585.6 214.7,585.6 214.8,585.6 214.9,585.6 215.1,585.7 215.2,585.7 215.3,585.7 215.4,585.6 215.5,585.8 215.6,585.4 215.7,585.7 215.9,585.7 216,585.5 216.1,586 216.2,586.2 216.3,586.2 216.4,586 216.5,585.8 216.6,585.9 216.8,586 216.9,586.4 217,585.9 217.1,586 217.2,585.9 217.3,586 217.4,586.1 217.6,586.1 217.7,586.2 217.8,586.2 217.9,586.1 218,585.7 218.1,585.9 218.2,585.8 218.4,585.8 218.5,585.6 218.6,586 218.7,585.6 218.8,585.7 218.9,585.8 219,585.4 219.1,585.2 219.3,585.3 219.4,585.2 219.5,585.2 219.6,584.9 219.7,585 219.8,585.1 219.9,585 219.9,585.3 220.1,585.3 220.2,585.4 220.3,585.2 220.4,585.3 220.5,585.7 220.6,585.2 220.7,585.4 220.9,585.5 221,585.9 221.1,585.4 221.2,585.4 221.3,585.6 221.4,585.5 221.5,585.9 221.6,585.1 221.8,585.3 221.9,585 222,585.5 222.1,584.9 222.2,585 222.3,585 222.4,585.2 222.6,585.2 222.7,584.7 222.8,585.3 222.9,585.3 223,585.5 223.1,585.6 223.2,585.4 223.4,585.6 223.5,586.1 223.6,586.2 223.7,585.7 223.8,585.8 223.9,586 224,586.1 224.1,586.3 224.3,586.3 224.4,586.6 224.5,586.7 224.6,586.4 224.7,586.4 224.8,586 224.9,586.2 225.1,586.4 225.2,585.9 225.3,585.6 225.4,585.7 225.5,586 225.6,585.8 225.7,585.5 225.9,585.9 226,585.7 226.1,585.4 226.2,585.5 226.3,585.5 226.4,585.5 226.5,585.5 226.6,585.4 226.8,585.3 226.9,585.4 227,585.4 227.1,585.8 227.2,585.3 227.3,585.1 227.4,585.2 227.6,585.3 227.7,585.4 227.8,585.6 227.9,585.2 228,585.6 228.1,585.9 228.2,585.5 228.3,585.6 228.5,585.5 228.6,585.6 228.7,585.8 228.8,585.7 228.9,585.8 229,585.5 229.1,586 229.3,585.4 229.4,585.6 229.5,585.4 229.6,585.3 229.7,585.3 229.8,585.4 229.9,584.7 230.1,585.2 230.2,585.3 230.3,585.2 230.4,584.9 230.5,585.1 230.6,584.6 230.7,585 230.8,584.8 231,585 231.1,585.1 231.2,585 231.3,585.1 231.4,585.5 231.5,585.2 231.6,585.6 231.8,585.5 231.9,585.1 232,585.4 232.1,585.1 232.2,585.4 232.3,585.9 232.4,586.2 232.6,585.9 232.7,585.8 232.8,586.1 232.9,585.8 233,586 233.1,585.5 233.2,585.5 233.3,585.6 233.5,585.8 233.6,586.1 233.7,585.7 233.8,585.9 233.9,586 234,585.9 234.1,585.8 234.3,585.6 234.4,585.9 234.5,585.5 234.6,585.2 234.7,585.2 234.8,585.1 234.9,585.5 235.1,585.6"/>
<rect class="ax" x="30.7" y="525.2" width="220.75" height="121.05"/>
<path class="tc" d="M62.24,646.25v-1.9M62.24,525.2v1.9M93.77,646.25v-1.9M93.77,525.2v1.9M125.31,646.25v-1.9M125.31,525.2v1.9M156.84,646.25v-1.9M156.84,525.2v1.9M188.38,646.25v-1.9M188.38,525.2v1.9M219.91,646.25v-1.9M219.91,525.2v1.9M30.7,585.73h1.9M251.45,585.73h-1.9"/>
<text class="tk" x="30.7" y="659" text-anchor="middle">0</text>
<text class="tk" x="62.2" y="659" text-anchor="middle">1</text>
<text class="tk" x="93.8" y="659" text-anchor="middle">2</text>
<text class="tk" x="125.3" y="659" text-anchor="middle">3</text>
<text class="tk" x="156.8" y="659" text-anchor="middle">4</text>
<text class="tk" x="188.4" y="659" text-anchor="middle">5</text>
<text class="tk" x="219.9" y="659" text-anchor="middle">6</text>
<text class="tk" x="251.4" y="659" text-anchor="middle">7</text>
<text class="tk" x="27.3" y="529" text-anchor="end">5</text>
<text class="tk" x="27.3" y="589" text-anchor="end">0</text>
<text class="tk" x="27.3" y="651" text-anchor="end">-5</text>
<text class="lb" x="141.5" y="672" text-anchor="middle">Time(s)</text>
<text class="lb" transform="translate(14.8,585.4) rotate(-90)" text-anchor="middle">Amplitude(mV)</text>
<text class="pl" x="5.1" y="537">G</text>
</g>
<g id="panelH">
<polyline class="ln" stroke-width="0.6" points="321.5,586.5 321.6,586.5 321.6,586.5 321.7,586.1 321.7,586.9 321.8,586 321.8,586.3 321.9,585.5 322,585.4 322,585.2 322.1,585.3 322.1,585.7 322.2,585.2 322.2,585 322.3,585.8 322.4,585.2 322.4,585.5 322.5,584.9 322.5,585.8 322.6,585.6 322.6,585.3 322.7,585.4 322.8,586.1 322.8,585.4 322.9,585.6 322.9,585.6 323,585.7 323,585.4 323.1,586.3 323.1,585 323.2,585.9 323.3,586.4 323.3,585.5 323.4,584.9 323.4,585.6 323.5,584.8 323.5,584.8 323.6,585.7 323.7,586.3 323.7,585.8 323.8,585 323.8,585.8 323.9,586.1 323.9,586 324,585.6 324.1,585.7 324.1,585.4 324.2,585.3 324.2,586 324.3,585.7 324.3,586.1 324.4,585.7 324.5,586.1 324.5,586.1 324.6,584.9 324.6,585.6 324.7,585.4 324.7,584.7 324.8,585.3 324.9,585.7 324.9,585.6 325,586 325,585.2 325.1,585.7 325.1,585 325.2,585.8 325.3,585.8 325.3,585.9 325.4,585.5 325.4,585.8 325.5,585.3 325.5,585.9 325.6,585.6 325.6,585 325.7,585.8 325.8,585.5 325.8,585 325.9,585.3 325.9,585.8 326,586.4 326,584.6 326.1,585.4 326.2,585.1 326.2,585.9 326.3,584.9 326.3,585.5 326.4,585.5 326.4,585.8 326.5,585.5 326.6,585.8 326.6,585.8 326.7,586.3 326.7,585.8 326.8,585.7 326.8,586.2 326.9,585.7 327,585.5 327,585.9 327.1,585.9 327.1,586 327.2,585.5 327.2,586.5 327.3,586 327.4,586.1 327.4,585.8 327.5,585.8 327.5,586.4 327.6,585.2 327.6,585.8 327.7,586.4 327.8,586.2 327.8,585.8 327.9,585.5 327.9,586.2 328,585.4 328,586.2 328.1,586.1 328.1,585.4 328.2,585 328.3,585.6 328.3,585.7 328.4,585.2 328.4,586.1 328.5,585.5 328.5,585.5 328.6,585.1 328.7,585.2 328.7,585.5 328.8,585.1 328.8,585.7 328.9,584.8 328.9,585.5 329,585.6 329.1,585.2 329.1,585 329.2,584.9 329.2,585.1 329.3,584.7 329.3,584.7 329.4,585.1 329.5,585.5 329.5,585 329.6,585.2 329.6,586.2 329.7,585.8 329.7,585.3 329.8,585.8 329.9,585.6 329.9,586.1 330,585.3 330,585.3 330.1,585.4 330.1,584.7 330.2,585.5 330.3,585.5 330.3,584.7 330.4,586 330.4,585.3 330.5,586 330.5,585.4 330.6,584.7 330.6,585.4 330.7,585.8 330.8,584.7 330.8,585.9 330.9,585.7 330.9,585.4 331,586.2 331,585.2 331.1,584.9 331.2,585.1 331.2,585.1 331.3,585.4 331.3,585 331.4,586.6 331.4,585.4 331.5,585.3 331.6,586.2 331.6,585.2 331.7,585.3 331.7,585.3 331.8,585.2 331.8,585 331.9,585 332,585.6 332,585.2 332.1,585.3 332.1,585.2 332.2,585.5 332.2,584.9 332.3,584.7 332.4,584.6 332.4,584.5 332.5,584.6 332.5,585.3 332.6,585.5 332.6,585.5 332.7,585 332.8,585.3 332.8,584.8 332.9,584.7 332.9,585.4 333,584.8 333,585.3 333.1,585.7 333.1,585.7 333.2,585.1 333.3,585.7 333.3,584.8 333.4,584.4 333.4,585.4 333.5,585 333.5,584.4 333.6,584.9 333.7,585 333.7,585.3 333.8,584.8 333.8,585.1 333.9,585.4 333.9,585.9 334,586 334.1,584.7 334.1,585.1 334.2,584.4 334.2,584.8 334.3,585.4 334.3,584.9 334.4,584.5 334.5,585.3 334.5,585.3 334.6,584.5 334.6,585.9 334.7,585.5 334.7,584.7 334.8,585 334.9,585.5 334.9,585.8 335,585 335,584.8 335.1,585 335.1,585.2 335.2,584.8 335.3,585.3 335.3,585.7 335.4,584.6 335.4,585.8 335.5,585.3 335.5,585.3 335.6,584.8 335.6,585.7 335.7,585.5 335.8,586.1 335.8,585.2 335.9,585.2 335.9,585.2 336,585.7 336,585.3 336.1,585.8 336.2,585.6 336.2,585.5 336.3,584.9 336.3,585.6 336.4,585.5 336.4,585.8 336.5,585.8 336.6,585.8 336.6,585.6 336.7,585.3 336.7,586.1 336.8,585.5 336.8,586.1 336.9,585.5 337,585.9 337,585.8 337.1,585.8 337.1,585.3 337.2,585.6 337.2,585.2 337.3,585.7 337.3,585.7 337.4,585.1 337.4,586.4 337.5,586.1 337.5,585.9 337.6,585 337.6,586.1 337.7,585.4 337.8,585 337.8,585.8 337.9,585.6 337.9,584.9 338,585.8 338,585.9 338.1,585.3 338.1,585.8 338.2,585.2 338.3,585.5 338.3,586.3 338.4,585.4 338.4,585.4 338.5,585.8 338.5,585.1 338.6,586.3 338.7,586 338.7,585.8 338.8,585.2 338.8,586.2 338.9,585.8 338.9,586 339,586.2 339.1,585.7 339.1,586 339.2,585.8 339.2,585.6 339.3,586.1 339.3,586.1 339.4,586.2 339.5,586.2 339.5,586.4 339.6,586.3 339.6,585.9 339.7,586.3 339.7,584.6 339.8,586.2 339.9,585.7 339.9,586.3 340,585.9 340,586 340.1,586 340.1,585.4 340.2,585.9 340.3,586.3 340.3,585.7 340.4,586.1 340.4,585.9 340.5,585.2 340.5,585.5 340.6,585.5 340.6,585.6 340.7,585.8 340.8,586.4 340.8,585.9 340.9,586 340.9,585.4 341,585.4 341,585.5 341.1,586 341.2,584.9 341.2,585.1 341.3,585.7 341.3,585.4 341.4,585.2 341.4,585.3 341.5,585.4 341.6,585.1 341.6,585.4 341.7,585.3 341.7,586 341.8,585.9 341.8,584.7 341.9,586 342,585.3 342,585.4 342.1,585.4 342.1,585.7 342.2,585.1 342.2,585.3 342.3,585.5 342.4,585.9 342.4,585.5 342.5,585.7 342.5,585.9 342.6,585.2 342.6,585.2 342.7,585.1 342.8,585.4 342.8,585.6 342.9,585.1 342.9,585.3 343,584.8 343,585.7 343.1,586.3 343.1,585.6 343.2,585 343.3,585.8 343.3,585.9 343.4,586 343.4,585 343.5,585.7 343.5,585.7 343.6,585.5 343.7,586.2 343.7,585.7 343.8,586.2 343.8,585.7 343.9,585.3 343.9,585.2 344,585.8 344.1,585.4 344.1,585.8 344.2,586.3 344.2,585.5 344.3,585.7 344.3,585.5 344.4,586.6 344.5,585.4 344.5,585.4 344.6,585.4 344.6,585.1 344.7,585.6 344.7,584.6 344.8,585.1 344.9,585.1 344.9,586.3 345,586.2 345,584.8 345.1,585.3 345.1,585.1 345.2,585.7 345.3,585.6 345.3,585.3 345.4,585.8 345.4,585 345.5,585.9 345.5,585.5 345.6,585.6 345.6,585.3 345.7,585 345.8,585.8 345.8,585.3 345.9,585.4 345.9,585.1 346,585.4 346,585.6 346.1,585.2 346.2,584.9 346.2,585.1 346.3,585.3 346.3,585.2 346.4,586 346.4,585.6 346.5,585.5 346.6,585.7 346.6,585.7 346.7,585.4 346.7,585.3 346.8,584.6 346.8,585.7 346.9,585.8 347,585 347,585.4 347.1,585.8 347.1,584.9 347.2,585.7 347.2,585.7 347.3,585.9 347.4,586.1 347.4,585.6 347.5,586.1 347.5,584.7 347.6,585.6 347.6,585.8 347.7,586.1 347.8,585.7 347.8,585.5 347.9,585.7 347.9,586.2 348,585.9 348,586.5 348.1,585.3 348.1,585.5 348.2,585.6 348.3,585.6 348.3,586 348.4,585.9 348.4,585.6 348.5,585.9 348.5,585.7 348.6,585.9 348.7,585.8 348.7,585.7 348.8,585.4 348.8,586 348.9,585.5 348.9,586 349,586 349.1,586.1 349.1,585.5 349.2,585.9 349.2,585.4 349.3,586.3 349.3,585.8 349.4,586.4 349.5,585.5 349.5,586.2 349.6,585.8 349.6,586.2 349.7,586.2 349.7,585.8 349.8,586.5 349.9,586.3 349.9,585.3 350,586.3 350,585.6 350.1,586.2 350.1,586.5 350.2,585.9 350.3,585.4 350.3,585.7 350.4,585.9 350.4,585.5 350.5,586.2 350.5,585.5 350.6,585.8 350.6,586.3 350.7,585.6 350.8,585.5 350.8,586.1 350.9,586 350.9,586.1 351,586.4 351,585.6 351.1,586.3 351.2,585.8 351.2,586.2 351.3,586.3 351.3,585.6 351.4,585.8 351.4,585.2 351.5,585.9 351.6,585.7 351.6,585.8 351.7,585.8 351.7,585.1 351.8,585 351.8,585.3 351.9,586 352,585.5 352,585.7 352.1,585.8 352.1,586.3 352.2,585.4 352.2,585.3 352.3,585.6 352.4,585.6 352.4,585 352.5,585 352.5,585.6 352.6,586.8 352.6,585.4 352.7,585.6 352.8,585.4 352.8,585.8 352.9,586 352.9,585.4 353,585.8 353,585.7 353.1,585.6 353.1,585.6 353.1,586.3 353.2,585.5 353.3,586 353.3,585.9 353.4,585.6 353.4,586.4 353.5,585.9 353.5,586.6 353.6,586 353.7,585.8 353.7,586.1 353.8,586.1 353.8,585.7 353.9,586.2 353.9,586.7 354,585.5 354.1,585.8 354.1,585.5 354.2,586 354.2,586 354.3,586.1 354.3,586.6 354.4,586.1 354.5,586.1 354.5,585.3 354.6,586.6 354.6,585.8 354.7,585.8 354.7,585.9 354.8,585.9 354.9,585.9 354.9,585.7 355,586.7 355,585.8 355.1,586.3 355.1,586.7 355.2,587.1 355.3,587.1 355.3,586.4 355.4,586.8 355.4,586.6 355.5,586.4 355.5,586.1 355.6,586.3 355.6,586.5 355.7,586.3 355.8,586.2 355.8,586.6 355.9,585.8 355.9,585.6 356,585.6 356,586.3 356.1,586.3 356.2,586.5 356.2,585.7 356.3,586.5 356.3,585.5 356.4,587.1 356.4,586.2 356.5,586.1 356.6,586.2 356.6,585.8 356.7,585.3 356.7,585.9 356.8,585.7 356.8,586.2 356.9,586.4 357,586.4 357,585.6 357.1,585.9 357.1,586.6 357.2,586 357.2,585.9 357.3,585.8 357.4,585.6 357.4,586.7 357.5,586.5 357.5,586.5 357.6,586.1 357.6,585.8 357.7,586.4 357.8,586.1 357.8,585.9 357.9,586.5 357.9,586 358,586.2 358,585.6 358.1,585.7 358.1,586.4 358.2,586.5 358.3,585.5 358.3,586.7 358.4,585.9 358.4,586.6 358.5,586.8 358.5,585.5 358.6,586.1 358.7,586.6 358.7,586.2 358.8,586.4 358.8,586.5 358.9,586.1 358.9,585.7 359,586.8 359.1,586.1 359.1,586.7 359.2,586.1 359.2,586.7 359.3,586.6 359.3,586.3 359.4,585.7 359.5,585.7 359.5,586.1 359.6,586.1 359.6,585.8 359.7,584.9 359.7,585.7 359.8,585.9 359.9,586 359.9,586 360,585.7 360,585.6 360.1,586.7 360.1,584.9 360.2,585.6 360.3,585.9 360.3,584.9 360.4,586.5 360.4,586.5 360.5,585.5 360.5,585.8 360.6,585.5 360.6,585.3 360.7,585.1 360.8,585.5 360.8,586 360.9,586.4 360.9,585.8 361,586.4 361,585.7 361.1,586.1 361.2,585.6 361.2,585.4 361.3,585.7 361.3,586.3 361.4,585.7 361.4,586 361.5,585.6 361.6,585.9 361.6,584.8 361.7,585.9 361.7,586.5 361.8,586.1 361.8,585.7 361.9,584.6 362,585.1 362,585.8 362.1,585.5 362.1,586 362.2,586.2 362.2,585.3 362.3,585.6 362.4,585.9 362.4,585.8 362.5,585.3 362.5,585.2 362.6,585.8 362.6,586.1 362.7,585.2 362.8,585.8 362.8,586.2 362.9,585.6 362.9,585.6 363,585.2 363,585.7 363.1,585.3 363.1,585.9 363.2,585.2 363.3,585.9 363.3,585.1 363.4,585.3 363.4,586 363.5,585.6 363.5,584.8 363.6,585.9 363.7,586.1 363.7,585.6 363.8,585.3 363.8,585 363.9,585.4 363.9,585.6 364,585.5 364.1,585.3 364.1,585.7 364.2,585.4 364.2,586.5 364.3,585.8 364.3,585.7 364.4,585.2 364.5,585.4 364.5,585.6 364.6,585.2 364.6,585.4 364.7,584.3 364.7,585.9 364.8,585.6 364.9,584.9 364.9,585.4 365,585.6 365,585.3 365.1,586 365.1,585.7 365.2,585.6 365.3,584.9 365.3,585.6 365.4,584.9 365.4,585.7 365.5,585.6 365.5,586.4 365.6,585.4 365.6,586.5 365.7,585.4 365.8,585.1 365.8,585.4 365.9,585.9 365.9,585.6 366,586.5 366,585.8 366.1,585.4 366.2,585.5 366.2,585.6 366.3,584.9 366.3,585.4 366.4,585.6 366.4,585.4 366.5,585.9 366.6,585.6 366.6,586.2 366.7,586.5 366.7,585.6 366.8,585 366.8,585.8 366.9,585.3 367,586.2 367,585.5 367.1,585.4 367.1,585.4 367.2,585.9 367.2,585.3 367.3,585.1 367.4,585.2 367.4,584.6 367.5,585.7 367.5,585.4 367.6,585.1 367.6,586 367.7,585.9 367.8,585.1 367.8,585.7 367.9,585.9 367.9,585.4 368,586.2 368,585.6 368.1,586.1 368.1,585.9 368.2,586.6 368.3,585.5 368.3,585.5 368.4,585.6 368.4,585.8 368.5,585.5 368.5,584.9 368.6,585.1 368.7,585.8 368.7,585.4 368.8,585.6 368.8,585.4 368.8,585.9 368.9,584.9 368.9,585.9 369,585.9 369.1,585.3 369.1,584.8 369.2,586.1 369.2,585.4 369.3,585.2 369.3,584.3 369.4,585.9 369.5,584.8 369.5,585.5 369.6,585.3 369.6,584.7 369.7,585.1 369.7,585.6 369.8,585.2 369.9,585.4 369.9,585.3 370,585.7 370,585.7 370.1,585.6 370.1,585.4 370.2,585.6 370.3,585.3 370.3,585.2 370.4,585.4 370.4,585.8 370.5,586.1 370.5,585.9 370.6,585.8 370.6,585.7 370.7,585.3 370.8,585.7 370.8,586.1 370.9,586.4 370.9,585.9 371,586 371,586.3 371.1,586.6 371.2,586.1 371.2,585.9 371.3,585.9 371.3,586.6 371.4,586.3 371.4,586.2 371.5,586.5 371.6,586 371.6,586.1 371.7,585.5 371.7,586.1 371.8,585 371.8,585.3 371.9,585.5 372,585.6 372,585 372.1,585.7 372.1,585.4 372.2,585.5 372.2,584.8 372.3,585.5 372.4,585.4 372.4,586.3 372.5,585.2 372.5,585.3 372.6,584.9 372.6,585.6 372.7,585.3 372.8,584.5 372.8,585.3 372.9,584.9 372.9,584.7 373,585.1 373,585.1 373.1,584.6 373.1,585.3 373.2,584.9 373.3,585.3 373.3,585.7 373.4,585.3 373.4,584.9 373.5,585.6 373.5,585.8 373.6,585.7 373.7,585.8 373.7,585.5 373.8,586.1 373.8,585.4 373.9,585.7 373.9,585.5 374,586.1 374.1,585.6 374.1,586.3 374.2,585.5 374.2,585.9 374.3,586.2 374.3,585.5 374.4,585.2 374.5,585 374.5,585.7 374.6,585.8 374.6,585 374.7,586 374.7,585.5 374.8,586.2 374.9,585.4 374.9,585.4 375,585.7 375,585.1 375.1,585.5 375.1,585.3 375.2,585.2 375.3,585.6 375.3,586.4 375.4,585.5 375.4,585.2 375.5,585.7 375.5,585.2 375.6,585.9 375.6,585 375.7,585 375.8,585.1 375.8,585.6 375.9,585.3 375.9,586 376,585.9 376,585.5 376.1,586.2 376.2,586 376.2,585.9 376.3,585.6 376.3,586.3 376.4,586.3 376.4,586.3 376.5,586.6 376.6,586 376.6,586.8 376.7,586.3 376.7,585.4 376.8,585.9 376.8,586.8 376.9,586.4 377,585.3 377,586 377.1,585.4 377.1,586.3 377.2,587.1 377.2,586.2 377.3,586.4 377.4,586.3 377.4,586.8 377.5,586.8 377.5,586.5 377.6,586.7 377.6,585.9 377.7,585.7 377.8,586.1 377.8,585.6 377.9,586.2 377.9,586 378,586.4 378,585.4 378.1,586 378.1,585.3 378.2,585.4 378.3,585.5 378.3,585.6 378.4,586 378.4,585.4 378.5,585.5 378.5,585.1 378.6,585.4 378.7,586 378.7,586 378.8,585.1 378.8,584.8 378.9,585.4 378.9,585.2 379,585.1 379.1,585.1 379.1,585.1 379.2,585.3 379.2,585.2 379.3,585.5 379.3,585.4 379.4,585 379.5,585.2 379.5,585.5 379.6,585.2 379.6,585.8 379.7,585.8 379.7,585.9 379.8,585.4 379.9,585.1 379.9,585.5 380,585.8 380,585.3 380.1,585.5 380.1,586.2 380.2,585.3 380.3,585.5 380.3,585.8 380.4,585.8 380.4,585.8 380.5,585.9 380.5,585.6 380.6,586 380.6,585.9 380.7,585.7 380.8,586.5 380.8,586.1 380.9,586.3 380.9,586.1 381,586.1 381,585.9 381.1,585.9 381.2,586.5 381.2,586 381.3,586.8 381.3,585.7 381.4,586 381.4,585.7 381.5,586.8 381.5,585.6 381.6,586.3 381.6,586 381.7,586.1 381.7,586.1 381.8,586.3 381.8,586.8 381.9,585.5 382,585.3 382,586.2 382.1,585.5 382.1,585.7 382.2,585.9 382.2,586.2 382.3,585.9 382.4,586.3 382.4,586.2 382.5,586.2 382.5,586.3 382.6,586.2 382.6,585.7 382.7,585.7 382.8,586.3 382.8,586 382.9,586 382.9,586.5 383,585.5 383,586.5 383.1,585.6 383.1,587 383.2,586.4 383.3,585.8 383.3,585.9 383.4,585.9 383.4,586.2 383.5,585.4 383.5,586.2 383.6,586.1 383.7,586.6 383.7,586.8 383.8,585.9 383.8,585.9 383.9,587.1 383.9,586.7 384,586 384,586.4 384.1,586.1 384.1,587.2 384.2,586.5 384.2,586.8 384.3,586.9 384.3,587.3 384.4,587.2 384.5,586.8 384.5,588 384.6,587.9 384.6,588.2 384.7,588.3 384.7,588 384.8,588.2 384.9,589.1 384.9,588.9 385,589.6 385,589.3 385.1,589.5 385.1,589 385.2,589.5 385.2,590.1 385.3,590.3 385.3,590.1 385.4,588.7 385.4,589.9 385.5,590 385.5,589.6 385.6,589.4 385.6,588.9 385.7,589.1 385.8,588.1 385.8,588.4 385.9,588 385.9,587.5 386,587.7 386,587.5 386.1,587.1 386.2,587.2 386.2,586.8 386.3,586.2 386.3,586.4 386.4,586 386.4,585.3 386.5,585.2 386.6,585 386.6,585.2 386.7,584 386.7,584.5 386.8,584.3 386.8,584.1 386.9,584.1 387,583.7 387,582.7 387.1,584 387.1,582.4 387.2,583.5 387.2,583.4 387.3,582.5 387.3,582.2 387.4,583.2 387.4,582.7 387.5,583.4 387.5,583.4 387.6,583.6 387.6,583.3 387.7,583.5 387.8,583.2 387.8,583.5 387.9,583.5 387.9,583.4 388,583.7 388,583.5 388.1,583.8 388.1,583.1 388.2,583 388.3,583.5 388.3,583.5 388.4,583.6 388.4,583.6 388.5,583.4 388.5,584.2 388.6,584.1 388.7,583.6 388.7,583.3 388.8,583.9 388.8,583.3 388.9,583.4 388.9,583.7 389,583 389.1,584 389.1,583.9 389.2,584.4 389.2,584.2 389.3,583.8 389.3,583.7 389.4,584 389.5,584 389.5,583.9 389.6,583.6 389.6,584.4 389.7,583.5 389.7,584.3 389.8,583.8 389.9,583.8 389.9,584.7 390,583.8 390,584.3 390.1,584.5 390.1,583.7 390.2,585 390.3,585 390.3,584.4 390.4,584.3 390.4,584.7 390.5,584.5 390.5,585.6 390.6,584.4 390.6,584.7 390.7,585.2 390.8,585.4 390.8,584.6 390.9,584.6 390.9,585.1 390.9,584.8 391,584.9 391,584.6 391.1,585.3 391.2,584.6 391.2,585.1 391.3,585.3 391.3,585.2 391.4,585.7 391.4,586.1 391.5,586.2 391.6,585.2 391.6,586.3 391.7,585.3 391.7,586 391.8,585.4 391.8,586.1 391.9,585.6 392,585.7 392,585.6 392.1,586 392.1,585.7 392.2,585.2 392.2,586.4 392.3,585.5 392.4,586.4 392.4,585.6 392.5,586.3 392.5,585.7 392.6,586.3 392.6,586.3 392.7,585.8 392.8,586.3 392.8,586.5 392.9,586.1 392.9,585.8 393,586 393,587 393.1,586.1 393.1,586.1 393.2,586 393.3,585.9 393.3,586 393.4,586.2 393.4,585.6 393.5,586.4 393.5,586.6 393.6,586.9 393.7,586.6 393.7,586.2 393.8,586.5 393.8,586 393.9,586.6 393.9,586.8 394,586.1 394.1,586.7 394.1,586.2 394.2,587.3 394.2,587 394.3,586.9 394.3,587.1 394.4,586.6 394.5,586.7 394.5,586.6 394.6,587.1 394.6,587.1 394.7,587.1 394.7,586.4 394.8,587.1 394.9,586.6 394.9,587.3 395,587.5 395,586.8 395.1,586.6 395.1,587.6 395.2,587.2 395.3,586.9 395.3,587.3 395.3,587.3 395.4,586.8 395.4,587 395.5,587 395.5,587.3 395.6,587.1 395.6,587.4 395.7,586.7 395.8,588.5 395.8,587.3 395.9,587 395.9,587.5 396,586.9 396,587.3 396.1,586.8 396.2,586.3 396.2,587 396.3,586 396.3,586.8 396.4,587.8 396.4,587 396.5,586.9 396.6,586.9 396.6,587 396.7,586.9 396.7,587 396.8,586.3 396.8,586.7 396.9,586.8 397,586 397,587.3 397.1,587.5 397.1,587.1 397.2,587.9 397.2,586.7 397.3,587 397.4,586 397.4,587.2 397.5,587.3 397.5,586.7 397.6,586.7 397.6,586.7 397.7,587.1 397.8,587.1 397.8,586.6 397.9,587 397.9,586.7 398,586.5 398,587.1 398.1,586.7 398.1,587.6 398.2,586.1 398.3,586.1 398.3,586.5 398.4,586.7 398.4,586.6 398.5,586.5 398.5,586.6 398.6,586.9 398.7,586.4 398.7,586 398.8,587.2 398.8,586.6 398.9,586.6 398.9,586.7 399,586.2 399.1,587 399.1,586.2 399.2,585.8 399.2,585.7 399.3,585.8 399.3,585.9 399.4,585.7 399.5,586 399.5,585.8 399.6,585.6 399.6,585.3 399.7,585.6 399.7,585.6 399.8,586.5 399.9,585.8 399.9,585.9 400,586.1 400,586.3 400.1,585.7 400.1,585.9 400.2,586 400.3,586.3 400.3,586.2 400.4,586.1 400.4,585.7 400.5,585 400.5,585.6 400.6,586.6 400.6,585.7 400.7,585.6 400.8,586.3 400.8,586.4 400.9,585.7 400.9,585.5 401,585.6 401,585.2 401.1,585.9 401.2,586 401.2,586.4 401.3,585.6 401.3,585.8 401.4,585.6 401.4,586.7 401.5,586.4 401.6,585.6 401.6,585.5 401.7,585.9 401.7,585.7 401.8,585.3 401.8,585.8 401.9,585.6 402,586 402,585.7 402,585.2 402.1,586.3 402.1,585.9 402.2,586.5 402.2,585.4 402.3,585.4 402.4,584.4 402.4,585.5 402.5,585.3 402.5,585 402.6,585.1 402.6,585.4 402.7,584.8 402.8,586.3 402.8,584.9 402.9,585.3 402.9,585.4 403,585.5 403,584.8 403.1,585.4 403.1,584.9 403.2,584.3 403.3,585.2 403.3,584.9 403.4,585.2 403.4,585.5 403.5,584.8 403.5,584.5 403.6,585.1 403.7,584.9 403.7,585.1 403.8,585.2 403.8,584.6 403.9,585.7 403.9,584.4 404,585.2 404.1,584.2 404.1,584.8 404.2,584.9 404.2,585.5 404.3,585.4 404.3,584.6 404.4,585.1 404.5,584.5 404.5,585.3 404.6,584.4 404.6,584.9 404.7,584.6 404.7,585.3 404.8,585 404.9,584.7 404.9,584.8 405,585.2 405,584.8 405.1,585.4 405.1,584 405.2,584.4 405.3,584.8 405.3,584.9 405.4,585.1 405.4,584.7 405.5,585.8 405.5,584.7 405.6,584 405.6,585.4 405.7,584.5 405.8,584.7 405.8,584.5 405.9,584.9 405.9,584.1 406,585 406,584.1 406.1,584 406.2,584.3 406.2,584.1 406.3,585 406.3,584.4 406.4,585.2 406.4,583.8 406.5,583.7 406.6,584.6 406.6,584 406.7,584 406.7,584.6 406.8,584 406.8,583.8 406.9,583.6 407,583.8 407,583.4 407.1,583 407.1,583.2 407.2,583.8 407.2,583.3 407.3,582.8 407.4,582.4 407.4,583.1 407.5,582.8 407.5,582.9 407.6,582.5 407.6,583 407.7,582.8 407.8,583.5 407.8,583.4 407.9,583.9 407.9,583.5 408,583.1 408,582.9 408.1,582.9 408.1,583.2 408.1,582.7 408.2,584 408.3,583.5 408.3,583 408.4,583.5 408.4,583.7 408.5,583.4 408.5,584.1 408.6,584.1 408.7,584 408.7,583.2 408.8,584.6 408.8,584.5 408.9,583.6 408.9,584.4 409,584.7 409.1,585.4 409.1,584.8 409.2,584.9 409.2,584.6 409.3,585.4 409.3,585.4 409.4,585.1 409.5,585.8 409.5,584.9 409.6,585.7 409.6,585.6 409.7,586.1 409.7,585.3 409.8,586.2 409.9,585.6 409.9,586.3 410,586.1 410,586.7 410.1,586.1 410.1,585.8 410.2,586.7 410.2,585.9 410.3,586.8 410.3,587.3 410.4,587 410.4,587.3 410.5,587.3 410.5,587.6 410.6,588.3 410.6,587.5 410.7,588 410.8,588.4 410.8,588.3 410.9,589.3 410.9,589.1 411,588.8 411,588.7 411.1,589.2 411.1,589 411.2,590.1 411.2,589.3 411.3,589 411.3,588.8 411.4,589.8 411.4,588.6 411.5,588.1 411.6,588.9 411.6,589.6 411.7,588.7 411.7,588.7 411.8,589.1 411.8,588.2 411.9,588.3 412,588.5 412,588.4 412,588.4 412.1,586.9 412.1,578.2 412.2,565.1 412.2,551.2 412.3,540.3 412.4,535.8 412.4,535.8 412.4,535.8 412.5,535.6 412.5,535.8 412.6,536.1 412.6,536.7 412.7,536.5 412.8,536.9 412.8,537.1 412.8,537.2 412.9,538.1 412.9,539.6 413,541.5 413,543.5 413.1,545.8 413.1,548.1 413.2,550.7 413.3,553.1 413.3,555.3 413.4,557.5 413.4,558.1 413.4,559.5 413.5,561.4 413.5,563.5 413.6,565.6 413.7,567.6 413.7,569.8 413.8,571.9 413.8,573.9 413.9,575.9 413.9,577.8 414,579.8 414.1,581.9 414.1,583.6 414.2,584.7 414.2,585.1 414.2,586.9 414.3,588.6 414.3,590.4 414.4,592.3 414.5,594 414.5,595.7 414.6,597.2 414.6,598.9 414.7,600.3 414.7,602 414.8,603.5 414.9,604.9 414.9,606.3 415,607.7 415,608.8 415.1,609.8 415.1,609.9 415.1,610.6 415.2,611.6 415.3,612.6 415.3,613.3 415.4,614.4 415.4,615 415.5,615.8 415.5,616.9 415.6,617.8 415.6,618.6 415.7,618.9 415.8,620.1 415.8,620.1 415.9,621 415.9,621.7 416,622 416,622.5 416.1,622.7 416.2,623.6 416.2,623.7 416.3,624.4 416.3,624.3 416.4,624.3 416.4,625.1 416.5,625.2 416.5,624.2 416.6,624.3 416.6,624.3 416.7,624.8 416.7,624.9 416.8,624.8 416.8,624.2 416.9,624.5 417,624.4 417,623.8 417.1,623.1 417.1,622.8 417.2,623.3 417.2,622.9 417.3,622.9 417.4,622.6 417.4,622.6 417.5,622.5 417.5,622.2 417.6,621.8 417.6,621.2 417.7,621.8 417.8,621.1 417.8,620.9 417.9,620.1 417.9,619.2 418,619.4 418,619.4 418.1,618.6 418.1,617.9 418.2,618.2 418.3,618.1 418.3,617.6 418.4,616.5 418.4,616.6 418.5,615.2 418.5,615.6 418.6,614.5 418.7,614.2 418.7,613.2 418.8,612.8 418.8,612.2 418.9,611.6 418.9,611.4 419,610.7 419.1,610.4 419.1,609.8 419.2,609.2 419.2,608.8 419.3,608.4 419.3,607.8 419.4,607.2 419.5,606.7 419.5,606.1 419.6,605.2 419.6,604.6 419.7,604.2 419.7,603.5 419.8,603.1 419.9,602.6 419.9,601.7 420,601.2 420,601 420.1,599.7 420.1,599.5 420.2,599.2 420.3,598.2 420.3,597.8 420.4,597.3 420.4,596.4 420.5,595.9 420.5,595.3 420.6,594.7 420.6,594.1 420.7,593.5 420.8,593.2 420.8,592.1 420.9,591.6 420.9,591 421,590.2 421,589.8 421.1,589.1 421.2,588.3 421.2,588 421.3,587.5 421.3,587 421.4,585.6 421.4,585.5 421.5,584.4 421.6,584.2 421.6,583.5 421.7,583 421.7,582.5 421.8,581.8 421.8,580.8 421.9,580.7 422,580.1 422,579.4 422.1,579 422.1,578.4 422.2,577.9 422.2,577 422.3,576.5 422.4,576.6 422.4,575.5 422.5,575.1 422.5,574.6 422.6,574.3 422.6,573.5 422.7,573 422.8,572.8 422.8,572.3 422.9,571.8 422.9,571.4 423,570.9 423,570.2 423.1,569.6 423.1,569.6 423.2,568.9 423.3,568.4 423.3,567.7 423.4,568.1 423.4,567.3 423.5,567.1 423.5,566.8 423.6,566.5 423.7,565.6 423.7,565.5 423.8,565.6 423.8,565.2 423.9,565 423.9,564.8 424,564.3 424.1,564.5 424.1,563.9 424.2,564.4 424.2,563.6 424.3,563.4 424.3,563.5 424.4,562.8 424.5,562.7 424.5,562.8 424.6,562.1 424.6,562.5 424.7,562.4 424.7,562.4 424.8,561.5 424.9,561.5 424.9,562.8 425,562.2 425,561.7 425,561.4 425.1,561.5 425.1,561.7 425.2,561.2 425.3,562.1 425.3,561.9 425.4,561.9 425.4,561.9 425.5,562.4 425.5,562.2 425.6,561.9 425.6,561.8 425.7,561.9 425.8,562.1 425.8,562.5 425.9,562.3 425.9,562.7 426,562.8 426,562.9 426.1,563.4 426.2,563.1 426.2,563.1 426.3,564.2 426.3,564.1 426.4,564.4 426.4,564.2 426.5,564.9 426.6,565 426.6,565.4 426.7,566.1 426.7,566.4 426.7,566.3 426.8,566.7 426.8,567.8 426.9,569.6 427,572 427,574.8 427.1,578 427.1,581.5 427.2,585.4 427.2,589.5 427.3,593.8 427.4,598.2 427.4,602.8 427.5,607.1 427.5,611.5 427.6,615.7 427.6,619.7 427.7,623.4 427.8,626.7 427.8,629.6 427.9,632.1 427.9,634.1 428,635.5 428,636.4 428.1,636.5 428.1,636.5 428.1,635.9 428.2,634.5 428.3,632.6 428.3,630.2 428.4,627.4 428.4,624 428.5,620.2 428.5,616.2 428.6,611.8 428.7,607.2 428.7,602.3 428.8,597.2 428.8,592.1 428.9,587 428.9,581.7 429,576.6 429.1,571.4 429.1,566.5 429.2,561.7 429.2,557.1 429.3,552.7 429.3,548.8 429.4,545.1 429.5,542.1 429.5,539.3 429.6,537.1 429.6,535.5 429.7,534.4 429.7,534.2 429.7,534.3 429.8,534.6 429.9,535 429.9,534.5 430,534.3 430,534.7 430.1,534.5 430.1,535.1 430.2,535.2 430.3,535.5 430.3,535.1 430.4,536.1 430.4,536.2 430.5,536 430.5,536.2 430.6,536.5 430.6,536.2 430.7,537.3 430.8,537.5 430.8,537.8 430.8,538 430.9,538.2 430.9,539.1 431,540.3 431,541.1 431.1,542.4 431.2,543.2 431.2,544.6 431.3,545.8 431.3,547.2 431.4,548.5 431.4,550.1 431.5,551.3 431.6,552.8 431.6,554.2 431.7,555.5 431.7,556.8 431.8,558.3 431.8,559.6 431.9,560.5 431.9,561.5 432,561.7 432,562.7 432.1,563.5 432.1,564.5 432.2,565.6 432.2,566.4 432.3,567.5 432.4,568.3 432.4,569.1 432.5,570.1 432.5,570.7 432.6,571.9 432.6,572.3 432.7,573.3 432.8,573.9 432.8,574.9 432.9,575.7 432.9,576.6 433,577.7 433,578 433.1,579 433.1,580 433.1,579.7 433.2,580.5 433.3,581.6 433.3,582.6 433.4,583.1 433.4,583.9 433.5,584.7 433.5,585.7 433.6,586.6 433.7,587.3 433.7,588 433.8,588.9 433.8,590 433.9,590.8 433.9,591.7 434,592.7 434.1,593.9 434.1,594.1 434.2,595 434.2,595.7 434.3,596.4 434.3,597 434.4,597.5 434.4,597.7 434.5,598.5 434.5,599.4 434.6,600.3 434.6,600.7 434.7,601.7 434.7,602.4 434.8,603.1 434.9,603.8 434.9,604.5 435,605.3 435,606.2 435.1,606.8 435.1,607.9 435.2,608.4 435.3,609.2 435.3,609.8 435.4,610.1 435.4,611 435.5,611.8 435.5,612.2 435.6,612.2 435.6,612.7 435.7,613.1 435.8,612.6 435.8,612.4 435.9,613.5 435.9,613.7 435.9,613.2 436,613.5 436,613 436.1,612.9 436.2,613.1 436.2,613.1 436.3,613.5 436.3,612.7 436.4,612.6 436.4,613.5 436.5,613.1 436.6,612.5 436.6,612.6 436.7,612.1 436.7,612.8 436.8,612.5 436.8,612.2 436.9,612 437,611.6 437,611.4 437.1,611 437.1,611.3 437.2,611.3 437.2,610.7 437.3,610.7 437.4,611.1 437.4,610.8 437.5,610.2 437.5,609.8 437.6,610.3 437.6,609.1 437.7,609.3 437.8,609.3 437.8,608.8 437.9,609 437.9,609.2 438,608.7 438,608.1 438.1,607.8 438.1,608.1 438.2,607.8 438.3,607.6 438.3,607.9 438.4,607.4 438.4,607.2 438.5,606.4 438.5,606.8 438.6,606 438.7,605.9 438.7,605.7 438.8,605.9 438.8,604.7 438.9,604.2 438.9,605.1 439,604.4 439.1,604.8 439.1,603.9 439.2,603.5 439.2,603.2 439.3,603.3 439.3,602 439.4,602 439.5,602.4 439.5,601.8 439.6,601.3 439.6,600.9 439.7,600.1 439.7,600.6 439.8,600.1 439.9,599.8 439.9,599.4 440,599 440,598.5 440.1,597.7 440.1,597.5 440.2,597.5 440.3,597.8 440.3,597.3 440.4,597 440.4,596.5 440.5,596.5 440.5,596.1 440.6,595.3 440.6,594.8 440.7,594.8 440.8,594 440.8,594.9 440.9,593.7 440.9,593.5 441,592.8 441,592.8 441.1,592.2 441.2,591.9 441.2,591.8 441.3,591.1 441.3,591.2 441.4,591.1 441.4,590.6 441.5,590.2 441.6,590 441.6,589.8 441.7,589.8 441.7,589.2 441.8,588.5 441.8,588.2 441.9,587.8 442,587.9 442,587.5 442.1,586.9 442.1,587.1 442.2,585.6 442.2,586.5 442.3,585.6 442.4,585.1 442.4,585.6 442.5,585.9 442.5,585.3 442.6,585.4 442.6,585.1 442.7,583.5 442.8,583.6 442.8,583.5 442.9,583.8 442.9,583.3 443,583.1 443,582.8 443.1,582.5 443.1,581.8 443.2,581.8 443.3,581.7 443.3,581.6 443.4,581.9 443.4,581 443.5,580.9 443.5,580.1 443.6,581.2 443.7,580.6 443.7,579.9 443.8,579.6 443.8,579.4 443.9,579.4 443.9,579.4 444,579 444.1,578.1 444.1,578.2 444.2,578.9 444.2,578.3 444.3,578.5 444.3,578.1 444.4,577.2 444.5,576.9 444.5,577.5 444.6,576.9 444.6,577.5 444.7,576.7 444.7,577.2 444.8,577 444.9,577.2 444.9,577 445,576 445,576.6 445.1,576.3 445.1,576.6 445.2,576.5 445.3,576.4 445.3,576.6 445.4,576 445.4,576.7 445.5,576 445.5,575.8 445.5,576.1 445.6,576.8 445.6,575.6 445.7,576.7 445.8,576.4 445.8,576.4 445.9,576.6 445.9,576.7 446,576.4 446,576.3 446.1,576.2 446.2,576.9 446.2,575.7 446.3,576.1 446.3,576.2 446.4,576.2 446.4,576 446.5,576 446.6,576.2 446.6,576.6 446.7,575.9 446.7,576.4 446.8,576.6 446.8,576.9 446.9,576.7 447,576.6 447,576.7 447.1,576.2 447.1,576.7 447.2,576.9 447.2,576.7 447.3,577.6 447.4,576.8 447.4,577.3 447.5,577.6 447.5,577.2 447.6,577.9 447.6,577.4 447.7,578 447.8,578.3 447.8,578 447.9,577.6 447.9,578.2 448,577.7 448,578 448.1,578.1 448.1,577.8 448.2,578.2 448.3,577.2 448.3,578.5 448.4,578.8 448.4,579.1 448.5,578.8 448.5,578.3 448.6,579 448.7,579.1 448.7,578.4 448.8,578.7 448.8,579.1 448.9,579.6 448.9,579.3 449,579.2 449.1,579.3 449.1,579.4 449.2,579.4 449.2,579.5 449.3,579.3 449.3,579.2 449.4,579.4 449.5,580 449.5,579.5 449.6,579.7 449.6,579.8 449.7,580.1 449.7,580.2 449.8,581 449.9,580.5 449.9,580.7 450,581.1 450,579.8 450.1,581.1 450.1,581.4 450.2,580.9 450.3,581.3 450.3,581.6 450.4,581.3 450.4,581.3 450.5,581.5 450.5,581.5 450.6,582.1 450.6,582.4 450.7,581.6 450.8,582.7 450.8,582.2 450.9,582.6 450.9,583 451,582.5 451,582.4 451.1,583.7 451.2,583.3 451.2,583 451.3,583.7 451.3,582.9 451.4,583.8 451.4,582.5 451.5,583.5 451.6,583.2 451.6,583.9 451.7,582.9 451.7,583.7 451.8,583.9 451.8,583.6 451.9,583.9 452,585 452,584.2 452.1,584 452.1,584.4 452.2,584.1 452.2,584.3 452.3,583.9 452.4,584.5 452.4,583.8 452.5,584.7 452.5,584.6 452.6,584.9 452.6,585.3 452.7,584.9 452.8,585.3 452.8,584.8 452.9,585.2 452.9,584.9 453,585 453,585.5 453.1,585.5 453.1,584.5 453.2,585.2 453.3,585.6 453.3,585.2 453.4,586.2 453.4,586.5 453.5,585.6 453.5,586.3 453.6,586.9 453.7,586.6 453.7,586.3 453.8,586.9 453.8,586.5 453.9,586.3 453.9,586.4 454,586.3 454.1,587.3 454.1,585.9 454.2,587.7 454.2,587.1 454.3,587.3 454.3,586.5 454.4,586.8 454.5,586.2 454.5,586.3 454.6,586.4 454.6,586.7 454.7,586.7 454.7,586.9 454.8,586.4 454.9,586.6 454.9,586.5 455,586.9 455,587.2 455.1,586.9 455.1,587.3 455.2,587.2 455.3,587.4 455.3,586.8 455.4,586.9 455.4,587.2 455.5,586.1 455.5,586.7 455.6,587 455.6,587.4 455.6,587.3 455.7,587 455.8,587.6 455.8,587.3 455.9,586.9 455.9,586.8 456,587.6 456,586.7 456.1,587 456.2,587.7 456.2,587.9 456.3,587.1 456.3,587 456.4,587.5 456.4,587.2 456.5,586.1 456.6,587.3 456.6,586.7 456.7,587.4 456.7,587.8 456.8,587.7 456.8,588 456.9,587 457,587.2 457,587.2 457.1,587.2 457.1,587.7 457.2,587.3 457.2,587.6 457.3,587.6 457.4,587.8 457.4,588 457.5,587.4 457.5,587.7 457.6,587.8 457.6,587 457.7,587.3 457.8,587.3 457.8,587.6 457.9,587.6 457.9,587.1 458,587.8 458,587 458.1,587.2 458.1,588.1 458.2,587.8 458.3,587.4 458.3,588 458.4,588.3 458.4,587.5 458.5,587 458.5,588.2 458.6,587.1 458.7,588.1 458.7,588 458.8,587.5 458.8,587.8 458.9,588 458.9,587.8 459,588.4 459.1,587.1 459.1,587.9 459.2,588.1 459.2,588.1 459.3,587.4 459.3,587.6 459.4,588.5 459.5,587.9 459.5,588.1 459.6,587.3 459.6,587.6 459.7,587.1 459.7,587.1 459.8,586.9 459.9,587.4 459.9,587.4 460,587.1 460,586.7 460.1,587.2 460.1,587.3 460.2,586.7 460.3,587.8 460.3,586.5 460.4,587.1 460.4,586.9 460.5,586.7 460.5,587.5 460.6,586.9 460.6,586.5 460.7,587 460.8,586.7 460.8,587.2 460.9,586.7 460.9,586.9 461,587.1 461,587.4 461.1,586.7 461.2,587.2 461.2,586.7 461.3,586.2 461.3,586.9 461.4,586.5 461.4,587.1 461.5,586.5 461.6,587.6 461.6,586.8 461.7,587.3 461.7,587.3 461.8,587.3 461.8,586.2 461.9,587.3 462,586.3 462,586.9 462.1,587.2 462.1,586.9 462.2,586.8 462.2,586.6 462.3,586.3 462.4,587.3 462.4,586.5 462.5,586.6 462.5,586.5 462.6,586.9 462.6,585.9 462.6,586.3 462.7,586.6 462.8,586 462.8,585.8 462.9,585.5 462.9,584.8 463,585 463,583.6 463.1,584 463.1,583.5 463.2,583.1 463.3,582.7 463.3,583.2 463.4,582.5 463.4,582.4 463.4,582.6 463.5,583.5 463.5,585 463.6,587.2 463.7,588.8 463.7,589.4 463.7,589.4 463.8,589.5 463.8,589.2 463.9,588.8 463.9,588.2 464,587.4 464.1,586.3 464.1,586.9 464.1,587.3 464.2,586.1 464.2,586.8 464.3,586.4 464.3,586.7 464.4,586.8 464.5,586.8 464.5,586.8 464.5,591 464.6,601 464.6,613.9 464.7,626.8 464.7,637 464.8,641.4 464.8,641.4 464.9,637.4 464.9,626 465,610.6 465,594.9 465.1,582.2 465.1,575.8 465.1,575.7 465.2,580.1 465.3,594.4 465.3,612.9 465.4,629.5 465.4,638.1 465.4,638.4 465.5,636.9 465.5,631.5 465.6,622.9 465.6,611.9 465.7,599.3 465.8,585.8 465.8,572.2 465.9,559.5 465.9,548.3 466,539.7 466,534 466.1,532.4 466.1,532.5 466.2,537.2 466.2,545.3 466.3,552.5 466.3,554.6 466.3,554.3 466.4,549.8 466.4,542.9 466.5,537.1 466.5,535.9 466.6,536.1 466.6,538.3 466.7,541.7 466.7,544.8 466.8,546.2 466.8,546.2 466.8,545.5 466.9,543.6 467,541.9 467,540.3 467,540.1 467.1,540.1 467.1,540 467.2,540.6 467.2,540.4 467.3,539.6 467.4,541 467.4,540.7 467.5,540.9 467.5,541 467.6,541.7 467.6,542.6 467.7,542.8 467.8,542.9 467.8,543.4 467.9,544.4 467.9,545 468,545.3 468,546.3 468.1,546.5 468.1,547.6 468.2,548.2 468.3,548.7 468.3,549.6 468.4,550.6 468.4,551 468.5,552.2 468.5,553.1 468.6,553.8 468.7,554.9 468.7,555.8 468.8,557 468.8,557.9 468.9,558.9 468.9,559.8 469,560.9 469.1,562.1 469.1,563.1 469.2,564.2 469.2,565.2 469.3,566.3 469.3,567.4 469.4,568.4 469.5,569.5 469.5,570.6 469.6,571.9 469.6,572.7 469.7,574 469.7,575.3 469.8,576.3 469.9,577.6 469.9,578.6 470,579.6 470,580.6 470.1,582 470.1,583.2 470.2,584.2 470.3,585.4 470.3,586.5 470.4,587.5 470.4,588.3 470.5,589.5 470.5,590.4 470.6,591.4 470.6,592.5 470.7,593.5 470.8,594.2 470.8,595.1 470.9,596.1 470.9,596.9 471,598.1 471,598.6 471.1,599.6 471.2,600.3 471.2,600.9 471.3,601.9 471.3,602.4 471.4,603.5 471.4,603.9 471.5,604.6 471.6,605.1 471.6,605.4 471.7,606.1 471.7,606.6 471.8,607.3 471.8,607.4 471.9,608.3 472,607.9 472,609 472.1,609.1 472.1,609.5 472.2,609.1 472.2,609.8 472.3,609.1 472.3,609.1 472.4,609.8 472.4,608.8 472.5,609.1 472.5,609.6 472.6,609.6 472.6,609.4 472.7,609.1 472.8,609.1 472.8,609.5 472.9,608.8 472.9,609.1 473,608.8 473,609 473.1,608.5 473.1,608.3 473.2,608.2 473.3,608.8 473.3,608.4 473.4,608.1 473.4,608.6 473.5,608.6 473.5,607.8 473.6,608.3 473.7,607.8 473.7,607.8 473.8,606.9 473.8,607 473.9,607 473.9,606.7 474,606.8 474.1,607 474.1,605.8 474.2,606.6 474.2,605 474.3,606.3 474.3,605.7 474.4,606.4 474.5,605.6 474.5,605.6 474.6,605.6 474.6,605.4 474.7,605.3 474.7,604.8 474.8,604.1 474.9,604.8 474.9,604.9 475,604.3 475,603.9 475.1,603.9 475.1,603.3 475.2,603.4 475.3,602.6 475.3,602.7 475.4,602.4 475.4,602.4 475.5,602 475.5,602 475.6,601.4 475.6,601.5 475.7,601.7 475.8,600.6 475.8,600.9 475.9,600.2 475.9,600.2 476,599.5 476,599.8 476.1,599.5 476.2,599.1 476.2,599.2 476.3,598.5 476.3,598 476.4,598.1 476.4,597.8 476.5,597.5 476.6,596.9 476.6,596.7 476.7,596.2 476.7,596.4 476.8,595.5 476.8,595.7 476.9,595.2 477,595.3 477,595.3 477.1,594.3 477.1,594.6 477.2,593.4 477.2,593.9 477.3,593.5 477.4,593.2 477.4,592.4 477.5,592.5 477.5,592.2 477.6,591.5 477.6,591.7 477.7,591 477.8,590.3 477.8,590.9 477.9,590.9 477.9,589.7 478,589.7 478,590.3 478.1,589.4 478.1,589.8 478.2,588.7 478.3,588.3 478.3,588.7 478.4,587.8 478.4,587.7 478.5,587.3 478.5,587 478.6,587.2 478.7,586.6 478.7,586.6 478.8,586.2 478.8,586.5 478.9,586.8 478.9,585 479,586 479.1,585.7 479.1,585.8 479.2,584.5 479.2,585.3 479.3,585.2 479.3,584.6 479.4,584.1 479.5,584 479.5,584.5 479.6,583.1 479.6,582.8 479.7,583 479.7,583.1 479.8,582.8 479.9,581.8 479.9,582.8 480,582.2 480,582.3 480.1,582.3 480.1,582 480.2,581.9 480.3,580.9 480.3,581.3 480.4,581.7 480.4,581.7 480.5,581.3 480.5,580.6 480.6,580.8 480.6,580.6 480.7,580.3 480.8,580.7 480.8,580.1 480.9,580.3 480.9,579.9 481,580.1 481,579.4 481.1,580.2 481.2,579.8 481.2,580.2 481.3,579.7 481.3,579.6 481.4,580.4 481.4,580.2 481.5,579.9 481.6,579.7 481.6,578.7 481.7,579.3 481.7,579.3 481.8,579.1 481.8,579.1 481.9,578.8 481.9,579.2 482,579.5 482,579.1 482.1,578.9 482.1,579.2 482.2,579.6 482.2,579.2 482.3,579.3 482.4,579.5 482.4,578.7 482.5,579.5 482.5,579.4 482.6,579.5 482.6,579.3 482.7,579 482.8,579.7 482.8,579.3 482.9,579.4 482.9,579.6 483,578.4 483,579.5 483.1,579.4 483.1,580.3 483.2,578.7 483.3,579.6 483.3,579.6 483.4,579.2 483.4,579.8 483.5,579.7 483.5,580.3 483.6,580.1 483.7,580 483.7,579.5 483.8,579.3 483.8,580.5 483.9,579.7 483.9,579.9 484,580.3 484.1,580.4 484.1,580.5 484.2,580.7 484.2,579.9 484.3,581.2 484.3,580.7 484.4,580.4 484.5,580.7 484.5,580.9 484.6,580.7 484.6,581 484.7,580.9 484.7,581 484.8,581.5 484.9,581.5 484.9,581.6 485,582.4 485,582.1 485.1,581.8 485.1,582.3 485.2,582.2 485.3,582.3 485.3,582.5 485.4,583.2 485.4,582.9 485.5,582.6 485.5,583.7 485.6,584 485.6,583.3 485.7,583.3 485.8,583.2 485.8,583 485.9,583.7 485.9,583.5 486,583.5 486,583.6 486.1,584.2 486.2,584.1 486.2,584 486.3,583.8 486.3,584.1 486.4,584.7 486.4,584 486.5,583.8 486.6,583.6 486.6,584.6 486.7,584.5 486.7,584.4 486.8,585.1 486.8,585.1 486.9,585.3 487,584.6 487,584.8 487.1,585.2 487.1,585.6 487.2,585.3 487.2,584.8 487.3,585.3 487.4,585.1 487.4,585.6 487.5,585.1 487.5,586 487.6,586 487.6,585.9 487.7,586.2 487.8,586.1 487.8,586 487.9,586.3 487.9,585.5 488,586 488,586.5 488.1,586.6 488.1,586.4 488.2,587 488.3,586.2 488.3,586.3 488.4,587 488.4,586.5 488.5,587.2 488.5,587 488.6,587 488.7,587.8 488.7,586.9 488.8,586.9 488.8,588 488.9,586.4 488.9,587.7 489,586.9 489.1,586.2 489.1,586.7 489.2,587.6 489.2,585.8 489.3,585.9 489.3,587.2 489.4,586.9 489.5,586.6 489.5,588.4 489.6,587 489.6,586.9 489.7,588.3 489.7,586.7 489.8,587.8 489.9,587.6 489.9,586.4 490,587.4 490,586.6 490,587 490.1,586.8 490.1,587.5 490.2,587.2 490.3,587.7 490.3,587.1 490.4,586.6 490.4,587 490.5,587.5 490.5,587.3 490.6,586.6 490.6,587.1 490.7,586 490.8,586.4 490.8,586.1 490.9,586.7 490.9,587.3 491,585.9 491,586.3 491.1,586.9 491.2,587.2 491.2,586.6 491.3,586.9 491.3,587.4 491.4,587 491.4,586.3 491.5,586.8 491.6,586.7 491.6,586.6 491.7,586.4 491.7,586.7 491.8,587.4 491.8,586.9 491.9,586.4 492,586.9 492,585.7 492.1,585.9 492.1,586.6 492.2,586.7 492.2,586.4 492.3,586.1 492.4,586.3 492.4,586.1 492.5,586 492.5,586 492.6,586.1 492.6,586 492.7,584.9 492.8,586.9 492.8,586.9 492.9,586.8 492.9,586 493,585.8 493,586.1 493.1,586.1 493.1,585.7 493.2,586.4 493.3,586.6 493.3,585.6 493.4,586.1 493.4,586.5 493.5,585.5 493.5,586 493.6,585.4 493.7,587 493.7,585.7 493.8,586.8 493.8,586.5 493.9,586.1 493.9,586.2 494,586 494.1,585.3 494.1,586.2 494.2,586.3 494.2,587.3 494.3,586.4 494.3,586 494.4,586.1 494.5,585.4 494.5,586.3 494.6,586.8 494.6,586.2 494.7,586.3 494.7,586.1 494.8,586.5 494.9,585.7 494.9,586.4 495,586.8 495,586.8 495.1,586.3 495.1,587.5 495.2,587.3 495.3,586.4 495.3,586.6 495.4,586 495.4,586.9 495.5,586.7 495.5,586.1 495.6,587.2 495.6,586.3 495.7,586.5 495.8,586.3 495.8,586 495.9,586.3 495.9,586.3 496,585.7 496,585.6 496.1,586.1 496.2,586.8 496.2,584.8 496.3,586.2 496.3,585.8 496.4,584.9 496.4,585.4 496.5,586.7 496.6,585.4 496.6,585.7 496.7,586.8 496.7,585.9 496.8,586.5 496.8,585.4 496.9,585.6 497,585.3 497,585.7 497.1,584.6 497.1,585.9 497.2,586.5 497.2,586.3 497.3,586.3 497.4,586.5 497.4,585.1 497.5,586.2 497.5,585.6 497.6,585.4 497.6,585.7 497.7,585.5 497.8,586.3 497.8,585.5 497.9,585.7 497.9,585.9 498,585.2 498,586.7 498.1,585.9 498.1,585.7 498.2,586.4 498.2,585.8 498.3,585.6 498.3,586.1 498.4,585.1 498.4,585.8 498.5,585.1 498.5,586.4 498.6,586.7 498.7,585.8 498.7,586.4 498.8,585.6 498.8,585.7 498.9,583.8 498.9,584.3 499,586.2 499.1,584.7 499.1,585.2 499.2,585 499.2,585.2 499.3,586.1 499.3,585.3 499.4,585.7 499.5,585.5 499.5,584.7 499.6,585.3 499.6,586.4 499.7,586.2 499.7,584.8 499.8,585.5 499.9,585.5 499.9,584.9 500,585.1 500,585.4 500.1,585.1 500.1,584.5 500.2,584.6 500.3,585.2 500.3,585.2 500.4,584.9 500.4,584.9 500.5,585.3 500.5,585.8 500.6,585.6 500.6,585.1 500.7,585.5 500.8,585.2 500.8,585.5 500.9,586 500.9,585.6 501,586.2 501,585.8 501.1,585.5 501.2,585.6 501.2,585.7 501.3,586.1 501.3,585.3 501.4,585.6 501.4,585.9 501.5,586 501.6,584.9 501.6,586.3 501.7,586.2 501.7,585.9 501.8,585.8 501.8,585 501.9,584.9 502,585 502,585.8 502.1,585.5 502.1,585.1 502.2,585.4 502.2,585.3 502.3,586.7 502.4,584.6 502.4,585.7 502.5,585.3 502.5,585.2 502.6,586 502.6,585.6 502.7,585.9 502.8,585.6 502.8,585.4 502.9,586.5 502.9,586.1 503,584.9 503,586.9 503.1,585.4 503.1,586.4 503.2,586 503.3,585.5 503.3,586.3 503.4,585.4 503.4,586.2 503.5,585.5 503.5,585.7 503.6,585.7 503.7,586.3 503.7,586 503.8,585.3 503.8,585.8 503.9,586.2 503.9,585.7 504,585.8 504.1,586 504.1,586.4 504.2,585.9 504.2,585.8 504.3,586.5 504.3,586.5 504.4,586.5 504.5,585.5 504.5,586.2 504.6,585.5 504.6,586.2 504.7,585.5 504.7,585.5 504.8,585.7 504.9,585.7 504.9,585.5 505,585.9 505,585.6 505.1,585.8 505.1,586.1 505.2,586.5 505.3,585.6 505.3,586 505.4,585.9 505.4,585.4 505.5,586.2 505.5,585.8 505.6,586 505.6,585.2 505.7,585.1 505.8,585 505.8,585 505.9,585.8 505.9,585.4 506,586.4 506,586.1 506.1,586.2 506.2,586.6 506.2,586.2 506.3,585.1 506.3,586.1 506.4,585.9 506.4,586.3 506.5,585.4 506.6,584.9 506.6,585.8 506.7,586.4 506.7,585.2 506.8,585.4 506.8,585.1 506.9,584.6 507,585.4 507,585.3 507.1,585.8 507.1,585.7 507.2,586.7 507.2,585.5 507.3,585.3 507.4,585.5 507.4,585.9 507.5,584.7 507.5,584.8 507.6,585.9 507.6,585.5 507.7,584.5 507.8,586.6 507.8,585.1 507.9,585.9 507.9,585.7 508,586 508,584.9 508.1,585 508.1,585.4 508.2,585.3 508.3,585.7 508.3,585 508.4,585.9 508.4,585.1 508.5,585.7 508.5,585.3 508.6,586.1 508.7,586.4 508.7,585.7 508.8,585.6 508.8,585 508.9,584.8 508.9,584.5 509,585.5 509.1,585.1 509.1,585.3 509.2,584.9 509.2,585.6 509.3,585.9 509.3,584.7 509.4,585.1 509.5,585.9 509.5,585.1 509.6,585.7 509.6,585.8 509.7,584.8 509.7,585.3 509.8,585.6 509.9,585.7 509.9,586.1 510,585.9 510,585.9 510.1,584.4 510.1,585 510.2,586 510.3,585.4 510.3,586.1 510.4,585 510.4,585.5 510.5,585.2 510.5,584.9 510.6,585.3 510.6,586.1 510.7,585.4 510.8,585.5 510.8,585 510.8,585.3 510.9,586.3 510.9,585.8 511,585.1 511,585.8 511.1,586.6 511.2,586.6 511.2,586.6 511.3,585.2 511.3,585.2 511.4,585 511.4,585.1 511.5,585.2 511.6,586 511.6,585.3 511.7,585 511.7,585.2 511.8,586.8 511.8,584.4 511.9,585.6 512,586.4 512,585.3 512.1,584.8 512.1,586 512.2,585.9 512.2,585.3 512.3,584.9 512.4,585.7 512.4,585.8 512.5,585.6 512.5,584.8 512.6,586.2 512.6,585.8 512.7,585.4 512.8,584.9 512.8,586.1 512.9,585.4 512.9,585.2 513,584.4 513,585 513.1,586.4 513.1,586.2 513.2,585.5 513.3,585.7 513.3,584.6 513.4,584.7 513.4,586 513.5,585.7 513.5,586.2 513.6,585.8 513.7,585.9 513.7,586.5 513.8,586.5 513.8,584.7 513.9,585.9 513.9,584.8 514,586.6 514.1,586.3 514.1,585 514.2,585.6 514.2,585.8 514.3,586 514.3,586.4 514.4,585.7 514.5,584.6 514.5,585 514.6,585.8 514.6,585.8 514.7,585.5 514.7,586.2 514.8,585.1 514.9,584.9 514.9,586.8 515,585.8 515,585.8 515.1,586.5 515.1,585.7 515.2,584.7 515.3,584.9 515.3,586.1 515.4,585.9 515.4,585.8 515.5,584.9 515.5,585.2 515.6,585.4 515.6,586.3 515.7,585.1 515.8,586.1 515.8,586.1 515.9,585.3 515.9,587 516,585.8 516,585.8 516.1,585.5 516.2,584.8 516.2,586.2 516.3,586 516.3,586.2 516.4,585.9 516.4,585.2 516.5,585.1 516.6,586.4 516.6,585.4 516.7,585.2 516.7,585.8 516.8,586 516.8,586.3 516.9,584.8 517,585.1 517,585.7 517.1,586.4 517.1,586.1 517.2,585.2 517.2,586.6 517.3,586.6 517.4,585.2 517.4,585.7 517.5,585.7 517.5,586.1 517.6,585.5 517.6,586.1 517.7,585.8 517.8,587 517.8,586.7 517.9,585.6 517.9,586 518,585.6 518,585.5 518.1,586.4 518.1,586 518.2,586.5 518.3,585.6 518.3,585.8 518.4,586.2 518.4,585.5 518.5,586 518.5,586.4 518.6,587.5 518.7,586.5 518.7,586.8 518.8,585.7 518.8,586.5 518.9,586.4 518.9,585.1 519,585.5 519.1,585.9 519.1,586.1 519.2,586.1 519.2,585.9 519.3,585 519.3,585.9 519.4,585.9 519.5,585.7 519.5,584.9 519.6,585.8 519.6,585.2 519.7,585.3 519.7,585.6 519.8,585.6 519.9,585.4 519.9,585.4 520,585.4 520,585.8 520.1,585.6 520.1,585 520.2,585 520.3,585.4 520.3,585 520.4,586.1 520.4,584.6 520.5,586 520.5,585.3 520.6,585.9 520.6,585 520.7,586.3 520.8,586.3 520.8,584.8 520.9,585.3 520.9,584.7 521,586.1 521,584.9 521.1,586.5 521.2,586.2 521.2,586 521.3,585.1 521.3,585.9 521.4,586.7 521.4,585.8 521.5,585.7 521.6,585.5 521.6,585.4 521.7,586.4 521.7,586.2 521.8,585.5 521.8,585.5 521.9,585.4 522,585.9 522,585 522.1,585.3 522.1,585.9 522.2,584.9 522.2,585.4 522.3,585.8 522.4,585 522.4,585.3 522.5,585 522.5,586.4 522.6,586.4 522.6,585.7 522.7,585.4 522.8,584.5 522.8,585.7 522.9,586.2 522.9,585.6 523,585.5 523,584.7 523.1,585.1 523.1,585.1 523.2,585.4 523.3,585 523.3,585 523.4,584.1 523.4,584.5 523.5,584.8 523.5,584.9 523.6,586.3 523.7,586.5 523.7,584.9 523.8,585.2 523.8,585.6 523.9,584.2 523.9,585.8 524,585.4 524.1,586.1 524.1,584.9 524.2,585.5 524.2,586.2 524.3,586.4 524.3,585.6 524.4,586.2 524.5,586 524.5,585.7 524.6,586.2 524.6,586 524.7,585.4 524.7,586.6 524.8,585.4 524.9,585.8 524.9,587.2 525,585.8 525,585.6 525.1,585.5 525.1,585.9 525.2,585 525.3,584.9 525.3,585.6 525.4,585.9 525.4,585.7 525.5,586.5 525.5,586.6 525.6,585.7 525.6,586 525.7,586 525.8,586 525.8,584.6 525.9,586.2 525.9,586.2 526,585.8"/>
<rect class="ax" x="321.5" y="525.2" width="220.90" height="121.05"/>
<path class="tc" d="M353.06,646.25v-1.9M353.06,525.2v1.9M384.61,646.25v-1.9M384.61,525.2v1.9M416.17,646.25v-1.9M416.17,525.2v1.9M447.73,646.25v-1.9M447.73,525.2v1.9M479.29,646.25v-1.9M479.29,525.2v1.9M510.84,646.25v-1.9M510.84,525.2v1.9M321.5,585.73h1.9M542.4,585.73h-1.9"/>
<text class="tk" x="321.5" y="659" text-anchor="middle">0</text>
<text class="tk" x="353.1" y="659" text-anchor="middle">1</text>
<text class="tk" x="384.6" y="659" text-anchor="middle">2</text>
<text class="tk" x="416.2" y="659" text-anchor="middle">3</text>
<text class="tk" x="447.7" y="659" text-anchor="middle">4</text>
<text class="tk" x="479.3" y="659" text-anchor="middle">5</text>
<text class="tk" x="510.8" y="659" text-anchor="middle">6</text>
<text class="tk" x="542.4" y="659" text-anchor="middle">7</text>
<text class="tk" x="318.1" y="529" text-anchor="end">5</text>
<text class="tk" x="318.1" y="589" text-anchor="end">0</text>
<text class="tk" x="318.1" y="651" text-anchor="end">-5</text>
<text class="lb" x="432.3" y="672" text-anchor="middle">Time(s)</text>
<text class="lb" transform="translate(305.6,585.4) rotate(-90)" text-anchor="middle">Amplitude(mV)</text>
<text class="pl" x="296.0" y="537">H</text>
</g>
</svg></body></html>
